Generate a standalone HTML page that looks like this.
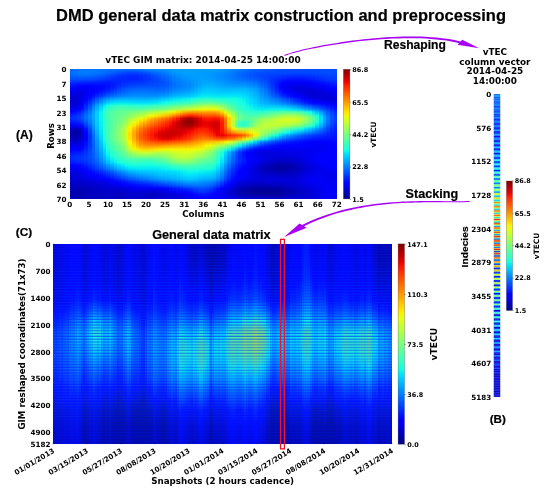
<!DOCTYPE html><html><head><meta charset="utf-8"><title>DMD general data matrix</title>
<style>html,body{margin:0;padding:0;background:#fff}svg{display:block}.d{font-family:"DejaVu Sans","Liberation Sans",sans-serif;font-weight:bold;fill:#000}.m{font-family:"Liberation Sans","DejaVu Sans",sans-serif;font-weight:bold;fill:#000;stroke:#000;stroke-width:.2px}</style></head><body>
<svg width="550" height="493" viewBox="0 0 550 493">
<rect width="550" height="493" fill="#fff"/>
<defs><linearGradient id="jet" x1="0" y1="0" x2="0" y2="1"><stop offset="0.000" stop-color="#800000"/><stop offset="0.031" stop-color="#a40000"/><stop offset="0.062" stop-color="#c80000"/><stop offset="0.094" stop-color="#ec0400"/><stop offset="0.125" stop-color="#ff2100"/><stop offset="0.156" stop-color="#ff3f00"/><stop offset="0.188" stop-color="#ff5c00"/><stop offset="0.219" stop-color="#ff7a00"/><stop offset="0.250" stop-color="#ff9700"/><stop offset="0.281" stop-color="#ffb500"/><stop offset="0.312" stop-color="#ffd200"/><stop offset="0.344" stop-color="#fcf000"/><stop offset="0.375" stop-color="#e2ff15"/><stop offset="0.406" stop-color="#c9ff2e"/><stop offset="0.438" stop-color="#afff48"/><stop offset="0.469" stop-color="#95ff62"/><stop offset="0.500" stop-color="#7bff7b"/><stop offset="0.531" stop-color="#62ff95"/><stop offset="0.562" stop-color="#48ffaf"/><stop offset="0.594" stop-color="#2effc9"/><stop offset="0.625" stop-color="#15ffe2"/><stop offset="0.656" stop-color="#00dffc"/><stop offset="0.688" stop-color="#00bfff"/><stop offset="0.719" stop-color="#009fff"/><stop offset="0.750" stop-color="#0080ff"/><stop offset="0.781" stop-color="#0060ff"/><stop offset="0.812" stop-color="#0040ff"/><stop offset="0.844" stop-color="#0020ff"/><stop offset="0.875" stop-color="#0000ff"/><stop offset="0.906" stop-color="#0000ec"/><stop offset="0.938" stop-color="#0000c8"/><stop offset="0.969" stop-color="#0000a4"/><stop offset="1.000" stop-color="#000080"/></linearGradient></defs>
<text class="m" x="281" y="21.4" font-size="17.3" text-anchor="middle" textLength="450" lengthAdjust="spacingAndGlyphs">DMD general data matrix construction and preprocessing</text>
<defs><linearGradient id="a0" x2="0" y2="1"><stop offset=".00" stop-color="#0066ff"/><stop offset=".03" stop-color="#006eff"/><stop offset=".05" stop-color="#0063ff"/><stop offset=".08" stop-color="#004dff"/><stop offset=".10" stop-color="#002fff"/><stop offset=".13" stop-color="#0010ff"/><stop offset=".15" stop-color="#0000ff"/><stop offset=".18" stop-color="#0000ec"/><stop offset=".21" stop-color="#0000de"/><stop offset=".23" stop-color="#0000d5"/><stop offset=".26" stop-color="#0000d2"/><stop offset=".28" stop-color="#0000d9"/><stop offset=".31" stop-color="#0000ef"/><stop offset=".33" stop-color="#0004ff"/><stop offset=".36" stop-color="#0024ff"/><stop offset=".38" stop-color="#002eff"/><stop offset=".41" stop-color="#0014ff"/><stop offset=".44" stop-color="#0000f4"/><stop offset=".46" stop-color="#0000c6"/><stop offset=".49" stop-color="#0000b1"/><stop offset=".51" stop-color="#0000b3"/><stop offset=".54" stop-color="#0000c1"/><stop offset=".56" stop-color="#0000d5"/><stop offset=".59" stop-color="#0000ec"/><stop offset=".62" stop-color="#0000ff"/><stop offset=".64" stop-color="#0010ff"/><stop offset=".67" stop-color="#0024ff"/><stop offset=".69" stop-color="#0028ff"/><stop offset=".72" stop-color="#0019ff"/><stop offset=".74" stop-color="#0000ff"/><stop offset=".77" stop-color="#0000f2"/><stop offset=".79" stop-color="#0000e1"/><stop offset=".82" stop-color="#0000d7"/><stop offset=".85" stop-color="#0000d1"/><stop offset=".87" stop-color="#0000c9"/><stop offset=".90" stop-color="#0000c0"/><stop offset=".92" stop-color="#0000b8"/><stop offset=".95" stop-color="#0000b3"/><stop offset=".97" stop-color="#0000b2"/><stop offset="1.00" stop-color="#0000b8"/></linearGradient><linearGradient id="a1" x2="0" y2="1"><stop offset=".00" stop-color="#006dff"/><stop offset=".03" stop-color="#0075ff"/><stop offset=".05" stop-color="#0068ff"/><stop offset=".08" stop-color="#004dff"/><stop offset=".10" stop-color="#002bff"/><stop offset=".13" stop-color="#0008ff"/><stop offset=".15" stop-color="#0000f8"/><stop offset=".18" stop-color="#0000e3"/><stop offset=".21" stop-color="#0000d7"/><stop offset=".23" stop-color="#0000d2"/><stop offset=".26" stop-color="#0000d2"/><stop offset=".28" stop-color="#0000da"/><stop offset=".31" stop-color="#0000f3"/><stop offset=".33" stop-color="#000aff"/><stop offset=".36" stop-color="#002bff"/><stop offset=".38" stop-color="#0033ff"/><stop offset=".41" stop-color="#0013ff"/><stop offset=".44" stop-color="#0000eb"/><stop offset=".46" stop-color="#0000b6"/><stop offset=".49" stop-color="#00009f"/><stop offset=".51" stop-color="#0000a3"/><stop offset=".54" stop-color="#0000b6"/><stop offset=".56" stop-color="#0000cd"/><stop offset=".59" stop-color="#0000e8"/><stop offset=".62" stop-color="#0000ff"/><stop offset=".64" stop-color="#0013ff"/><stop offset=".67" stop-color="#0029ff"/><stop offset=".69" stop-color="#002eff"/><stop offset=".72" stop-color="#001fff"/><stop offset=".74" stop-color="#0002ff"/><stop offset=".77" stop-color="#0000f4"/><stop offset=".79" stop-color="#0000e2"/><stop offset=".82" stop-color="#0000da"/><stop offset=".85" stop-color="#0000d4"/><stop offset=".87" stop-color="#0000cb"/><stop offset=".90" stop-color="#0000c1"/><stop offset=".92" stop-color="#0000b7"/><stop offset=".95" stop-color="#0000b1"/><stop offset=".97" stop-color="#0000b0"/><stop offset="1.00" stop-color="#0000b6"/></linearGradient><linearGradient id="a2" x2="0" y2="1"><stop offset=".00" stop-color="#0072ff"/><stop offset=".03" stop-color="#007aff"/><stop offset=".05" stop-color="#006bff"/><stop offset=".08" stop-color="#004dff"/><stop offset=".10" stop-color="#0028ff"/><stop offset=".13" stop-color="#0003ff"/><stop offset=".15" stop-color="#0000f3"/><stop offset=".18" stop-color="#0000e1"/><stop offset=".21" stop-color="#0000db"/><stop offset=".23" stop-color="#0000dc"/><stop offset=".26" stop-color="#0000e1"/><stop offset=".28" stop-color="#0000ed"/><stop offset=".31" stop-color="#0000ff"/><stop offset=".33" stop-color="#001bff"/><stop offset=".36" stop-color="#003aff"/><stop offset=".38" stop-color="#0040ff"/><stop offset=".41" stop-color="#0020ff"/><stop offset=".44" stop-color="#0000f9"/><stop offset=".46" stop-color="#0000c5"/><stop offset=".49" stop-color="#0000ae"/><stop offset=".51" stop-color="#0000b1"/><stop offset=".54" stop-color="#0000c2"/><stop offset=".56" stop-color="#0000d8"/><stop offset=".59" stop-color="#0000f2"/><stop offset=".62" stop-color="#0000ff"/><stop offset=".64" stop-color="#0019ff"/><stop offset=".67" stop-color="#002dff"/><stop offset=".69" stop-color="#0033ff"/><stop offset=".72" stop-color="#0024ff"/><stop offset=".74" stop-color="#0009ff"/><stop offset=".77" stop-color="#0000fc"/><stop offset=".79" stop-color="#0000e9"/><stop offset=".82" stop-color="#0000df"/><stop offset=".85" stop-color="#0000d7"/><stop offset=".87" stop-color="#0000cd"/><stop offset=".90" stop-color="#0000c2"/><stop offset=".92" stop-color="#0000b8"/><stop offset=".95" stop-color="#0000b1"/><stop offset=".97" stop-color="#0000b0"/><stop offset="1.00" stop-color="#0000b7"/></linearGradient><linearGradient id="a3" x2="0" y2="1"><stop offset=".00" stop-color="#0075ff"/><stop offset=".03" stop-color="#007cff"/><stop offset=".05" stop-color="#006cff"/><stop offset=".08" stop-color="#004dff"/><stop offset=".10" stop-color="#0026ff"/><stop offset=".13" stop-color="#0001ff"/><stop offset=".15" stop-color="#0000f3"/><stop offset=".18" stop-color="#0000e6"/><stop offset=".21" stop-color="#0000e7"/><stop offset=".23" stop-color="#0000f0"/><stop offset=".26" stop-color="#0000fc"/><stop offset=".28" stop-color="#0000ff"/><stop offset=".31" stop-color="#0014ff"/><stop offset=".33" stop-color="#0034ff"/><stop offset=".36" stop-color="#004fff"/><stop offset=".38" stop-color="#0053ff"/><stop offset=".41" stop-color="#0037ff"/><stop offset=".44" stop-color="#0009ff"/><stop offset=".46" stop-color="#0000ec"/><stop offset=".49" stop-color="#0000d6"/><stop offset=".51" stop-color="#0000d6"/><stop offset=".54" stop-color="#0000e2"/><stop offset=".56" stop-color="#0000f3"/><stop offset=".59" stop-color="#0000ff"/><stop offset=".62" stop-color="#000dff"/><stop offset=".64" stop-color="#0022ff"/><stop offset=".67" stop-color="#0033ff"/><stop offset=".69" stop-color="#0037ff"/><stop offset=".72" stop-color="#002aff"/><stop offset=".74" stop-color="#0012ff"/><stop offset=".77" stop-color="#0000ff"/><stop offset=".79" stop-color="#0000f4"/><stop offset=".82" stop-color="#0000e7"/><stop offset=".85" stop-color="#0000db"/><stop offset=".87" stop-color="#0000cf"/><stop offset=".90" stop-color="#0000c3"/><stop offset=".92" stop-color="#0000b9"/><stop offset=".95" stop-color="#0000b3"/><stop offset=".97" stop-color="#0000b2"/><stop offset="1.00" stop-color="#0000b9"/></linearGradient><linearGradient id="a4" x2="0" y2="1"><stop offset=".00" stop-color="#0076ff"/><stop offset=".03" stop-color="#007dff"/><stop offset=".05" stop-color="#006cff"/><stop offset=".08" stop-color="#004bff"/><stop offset=".10" stop-color="#0025ff"/><stop offset=".13" stop-color="#0001ff"/><stop offset=".15" stop-color="#0000f7"/><stop offset=".18" stop-color="#0000f0"/><stop offset=".21" stop-color="#0000f9"/><stop offset=".23" stop-color="#0000ff"/><stop offset=".26" stop-color="#000dff"/><stop offset=".28" stop-color="#0021ff"/><stop offset=".31" stop-color="#0039ff"/><stop offset=".33" stop-color="#0054ff"/><stop offset=".36" stop-color="#0069ff"/><stop offset=".38" stop-color="#006cff"/><stop offset=".41" stop-color="#0056ff"/><stop offset=".44" stop-color="#0032ff"/><stop offset=".46" stop-color="#0011ff"/><stop offset=".49" stop-color="#0000ff"/><stop offset=".51" stop-color="#0000ff"/><stop offset=".54" stop-color="#0000ff"/><stop offset=".56" stop-color="#0008ff"/><stop offset=".59" stop-color="#0014ff"/><stop offset=".62" stop-color="#0022ff"/><stop offset=".64" stop-color="#0031ff"/><stop offset=".67" stop-color="#003cff"/><stop offset=".69" stop-color="#003eff"/><stop offset=".72" stop-color="#0032ff"/><stop offset=".74" stop-color="#001dff"/><stop offset=".77" stop-color="#0007ff"/><stop offset=".79" stop-color="#0000ff"/><stop offset=".82" stop-color="#0000f1"/><stop offset=".85" stop-color="#0000e1"/><stop offset=".87" stop-color="#0000d2"/><stop offset=".90" stop-color="#0000c5"/><stop offset=".92" stop-color="#0000bc"/><stop offset=".95" stop-color="#0000b6"/><stop offset=".97" stop-color="#0000b6"/><stop offset="1.00" stop-color="#0000bc"/></linearGradient><linearGradient id="a5" x2="0" y2="1"><stop offset=".00" stop-color="#0076ff"/><stop offset=".03" stop-color="#007cff"/><stop offset=".05" stop-color="#006aff"/><stop offset=".08" stop-color="#0049ff"/><stop offset=".10" stop-color="#0024ff"/><stop offset=".13" stop-color="#0002ff"/><stop offset=".15" stop-color="#0000fd"/><stop offset=".18" stop-color="#0000fd"/><stop offset=".21" stop-color="#0000ff"/><stop offset=".23" stop-color="#0017ff"/><stop offset=".26" stop-color="#0031ff"/><stop offset=".28" stop-color="#004bff"/><stop offset=".31" stop-color="#0063ff"/><stop offset=".33" stop-color="#0079ff"/><stop offset=".36" stop-color="#0088ff"/><stop offset=".38" stop-color="#0089ff"/><stop offset=".41" stop-color="#007aff"/><stop offset=".44" stop-color="#0062ff"/><stop offset=".46" stop-color="#004bff"/><stop offset=".49" stop-color="#003bff"/><stop offset=".51" stop-color="#0033ff"/><stop offset=".54" stop-color="#0031ff"/><stop offset=".56" stop-color="#0033ff"/><stop offset=".59" stop-color="#0037ff"/><stop offset=".62" stop-color="#003eff"/><stop offset=".64" stop-color="#0045ff"/><stop offset=".67" stop-color="#004aff"/><stop offset=".69" stop-color="#0048ff"/><stop offset=".72" stop-color="#003eff"/><stop offset=".74" stop-color="#002cff"/><stop offset=".77" stop-color="#0017ff"/><stop offset=".79" stop-color="#0002ff"/><stop offset=".82" stop-color="#0000fc"/><stop offset=".85" stop-color="#0000e7"/><stop offset=".87" stop-color="#0000d6"/><stop offset=".90" stop-color="#0000c8"/><stop offset=".92" stop-color="#0000bf"/><stop offset=".95" stop-color="#0000ba"/><stop offset=".97" stop-color="#0000ba"/><stop offset="1.00" stop-color="#0000c0"/></linearGradient><linearGradient id="a6" x2="0" y2="1"><stop offset=".00" stop-color="#0076ff"/><stop offset=".03" stop-color="#0079ff"/><stop offset=".05" stop-color="#0066ff"/><stop offset=".08" stop-color="#0046ff"/><stop offset=".10" stop-color="#0022ff"/><stop offset=".13" stop-color="#0004ff"/><stop offset=".15" stop-color="#0000ff"/><stop offset=".18" stop-color="#0000ff"/><stop offset=".21" stop-color="#0014ff"/><stop offset=".23" stop-color="#0035ff"/><stop offset=".26" stop-color="#0057ff"/><stop offset=".28" stop-color="#0076ff"/><stop offset=".31" stop-color="#0090ff"/><stop offset=".33" stop-color="#00a1ff"/><stop offset=".36" stop-color="#00aaff"/><stop offset=".38" stop-color="#00aaff"/><stop offset=".41" stop-color="#00a2ff"/><stop offset=".44" stop-color="#0095ff"/><stop offset=".46" stop-color="#0086ff"/><stop offset=".49" stop-color="#0079ff"/><stop offset=".51" stop-color="#006fff"/><stop offset=".54" stop-color="#0067ff"/><stop offset=".56" stop-color="#0063ff"/><stop offset=".59" stop-color="#0061ff"/><stop offset=".62" stop-color="#0060ff"/><stop offset=".64" stop-color="#0060ff"/><stop offset=".67" stop-color="#005eff"/><stop offset=".69" stop-color="#0059ff"/><stop offset=".72" stop-color="#004eff"/><stop offset=".74" stop-color="#003eff"/><stop offset=".77" stop-color="#0029ff"/><stop offset=".79" stop-color="#0011ff"/><stop offset=".82" stop-color="#0000ff"/><stop offset=".85" stop-color="#0000ee"/><stop offset=".87" stop-color="#0000da"/><stop offset=".90" stop-color="#0000cb"/><stop offset=".92" stop-color="#0000c2"/><stop offset=".95" stop-color="#0000be"/><stop offset=".97" stop-color="#0000bf"/><stop offset="1.00" stop-color="#0000c3"/></linearGradient><linearGradient id="a7" x2="0" y2="1"><stop offset=".00" stop-color="#0075ff"/><stop offset=".03" stop-color="#0075ff"/><stop offset=".05" stop-color="#0061ff"/><stop offset=".08" stop-color="#0041ff"/><stop offset=".10" stop-color="#0020ff"/><stop offset=".13" stop-color="#0006ff"/><stop offset=".15" stop-color="#0000ff"/><stop offset=".18" stop-color="#000aff"/><stop offset=".21" stop-color="#002aff"/><stop offset=".23" stop-color="#0052ff"/><stop offset=".26" stop-color="#007bff"/><stop offset=".28" stop-color="#00a0ff"/><stop offset=".31" stop-color="#00bbff"/><stop offset=".33" stop-color="#00caff"/><stop offset=".36" stop-color="#00cfff"/><stop offset=".38" stop-color="#00ceff"/><stop offset=".41" stop-color="#00cbff"/><stop offset=".44" stop-color="#00c5ff"/><stop offset=".46" stop-color="#00bdff"/><stop offset=".49" stop-color="#00b3ff"/><stop offset=".51" stop-color="#00a9ff"/><stop offset=".54" stop-color="#009fff"/><stop offset=".56" stop-color="#0096ff"/><stop offset=".59" stop-color="#008fff"/><stop offset=".62" stop-color="#0088ff"/><stop offset=".64" stop-color="#0081ff"/><stop offset=".67" stop-color="#007aff"/><stop offset=".69" stop-color="#0071ff"/><stop offset=".72" stop-color="#0064ff"/><stop offset=".74" stop-color="#0052ff"/><stop offset=".77" stop-color="#003cff"/><stop offset=".79" stop-color="#0020ff"/><stop offset=".82" stop-color="#0002ff"/><stop offset=".85" stop-color="#0000f5"/><stop offset=".87" stop-color="#0000de"/><stop offset=".90" stop-color="#0000cf"/><stop offset=".92" stop-color="#0000c6"/><stop offset=".95" stop-color="#0000c2"/><stop offset=".97" stop-color="#0000c2"/><stop offset="1.00" stop-color="#0000c5"/></linearGradient><linearGradient id="a8" x2="0" y2="1"><stop offset=".00" stop-color="#0075ff"/><stop offset=".03" stop-color="#0071ff"/><stop offset=".05" stop-color="#005bff"/><stop offset=".08" stop-color="#003cff"/><stop offset=".10" stop-color="#001dff"/><stop offset=".13" stop-color="#0007ff"/><stop offset=".15" stop-color="#0003ff"/><stop offset=".18" stop-color="#0018ff"/><stop offset=".21" stop-color="#003eff"/><stop offset=".23" stop-color="#006dff"/><stop offset=".26" stop-color="#009cff"/><stop offset=".28" stop-color="#00c6ff"/><stop offset=".31" stop-color="#00e3f9"/><stop offset=".33" stop-color="#0af2ed"/><stop offset=".36" stop-color="#0df5ea"/><stop offset=".38" stop-color="#0bf3ec"/><stop offset=".41" stop-color="#09f1ed"/><stop offset=".44" stop-color="#07efef"/><stop offset=".46" stop-color="#04ebf2"/><stop offset=".49" stop-color="#00e5f7"/><stop offset=".51" stop-color="#00defd"/><stop offset=".54" stop-color="#00d4ff"/><stop offset=".56" stop-color="#00caff"/><stop offset=".59" stop-color="#00bfff"/><stop offset=".62" stop-color="#00b4ff"/><stop offset=".64" stop-color="#00a9ff"/><stop offset=".67" stop-color="#009eff"/><stop offset=".69" stop-color="#0091ff"/><stop offset=".72" stop-color="#0080ff"/><stop offset=".74" stop-color="#006aff"/><stop offset=".77" stop-color="#004fff"/><stop offset=".79" stop-color="#002eff"/><stop offset=".82" stop-color="#000dff"/><stop offset=".85" stop-color="#0000fd"/><stop offset=".87" stop-color="#0000e3"/><stop offset=".90" stop-color="#0000d3"/><stop offset=".92" stop-color="#0000c9"/><stop offset=".95" stop-color="#0000c5"/><stop offset=".97" stop-color="#0000c5"/><stop offset="1.00" stop-color="#0000c6"/></linearGradient><linearGradient id="a9" x2="0" y2="1"><stop offset=".00" stop-color="#0075ff"/><stop offset=".03" stop-color="#006bff"/><stop offset=".05" stop-color="#0054ff"/><stop offset=".08" stop-color="#0036ff"/><stop offset=".10" stop-color="#001aff"/><stop offset=".13" stop-color="#0009ff"/><stop offset=".15" stop-color="#000bff"/><stop offset=".18" stop-color="#0025ff"/><stop offset=".21" stop-color="#0050ff"/><stop offset=".23" stop-color="#0085ff"/><stop offset=".26" stop-color="#00b9ff"/><stop offset=".28" stop-color="#00e6f6"/><stop offset=".31" stop-color="#1affdc"/><stop offset=".33" stop-color="#27ffd0"/><stop offset=".36" stop-color="#2affcd"/><stop offset=".38" stop-color="#28ffcf"/><stop offset=".41" stop-color="#26ffd1"/><stop offset=".44" stop-color="#25ffd2"/><stop offset=".46" stop-color="#24ffd3"/><stop offset=".49" stop-color="#22ffd5"/><stop offset=".51" stop-color="#1fffd7"/><stop offset=".54" stop-color="#1affdd"/><stop offset=".56" stop-color="#11fbe5"/><stop offset=".59" stop-color="#07eef0"/><stop offset=".62" stop-color="#00e0fb"/><stop offset=".64" stop-color="#00d3ff"/><stop offset=".67" stop-color="#00c5ff"/><stop offset=".69" stop-color="#00b4ff"/><stop offset=".72" stop-color="#009eff"/><stop offset=".74" stop-color="#0083ff"/><stop offset=".77" stop-color="#0062ff"/><stop offset=".79" stop-color="#003dff"/><stop offset=".82" stop-color="#0017ff"/><stop offset=".85" stop-color="#0000ff"/><stop offset=".87" stop-color="#0000ea"/><stop offset=".90" stop-color="#0000d8"/><stop offset=".92" stop-color="#0000cd"/><stop offset=".95" stop-color="#0000c7"/><stop offset=".97" stop-color="#0000c6"/><stop offset="1.00" stop-color="#0000c6"/></linearGradient><linearGradient id="a10" x2="0" y2="1"><stop offset=".00" stop-color="#0075ff"/><stop offset=".03" stop-color="#0065ff"/><stop offset=".05" stop-color="#004cff"/><stop offset=".08" stop-color="#0030ff"/><stop offset=".10" stop-color="#0019ff"/><stop offset=".13" stop-color="#000dff"/><stop offset=".15" stop-color="#0014ff"/><stop offset=".18" stop-color="#0032ff"/><stop offset=".21" stop-color="#0060ff"/><stop offset=".23" stop-color="#0097ff"/><stop offset=".26" stop-color="#00cfff"/><stop offset=".28" stop-color="#15ffe2"/><stop offset=".31" stop-color="#31ffc5"/><stop offset=".33" stop-color="#3fffb8"/><stop offset=".36" stop-color="#42ffb4"/><stop offset=".38" stop-color="#41ffb6"/><stop offset=".41" stop-color="#3fffb8"/><stop offset=".44" stop-color="#3effb8"/><stop offset=".46" stop-color="#3fffb8"/><stop offset=".49" stop-color="#40ffb7"/><stop offset=".51" stop-color="#40ffb7"/><stop offset=".54" stop-color="#3dffba"/><stop offset=".56" stop-color="#34ffc3"/><stop offset=".59" stop-color="#29ffce"/><stop offset=".62" stop-color="#1cffda"/><stop offset=".64" stop-color="#11fae6"/><stop offset=".67" stop-color="#04ebf2"/><stop offset=".69" stop-color="#00d7ff"/><stop offset=".72" stop-color="#00bdff"/><stop offset=".74" stop-color="#009cff"/><stop offset=".77" stop-color="#0076ff"/><stop offset=".79" stop-color="#004dff"/><stop offset=".82" stop-color="#0024ff"/><stop offset=".85" stop-color="#0000ff"/><stop offset=".87" stop-color="#0000f2"/><stop offset=".90" stop-color="#0000dd"/><stop offset=".92" stop-color="#0000cf"/><stop offset=".95" stop-color="#0000c8"/><stop offset=".97" stop-color="#0000c6"/><stop offset="1.00" stop-color="#0000c5"/></linearGradient><linearGradient id="a11" x2="0" y2="1"><stop offset=".00" stop-color="#0075ff"/><stop offset=".03" stop-color="#005eff"/><stop offset=".05" stop-color="#0044ff"/><stop offset=".08" stop-color="#002cff"/><stop offset=".10" stop-color="#001bff"/><stop offset=".13" stop-color="#0015ff"/><stop offset=".15" stop-color="#0021ff"/><stop offset=".18" stop-color="#0040ff"/><stop offset=".21" stop-color="#006eff"/><stop offset=".23" stop-color="#00a5ff"/><stop offset=".26" stop-color="#00defd"/><stop offset=".28" stop-color="#23ffd4"/><stop offset=".31" stop-color="#42ffb5"/><stop offset=".33" stop-color="#51ffa6"/><stop offset=".36" stop-color="#54ffa2"/><stop offset=".38" stop-color="#53ffa3"/><stop offset=".41" stop-color="#53ffa3"/><stop offset=".44" stop-color="#55ffa2"/><stop offset=".46" stop-color="#57ffa0"/><stop offset=".49" stop-color="#5aff9d"/><stop offset=".51" stop-color="#5cff9b"/><stop offset=".54" stop-color="#59ff9e"/><stop offset=".56" stop-color="#50ffa7"/><stop offset=".59" stop-color="#44ffb3"/><stop offset=".62" stop-color="#37ffc0"/><stop offset=".64" stop-color="#2affcc"/><stop offset=".67" stop-color="#1dffd9"/><stop offset=".69" stop-color="#0cf5ea"/><stop offset=".72" stop-color="#00d8ff"/><stop offset=".74" stop-color="#00b4ff"/><stop offset=".77" stop-color="#008bff"/><stop offset=".79" stop-color="#005fff"/><stop offset=".82" stop-color="#0033ff"/><stop offset=".85" stop-color="#000cff"/><stop offset=".87" stop-color="#0000fc"/><stop offset=".90" stop-color="#0000e3"/><stop offset=".92" stop-color="#0000d2"/><stop offset=".95" stop-color="#0000c8"/><stop offset=".97" stop-color="#0000c4"/><stop offset="1.00" stop-color="#0000c4"/></linearGradient><linearGradient id="a12" x2="0" y2="1"><stop offset=".00" stop-color="#0076ff"/><stop offset=".03" stop-color="#0056ff"/><stop offset=".05" stop-color="#003bff"/><stop offset=".08" stop-color="#0028ff"/><stop offset=".10" stop-color="#001eff"/><stop offset=".13" stop-color="#0020ff"/><stop offset=".15" stop-color="#002fff"/><stop offset=".18" stop-color="#004eff"/><stop offset=".21" stop-color="#0078ff"/><stop offset=".23" stop-color="#00adff"/><stop offset=".26" stop-color="#00e6f7"/><stop offset=".28" stop-color="#2bffcb"/><stop offset=".31" stop-color="#4bffab"/><stop offset=".33" stop-color="#5bff9b"/><stop offset=".36" stop-color="#60ff97"/><stop offset=".38" stop-color="#61ff96"/><stop offset=".41" stop-color="#64ff93"/><stop offset=".44" stop-color="#69ff8d"/><stop offset=".46" stop-color="#6fff88"/><stop offset=".49" stop-color="#73ff83"/><stop offset=".51" stop-color="#74ff82"/><stop offset=".54" stop-color="#71ff86"/><stop offset=".56" stop-color="#67ff90"/><stop offset=".59" stop-color="#5aff9d"/><stop offset=".62" stop-color="#4bffab"/><stop offset=".64" stop-color="#3effb8"/><stop offset=".67" stop-color="#30ffc6"/><stop offset=".69" stop-color="#1fffd8"/><stop offset=".72" stop-color="#07eef0"/><stop offset=".74" stop-color="#00caff"/><stop offset=".77" stop-color="#00a0ff"/><stop offset=".79" stop-color="#0072ff"/><stop offset=".82" stop-color="#0044ff"/><stop offset=".85" stop-color="#001aff"/><stop offset=".87" stop-color="#0000ff"/><stop offset=".90" stop-color="#0000e9"/><stop offset=".92" stop-color="#0000d4"/><stop offset=".95" stop-color="#0000c7"/><stop offset=".97" stop-color="#0000c2"/><stop offset="1.00" stop-color="#0000c4"/></linearGradient><linearGradient id="a13" x2="0" y2="1"><stop offset=".00" stop-color="#0076ff"/><stop offset=".03" stop-color="#004eff"/><stop offset=".05" stop-color="#0034ff"/><stop offset=".08" stop-color="#0026ff"/><stop offset=".10" stop-color="#0023ff"/><stop offset=".13" stop-color="#002cff"/><stop offset=".15" stop-color="#003eff"/><stop offset=".18" stop-color="#005bff"/><stop offset=".21" stop-color="#0081ff"/><stop offset=".23" stop-color="#00b1ff"/><stop offset=".26" stop-color="#03e9f4"/><stop offset=".28" stop-color="#2fffc8"/><stop offset=".31" stop-color="#50ffa6"/><stop offset=".33" stop-color="#62ff95"/><stop offset=".36" stop-color="#68ff8f"/><stop offset=".38" stop-color="#6cff8a"/><stop offset=".41" stop-color="#75ff82"/><stop offset=".44" stop-color="#80ff77"/><stop offset=".46" stop-color="#8aff6d"/><stop offset=".49" stop-color="#8fff68"/><stop offset=".51" stop-color="#8fff68"/><stop offset=".54" stop-color="#8aff6d"/><stop offset=".56" stop-color="#7fff78"/><stop offset=".59" stop-color="#70ff87"/><stop offset=".62" stop-color="#60ff97"/><stop offset=".64" stop-color="#50ffa6"/><stop offset=".67" stop-color="#40ffb7"/><stop offset=".69" stop-color="#2dffca"/><stop offset=".72" stop-color="#16ffe1"/><stop offset=".74" stop-color="#00ddfd"/><stop offset=".77" stop-color="#00b4ff"/><stop offset=".79" stop-color="#0086ff"/><stop offset=".82" stop-color="#0055ff"/><stop offset=".85" stop-color="#0028ff"/><stop offset=".87" stop-color="#0002ff"/><stop offset=".90" stop-color="#0000f0"/><stop offset=".92" stop-color="#0000d7"/><stop offset=".95" stop-color="#0000c7"/><stop offset=".97" stop-color="#0000c0"/><stop offset="1.00" stop-color="#0000c4"/></linearGradient><linearGradient id="a14" x2="0" y2="1"><stop offset=".00" stop-color="#0075ff"/><stop offset=".03" stop-color="#0047ff"/><stop offset=".05" stop-color="#002dff"/><stop offset=".08" stop-color="#0024ff"/><stop offset=".10" stop-color="#0028ff"/><stop offset=".13" stop-color="#0036ff"/><stop offset=".15" stop-color="#004bff"/><stop offset=".18" stop-color="#0066ff"/><stop offset=".21" stop-color="#0087ff"/><stop offset=".23" stop-color="#00b2ff"/><stop offset=".26" stop-color="#02e8f4"/><stop offset=".28" stop-color="#2fffc8"/><stop offset=".31" stop-color="#52ffa5"/><stop offset=".33" stop-color="#66ff91"/><stop offset=".36" stop-color="#70ff86"/><stop offset=".38" stop-color="#7aff7d"/><stop offset=".41" stop-color="#89ff6e"/><stop offset=".44" stop-color="#9bff5c"/><stop offset=".46" stop-color="#a9ff4e"/><stop offset=".49" stop-color="#b0ff46"/><stop offset=".51" stop-color="#b0ff47"/><stop offset=".54" stop-color="#a9ff4e"/><stop offset=".56" stop-color="#9cff5a"/><stop offset=".59" stop-color="#8cff6b"/><stop offset=".62" stop-color="#78ff7e"/><stop offset=".64" stop-color="#64ff93"/><stop offset=".67" stop-color="#4fffa8"/><stop offset=".69" stop-color="#39ffbe"/><stop offset=".72" stop-color="#21ffd6"/><stop offset=".74" stop-color="#06edf1"/><stop offset=".77" stop-color="#00c5ff"/><stop offset=".79" stop-color="#0097ff"/><stop offset=".82" stop-color="#0066ff"/><stop offset=".85" stop-color="#0037ff"/><stop offset=".87" stop-color="#000dff"/><stop offset=".90" stop-color="#0000f9"/><stop offset=".92" stop-color="#0000dc"/><stop offset=".95" stop-color="#0000c9"/><stop offset=".97" stop-color="#0000c1"/><stop offset="1.00" stop-color="#0000c5"/></linearGradient><linearGradient id="a15" x2="0" y2="1"><stop offset=".00" stop-color="#0074ff"/><stop offset=".03" stop-color="#0042ff"/><stop offset=".05" stop-color="#0028ff"/><stop offset=".08" stop-color="#0022ff"/><stop offset=".10" stop-color="#002bff"/><stop offset=".13" stop-color="#003eff"/><stop offset=".15" stop-color="#0055ff"/><stop offset=".18" stop-color="#006eff"/><stop offset=".21" stop-color="#008cff"/><stop offset=".23" stop-color="#00b3ff"/><stop offset=".26" stop-color="#01e7f6"/><stop offset=".28" stop-color="#2dffca"/><stop offset=".31" stop-color="#52ffa5"/><stop offset=".33" stop-color="#6aff8c"/><stop offset=".36" stop-color="#7bff7c"/><stop offset=".38" stop-color="#8cff6b"/><stop offset=".41" stop-color="#a3ff54"/><stop offset=".44" stop-color="#bcff3b"/><stop offset=".46" stop-color="#d0ff27"/><stop offset=".49" stop-color="#daff1d"/><stop offset=".51" stop-color="#daff1c"/><stop offset=".54" stop-color="#d3ff24"/><stop offset=".56" stop-color="#c5ff32"/><stop offset=".59" stop-color="#b2ff45"/><stop offset=".62" stop-color="#99ff5e"/><stop offset=".64" stop-color="#7dff7a"/><stop offset=".67" stop-color="#5fff98"/><stop offset=".69" stop-color="#42ffb5"/><stop offset=".72" stop-color="#28ffce"/><stop offset=".74" stop-color="#0ff8e8"/><stop offset=".77" stop-color="#00d3ff"/><stop offset=".79" stop-color="#00a6ff"/><stop offset=".82" stop-color="#0075ff"/><stop offset=".85" stop-color="#0044ff"/><stop offset=".87" stop-color="#0018ff"/><stop offset=".90" stop-color="#0000ff"/><stop offset=".92" stop-color="#0000e2"/><stop offset=".95" stop-color="#0000cd"/><stop offset=".97" stop-color="#0000c4"/><stop offset="1.00" stop-color="#0000c8"/></linearGradient><linearGradient id="a16" x2="0" y2="1"><stop offset=".00" stop-color="#0073ff"/><stop offset=".03" stop-color="#003fff"/><stop offset=".05" stop-color="#0025ff"/><stop offset=".08" stop-color="#0022ff"/><stop offset=".10" stop-color="#002dff"/><stop offset=".13" stop-color="#0043ff"/><stop offset=".15" stop-color="#005bff"/><stop offset=".18" stop-color="#0073ff"/><stop offset=".21" stop-color="#008fff"/><stop offset=".23" stop-color="#00b3ff"/><stop offset=".26" stop-color="#00e4f8"/><stop offset=".28" stop-color="#2affcd"/><stop offset=".31" stop-color="#52ffa5"/><stop offset=".33" stop-color="#70ff87"/><stop offset=".36" stop-color="#88ff6e"/><stop offset=".38" stop-color="#a2ff55"/><stop offset=".41" stop-color="#c2ff35"/><stop offset=".44" stop-color="#e1ff15"/><stop offset=".46" stop-color="#fbf100"/><stop offset=".49" stop-color="#ffe200"/><stop offset=".51" stop-color="#ffdf00"/><stop offset=".54" stop-color="#ffe800"/><stop offset=".56" stop-color="#f4f903"/><stop offset=".59" stop-color="#ddff1a"/><stop offset=".62" stop-color="#beff39"/><stop offset=".64" stop-color="#98ff5f"/><stop offset=".67" stop-color="#6fff88"/><stop offset=".69" stop-color="#4affad"/><stop offset=".72" stop-color="#2dffc9"/><stop offset=".74" stop-color="#14ffe2"/><stop offset=".77" stop-color="#00ddfe"/><stop offset=".79" stop-color="#00b2ff"/><stop offset=".82" stop-color="#0081ff"/><stop offset=".85" stop-color="#004fff"/><stop offset=".87" stop-color="#0023ff"/><stop offset=".90" stop-color="#0000ff"/><stop offset=".92" stop-color="#0000ea"/><stop offset=".95" stop-color="#0000d2"/><stop offset=".97" stop-color="#0000c8"/><stop offset="1.00" stop-color="#0000cc"/></linearGradient><linearGradient id="a17" x2="0" y2="1"><stop offset=".00" stop-color="#0074ff"/><stop offset=".03" stop-color="#003eff"/><stop offset=".05" stop-color="#0025ff"/><stop offset=".08" stop-color="#0022ff"/><stop offset=".10" stop-color="#002fff"/><stop offset=".13" stop-color="#0046ff"/><stop offset=".15" stop-color="#005fff"/><stop offset=".18" stop-color="#0077ff"/><stop offset=".21" stop-color="#0091ff"/><stop offset=".23" stop-color="#00b3ff"/><stop offset=".26" stop-color="#00e1fa"/><stop offset=".28" stop-color="#27ffcf"/><stop offset=".31" stop-color="#51ffa5"/><stop offset=".33" stop-color="#76ff81"/><stop offset=".36" stop-color="#98ff5f"/><stop offset=".38" stop-color="#bbff3c"/><stop offset=".41" stop-color="#e2ff15"/><stop offset=".44" stop-color="#ffe300"/><stop offset=".46" stop-color="#ffc100"/><stop offset=".49" stop-color="#ffae00"/><stop offset=".51" stop-color="#ffa900"/><stop offset=".54" stop-color="#ffb100"/><stop offset=".56" stop-color="#ffc400"/><stop offset=".59" stop-color="#ffe300"/><stop offset=".62" stop-color="#e1ff15"/><stop offset=".64" stop-color="#b1ff46"/><stop offset=".67" stop-color="#7dff7a"/><stop offset=".69" stop-color="#50ffa7"/><stop offset=".72" stop-color="#30ffc7"/><stop offset=".74" stop-color="#17ffdf"/><stop offset=".77" stop-color="#00e3f9"/><stop offset=".79" stop-color="#00baff"/><stop offset=".82" stop-color="#008bff"/><stop offset=".85" stop-color="#005aff"/><stop offset=".87" stop-color="#002cff"/><stop offset=".90" stop-color="#0004ff"/><stop offset=".92" stop-color="#0000f0"/><stop offset=".95" stop-color="#0000d7"/><stop offset=".97" stop-color="#0000cb"/><stop offset="1.00" stop-color="#0000cf"/></linearGradient><linearGradient id="a18" x2="0" y2="1"><stop offset=".00" stop-color="#0076ff"/><stop offset=".03" stop-color="#0040ff"/><stop offset=".05" stop-color="#0027ff"/><stop offset=".08" stop-color="#0024ff"/><stop offset=".10" stop-color="#0032ff"/><stop offset=".13" stop-color="#0048ff"/><stop offset=".15" stop-color="#0061ff"/><stop offset=".18" stop-color="#0078ff"/><stop offset=".21" stop-color="#0091ff"/><stop offset=".23" stop-color="#00b2ff"/><stop offset=".26" stop-color="#00dffc"/><stop offset=".28" stop-color="#26ffd1"/><stop offset=".31" stop-color="#53ffa4"/><stop offset=".33" stop-color="#7eff79"/><stop offset=".36" stop-color="#a9ff4e"/><stop offset=".38" stop-color="#d4ff23"/><stop offset=".41" stop-color="#ffeb00"/><stop offset=".44" stop-color="#ffbc00"/><stop offset=".46" stop-color="#ff9700"/><stop offset=".49" stop-color="#ff8200"/><stop offset=".51" stop-color="#ff7b00"/><stop offset=".54" stop-color="#ff8300"/><stop offset=".56" stop-color="#ff9800"/><stop offset=".59" stop-color="#ffbc00"/><stop offset=".62" stop-color="#fcef00"/><stop offset=".64" stop-color="#c3ff34"/><stop offset=".67" stop-color="#87ff70"/><stop offset=".69" stop-color="#53ffa4"/><stop offset=".72" stop-color="#30ffc7"/><stop offset=".74" stop-color="#18ffdf"/><stop offset=".77" stop-color="#00e6f6"/><stop offset=".79" stop-color="#00c0ff"/><stop offset=".82" stop-color="#0093ff"/><stop offset=".85" stop-color="#0063ff"/><stop offset=".87" stop-color="#0034ff"/><stop offset=".90" stop-color="#000aff"/><stop offset=".92" stop-color="#0000f4"/><stop offset=".95" stop-color="#0000d8"/><stop offset=".97" stop-color="#0000cb"/><stop offset="1.00" stop-color="#0000d1"/></linearGradient><linearGradient id="a19" x2="0" y2="1"><stop offset=".00" stop-color="#007bff"/><stop offset=".03" stop-color="#0045ff"/><stop offset=".05" stop-color="#002cff"/><stop offset=".08" stop-color="#0029ff"/><stop offset=".10" stop-color="#0035ff"/><stop offset=".13" stop-color="#004aff"/><stop offset=".15" stop-color="#0062ff"/><stop offset=".18" stop-color="#0079ff"/><stop offset=".21" stop-color="#0091ff"/><stop offset=".23" stop-color="#00b1ff"/><stop offset=".26" stop-color="#00defd"/><stop offset=".28" stop-color="#26ffd1"/><stop offset=".31" stop-color="#56ffa1"/><stop offset=".33" stop-color="#88ff6f"/><stop offset=".36" stop-color="#baff3c"/><stop offset=".38" stop-color="#ecff0b"/><stop offset=".41" stop-color="#ffcc00"/><stop offset=".44" stop-color="#ff9c00"/><stop offset=".46" stop-color="#ff7700"/><stop offset=".49" stop-color="#ff6000"/><stop offset=".51" stop-color="#ff5900"/><stop offset=".54" stop-color="#ff6200"/><stop offset=".56" stop-color="#ff7a00"/><stop offset=".59" stop-color="#ffa300"/><stop offset=".62" stop-color="#ffdd00"/><stop offset=".64" stop-color="#cdff2a"/><stop offset=".67" stop-color="#8bff6c"/><stop offset=".69" stop-color="#53ffa4"/><stop offset=".72" stop-color="#2fffc8"/><stop offset=".74" stop-color="#17ffe0"/><stop offset=".77" stop-color="#01e7f6"/><stop offset=".79" stop-color="#00c4ff"/><stop offset=".82" stop-color="#009aff"/><stop offset=".85" stop-color="#006cff"/><stop offset=".87" stop-color="#003cff"/><stop offset=".90" stop-color="#000eff"/><stop offset=".92" stop-color="#0000f4"/><stop offset=".95" stop-color="#0000d5"/><stop offset=".97" stop-color="#0000c8"/><stop offset="1.00" stop-color="#0000d1"/></linearGradient><linearGradient id="a20" x2="0" y2="1"><stop offset=".00" stop-color="#0081ff"/><stop offset=".03" stop-color="#004dff"/><stop offset=".05" stop-color="#0033ff"/><stop offset=".08" stop-color="#002fff"/><stop offset=".10" stop-color="#0039ff"/><stop offset=".13" stop-color="#004cff"/><stop offset=".15" stop-color="#0062ff"/><stop offset=".18" stop-color="#0078ff"/><stop offset=".21" stop-color="#0090ff"/><stop offset=".23" stop-color="#00b1ff"/><stop offset=".26" stop-color="#00defd"/><stop offset=".28" stop-color="#27ffd0"/><stop offset=".31" stop-color="#5bff9c"/><stop offset=".33" stop-color="#93ff64"/><stop offset=".36" stop-color="#ccff2b"/><stop offset=".38" stop-color="#ffe800"/><stop offset=".41" stop-color="#ffb000"/><stop offset=".44" stop-color="#ff8100"/><stop offset=".46" stop-color="#ff5e00"/><stop offset=".49" stop-color="#ff4700"/><stop offset=".51" stop-color="#ff3f00"/><stop offset=".54" stop-color="#ff4900"/><stop offset=".56" stop-color="#ff6700"/><stop offset=".59" stop-color="#ff9600"/><stop offset=".62" stop-color="#ffd600"/><stop offset=".64" stop-color="#cfff28"/><stop offset=".67" stop-color="#8bff6c"/><stop offset=".69" stop-color="#52ffa4"/><stop offset=".72" stop-color="#2dffca"/><stop offset=".74" stop-color="#15ffe2"/><stop offset=".77" stop-color="#00e6f6"/><stop offset=".79" stop-color="#00c7ff"/><stop offset=".82" stop-color="#00a1ff"/><stop offset=".85" stop-color="#0074ff"/><stop offset=".87" stop-color="#0042ff"/><stop offset=".90" stop-color="#0011ff"/><stop offset=".92" stop-color="#0000f3"/><stop offset=".95" stop-color="#0000d1"/><stop offset=".97" stop-color="#0000c3"/><stop offset="1.00" stop-color="#0000d0"/></linearGradient><linearGradient id="a21" x2="0" y2="1"><stop offset=".00" stop-color="#0088ff"/><stop offset=".03" stop-color="#0056ff"/><stop offset=".05" stop-color="#003cff"/><stop offset=".08" stop-color="#0035ff"/><stop offset=".10" stop-color="#003dff"/><stop offset=".13" stop-color="#004dff"/><stop offset=".15" stop-color="#0062ff"/><stop offset=".18" stop-color="#0077ff"/><stop offset=".21" stop-color="#0090ff"/><stop offset=".23" stop-color="#00b2ff"/><stop offset=".26" stop-color="#00dffc"/><stop offset=".28" stop-color="#29ffcd"/><stop offset=".31" stop-color="#60ff96"/><stop offset=".33" stop-color="#9eff59"/><stop offset=".36" stop-color="#ddff19"/><stop offset=".38" stop-color="#ffcf00"/><stop offset=".41" stop-color="#ff9800"/><stop offset=".44" stop-color="#ff6b00"/><stop offset=".46" stop-color="#ff4900"/><stop offset=".49" stop-color="#ff3200"/><stop offset=".51" stop-color="#ff2a00"/><stop offset=".54" stop-color="#ff3600"/><stop offset=".56" stop-color="#ff5a00"/><stop offset=".59" stop-color="#ff9100"/><stop offset=".62" stop-color="#ffd700"/><stop offset=".64" stop-color="#cdff2a"/><stop offset=".67" stop-color="#8aff6d"/><stop offset=".69" stop-color="#52ffa5"/><stop offset=".72" stop-color="#2dffca"/><stop offset=".74" stop-color="#14fee3"/><stop offset=".77" stop-color="#00e5f7"/><stop offset=".79" stop-color="#00c9ff"/><stop offset=".82" stop-color="#00a7ff"/><stop offset=".85" stop-color="#007cff"/><stop offset=".87" stop-color="#004aff"/><stop offset=".90" stop-color="#0015ff"/><stop offset=".92" stop-color="#0000f3"/><stop offset=".95" stop-color="#0000cd"/><stop offset=".97" stop-color="#0000be"/><stop offset="1.00" stop-color="#0000d0"/></linearGradient><linearGradient id="a22" x2="0" y2="1"><stop offset=".00" stop-color="#008cff"/><stop offset=".03" stop-color="#005fff"/><stop offset=".05" stop-color="#0045ff"/><stop offset=".08" stop-color="#003cff"/><stop offset=".10" stop-color="#0040ff"/><stop offset=".13" stop-color="#004dff"/><stop offset=".15" stop-color="#0060ff"/><stop offset=".18" stop-color="#0076ff"/><stop offset=".21" stop-color="#0091ff"/><stop offset=".23" stop-color="#00b4ff"/><stop offset=".26" stop-color="#00e3f9"/><stop offset=".28" stop-color="#2dffca"/><stop offset=".31" stop-color="#66ff91"/><stop offset=".33" stop-color="#a9ff4e"/><stop offset=".36" stop-color="#edff09"/><stop offset=".38" stop-color="#ffb900"/><stop offset=".41" stop-color="#ff8100"/><stop offset=".44" stop-color="#ff5700"/><stop offset=".46" stop-color="#ff3700"/><stop offset=".49" stop-color="#ff2000"/><stop offset=".51" stop-color="#ff1700"/><stop offset=".54" stop-color="#ff2500"/><stop offset=".56" stop-color="#ff5000"/><stop offset=".59" stop-color="#ff9100"/><stop offset=".62" stop-color="#ffdd00"/><stop offset=".64" stop-color="#c7ff2f"/><stop offset=".67" stop-color="#88ff6f"/><stop offset=".69" stop-color="#53ffa3"/><stop offset=".72" stop-color="#2effc8"/><stop offset=".74" stop-color="#15ffe2"/><stop offset=".77" stop-color="#00e6f6"/><stop offset=".79" stop-color="#00ccff"/><stop offset=".82" stop-color="#00adff"/><stop offset=".85" stop-color="#0085ff"/><stop offset=".87" stop-color="#0052ff"/><stop offset=".90" stop-color="#001aff"/><stop offset=".92" stop-color="#0000f5"/><stop offset=".95" stop-color="#0000cc"/><stop offset=".97" stop-color="#0000bd"/><stop offset="1.00" stop-color="#0000d2"/></linearGradient><linearGradient id="a23" x2="0" y2="1"><stop offset=".00" stop-color="#008fff"/><stop offset=".03" stop-color="#0068ff"/><stop offset=".05" stop-color="#004fff"/><stop offset=".08" stop-color="#0044ff"/><stop offset=".10" stop-color="#0044ff"/><stop offset=".13" stop-color="#004dff"/><stop offset=".15" stop-color="#005eff"/><stop offset=".18" stop-color="#0075ff"/><stop offset=".21" stop-color="#0093ff"/><stop offset=".23" stop-color="#00b9ff"/><stop offset=".26" stop-color="#02e8f5"/><stop offset=".28" stop-color="#31ffc6"/><stop offset=".31" stop-color="#6cff8b"/><stop offset=".33" stop-color="#b3ff44"/><stop offset=".36" stop-color="#fcef00"/><stop offset=".38" stop-color="#ffa500"/><stop offset=".41" stop-color="#ff6d00"/><stop offset=".44" stop-color="#ff4500"/><stop offset=".46" stop-color="#ff2700"/><stop offset=".49" stop-color="#f90e00"/><stop offset=".51" stop-color="#ec0400"/><stop offset=".54" stop-color="#ff1500"/><stop offset=".56" stop-color="#ff4800"/><stop offset=".59" stop-color="#ff9300"/><stop offset=".62" stop-color="#ffe600"/><stop offset=".64" stop-color="#c1ff35"/><stop offset=".67" stop-color="#87ff70"/><stop offset=".69" stop-color="#57ff9f"/><stop offset=".72" stop-color="#33ffc4"/><stop offset=".74" stop-color="#18ffdf"/><stop offset=".77" stop-color="#02e8f5"/><stop offset=".79" stop-color="#00d0ff"/><stop offset=".82" stop-color="#00b4ff"/><stop offset=".85" stop-color="#008eff"/><stop offset=".87" stop-color="#005bff"/><stop offset=".90" stop-color="#0021ff"/><stop offset=".92" stop-color="#0000fa"/><stop offset=".95" stop-color="#0000ce"/><stop offset=".97" stop-color="#0000be"/><stop offset="1.00" stop-color="#0000d6"/></linearGradient><linearGradient id="a24" x2="0" y2="1"><stop offset=".00" stop-color="#0092ff"/><stop offset=".03" stop-color="#0071ff"/><stop offset=".05" stop-color="#005aff"/><stop offset=".08" stop-color="#004cff"/><stop offset=".10" stop-color="#0049ff"/><stop offset=".13" stop-color="#004fff"/><stop offset=".15" stop-color="#005eff"/><stop offset=".18" stop-color="#0076ff"/><stop offset=".21" stop-color="#0097ff"/><stop offset=".23" stop-color="#00bfff"/><stop offset=".26" stop-color="#07eef0"/><stop offset=".28" stop-color="#36ffc0"/><stop offset=".31" stop-color="#73ff84"/><stop offset=".33" stop-color="#bdff3a"/><stop offset=".36" stop-color="#ffde00"/><stop offset=".38" stop-color="#ff9000"/><stop offset=".41" stop-color="#ff5900"/><stop offset=".44" stop-color="#ff3400"/><stop offset=".46" stop-color="#ff1700"/><stop offset=".49" stop-color="#e60000"/><stop offset=".51" stop-color="#d90000"/><stop offset=".54" stop-color="#f10800"/><stop offset=".56" stop-color="#ff4300"/><stop offset=".59" stop-color="#ff9700"/><stop offset=".62" stop-color="#fdef00"/><stop offset=".64" stop-color="#bdff3a"/><stop offset=".67" stop-color="#89ff6e"/><stop offset=".69" stop-color="#5fff98"/><stop offset=".72" stop-color="#3bffbc"/><stop offset=".74" stop-color="#1dffda"/><stop offset=".77" stop-color="#05ebf2"/><stop offset=".79" stop-color="#00d3ff"/><stop offset=".82" stop-color="#00baff"/><stop offset=".85" stop-color="#0096ff"/><stop offset=".87" stop-color="#0064ff"/><stop offset=".90" stop-color="#002aff"/><stop offset=".92" stop-color="#0000ff"/><stop offset=".95" stop-color="#0000d3"/><stop offset=".97" stop-color="#0000c2"/><stop offset="1.00" stop-color="#0000da"/></linearGradient><linearGradient id="a25" x2="0" y2="1"><stop offset=".00" stop-color="#0094ff"/><stop offset=".03" stop-color="#0079ff"/><stop offset=".05" stop-color="#0065ff"/><stop offset=".08" stop-color="#0056ff"/><stop offset=".10" stop-color="#0050ff"/><stop offset=".13" stop-color="#0053ff"/><stop offset=".15" stop-color="#0061ff"/><stop offset=".18" stop-color="#007aff"/><stop offset=".21" stop-color="#009dff"/><stop offset=".23" stop-color="#00c6ff"/><stop offset=".26" stop-color="#0ef6e9"/><stop offset=".28" stop-color="#3dffba"/><stop offset=".31" stop-color="#7bff7c"/><stop offset=".33" stop-color="#c9ff2e"/><stop offset=".36" stop-color="#ffcc00"/><stop offset=".38" stop-color="#ff7c00"/><stop offset=".41" stop-color="#ff4600"/><stop offset=".44" stop-color="#ff2400"/><stop offset=".46" stop-color="#f40a00"/><stop offset=".49" stop-color="#d70000"/><stop offset=".51" stop-color="#cc0000"/><stop offset=".54" stop-color="#e80000"/><stop offset=".56" stop-color="#ff4200"/><stop offset=".59" stop-color="#ff9c00"/><stop offset=".62" stop-color="#f7f500"/><stop offset=".64" stop-color="#bcff3b"/><stop offset=".67" stop-color="#8fff67"/><stop offset=".69" stop-color="#6aff8d"/><stop offset=".72" stop-color="#46ffb1"/><stop offset=".74" stop-color="#24ffd3"/><stop offset=".77" stop-color="#08efef"/><stop offset=".79" stop-color="#00d6ff"/><stop offset=".82" stop-color="#00bfff"/><stop offset=".85" stop-color="#009eff"/><stop offset=".87" stop-color="#006cff"/><stop offset=".90" stop-color="#0032ff"/><stop offset=".92" stop-color="#0000ff"/><stop offset=".95" stop-color="#0000da"/><stop offset=".97" stop-color="#0000c7"/><stop offset="1.00" stop-color="#0000dc"/></linearGradient><linearGradient id="a26" x2="0" y2="1"><stop offset=".00" stop-color="#0097ff"/><stop offset=".03" stop-color="#0082ff"/><stop offset=".05" stop-color="#0070ff"/><stop offset=".08" stop-color="#0061ff"/><stop offset=".10" stop-color="#005aff"/><stop offset=".13" stop-color="#005bff"/><stop offset=".15" stop-color="#0067ff"/><stop offset=".18" stop-color="#0081ff"/><stop offset=".21" stop-color="#00a4ff"/><stop offset=".23" stop-color="#00cfff"/><stop offset=".26" stop-color="#15ffe2"/><stop offset=".28" stop-color="#45ffb2"/><stop offset=".31" stop-color="#85ff72"/><stop offset=".33" stop-color="#d6ff20"/><stop offset=".36" stop-color="#ffb800"/><stop offset=".38" stop-color="#ff6600"/><stop offset=".41" stop-color="#ff3100"/><stop offset=".44" stop-color="#ff1400"/><stop offset=".46" stop-color="#e70000"/><stop offset=".49" stop-color="#ce0000"/><stop offset=".51" stop-color="#c70000"/><stop offset=".54" stop-color="#e70000"/><stop offset=".56" stop-color="#ff4500"/><stop offset=".59" stop-color="#ffa100"/><stop offset=".62" stop-color="#f4f802"/><stop offset=".64" stop-color="#bfff38"/><stop offset=".67" stop-color="#9bff5c"/><stop offset=".69" stop-color="#7aff7d"/><stop offset=".72" stop-color="#54ffa3"/><stop offset=".74" stop-color="#2dffca"/><stop offset=".77" stop-color="#0cf4eb"/><stop offset=".79" stop-color="#00d9ff"/><stop offset=".82" stop-color="#00c2ff"/><stop offset=".85" stop-color="#00a4ff"/><stop offset=".87" stop-color="#0074ff"/><stop offset=".90" stop-color="#003bff"/><stop offset=".92" stop-color="#0003ff"/><stop offset=".95" stop-color="#0000e2"/><stop offset=".97" stop-color="#0000cc"/><stop offset="1.00" stop-color="#0000dc"/></linearGradient><linearGradient id="a27" x2="0" y2="1"><stop offset=".00" stop-color="#009aff"/><stop offset=".03" stop-color="#008bff"/><stop offset=".05" stop-color="#007bff"/><stop offset=".08" stop-color="#006dff"/><stop offset=".10" stop-color="#0065ff"/><stop offset=".13" stop-color="#0065ff"/><stop offset=".15" stop-color="#0070ff"/><stop offset=".18" stop-color="#0089ff"/><stop offset=".21" stop-color="#00adff"/><stop offset=".23" stop-color="#00d8ff"/><stop offset=".26" stop-color="#1dffda"/><stop offset=".28" stop-color="#4effa9"/><stop offset=".31" stop-color="#90ff67"/><stop offset=".33" stop-color="#e6ff11"/><stop offset=".36" stop-color="#ffa200"/><stop offset=".38" stop-color="#ff4d00"/><stop offset=".41" stop-color="#ff1c00"/><stop offset=".44" stop-color="#ed0400"/><stop offset=".46" stop-color="#dc0000"/><stop offset=".49" stop-color="#cb0000"/><stop offset=".51" stop-color="#c90000"/><stop offset=".54" stop-color="#ed0400"/><stop offset=".56" stop-color="#ff4b00"/><stop offset=".59" stop-color="#ffa600"/><stop offset=".62" stop-color="#f4f803"/><stop offset=".64" stop-color="#c6ff31"/><stop offset=".67" stop-color="#a8ff4e"/><stop offset=".69" stop-color="#8bff6b"/><stop offset=".72" stop-color="#63ff94"/><stop offset=".74" stop-color="#36ffc1"/><stop offset=".77" stop-color="#10f9e7"/><stop offset=".79" stop-color="#00dcff"/><stop offset=".82" stop-color="#00c6ff"/><stop offset=".85" stop-color="#00a9ff"/><stop offset=".87" stop-color="#007bff"/><stop offset=".90" stop-color="#0043ff"/><stop offset=".92" stop-color="#000bff"/><stop offset=".95" stop-color="#0000ea"/><stop offset=".97" stop-color="#0000d0"/><stop offset="1.00" stop-color="#0000dc"/></linearGradient><linearGradient id="a28" x2="0" y2="1"><stop offset=".00" stop-color="#009dff"/><stop offset=".03" stop-color="#0092ff"/><stop offset=".05" stop-color="#0085ff"/><stop offset=".08" stop-color="#0079ff"/><stop offset=".10" stop-color="#0070ff"/><stop offset=".13" stop-color="#006fff"/><stop offset=".15" stop-color="#007aff"/><stop offset=".18" stop-color="#0092ff"/><stop offset=".21" stop-color="#00b6ff"/><stop offset=".23" stop-color="#00e1fb"/><stop offset=".26" stop-color="#24ffd3"/><stop offset=".28" stop-color="#56ffa0"/><stop offset=".31" stop-color="#9cff5b"/><stop offset=".33" stop-color="#f7f500"/><stop offset=".36" stop-color="#ff8800"/><stop offset=".38" stop-color="#ff3200"/><stop offset=".41" stop-color="#ed0400"/><stop offset=".44" stop-color="#da0000"/><stop offset=".46" stop-color="#d40000"/><stop offset=".49" stop-color="#cc0000"/><stop offset=".51" stop-color="#d00000"/><stop offset=".54" stop-color="#f70c00"/><stop offset=".56" stop-color="#ff5200"/><stop offset=".59" stop-color="#ffaa00"/><stop offset=".62" stop-color="#f6f701"/><stop offset=".64" stop-color="#ceff29"/><stop offset=".67" stop-color="#b6ff41"/><stop offset=".69" stop-color="#9cff5b"/><stop offset=".72" stop-color="#71ff86"/><stop offset=".74" stop-color="#40ffb7"/><stop offset=".77" stop-color="#15ffe2"/><stop offset=".79" stop-color="#00dffc"/><stop offset=".82" stop-color="#00c9ff"/><stop offset=".85" stop-color="#00aeff"/><stop offset=".87" stop-color="#0082ff"/><stop offset=".90" stop-color="#004bff"/><stop offset=".92" stop-color="#0014ff"/><stop offset=".95" stop-color="#0000f3"/><stop offset=".97" stop-color="#0000d6"/><stop offset="1.00" stop-color="#0000db"/></linearGradient><linearGradient id="a29" x2="0" y2="1"><stop offset=".00" stop-color="#009fff"/><stop offset=".03" stop-color="#0099ff"/><stop offset=".05" stop-color="#008eff"/><stop offset=".08" stop-color="#0082ff"/><stop offset=".10" stop-color="#0079ff"/><stop offset=".13" stop-color="#0078ff"/><stop offset=".15" stop-color="#0081ff"/><stop offset=".18" stop-color="#0099ff"/><stop offset=".21" stop-color="#00bcff"/><stop offset=".23" stop-color="#01e7f5"/><stop offset=".26" stop-color="#2affcd"/><stop offset=".28" stop-color="#5eff98"/><stop offset=".31" stop-color="#a8ff4f"/><stop offset=".33" stop-color="#ffdf00"/><stop offset=".36" stop-color="#ff6b00"/><stop offset=".38" stop-color="#ff1300"/><stop offset=".41" stop-color="#ce0000"/><stop offset=".44" stop-color="#c80000"/><stop offset=".46" stop-color="#cf0000"/><stop offset=".49" stop-color="#d10000"/><stop offset=".51" stop-color="#db0000"/><stop offset=".54" stop-color="#ff1600"/><stop offset=".56" stop-color="#ff5a00"/><stop offset=".59" stop-color="#ffae00"/><stop offset=".62" stop-color="#f7f500"/><stop offset=".64" stop-color="#d4ff22"/><stop offset=".67" stop-color="#c0ff36"/><stop offset=".69" stop-color="#a7ff4f"/><stop offset=".72" stop-color="#7cff7b"/><stop offset=".74" stop-color="#48ffaf"/><stop offset=".77" stop-color="#1affdc"/><stop offset=".79" stop-color="#00e5f7"/><stop offset=".82" stop-color="#00cfff"/><stop offset=".85" stop-color="#00b5ff"/><stop offset=".87" stop-color="#008aff"/><stop offset=".90" stop-color="#0053ff"/><stop offset=".92" stop-color="#001cff"/><stop offset=".95" stop-color="#0000fb"/><stop offset=".97" stop-color="#0000dc"/><stop offset="1.00" stop-color="#0000dd"/></linearGradient><linearGradient id="a30" x2="0" y2="1"><stop offset=".00" stop-color="#009fff"/><stop offset=".03" stop-color="#009dff"/><stop offset=".05" stop-color="#0094ff"/><stop offset=".08" stop-color="#0089ff"/><stop offset=".10" stop-color="#0080ff"/><stop offset=".13" stop-color="#007eff"/><stop offset=".15" stop-color="#0086ff"/><stop offset=".18" stop-color="#009eff"/><stop offset=".21" stop-color="#00c1ff"/><stop offset=".23" stop-color="#06ecf1"/><stop offset=".26" stop-color="#2fffc8"/><stop offset=".28" stop-color="#65ff91"/><stop offset=".31" stop-color="#b4ff43"/><stop offset=".33" stop-color="#ffc900"/><stop offset=".36" stop-color="#ff4d00"/><stop offset=".38" stop-color="#d60000"/><stop offset=".41" stop-color="#ae0000"/><stop offset=".44" stop-color="#b70000"/><stop offset=".46" stop-color="#ce0000"/><stop offset=".49" stop-color="#d90000"/><stop offset=".51" stop-color="#e80000"/><stop offset=".54" stop-color="#ff2000"/><stop offset=".56" stop-color="#ff6200"/><stop offset=".59" stop-color="#ffb100"/><stop offset=".62" stop-color="#f8f400"/><stop offset=".64" stop-color="#d8ff1f"/><stop offset=".67" stop-color="#c5ff31"/><stop offset=".69" stop-color="#adff4a"/><stop offset=".72" stop-color="#82ff75"/><stop offset=".74" stop-color="#4effa9"/><stop offset=".77" stop-color="#20ffd7"/><stop offset=".79" stop-color="#05ecf2"/><stop offset=".82" stop-color="#00d6ff"/><stop offset=".85" stop-color="#00bcff"/><stop offset=".87" stop-color="#0092ff"/><stop offset=".90" stop-color="#005cff"/><stop offset=".92" stop-color="#0024ff"/><stop offset=".95" stop-color="#0000ff"/><stop offset=".97" stop-color="#0000e3"/><stop offset="1.00" stop-color="#0000e2"/></linearGradient><linearGradient id="a31" x2="0" y2="1"><stop offset=".00" stop-color="#009fff"/><stop offset=".03" stop-color="#00a0ff"/><stop offset=".05" stop-color="#0099ff"/><stop offset=".08" stop-color="#008eff"/><stop offset=".10" stop-color="#0085ff"/><stop offset=".13" stop-color="#0083ff"/><stop offset=".15" stop-color="#008bff"/><stop offset=".18" stop-color="#00a2ff"/><stop offset=".21" stop-color="#00c5ff"/><stop offset=".23" stop-color="#09f1ed"/><stop offset=".26" stop-color="#34ffc3"/><stop offset=".28" stop-color="#6dff8a"/><stop offset=".31" stop-color="#c0ff37"/><stop offset=".33" stop-color="#ffb500"/><stop offset=".36" stop-color="#ff3200"/><stop offset=".38" stop-color="#b50000"/><stop offset=".41" stop-color="#940000"/><stop offset=".44" stop-color="#ab0000"/><stop offset=".46" stop-color="#d00000"/><stop offset=".49" stop-color="#e50000"/><stop offset=".51" stop-color="#f70d00"/><stop offset=".54" stop-color="#ff2d00"/><stop offset=".56" stop-color="#ff6a00"/><stop offset=".59" stop-color="#ffb400"/><stop offset=".62" stop-color="#f8f400"/><stop offset=".64" stop-color="#d9ff1e"/><stop offset=".67" stop-color="#c6ff31"/><stop offset=".69" stop-color="#adff4a"/><stop offset=".72" stop-color="#83ff74"/><stop offset=".74" stop-color="#51ffa6"/><stop offset=".77" stop-color="#25ffd1"/><stop offset=".79" stop-color="#0bf3ec"/><stop offset=".82" stop-color="#00ddfd"/><stop offset=".85" stop-color="#00c3ff"/><stop offset=".87" stop-color="#0099ff"/><stop offset=".90" stop-color="#0063ff"/><stop offset=".92" stop-color="#002cff"/><stop offset=".95" stop-color="#0000ff"/><stop offset=".97" stop-color="#0000ec"/><stop offset="1.00" stop-color="#0000e9"/></linearGradient><linearGradient id="a32" x2="0" y2="1"><stop offset=".00" stop-color="#009eff"/><stop offset=".03" stop-color="#00a1ff"/><stop offset=".05" stop-color="#009cff"/><stop offset=".08" stop-color="#0092ff"/><stop offset=".10" stop-color="#008bff"/><stop offset=".13" stop-color="#0088ff"/><stop offset=".15" stop-color="#0091ff"/><stop offset=".18" stop-color="#00a8ff"/><stop offset=".21" stop-color="#00cbff"/><stop offset=".23" stop-color="#0ef7e8"/><stop offset=".26" stop-color="#3affbd"/><stop offset=".28" stop-color="#75ff82"/><stop offset=".31" stop-color="#caff2d"/><stop offset=".33" stop-color="#ffa600"/><stop offset=".36" stop-color="#ff2200"/><stop offset=".38" stop-color="#a30000"/><stop offset=".41" stop-color="#890000"/><stop offset=".44" stop-color="#aa0000"/><stop offset=".46" stop-color="#d80000"/><stop offset=".49" stop-color="#f40a00"/><stop offset=".51" stop-color="#ff1c00"/><stop offset=".54" stop-color="#ff3c00"/><stop offset=".56" stop-color="#ff7500"/><stop offset=".59" stop-color="#ffb900"/><stop offset=".62" stop-color="#f7f500"/><stop offset=".64" stop-color="#d7ff20"/><stop offset=".67" stop-color="#c2ff35"/><stop offset=".69" stop-color="#a8ff4f"/><stop offset=".72" stop-color="#7fff77"/><stop offset=".74" stop-color="#51ffa6"/><stop offset=".77" stop-color="#29ffce"/><stop offset=".79" stop-color="#0ff8e8"/><stop offset=".82" stop-color="#00e2fa"/><stop offset=".85" stop-color="#00c7ff"/><stop offset=".87" stop-color="#009dff"/><stop offset=".90" stop-color="#006aff"/><stop offset=".92" stop-color="#0035ff"/><stop offset=".95" stop-color="#0007ff"/><stop offset=".97" stop-color="#0000f7"/><stop offset="1.00" stop-color="#0000f1"/></linearGradient><linearGradient id="a33" x2="0" y2="1"><stop offset=".00" stop-color="#009eff"/><stop offset=".03" stop-color="#00a1ff"/><stop offset=".05" stop-color="#009dff"/><stop offset=".08" stop-color="#0096ff"/><stop offset=".10" stop-color="#0091ff"/><stop offset=".13" stop-color="#0091ff"/><stop offset=".15" stop-color="#009bff"/><stop offset=".18" stop-color="#00b1ff"/><stop offset=".21" stop-color="#00d3ff"/><stop offset=".23" stop-color="#15ffe2"/><stop offset=".26" stop-color="#42ffb5"/><stop offset=".28" stop-color="#7fff78"/><stop offset=".31" stop-color="#d4ff23"/><stop offset=".33" stop-color="#ff9f00"/><stop offset=".36" stop-color="#ff2200"/><stop offset=".38" stop-color="#a90000"/><stop offset=".41" stop-color="#930000"/><stop offset=".44" stop-color="#b50000"/><stop offset=".46" stop-color="#e60000"/><stop offset=".49" stop-color="#ff1900"/><stop offset=".51" stop-color="#ff2e00"/><stop offset=".54" stop-color="#ff4e00"/><stop offset=".56" stop-color="#ff8200"/><stop offset=".59" stop-color="#ffc000"/><stop offset=".62" stop-color="#f5f802"/><stop offset=".64" stop-color="#d3ff24"/><stop offset=".67" stop-color="#b9ff3d"/><stop offset=".69" stop-color="#9dff5a"/><stop offset=".72" stop-color="#77ff7f"/><stop offset=".74" stop-color="#4effa9"/><stop offset=".77" stop-color="#29ffce"/><stop offset=".79" stop-color="#10f9e7"/><stop offset=".82" stop-color="#00e1fa"/><stop offset=".85" stop-color="#00c5ff"/><stop offset=".87" stop-color="#009eff"/><stop offset=".90" stop-color="#006fff"/><stop offset=".92" stop-color="#003eff"/><stop offset=".95" stop-color="#0014ff"/><stop offset=".97" stop-color="#0000ff"/><stop offset="1.00" stop-color="#0000f9"/></linearGradient><linearGradient id="a34" x2="0" y2="1"><stop offset=".00" stop-color="#009dff"/><stop offset=".03" stop-color="#00a0ff"/><stop offset=".05" stop-color="#009dff"/><stop offset=".08" stop-color="#009aff"/><stop offset=".10" stop-color="#0099ff"/><stop offset=".13" stop-color="#009cff"/><stop offset=".15" stop-color="#00a7ff"/><stop offset=".18" stop-color="#00bcff"/><stop offset=".21" stop-color="#00ddfe"/><stop offset=".23" stop-color="#1dffda"/><stop offset=".26" stop-color="#4cffab"/><stop offset=".28" stop-color="#8aff6c"/><stop offset=".31" stop-color="#dcff1a"/><stop offset=".33" stop-color="#ff9f00"/><stop offset=".36" stop-color="#ff2f00"/><stop offset=".38" stop-color="#c30000"/><stop offset=".41" stop-color="#ae0000"/><stop offset=".44" stop-color="#ca0000"/><stop offset=".46" stop-color="#f70c00"/><stop offset=".49" stop-color="#ff2800"/><stop offset=".51" stop-color="#ff4000"/><stop offset=".54" stop-color="#ff6100"/><stop offset=".56" stop-color="#ff9200"/><stop offset=".59" stop-color="#ffc900"/><stop offset=".62" stop-color="#f0fd06"/><stop offset=".64" stop-color="#ccff2a"/><stop offset=".67" stop-color="#aeff49"/><stop offset=".69" stop-color="#90ff67"/><stop offset=".72" stop-color="#6cff8a"/><stop offset=".74" stop-color="#48ffaf"/><stop offset=".77" stop-color="#27ffd0"/><stop offset=".79" stop-color="#0ef7e9"/><stop offset=".82" stop-color="#00ddfe"/><stop offset=".85" stop-color="#00c0ff"/><stop offset=".87" stop-color="#009bff"/><stop offset=".90" stop-color="#0071ff"/><stop offset=".92" stop-color="#0047ff"/><stop offset=".95" stop-color="#0020ff"/><stop offset=".97" stop-color="#0002ff"/><stop offset="1.00" stop-color="#0000ff"/></linearGradient><linearGradient id="a35" x2="0" y2="1"><stop offset=".00" stop-color="#009eff"/><stop offset=".03" stop-color="#009dff"/><stop offset=".05" stop-color="#009dff"/><stop offset=".08" stop-color="#009dff"/><stop offset=".10" stop-color="#00a0ff"/><stop offset=".13" stop-color="#00a7ff"/><stop offset=".15" stop-color="#00b3ff"/><stop offset=".18" stop-color="#00c8ff"/><stop offset=".21" stop-color="#01e6f6"/><stop offset=".23" stop-color="#24ffd2"/><stop offset=".26" stop-color="#56ffa1"/><stop offset=".28" stop-color="#95ff62"/><stop offset=".31" stop-color="#e4ff13"/><stop offset=".33" stop-color="#ffa300"/><stop offset=".36" stop-color="#ff4000"/><stop offset=".38" stop-color="#e40000"/><stop offset=".41" stop-color="#cd0000"/><stop offset=".44" stop-color="#e00000"/><stop offset=".46" stop-color="#ff1800"/><stop offset=".49" stop-color="#ff3300"/><stop offset=".51" stop-color="#ff4d00"/><stop offset=".54" stop-color="#ff7200"/><stop offset=".56" stop-color="#ffa200"/><stop offset=".59" stop-color="#ffd500"/><stop offset=".62" stop-color="#e8ff0f"/><stop offset=".64" stop-color="#c2ff35"/><stop offset=".67" stop-color="#a1ff56"/><stop offset=".69" stop-color="#81ff76"/><stop offset=".72" stop-color="#60ff96"/><stop offset=".74" stop-color="#41ffb6"/><stop offset=".77" stop-color="#24ffd3"/><stop offset=".79" stop-color="#0bf3ec"/><stop offset=".82" stop-color="#00d7ff"/><stop offset=".85" stop-color="#00b9ff"/><stop offset=".87" stop-color="#0096ff"/><stop offset=".90" stop-color="#0071ff"/><stop offset=".92" stop-color="#004cff"/><stop offset=".95" stop-color="#002aff"/><stop offset=".97" stop-color="#000dff"/><stop offset="1.00" stop-color="#0000ff"/></linearGradient><linearGradient id="a36" x2="0" y2="1"><stop offset=".00" stop-color="#009eff"/><stop offset=".03" stop-color="#009bff"/><stop offset=".05" stop-color="#009bff"/><stop offset=".08" stop-color="#009eff"/><stop offset=".10" stop-color="#00a5ff"/><stop offset=".13" stop-color="#00afff"/><stop offset=".15" stop-color="#00bdff"/><stop offset=".18" stop-color="#00d0ff"/><stop offset=".21" stop-color="#06ecf1"/><stop offset=".23" stop-color="#29ffce"/><stop offset=".26" stop-color="#5dff9a"/><stop offset=".28" stop-color="#9eff59"/><stop offset=".31" stop-color="#ebff0c"/><stop offset=".33" stop-color="#ffa500"/><stop offset=".36" stop-color="#ff4f00"/><stop offset=".38" stop-color="#fe1200"/><stop offset=".41" stop-color="#e40000"/><stop offset=".44" stop-color="#ed0400"/><stop offset=".46" stop-color="#ff1c00"/><stop offset=".49" stop-color="#ff3600"/><stop offset=".51" stop-color="#ff5000"/><stop offset=".54" stop-color="#ff7b00"/><stop offset=".56" stop-color="#ffaf00"/><stop offset=".59" stop-color="#ffe400"/><stop offset=".62" stop-color="#daff1d"/><stop offset=".64" stop-color="#b3ff43"/><stop offset=".67" stop-color="#92ff65"/><stop offset=".69" stop-color="#73ff84"/><stop offset=".72" stop-color="#56ffa0"/><stop offset=".74" stop-color="#3bffbc"/><stop offset=".77" stop-color="#21ffd6"/><stop offset=".79" stop-color="#08f0ee"/><stop offset=".82" stop-color="#00d2ff"/><stop offset=".85" stop-color="#00b3ff"/><stop offset=".87" stop-color="#0091ff"/><stop offset=".90" stop-color="#006eff"/><stop offset=".92" stop-color="#004dff"/><stop offset=".95" stop-color="#002dff"/><stop offset=".97" stop-color="#0011ff"/><stop offset="1.00" stop-color="#0000ff"/></linearGradient><linearGradient id="a37" x2="0" y2="1"><stop offset=".00" stop-color="#009fff"/><stop offset=".03" stop-color="#0099ff"/><stop offset=".05" stop-color="#0098ff"/><stop offset=".08" stop-color="#009dff"/><stop offset=".10" stop-color="#00a6ff"/><stop offset=".13" stop-color="#00b3ff"/><stop offset=".15" stop-color="#00c1ff"/><stop offset=".18" stop-color="#00d3ff"/><stop offset=".21" stop-color="#06edf0"/><stop offset=".23" stop-color="#2affcd"/><stop offset=".26" stop-color="#5fff97"/><stop offset=".28" stop-color="#a3ff53"/><stop offset=".31" stop-color="#f0fd07"/><stop offset=".33" stop-color="#ffa300"/><stop offset=".36" stop-color="#ff5300"/><stop offset=".38" stop-color="#ff1a00"/><stop offset=".41" stop-color="#e90100"/><stop offset=".44" stop-color="#eb0300"/><stop offset=".46" stop-color="#ff1500"/><stop offset=".49" stop-color="#ff2c00"/><stop offset=".51" stop-color="#ff4600"/><stop offset=".54" stop-color="#ff7900"/><stop offset=".56" stop-color="#ffb900"/><stop offset=".59" stop-color="#f6f600"/><stop offset=".62" stop-color="#c6ff31"/><stop offset=".64" stop-color="#a0ff57"/><stop offset=".67" stop-color="#82ff75"/><stop offset=".69" stop-color="#68ff8f"/><stop offset=".72" stop-color="#4fffa8"/><stop offset=".74" stop-color="#36ffc0"/><stop offset=".77" stop-color="#1effd9"/><stop offset=".79" stop-color="#06edf0"/><stop offset=".82" stop-color="#00cfff"/><stop offset=".85" stop-color="#00afff"/><stop offset=".87" stop-color="#008cff"/><stop offset=".90" stop-color="#0068ff"/><stop offset=".92" stop-color="#0045ff"/><stop offset=".95" stop-color="#0026ff"/><stop offset=".97" stop-color="#000dff"/><stop offset="1.00" stop-color="#0000ff"/></linearGradient><linearGradient id="a38" x2="0" y2="1"><stop offset=".00" stop-color="#00a0ff"/><stop offset=".03" stop-color="#0096ff"/><stop offset=".05" stop-color="#0095ff"/><stop offset=".08" stop-color="#009bff"/><stop offset=".10" stop-color="#00a5ff"/><stop offset=".13" stop-color="#00b3ff"/><stop offset=".15" stop-color="#00c1ff"/><stop offset=".18" stop-color="#00d2ff"/><stop offset=".21" stop-color="#04ebf2"/><stop offset=".23" stop-color="#27ffcf"/><stop offset=".26" stop-color="#5eff98"/><stop offset=".28" stop-color="#a5ff52"/><stop offset=".31" stop-color="#f3fa04"/><stop offset=".33" stop-color="#ffa000"/><stop offset=".36" stop-color="#ff5100"/><stop offset=".38" stop-color="#ff1700"/><stop offset=".41" stop-color="#e10000"/><stop offset=".44" stop-color="#de0000"/><stop offset=".46" stop-color="#f00700"/><stop offset=".49" stop-color="#ff1b00"/><stop offset=".51" stop-color="#ff3100"/><stop offset=".54" stop-color="#ff6f00"/><stop offset=".56" stop-color="#ffbf00"/><stop offset=".59" stop-color="#e5ff12"/><stop offset=".62" stop-color="#adff4a"/><stop offset=".64" stop-color="#87ff70"/><stop offset=".67" stop-color="#6fff88"/><stop offset=".69" stop-color="#5bff9b"/><stop offset=".72" stop-color="#47ffb0"/><stop offset=".74" stop-color="#30ffc7"/><stop offset=".77" stop-color="#19ffde"/><stop offset=".79" stop-color="#02e8f4"/><stop offset=".82" stop-color="#00cbff"/><stop offset=".85" stop-color="#00abff"/><stop offset=".87" stop-color="#0085ff"/><stop offset=".90" stop-color="#005dff"/><stop offset=".92" stop-color="#0038ff"/><stop offset=".95" stop-color="#0019ff"/><stop offset=".97" stop-color="#0004ff"/><stop offset="1.00" stop-color="#0000ff"/></linearGradient><linearGradient id="a39" x2="0" y2="1"><stop offset=".00" stop-color="#009fff"/><stop offset=".03" stop-color="#0094ff"/><stop offset=".05" stop-color="#0091ff"/><stop offset=".08" stop-color="#0097ff"/><stop offset=".10" stop-color="#00a2ff"/><stop offset=".13" stop-color="#00b0ff"/><stop offset=".15" stop-color="#00bfff"/><stop offset=".18" stop-color="#00cfff"/><stop offset=".21" stop-color="#02e8f5"/><stop offset=".23" stop-color="#24ffd3"/><stop offset=".26" stop-color="#5aff9c"/><stop offset=".28" stop-color="#a0ff56"/><stop offset=".31" stop-color="#effe07"/><stop offset=".33" stop-color="#ffa200"/><stop offset=".36" stop-color="#ff4e00"/><stop offset=".38" stop-color="#fc1000"/><stop offset=".41" stop-color="#d50000"/><stop offset=".44" stop-color="#cf0000"/><stop offset=".46" stop-color="#de0000"/><stop offset=".49" stop-color="#f20800"/><stop offset=".51" stop-color="#ff1800"/><stop offset=".54" stop-color="#ff6200"/><stop offset=".56" stop-color="#ffc500"/><stop offset=".59" stop-color="#d1ff25"/><stop offset=".62" stop-color="#90ff67"/><stop offset=".64" stop-color="#6aff8d"/><stop offset=".67" stop-color="#57ffa0"/><stop offset=".69" stop-color="#4affad"/><stop offset=".72" stop-color="#39ffbe"/><stop offset=".74" stop-color="#23ffd4"/><stop offset=".77" stop-color="#0df6ea"/><stop offset=".79" stop-color="#00dcff"/><stop offset=".82" stop-color="#00c1ff"/><stop offset=".85" stop-color="#00a0ff"/><stop offset=".87" stop-color="#0079ff"/><stop offset=".90" stop-color="#004eff"/><stop offset=".92" stop-color="#0026ff"/><stop offset=".95" stop-color="#0007ff"/><stop offset=".97" stop-color="#0000ff"/><stop offset="1.00" stop-color="#0000ff"/></linearGradient><linearGradient id="a40" x2="0" y2="1"><stop offset=".00" stop-color="#009dff"/><stop offset=".03" stop-color="#0090ff"/><stop offset=".05" stop-color="#008dff"/><stop offset=".08" stop-color="#0092ff"/><stop offset=".10" stop-color="#009dff"/><stop offset=".13" stop-color="#00abff"/><stop offset=".15" stop-color="#00bbff"/><stop offset=".18" stop-color="#00cdff"/><stop offset=".21" stop-color="#00e5f7"/><stop offset=".23" stop-color="#21ffd6"/><stop offset=".26" stop-color="#53ffa3"/><stop offset=".28" stop-color="#95ff61"/><stop offset=".31" stop-color="#e2ff15"/><stop offset=".33" stop-color="#ffb000"/><stop offset=".36" stop-color="#ff5800"/><stop offset=".38" stop-color="#ff1600"/><stop offset=".41" stop-color="#da0000"/><stop offset=".44" stop-color="#d20000"/><stop offset=".46" stop-color="#de0000"/><stop offset=".49" stop-color="#e80000"/><stop offset=".51" stop-color="#ed0500"/><stop offset=".54" stop-color="#ff5700"/><stop offset=".56" stop-color="#ffcc00"/><stop offset=".59" stop-color="#bdff3a"/><stop offset=".62" stop-color="#71ff86"/><stop offset=".64" stop-color="#48ffae"/><stop offset=".67" stop-color="#38ffbf"/><stop offset=".69" stop-color="#2fffc8"/><stop offset=".72" stop-color="#20ffd7"/><stop offset=".74" stop-color="#0cf4eb"/><stop offset=".77" stop-color="#00daff"/><stop offset=".79" stop-color="#00c2ff"/><stop offset=".82" stop-color="#00a9ff"/><stop offset=".85" stop-color="#008bff"/><stop offset=".87" stop-color="#0064ff"/><stop offset=".90" stop-color="#0039ff"/><stop offset=".92" stop-color="#0012ff"/><stop offset=".95" stop-color="#0000ff"/><stop offset=".97" stop-color="#0000f9"/><stop offset="1.00" stop-color="#0000ff"/></linearGradient><linearGradient id="a41" x2="0" y2="1"><stop offset=".00" stop-color="#0098ff"/><stop offset=".03" stop-color="#008cff"/><stop offset=".05" stop-color="#0088ff"/><stop offset=".08" stop-color="#008dff"/><stop offset=".10" stop-color="#0097ff"/><stop offset=".13" stop-color="#00a6ff"/><stop offset=".15" stop-color="#00b8ff"/><stop offset=".18" stop-color="#00ccff"/><stop offset=".21" stop-color="#00e6f7"/><stop offset=".23" stop-color="#1effd8"/><stop offset=".26" stop-color="#4affad"/><stop offset=".28" stop-color="#82ff74"/><stop offset=".31" stop-color="#c7ff30"/><stop offset=".33" stop-color="#ffd300"/><stop offset=".36" stop-color="#ff7c00"/><stop offset=".38" stop-color="#ff3900"/><stop offset=".41" stop-color="#ff1b00"/><stop offset=".44" stop-color="#ff1500"/><stop offset=".46" stop-color="#ff1700"/><stop offset=".49" stop-color="#fc1000"/><stop offset=".51" stop-color="#e80000"/><stop offset=".54" stop-color="#ff5600"/><stop offset=".56" stop-color="#ffd900"/><stop offset=".59" stop-color="#a6ff50"/><stop offset=".62" stop-color="#51ffa6"/><stop offset=".64" stop-color="#23ffd4"/><stop offset=".67" stop-color="#12fbe5"/><stop offset=".69" stop-color="#0af2ed"/><stop offset=".72" stop-color="#00e1fa"/><stop offset=".74" stop-color="#00caff"/><stop offset=".77" stop-color="#00b2ff"/><stop offset=".79" stop-color="#009cff"/><stop offset=".82" stop-color="#0086ff"/><stop offset=".85" stop-color="#006aff"/><stop offset=".87" stop-color="#0047ff"/><stop offset=".90" stop-color="#0020ff"/><stop offset=".92" stop-color="#0000ff"/><stop offset=".95" stop-color="#0000f3"/><stop offset=".97" stop-color="#0000ed"/><stop offset="1.00" stop-color="#0000ff"/></linearGradient><linearGradient id="a42" x2="0" y2="1"><stop offset=".00" stop-color="#0092ff"/><stop offset=".03" stop-color="#0086ff"/><stop offset=".05" stop-color="#0083ff"/><stop offset=".08" stop-color="#0087ff"/><stop offset=".10" stop-color="#0092ff"/><stop offset=".13" stop-color="#00a1ff"/><stop offset=".15" stop-color="#00b5ff"/><stop offset=".18" stop-color="#00ccff"/><stop offset=".21" stop-color="#01e7f6"/><stop offset=".23" stop-color="#1cffdb"/><stop offset=".26" stop-color="#3effb8"/><stop offset=".28" stop-color="#6aff8d"/><stop offset=".31" stop-color="#a2ff55"/><stop offset=".33" stop-color="#e7ff10"/><stop offset=".36" stop-color="#ffb900"/><stop offset=".38" stop-color="#ff7e00"/><stop offset=".41" stop-color="#ff6a00"/><stop offset=".44" stop-color="#ff6600"/><stop offset=".46" stop-color="#ff5700"/><stop offset=".49" stop-color="#ff3700"/><stop offset=".51" stop-color="#f50a00"/><stop offset=".54" stop-color="#ff5f00"/><stop offset=".56" stop-color="#feee00"/><stop offset=".59" stop-color="#8dff6a"/><stop offset=".62" stop-color="#2fffc8"/><stop offset=".64" stop-color="#00e0fb"/><stop offset=".67" stop-color="#00c8ff"/><stop offset=".69" stop-color="#00beff"/><stop offset=".72" stop-color="#00afff"/><stop offset=".74" stop-color="#009aff"/><stop offset=".77" stop-color="#0084ff"/><stop offset=".79" stop-color="#0071ff"/><stop offset=".82" stop-color="#005dff"/><stop offset=".85" stop-color="#0045ff"/><stop offset=".87" stop-color="#0027ff"/><stop offset=".90" stop-color="#0006ff"/><stop offset=".92" stop-color="#0000f7"/><stop offset=".95" stop-color="#0000e3"/><stop offset=".97" stop-color="#0000e3"/><stop offset="1.00" stop-color="#0000fd"/></linearGradient><linearGradient id="a43" x2="0" y2="1"><stop offset=".00" stop-color="#008cff"/><stop offset=".03" stop-color="#0080ff"/><stop offset=".05" stop-color="#007dff"/><stop offset=".08" stop-color="#0081ff"/><stop offset=".10" stop-color="#008cff"/><stop offset=".13" stop-color="#009dff"/><stop offset=".15" stop-color="#00b3ff"/><stop offset=".18" stop-color="#00ccff"/><stop offset=".21" stop-color="#02e8f5"/><stop offset=".23" stop-color="#1affdd"/><stop offset=".26" stop-color="#33ffc4"/><stop offset=".28" stop-color="#51ffa5"/><stop offset=".31" stop-color="#7bff7c"/><stop offset=".33" stop-color="#b3ff44"/><stop offset=".36" stop-color="#edff0a"/><stop offset=".38" stop-color="#ffd300"/><stop offset=".41" stop-color="#ffd200"/><stop offset=".44" stop-color="#ffd200"/><stop offset=".46" stop-color="#ffa600"/><stop offset=".49" stop-color="#ff6700"/><stop offset=".51" stop-color="#ff1c00"/><stop offset=".54" stop-color="#ff7100"/><stop offset=".56" stop-color="#e6ff11"/><stop offset=".59" stop-color="#6fff88"/><stop offset=".62" stop-color="#0bf4eb"/><stop offset=".64" stop-color="#00b0ff"/><stop offset=".67" stop-color="#0096ff"/><stop offset=".69" stop-color="#008dff"/><stop offset=".72" stop-color="#007fff"/><stop offset=".74" stop-color="#006cff"/><stop offset=".77" stop-color="#0058ff"/><stop offset=".79" stop-color="#0047ff"/><stop offset=".82" stop-color="#0036ff"/><stop offset=".85" stop-color="#0022ff"/><stop offset=".87" stop-color="#0009ff"/><stop offset=".90" stop-color="#0000fc"/><stop offset=".92" stop-color="#0000e2"/><stop offset=".95" stop-color="#0000d4"/><stop offset=".97" stop-color="#0000d8"/><stop offset="1.00" stop-color="#0000f6"/></linearGradient><linearGradient id="a44" x2="0" y2="1"><stop offset=".00" stop-color="#0086ff"/><stop offset=".03" stop-color="#0079ff"/><stop offset=".05" stop-color="#0076ff"/><stop offset=".08" stop-color="#007bff"/><stop offset=".10" stop-color="#0088ff"/><stop offset=".13" stop-color="#009bff"/><stop offset=".15" stop-color="#00b3ff"/><stop offset=".18" stop-color="#00cdff"/><stop offset=".21" stop-color="#03e9f4"/><stop offset=".23" stop-color="#17ffe0"/><stop offset=".26" stop-color="#29ffce"/><stop offset=".28" stop-color="#3effb9"/><stop offset=".31" stop-color="#5bff9b"/><stop offset=".33" stop-color="#86ff71"/><stop offset=".36" stop-color="#b4ff43"/><stop offset=".38" stop-color="#cfff28"/><stop offset=".41" stop-color="#baff3d"/><stop offset=".44" stop-color="#b7ff40"/><stop offset=".46" stop-color="#ffed00"/><stop offset=".49" stop-color="#ff8b00"/><stop offset=".51" stop-color="#ff2a00"/><stop offset=".54" stop-color="#ff8400"/><stop offset=".56" stop-color="#cbff2c"/><stop offset=".59" stop-color="#4fffa8"/><stop offset=".62" stop-color="#00c6ff"/><stop offset=".64" stop-color="#0082ff"/><stop offset=".67" stop-color="#006aff"/><stop offset=".69" stop-color="#0064ff"/><stop offset=".72" stop-color="#0058ff"/><stop offset=".74" stop-color="#0047ff"/><stop offset=".77" stop-color="#0035ff"/><stop offset=".79" stop-color="#0027ff"/><stop offset=".82" stop-color="#0019ff"/><stop offset=".85" stop-color="#0009ff"/><stop offset=".87" stop-color="#0000ff"/><stop offset=".90" stop-color="#0000e6"/><stop offset=".92" stop-color="#0000d0"/><stop offset=".95" stop-color="#0000c6"/><stop offset=".97" stop-color="#0000ce"/><stop offset="1.00" stop-color="#0000ee"/></linearGradient><linearGradient id="a45" x2="0" y2="1"><stop offset=".00" stop-color="#0080ff"/><stop offset=".03" stop-color="#0071ff"/><stop offset=".05" stop-color="#006eff"/><stop offset=".08" stop-color="#0076ff"/><stop offset=".10" stop-color="#0085ff"/><stop offset=".13" stop-color="#009aff"/><stop offset=".15" stop-color="#00b3ff"/><stop offset=".18" stop-color="#00ceff"/><stop offset=".21" stop-color="#02e8f5"/><stop offset=".23" stop-color="#14fee3"/><stop offset=".26" stop-color="#22ffd5"/><stop offset=".28" stop-color="#30ffc7"/><stop offset=".31" stop-color="#45ffb2"/><stop offset=".33" stop-color="#64ff93"/><stop offset=".36" stop-color="#88ff6f"/><stop offset=".38" stop-color="#97ff5f"/><stop offset=".41" stop-color="#6eff89"/><stop offset=".44" stop-color="#68ff8f"/><stop offset=".46" stop-color="#d2ff24"/><stop offset=".49" stop-color="#ffa100"/><stop offset=".51" stop-color="#ff3500"/><stop offset=".54" stop-color="#ff9a00"/><stop offset=".56" stop-color="#acff4a"/><stop offset=".59" stop-color="#2cffcb"/><stop offset=".62" stop-color="#009aff"/><stop offset=".64" stop-color="#0058ff"/><stop offset=".67" stop-color="#0046ff"/><stop offset=".69" stop-color="#0045ff"/><stop offset=".72" stop-color="#003cff"/><stop offset=".74" stop-color="#002cff"/><stop offset=".77" stop-color="#001cff"/><stop offset=".79" stop-color="#0011ff"/><stop offset=".82" stop-color="#0006ff"/><stop offset=".85" stop-color="#0000ff"/><stop offset=".87" stop-color="#0000f0"/><stop offset=".90" stop-color="#0000d6"/><stop offset=".92" stop-color="#0000c1"/><stop offset=".95" stop-color="#0000b8"/><stop offset=".97" stop-color="#0000c3"/><stop offset="1.00" stop-color="#0000e8"/></linearGradient><linearGradient id="a46" x2="0" y2="1"><stop offset=".00" stop-color="#007bff"/><stop offset=".03" stop-color="#0069ff"/><stop offset=".05" stop-color="#0067ff"/><stop offset=".08" stop-color="#0070ff"/><stop offset=".10" stop-color="#0082ff"/><stop offset=".13" stop-color="#009aff"/><stop offset=".15" stop-color="#00b4ff"/><stop offset=".18" stop-color="#00ceff"/><stop offset=".21" stop-color="#00e5f7"/><stop offset=".23" stop-color="#0ff8e8"/><stop offset=".26" stop-color="#1bffdc"/><stop offset=".28" stop-color="#26ffd1"/><stop offset=".31" stop-color="#35ffc2"/><stop offset=".33" stop-color="#4cffab"/><stop offset=".36" stop-color="#68ff8f"/><stop offset=".38" stop-color="#70ff86"/><stop offset=".41" stop-color="#3bffbc"/><stop offset=".44" stop-color="#36ffc1"/><stop offset=".46" stop-color="#b8ff3f"/><stop offset=".49" stop-color="#ffb000"/><stop offset=".51" stop-color="#ff4300"/><stop offset=".54" stop-color="#ffb600"/><stop offset=".56" stop-color="#8bff6c"/><stop offset=".59" stop-color="#08f0ef"/><stop offset=".62" stop-color="#0070ff"/><stop offset=".64" stop-color="#0033ff"/><stop offset=".67" stop-color="#0028ff"/><stop offset=".69" stop-color="#002cff"/><stop offset=".72" stop-color="#0027ff"/><stop offset=".74" stop-color="#0018ff"/><stop offset=".77" stop-color="#000aff"/><stop offset=".79" stop-color="#0000ff"/><stop offset=".82" stop-color="#0000ff"/><stop offset=".85" stop-color="#0000fb"/><stop offset=".87" stop-color="#0000e5"/><stop offset=".90" stop-color="#0000cb"/><stop offset=".92" stop-color="#0000b6"/><stop offset=".95" stop-color="#0000ad"/><stop offset=".97" stop-color="#0000b9"/><stop offset="1.00" stop-color="#0000e1"/></linearGradient><linearGradient id="a47" x2="0" y2="1"><stop offset=".00" stop-color="#0075ff"/><stop offset=".03" stop-color="#0062ff"/><stop offset=".05" stop-color="#0060ff"/><stop offset=".08" stop-color="#006bff"/><stop offset=".10" stop-color="#007fff"/><stop offset=".13" stop-color="#0098ff"/><stop offset=".15" stop-color="#00b2ff"/><stop offset=".18" stop-color="#00caff"/><stop offset=".21" stop-color="#00dffc"/><stop offset=".23" stop-color="#08efef"/><stop offset=".26" stop-color="#12fce5"/><stop offset=".28" stop-color="#1cffdb"/><stop offset=".31" stop-color="#29ffce"/><stop offset=".33" stop-color="#3bffbb"/><stop offset=".36" stop-color="#54ffa3"/><stop offset=".38" stop-color="#5bff9b"/><stop offset=".41" stop-color="#2bffcc"/><stop offset=".44" stop-color="#2cffcb"/><stop offset=".46" stop-color="#b0ff47"/><stop offset=".49" stop-color="#ffc100"/><stop offset=".51" stop-color="#ff5d00"/><stop offset=".54" stop-color="#ffdb00"/><stop offset=".56" stop-color="#66ff90"/><stop offset=".59" stop-color="#00c5ff"/><stop offset=".62" stop-color="#004bff"/><stop offset=".64" stop-color="#0015ff"/><stop offset=".67" stop-color="#0010ff"/><stop offset=".69" stop-color="#0019ff"/><stop offset=".72" stop-color="#0015ff"/><stop offset=".74" stop-color="#0008ff"/><stop offset=".77" stop-color="#0000ff"/><stop offset=".79" stop-color="#0000ff"/><stop offset=".82" stop-color="#0000fd"/><stop offset=".85" stop-color="#0000f3"/><stop offset=".87" stop-color="#0000de"/><stop offset=".90" stop-color="#0000c4"/><stop offset=".92" stop-color="#0000ae"/><stop offset=".95" stop-color="#0000a4"/><stop offset=".97" stop-color="#0000b1"/><stop offset="1.00" stop-color="#0000dc"/></linearGradient><linearGradient id="a48" x2="0" y2="1"><stop offset=".00" stop-color="#006fff"/><stop offset=".03" stop-color="#005bff"/><stop offset=".05" stop-color="#005aff"/><stop offset=".08" stop-color="#0066ff"/><stop offset=".10" stop-color="#007bff"/><stop offset=".13" stop-color="#0094ff"/><stop offset=".15" stop-color="#00aeff"/><stop offset=".18" stop-color="#00c4ff"/><stop offset=".21" stop-color="#00d5ff"/><stop offset=".23" stop-color="#00e3f9"/><stop offset=".26" stop-color="#07eef0"/><stop offset=".28" stop-color="#10fae6"/><stop offset=".31" stop-color="#1dffda"/><stop offset=".33" stop-color="#30ffc7"/><stop offset=".36" stop-color="#49ffad"/><stop offset=".38" stop-color="#58ff9f"/><stop offset=".41" stop-color="#3bffbc"/><stop offset=".44" stop-color="#45ffb2"/><stop offset=".46" stop-color="#b3ff44"/><stop offset=".49" stop-color="#ffd700"/><stop offset=".51" stop-color="#ff8500"/><stop offset=".54" stop-color="#e5ff12"/><stop offset=".56" stop-color="#40ffb7"/><stop offset=".59" stop-color="#009dff"/><stop offset=".62" stop-color="#002dff"/><stop offset=".64" stop-color="#0000ff"/><stop offset=".67" stop-color="#0000ff"/><stop offset=".69" stop-color="#0007ff"/><stop offset=".72" stop-color="#0005ff"/><stop offset=".74" stop-color="#0000ff"/><stop offset=".77" stop-color="#0000f9"/><stop offset=".79" stop-color="#0000f4"/><stop offset=".82" stop-color="#0000f2"/><stop offset=".85" stop-color="#0000eb"/><stop offset=".87" stop-color="#0000d8"/><stop offset=".90" stop-color="#0000be"/><stop offset=".92" stop-color="#0000a8"/><stop offset=".95" stop-color="#00009f"/><stop offset=".97" stop-color="#0000ab"/><stop offset="1.00" stop-color="#0000d7"/></linearGradient><linearGradient id="a49" x2="0" y2="1"><stop offset=".00" stop-color="#0069ff"/><stop offset=".03" stop-color="#0056ff"/><stop offset=".05" stop-color="#0054ff"/><stop offset=".08" stop-color="#0060ff"/><stop offset=".10" stop-color="#0075ff"/><stop offset=".13" stop-color="#008eff"/><stop offset=".15" stop-color="#00a6ff"/><stop offset=".18" stop-color="#00baff"/><stop offset=".21" stop-color="#00c9ff"/><stop offset=".23" stop-color="#00d5ff"/><stop offset=".26" stop-color="#00dffc"/><stop offset=".28" stop-color="#04ebf2"/><stop offset=".31" stop-color="#13fde4"/><stop offset=".33" stop-color="#2affcd"/><stop offset=".36" stop-color="#47ffaf"/><stop offset=".38" stop-color="#60ff97"/><stop offset=".41" stop-color="#5dff9a"/><stop offset=".44" stop-color="#6fff88"/><stop offset=".46" stop-color="#bbff3c"/><stop offset=".49" stop-color="#f9f400"/><stop offset=".51" stop-color="#ffb800"/><stop offset=".54" stop-color="#b6ff41"/><stop offset=".56" stop-color="#19ffde"/><stop offset=".59" stop-color="#007aff"/><stop offset=".62" stop-color="#0015ff"/><stop offset=".64" stop-color="#0000fb"/><stop offset=".67" stop-color="#0000fc"/><stop offset=".69" stop-color="#0000ff"/><stop offset=".72" stop-color="#0000ff"/><stop offset=".74" stop-color="#0000f5"/><stop offset=".77" stop-color="#0000e8"/><stop offset=".79" stop-color="#0000e6"/><stop offset=".82" stop-color="#0000e8"/><stop offset=".85" stop-color="#0000e4"/><stop offset=".87" stop-color="#0000d3"/><stop offset=".90" stop-color="#0000ba"/><stop offset=".92" stop-color="#0000a5"/><stop offset=".95" stop-color="#00009b"/><stop offset=".97" stop-color="#0000a8"/><stop offset="1.00" stop-color="#0000d4"/></linearGradient><linearGradient id="a50" x2="0" y2="1"><stop offset=".00" stop-color="#0064ff"/><stop offset=".03" stop-color="#0051ff"/><stop offset=".05" stop-color="#004fff"/><stop offset=".08" stop-color="#005bff"/><stop offset=".10" stop-color="#006eff"/><stop offset=".13" stop-color="#0085ff"/><stop offset=".15" stop-color="#009cff"/><stop offset=".18" stop-color="#00adff"/><stop offset=".21" stop-color="#00bbff"/><stop offset=".23" stop-color="#00c6ff"/><stop offset=".26" stop-color="#00d0ff"/><stop offset=".28" stop-color="#00ddfd"/><stop offset=".31" stop-color="#0bf4eb"/><stop offset=".33" stop-color="#27ffcf"/><stop offset=".36" stop-color="#4bffac"/><stop offset=".38" stop-color="#6dff89"/><stop offset=".41" stop-color="#7fff78"/><stop offset=".44" stop-color="#96ff61"/><stop offset=".46" stop-color="#c0ff37"/><stop offset=".49" stop-color="#ddff19"/><stop offset=".51" stop-color="#fbf100"/><stop offset=".54" stop-color="#86ff71"/><stop offset=".56" stop-color="#00d8ff"/><stop offset=".59" stop-color="#005bff"/><stop offset=".62" stop-color="#0003ff"/><stop offset=".64" stop-color="#0000ed"/><stop offset=".67" stop-color="#0000f0"/><stop offset=".69" stop-color="#0000fa"/><stop offset=".72" stop-color="#0000f5"/><stop offset=".74" stop-color="#0000e5"/><stop offset=".77" stop-color="#0000d9"/><stop offset=".79" stop-color="#0000d9"/><stop offset=".82" stop-color="#0000df"/><stop offset=".85" stop-color="#0000df"/><stop offset=".87" stop-color="#0000cf"/><stop offset=".90" stop-color="#0000b8"/><stop offset=".92" stop-color="#0000a3"/><stop offset=".95" stop-color="#000099"/><stop offset=".97" stop-color="#0000a6"/><stop offset="1.00" stop-color="#0000d1"/></linearGradient><linearGradient id="a51" x2="0" y2="1"><stop offset=".00" stop-color="#005fff"/><stop offset=".03" stop-color="#004dff"/><stop offset=".05" stop-color="#004aff"/><stop offset=".08" stop-color="#0054ff"/><stop offset=".10" stop-color="#0065ff"/><stop offset=".13" stop-color="#007aff"/><stop offset=".15" stop-color="#008eff"/><stop offset=".18" stop-color="#009fff"/><stop offset=".21" stop-color="#00acff"/><stop offset=".23" stop-color="#00b7ff"/><stop offset=".26" stop-color="#00c2ff"/><stop offset=".28" stop-color="#00d3ff"/><stop offset=".31" stop-color="#07eef0"/><stop offset=".33" stop-color="#29ffce"/><stop offset=".36" stop-color="#52ffa4"/><stop offset=".38" stop-color="#7bff7b"/><stop offset=".41" stop-color="#99ff5e"/><stop offset=".44" stop-color="#afff48"/><stop offset=".46" stop-color="#c0ff37"/><stop offset=".49" stop-color="#c3ff34"/><stop offset=".51" stop-color="#caff2c"/><stop offset=".54" stop-color="#59ff9d"/><stop offset=".56" stop-color="#00b1ff"/><stop offset=".59" stop-color="#0042ff"/><stop offset=".62" stop-color="#0000ff"/><stop offset=".64" stop-color="#0000e5"/><stop offset=".67" stop-color="#0000e8"/><stop offset=".69" stop-color="#0000f0"/><stop offset=".72" stop-color="#0000e8"/><stop offset=".74" stop-color="#0000d7"/><stop offset=".77" stop-color="#0000cc"/><stop offset=".79" stop-color="#0000cf"/><stop offset=".82" stop-color="#0000d8"/><stop offset=".85" stop-color="#0000db"/><stop offset=".87" stop-color="#0000ce"/><stop offset=".90" stop-color="#0000b7"/><stop offset=".92" stop-color="#0000a2"/><stop offset=".95" stop-color="#000098"/><stop offset=".97" stop-color="#0000a4"/><stop offset="1.00" stop-color="#0000d0"/></linearGradient><linearGradient id="a52" x2="0" y2="1"><stop offset=".00" stop-color="#005cff"/><stop offset=".03" stop-color="#004aff"/><stop offset=".05" stop-color="#0046ff"/><stop offset=".08" stop-color="#004cff"/><stop offset=".10" stop-color="#005aff"/><stop offset=".13" stop-color="#006bff"/><stop offset=".15" stop-color="#007dff"/><stop offset=".18" stop-color="#008dff"/><stop offset=".21" stop-color="#009bff"/><stop offset=".23" stop-color="#00a8ff"/><stop offset=".26" stop-color="#00b7ff"/><stop offset=".28" stop-color="#00cbff"/><stop offset=".31" stop-color="#05ecf1"/><stop offset=".33" stop-color="#2dffca"/><stop offset=".36" stop-color="#5cff9b"/><stop offset=".38" stop-color="#88ff6f"/><stop offset=".41" stop-color="#a9ff4d"/><stop offset=".44" stop-color="#bbff3b"/><stop offset=".46" stop-color="#bbff3c"/><stop offset=".49" stop-color="#aaff4d"/><stop offset=".51" stop-color="#9eff59"/><stop offset=".54" stop-color="#32ffc5"/><stop offset=".56" stop-color="#0091ff"/><stop offset=".59" stop-color="#002fff"/><stop offset=".62" stop-color="#0000fc"/><stop offset=".64" stop-color="#0000e1"/><stop offset=".67" stop-color="#0000e3"/><stop offset=".69" stop-color="#0000e8"/><stop offset=".72" stop-color="#0000dd"/><stop offset=".74" stop-color="#0000cb"/><stop offset=".77" stop-color="#0000c0"/><stop offset=".79" stop-color="#0000c7"/><stop offset=".82" stop-color="#0000d4"/><stop offset=".85" stop-color="#0000da"/><stop offset=".87" stop-color="#0000ce"/><stop offset=".90" stop-color="#0000b8"/><stop offset=".92" stop-color="#0000a1"/><stop offset=".95" stop-color="#000096"/><stop offset=".97" stop-color="#0000a2"/><stop offset="1.00" stop-color="#0000d0"/></linearGradient><linearGradient id="a53" x2="0" y2="1"><stop offset=".00" stop-color="#005aff"/><stop offset=".03" stop-color="#0048ff"/><stop offset=".05" stop-color="#0041ff"/><stop offset=".08" stop-color="#0044ff"/><stop offset=".10" stop-color="#004dff"/><stop offset=".13" stop-color="#005aff"/><stop offset=".15" stop-color="#006aff"/><stop offset=".18" stop-color="#007aff"/><stop offset=".21" stop-color="#008aff"/><stop offset=".23" stop-color="#009aff"/><stop offset=".26" stop-color="#00adff"/><stop offset=".28" stop-color="#00c6ff"/><stop offset=".31" stop-color="#06edf1"/><stop offset=".33" stop-color="#33ffc4"/><stop offset=".36" stop-color="#66ff91"/><stop offset=".38" stop-color="#95ff62"/><stop offset=".41" stop-color="#b4ff42"/><stop offset=".44" stop-color="#c0ff37"/><stop offset=".46" stop-color="#b2ff44"/><stop offset=".49" stop-color="#93ff64"/><stop offset=".51" stop-color="#76ff81"/><stop offset=".54" stop-color="#10f9e7"/><stop offset=".56" stop-color="#0077ff"/><stop offset=".59" stop-color="#0021ff"/><stop offset=".62" stop-color="#0000f7"/><stop offset=".64" stop-color="#0000df"/><stop offset=".67" stop-color="#0000e0"/><stop offset=".69" stop-color="#0000e2"/><stop offset=".72" stop-color="#0000d5"/><stop offset=".74" stop-color="#0000c1"/><stop offset=".77" stop-color="#0000b7"/><stop offset=".79" stop-color="#0000c0"/><stop offset=".82" stop-color="#0000d2"/><stop offset=".85" stop-color="#0000db"/><stop offset=".87" stop-color="#0000d0"/><stop offset=".90" stop-color="#0000b9"/><stop offset=".92" stop-color="#0000a1"/><stop offset=".95" stop-color="#000095"/><stop offset=".97" stop-color="#0000a1"/><stop offset="1.00" stop-color="#0000d0"/></linearGradient><linearGradient id="a54" x2="0" y2="1"><stop offset=".00" stop-color="#0057ff"/><stop offset=".03" stop-color="#0047ff"/><stop offset=".05" stop-color="#003dff"/><stop offset=".08" stop-color="#003aff"/><stop offset=".10" stop-color="#003dff"/><stop offset=".13" stop-color="#0046ff"/><stop offset=".15" stop-color="#0053ff"/><stop offset=".18" stop-color="#0064ff"/><stop offset=".21" stop-color="#0078ff"/><stop offset=".23" stop-color="#008dff"/><stop offset=".26" stop-color="#00a4ff"/><stop offset=".28" stop-color="#00c2ff"/><stop offset=".31" stop-color="#08efef"/><stop offset=".33" stop-color="#3bffbc"/><stop offset=".36" stop-color="#72ff85"/><stop offset=".38" stop-color="#a1ff56"/><stop offset=".41" stop-color="#bdff3a"/><stop offset=".44" stop-color="#c0ff37"/><stop offset=".46" stop-color="#a8ff4f"/><stop offset=".49" stop-color="#7cff7a"/><stop offset=".51" stop-color="#51ffa6"/><stop offset=".54" stop-color="#00d4ff"/><stop offset=".56" stop-color="#0062ff"/><stop offset=".59" stop-color="#0016ff"/><stop offset=".62" stop-color="#0000f4"/><stop offset=".64" stop-color="#0000e0"/><stop offset=".67" stop-color="#0000df"/><stop offset=".69" stop-color="#0000dd"/><stop offset=".72" stop-color="#0000cd"/><stop offset=".74" stop-color="#0000b9"/><stop offset=".77" stop-color="#0000b0"/><stop offset=".79" stop-color="#0000bb"/><stop offset=".82" stop-color="#0000d0"/><stop offset=".85" stop-color="#0000dc"/><stop offset=".87" stop-color="#0000d2"/><stop offset=".90" stop-color="#0000bb"/><stop offset=".92" stop-color="#0000a2"/><stop offset=".95" stop-color="#000095"/><stop offset=".97" stop-color="#0000a0"/><stop offset="1.00" stop-color="#0000d1"/></linearGradient><linearGradient id="a55" x2="0" y2="1"><stop offset=".00" stop-color="#0054ff"/><stop offset=".03" stop-color="#0047ff"/><stop offset=".05" stop-color="#003aff"/><stop offset=".08" stop-color="#0031ff"/><stop offset=".10" stop-color="#002dff"/><stop offset=".13" stop-color="#002fff"/><stop offset=".15" stop-color="#0039ff"/><stop offset=".18" stop-color="#004cff"/><stop offset=".21" stop-color="#0065ff"/><stop offset=".23" stop-color="#0080ff"/><stop offset=".26" stop-color="#009cff"/><stop offset=".28" stop-color="#00beff"/><stop offset=".31" stop-color="#09f1ed"/><stop offset=".33" stop-color="#42ffb5"/><stop offset=".36" stop-color="#7eff78"/><stop offset=".38" stop-color="#aeff49"/><stop offset=".41" stop-color="#c4ff33"/><stop offset=".44" stop-color="#bdff3a"/><stop offset=".46" stop-color="#9bff5c"/><stop offset=".49" stop-color="#65ff91"/><stop offset=".51" stop-color="#2fffc8"/><stop offset=".54" stop-color="#00b2ff"/><stop offset=".56" stop-color="#004eff"/><stop offset=".59" stop-color="#000eff"/><stop offset=".62" stop-color="#0000f3"/><stop offset=".64" stop-color="#0000e1"/><stop offset=".67" stop-color="#0000de"/><stop offset=".69" stop-color="#0000d9"/><stop offset=".72" stop-color="#0000c7"/><stop offset=".74" stop-color="#0000b2"/><stop offset=".77" stop-color="#0000a9"/><stop offset=".79" stop-color="#0000b7"/><stop offset=".82" stop-color="#0000cf"/><stop offset=".85" stop-color="#0000dd"/><stop offset=".87" stop-color="#0000d4"/><stop offset=".90" stop-color="#0000bd"/><stop offset=".92" stop-color="#0000a4"/><stop offset=".95" stop-color="#000096"/><stop offset=".97" stop-color="#0000a0"/><stop offset="1.00" stop-color="#0000d0"/></linearGradient><linearGradient id="a56" x2="0" y2="1"><stop offset=".00" stop-color="#0051ff"/><stop offset=".03" stop-color="#0047ff"/><stop offset=".05" stop-color="#0038ff"/><stop offset=".08" stop-color="#0028ff"/><stop offset=".10" stop-color="#001bff"/><stop offset=".13" stop-color="#0016ff"/><stop offset=".15" stop-color="#001dff"/><stop offset=".18" stop-color="#0032ff"/><stop offset=".21" stop-color="#0051ff"/><stop offset=".23" stop-color="#0072ff"/><stop offset=".26" stop-color="#0093ff"/><stop offset=".28" stop-color="#00baff"/><stop offset=".31" stop-color="#0af2ec"/><stop offset=".33" stop-color="#49ffae"/><stop offset=".36" stop-color="#8bff6c"/><stop offset=".38" stop-color="#baff3c"/><stop offset=".41" stop-color="#c9ff2d"/><stop offset=".44" stop-color="#b8ff3f"/><stop offset=".46" stop-color="#8cff6b"/><stop offset=".49" stop-color="#4effa9"/><stop offset=".51" stop-color="#0ff8e8"/><stop offset=".54" stop-color="#0093ff"/><stop offset=".56" stop-color="#003eff"/><stop offset=".59" stop-color="#0007ff"/><stop offset=".62" stop-color="#0000f3"/><stop offset=".64" stop-color="#0000e3"/><stop offset=".67" stop-color="#0000dd"/><stop offset=".69" stop-color="#0000d5"/><stop offset=".72" stop-color="#0000c1"/><stop offset=".74" stop-color="#0000ac"/><stop offset=".77" stop-color="#0000a5"/><stop offset=".79" stop-color="#0000b4"/><stop offset=".82" stop-color="#0000cd"/><stop offset=".85" stop-color="#0000dd"/><stop offset=".87" stop-color="#0000d6"/><stop offset=".90" stop-color="#0000bf"/><stop offset=".92" stop-color="#0000a6"/><stop offset=".95" stop-color="#000098"/><stop offset=".97" stop-color="#0000a1"/><stop offset="1.00" stop-color="#0000d0"/></linearGradient><linearGradient id="a57" x2="0" y2="1"><stop offset=".00" stop-color="#004eff"/><stop offset=".03" stop-color="#0048ff"/><stop offset=".05" stop-color="#0036ff"/><stop offset=".08" stop-color="#0020ff"/><stop offset=".10" stop-color="#000cff"/><stop offset=".13" stop-color="#0000ff"/><stop offset=".15" stop-color="#0004ff"/><stop offset=".18" stop-color="#001aff"/><stop offset=".21" stop-color="#003eff"/><stop offset=".23" stop-color="#0064ff"/><stop offset=".26" stop-color="#0089ff"/><stop offset=".28" stop-color="#00b4ff"/><stop offset=".31" stop-color="#0af2ed"/><stop offset=".33" stop-color="#4fffa8"/><stop offset=".36" stop-color="#95ff61"/><stop offset=".38" stop-color="#c6ff31"/><stop offset=".41" stop-color="#ceff29"/><stop offset=".44" stop-color="#b1ff45"/><stop offset=".46" stop-color="#7bff7c"/><stop offset=".49" stop-color="#37ffc0"/><stop offset=".51" stop-color="#00d6ff"/><stop offset=".54" stop-color="#0079ff"/><stop offset=".56" stop-color="#0030ff"/><stop offset=".59" stop-color="#0002ff"/><stop offset=".62" stop-color="#0000f3"/><stop offset=".64" stop-color="#0000e4"/><stop offset=".67" stop-color="#0000dd"/><stop offset=".69" stop-color="#0000d2"/><stop offset=".72" stop-color="#0000bd"/><stop offset=".74" stop-color="#0000a8"/><stop offset=".77" stop-color="#0000a2"/><stop offset=".79" stop-color="#0000b2"/><stop offset=".82" stop-color="#0000cc"/><stop offset=".85" stop-color="#0000dd"/><stop offset=".87" stop-color="#0000d7"/><stop offset=".90" stop-color="#0000c2"/><stop offset=".92" stop-color="#0000aa"/><stop offset=".95" stop-color="#00009c"/><stop offset=".97" stop-color="#0000a4"/><stop offset="1.00" stop-color="#0000cf"/></linearGradient><linearGradient id="a58" x2="0" y2="1"><stop offset=".00" stop-color="#004cff"/><stop offset=".03" stop-color="#0048ff"/><stop offset=".05" stop-color="#0034ff"/><stop offset=".08" stop-color="#0019ff"/><stop offset=".10" stop-color="#0000ff"/><stop offset=".13" stop-color="#0000fc"/><stop offset=".15" stop-color="#0000fd"/><stop offset=".18" stop-color="#0006ff"/><stop offset=".21" stop-color="#002bff"/><stop offset=".23" stop-color="#0055ff"/><stop offset=".26" stop-color="#007dff"/><stop offset=".28" stop-color="#00acff"/><stop offset=".31" stop-color="#08efef"/><stop offset=".33" stop-color="#53ffa4"/><stop offset=".36" stop-color="#9eff58"/><stop offset=".38" stop-color="#ceff28"/><stop offset=".41" stop-color="#cfff28"/><stop offset=".44" stop-color="#a9ff4e"/><stop offset=".46" stop-color="#69ff8e"/><stop offset=".49" stop-color="#21ffd6"/><stop offset=".51" stop-color="#00b9ff"/><stop offset=".54" stop-color="#0064ff"/><stop offset=".56" stop-color="#0025ff"/><stop offset=".59" stop-color="#0000ff"/><stop offset=".62" stop-color="#0000f3"/><stop offset=".64" stop-color="#0000e6"/><stop offset=".67" stop-color="#0000dd"/><stop offset=".69" stop-color="#0000d1"/><stop offset=".72" stop-color="#0000bc"/><stop offset=".74" stop-color="#0000a8"/><stop offset=".77" stop-color="#0000a2"/><stop offset=".79" stop-color="#0000b2"/><stop offset=".82" stop-color="#0000cb"/><stop offset=".85" stop-color="#0000dc"/><stop offset=".87" stop-color="#0000d7"/><stop offset=".90" stop-color="#0000c4"/><stop offset=".92" stop-color="#0000ae"/><stop offset=".95" stop-color="#0000a1"/><stop offset=".97" stop-color="#0000a9"/><stop offset="1.00" stop-color="#0000d1"/></linearGradient><linearGradient id="a59" x2="0" y2="1"><stop offset=".00" stop-color="#004cff"/><stop offset=".03" stop-color="#0047ff"/><stop offset=".05" stop-color="#0031ff"/><stop offset=".08" stop-color="#0014ff"/><stop offset=".10" stop-color="#0000ff"/><stop offset=".13" stop-color="#0000f0"/><stop offset=".15" stop-color="#0000ed"/><stop offset=".18" stop-color="#0000ff"/><stop offset=".21" stop-color="#001aff"/><stop offset=".23" stop-color="#0045ff"/><stop offset=".26" stop-color="#006fff"/><stop offset=".28" stop-color="#00a1ff"/><stop offset=".31" stop-color="#04eaf3"/><stop offset=".33" stop-color="#55ffa2"/><stop offset=".36" stop-color="#a4ff53"/><stop offset=".38" stop-color="#d4ff23"/><stop offset=".41" stop-color="#ceff29"/><stop offset=".44" stop-color="#9eff59"/><stop offset=".46" stop-color="#57ffa0"/><stop offset=".49" stop-color="#0df5ea"/><stop offset=".51" stop-color="#00a1ff"/><stop offset=".54" stop-color="#0054ff"/><stop offset=".56" stop-color="#001dff"/><stop offset=".59" stop-color="#0000ff"/><stop offset=".62" stop-color="#0000f4"/><stop offset=".64" stop-color="#0000e7"/><stop offset=".67" stop-color="#0000de"/><stop offset=".69" stop-color="#0000d2"/><stop offset=".72" stop-color="#0000be"/><stop offset=".74" stop-color="#0000ac"/><stop offset=".77" stop-color="#0000a6"/><stop offset=".79" stop-color="#0000b4"/><stop offset=".82" stop-color="#0000cb"/><stop offset=".85" stop-color="#0000db"/><stop offset=".87" stop-color="#0000d7"/><stop offset=".90" stop-color="#0000c7"/><stop offset=".92" stop-color="#0000b4"/><stop offset=".95" stop-color="#0000a9"/><stop offset=".97" stop-color="#0000b0"/><stop offset="1.00" stop-color="#0000d4"/></linearGradient><linearGradient id="a60" x2="0" y2="1"><stop offset=".00" stop-color="#004cff"/><stop offset=".03" stop-color="#0046ff"/><stop offset=".05" stop-color="#002fff"/><stop offset=".08" stop-color="#0011ff"/><stop offset=".10" stop-color="#0000ff"/><stop offset=".13" stop-color="#0000e9"/><stop offset=".15" stop-color="#0000e3"/><stop offset=".18" stop-color="#0000f7"/><stop offset=".21" stop-color="#000bff"/><stop offset=".23" stop-color="#0034ff"/><stop offset=".26" stop-color="#005eff"/><stop offset=".28" stop-color="#0094ff"/><stop offset=".31" stop-color="#00e2f9"/><stop offset=".33" stop-color="#53ffa3"/><stop offset=".36" stop-color="#a6ff51"/><stop offset=".38" stop-color="#d5ff21"/><stop offset=".41" stop-color="#caff2d"/><stop offset=".44" stop-color="#91ff66"/><stop offset=".46" stop-color="#45ffb2"/><stop offset=".49" stop-color="#00defd"/><stop offset=".51" stop-color="#008dff"/><stop offset=".54" stop-color="#0048ff"/><stop offset=".56" stop-color="#0017ff"/><stop offset=".59" stop-color="#0000ff"/><stop offset=".62" stop-color="#0000f4"/><stop offset=".64" stop-color="#0000e8"/><stop offset=".67" stop-color="#0000e0"/><stop offset=".69" stop-color="#0000d5"/><stop offset=".72" stop-color="#0000c3"/><stop offset=".74" stop-color="#0000b2"/><stop offset=".77" stop-color="#0000ac"/><stop offset=".79" stop-color="#0000b8"/><stop offset=".82" stop-color="#0000cc"/><stop offset=".85" stop-color="#0000da"/><stop offset=".87" stop-color="#0000d7"/><stop offset=".90" stop-color="#0000ca"/><stop offset=".92" stop-color="#0000bb"/><stop offset=".95" stop-color="#0000b2"/><stop offset=".97" stop-color="#0000b9"/><stop offset="1.00" stop-color="#0000d8"/></linearGradient><linearGradient id="a61" x2="0" y2="1"><stop offset=".00" stop-color="#004cff"/><stop offset=".03" stop-color="#0044ff"/><stop offset=".05" stop-color="#002eff"/><stop offset=".08" stop-color="#000fff"/><stop offset=".10" stop-color="#0000ff"/><stop offset=".13" stop-color="#0000e6"/><stop offset=".15" stop-color="#0000de"/><stop offset=".18" stop-color="#0000ed"/><stop offset=".21" stop-color="#0000ff"/><stop offset=".23" stop-color="#0023ff"/><stop offset=".26" stop-color="#004dff"/><stop offset=".28" stop-color="#0086ff"/><stop offset=".31" stop-color="#00d8ff"/><stop offset=".33" stop-color="#4effa8"/><stop offset=".36" stop-color="#a4ff53"/><stop offset=".38" stop-color="#d2ff25"/><stop offset=".41" stop-color="#c1ff35"/><stop offset=".44" stop-color="#83ff74"/><stop offset=".46" stop-color="#33ffc4"/><stop offset=".49" stop-color="#00c8ff"/><stop offset=".51" stop-color="#007cff"/><stop offset=".54" stop-color="#003eff"/><stop offset=".56" stop-color="#0012ff"/><stop offset=".59" stop-color="#0000ff"/><stop offset=".62" stop-color="#0000f3"/><stop offset=".64" stop-color="#0000ea"/><stop offset=".67" stop-color="#0000e3"/><stop offset=".69" stop-color="#0000d9"/><stop offset=".72" stop-color="#0000ca"/><stop offset=".74" stop-color="#0000ba"/><stop offset=".77" stop-color="#0000b4"/><stop offset=".79" stop-color="#0000be"/><stop offset=".82" stop-color="#0000cf"/><stop offset=".85" stop-color="#0000db"/><stop offset=".87" stop-color="#0000d9"/><stop offset=".90" stop-color="#0000ce"/><stop offset=".92" stop-color="#0000c1"/><stop offset=".95" stop-color="#0000ba"/><stop offset=".97" stop-color="#0000c1"/><stop offset="1.00" stop-color="#0000db"/></linearGradient><linearGradient id="a62" x2="0" y2="1"><stop offset=".00" stop-color="#004dff"/><stop offset=".03" stop-color="#0044ff"/><stop offset=".05" stop-color="#002dff"/><stop offset=".08" stop-color="#0010ff"/><stop offset=".10" stop-color="#0000ff"/><stop offset=".13" stop-color="#0000e6"/><stop offset=".15" stop-color="#0000db"/><stop offset=".18" stop-color="#0000e4"/><stop offset=".21" stop-color="#0000ff"/><stop offset=".23" stop-color="#0012ff"/><stop offset=".26" stop-color="#003cff"/><stop offset=".28" stop-color="#0076ff"/><stop offset=".31" stop-color="#00cbff"/><stop offset=".33" stop-color="#46ffb1"/><stop offset=".36" stop-color="#9bff5b"/><stop offset=".38" stop-color="#c9ff2e"/><stop offset=".41" stop-color="#b5ff42"/><stop offset=".44" stop-color="#73ff84"/><stop offset=".46" stop-color="#21ffd5"/><stop offset=".49" stop-color="#00b5ff"/><stop offset=".51" stop-color="#006cff"/><stop offset=".54" stop-color="#0034ff"/><stop offset=".56" stop-color="#000dff"/><stop offset=".59" stop-color="#0000ff"/><stop offset=".62" stop-color="#0000f3"/><stop offset=".64" stop-color="#0000ec"/><stop offset=".67" stop-color="#0000e7"/><stop offset=".69" stop-color="#0000df"/><stop offset=".72" stop-color="#0000d1"/><stop offset=".74" stop-color="#0000c3"/><stop offset=".77" stop-color="#0000be"/><stop offset=".79" stop-color="#0000c6"/><stop offset=".82" stop-color="#0000d4"/><stop offset=".85" stop-color="#0000de"/><stop offset=".87" stop-color="#0000dd"/><stop offset=".90" stop-color="#0000d3"/><stop offset=".92" stop-color="#0000c8"/><stop offset=".95" stop-color="#0000c1"/><stop offset=".97" stop-color="#0000c6"/><stop offset="1.00" stop-color="#0000dc"/></linearGradient><linearGradient id="a63" x2="0" y2="1"><stop offset=".00" stop-color="#004dff"/><stop offset=".03" stop-color="#0044ff"/><stop offset=".05" stop-color="#002eff"/><stop offset=".08" stop-color="#0011ff"/><stop offset=".10" stop-color="#0000ff"/><stop offset=".13" stop-color="#0000e8"/><stop offset=".15" stop-color="#0000d9"/><stop offset=".18" stop-color="#0000dd"/><stop offset=".21" stop-color="#0000f1"/><stop offset=".23" stop-color="#0002ff"/><stop offset=".26" stop-color="#002bff"/><stop offset=".28" stop-color="#0066ff"/><stop offset=".31" stop-color="#00bcff"/><stop offset=".33" stop-color="#39ffbe"/><stop offset=".36" stop-color="#8dff69"/><stop offset=".38" stop-color="#b9ff3e"/><stop offset=".41" stop-color="#a4ff53"/><stop offset=".44" stop-color="#61ff96"/><stop offset=".46" stop-color="#10fae7"/><stop offset=".49" stop-color="#00a2ff"/><stop offset=".51" stop-color="#005eff"/><stop offset=".54" stop-color="#002bff"/><stop offset=".56" stop-color="#0008ff"/><stop offset=".59" stop-color="#0000ff"/><stop offset=".62" stop-color="#0000f4"/><stop offset=".64" stop-color="#0000ee"/><stop offset=".67" stop-color="#0000eb"/><stop offset=".69" stop-color="#0000e5"/><stop offset=".72" stop-color="#0000d9"/><stop offset=".74" stop-color="#0000cc"/><stop offset=".77" stop-color="#0000c7"/><stop offset=".79" stop-color="#0000cf"/><stop offset=".82" stop-color="#0000dc"/><stop offset=".85" stop-color="#0000e5"/><stop offset=".87" stop-color="#0000e3"/><stop offset=".90" stop-color="#0000da"/><stop offset=".92" stop-color="#0000ce"/><stop offset=".95" stop-color="#0000c7"/><stop offset=".97" stop-color="#0000ca"/><stop offset="1.00" stop-color="#0000dc"/></linearGradient><linearGradient id="a64" x2="0" y2="1"><stop offset=".00" stop-color="#004dff"/><stop offset=".03" stop-color="#0044ff"/><stop offset=".05" stop-color="#0030ff"/><stop offset=".08" stop-color="#0014ff"/><stop offset=".10" stop-color="#0000ff"/><stop offset=".13" stop-color="#0000eb"/><stop offset=".15" stop-color="#0000da"/><stop offset=".18" stop-color="#0000d8"/><stop offset=".21" stop-color="#0000e6"/><stop offset=".23" stop-color="#0000ff"/><stop offset=".26" stop-color="#001cff"/><stop offset=".28" stop-color="#0056ff"/><stop offset=".31" stop-color="#00aaff"/><stop offset=".33" stop-color="#28ffcf"/><stop offset=".36" stop-color="#79ff7e"/><stop offset=".38" stop-color="#a2ff55"/><stop offset=".41" stop-color="#8dff6a"/><stop offset=".44" stop-color="#4cffab"/><stop offset=".46" stop-color="#00e4f8"/><stop offset=".49" stop-color="#0091ff"/><stop offset=".51" stop-color="#0051ff"/><stop offset=".54" stop-color="#0022ff"/><stop offset=".56" stop-color="#0003ff"/><stop offset=".59" stop-color="#0000fe"/><stop offset=".62" stop-color="#0000f4"/><stop offset=".64" stop-color="#0000f0"/><stop offset=".67" stop-color="#0000ef"/><stop offset=".69" stop-color="#0000eb"/><stop offset=".72" stop-color="#0000e1"/><stop offset=".74" stop-color="#0000d6"/><stop offset=".77" stop-color="#0000d1"/><stop offset=".79" stop-color="#0000d8"/><stop offset=".82" stop-color="#0000e4"/><stop offset=".85" stop-color="#0000ec"/><stop offset=".87" stop-color="#0000ea"/><stop offset=".90" stop-color="#0000e0"/><stop offset=".92" stop-color="#0000d4"/><stop offset=".95" stop-color="#0000cc"/><stop offset=".97" stop-color="#0000cc"/><stop offset="1.00" stop-color="#0000db"/></linearGradient><linearGradient id="a65" x2="0" y2="1"><stop offset=".00" stop-color="#004dff"/><stop offset=".03" stop-color="#0045ff"/><stop offset=".05" stop-color="#0032ff"/><stop offset=".08" stop-color="#0019ff"/><stop offset=".10" stop-color="#0000ff"/><stop offset=".13" stop-color="#0000f0"/><stop offset=".15" stop-color="#0000dc"/><stop offset=".18" stop-color="#0000d5"/><stop offset=".21" stop-color="#0000dd"/><stop offset=".23" stop-color="#0000f6"/><stop offset=".26" stop-color="#000eff"/><stop offset=".28" stop-color="#0047ff"/><stop offset=".31" stop-color="#0098ff"/><stop offset=".33" stop-color="#13fde4"/><stop offset=".36" stop-color="#5dff99"/><stop offset=".38" stop-color="#83ff74"/><stop offset=".41" stop-color="#6fff88"/><stop offset=".44" stop-color="#33ffc4"/><stop offset=".46" stop-color="#00ccff"/><stop offset=".49" stop-color="#0080ff"/><stop offset=".51" stop-color="#0046ff"/><stop offset=".54" stop-color="#001bff"/><stop offset=".56" stop-color="#0000ff"/><stop offset=".59" stop-color="#0000fc"/><stop offset=".62" stop-color="#0000f3"/><stop offset=".64" stop-color="#0000f3"/><stop offset=".67" stop-color="#0000f4"/><stop offset=".69" stop-color="#0000f2"/><stop offset=".72" stop-color="#0000e9"/><stop offset=".74" stop-color="#0000df"/><stop offset=".77" stop-color="#0000da"/><stop offset=".79" stop-color="#0000e0"/><stop offset=".82" stop-color="#0000eb"/><stop offset=".85" stop-color="#0000f2"/><stop offset=".87" stop-color="#0000f0"/><stop offset=".90" stop-color="#0000e7"/><stop offset=".92" stop-color="#0000db"/><stop offset=".95" stop-color="#0000d2"/><stop offset=".97" stop-color="#0000d1"/><stop offset="1.00" stop-color="#0000dc"/></linearGradient><linearGradient id="a66" x2="0" y2="1"><stop offset=".00" stop-color="#004cff"/><stop offset=".03" stop-color="#0047ff"/><stop offset=".05" stop-color="#0036ff"/><stop offset=".08" stop-color="#001eff"/><stop offset=".10" stop-color="#0003ff"/><stop offset=".13" stop-color="#0000f6"/><stop offset=".15" stop-color="#0000e0"/><stop offset=".18" stop-color="#0000d4"/><stop offset=".21" stop-color="#0000d7"/><stop offset=".23" stop-color="#0000eb"/><stop offset=".26" stop-color="#0003ff"/><stop offset=".28" stop-color="#003aff"/><stop offset=".31" stop-color="#0084ff"/><stop offset=".33" stop-color="#00dffc"/><stop offset=".36" stop-color="#3bffbb"/><stop offset=".38" stop-color="#5bff9c"/><stop offset=".41" stop-color="#49ffae"/><stop offset=".44" stop-color="#15ffe2"/><stop offset=".46" stop-color="#00b2ff"/><stop offset=".49" stop-color="#006fff"/><stop offset=".51" stop-color="#003cff"/><stop offset=".54" stop-color="#0015ff"/><stop offset=".56" stop-color="#0000ff"/><stop offset=".59" stop-color="#0000fa"/><stop offset=".62" stop-color="#0000f3"/><stop offset=".64" stop-color="#0000f4"/><stop offset=".67" stop-color="#0000f9"/><stop offset=".69" stop-color="#0000f9"/><stop offset=".72" stop-color="#0000f2"/><stop offset=".74" stop-color="#0000e8"/><stop offset=".77" stop-color="#0000e3"/><stop offset=".79" stop-color="#0000e7"/><stop offset=".82" stop-color="#0000f0"/><stop offset=".85" stop-color="#0000f6"/><stop offset=".87" stop-color="#0000f4"/><stop offset=".90" stop-color="#0000ec"/><stop offset=".92" stop-color="#0000e2"/><stop offset=".95" stop-color="#0000da"/><stop offset=".97" stop-color="#0000d8"/><stop offset="1.00" stop-color="#0000e0"/></linearGradient><linearGradient id="a67" x2="0" y2="1"><stop offset=".00" stop-color="#004cff"/><stop offset=".03" stop-color="#0049ff"/><stop offset=".05" stop-color="#003aff"/><stop offset=".08" stop-color="#0023ff"/><stop offset=".10" stop-color="#000aff"/><stop offset=".13" stop-color="#0000fe"/><stop offset=".15" stop-color="#0000e6"/><stop offset=".18" stop-color="#0000d6"/><stop offset=".21" stop-color="#0000d4"/><stop offset=".23" stop-color="#0000e4"/><stop offset=".26" stop-color="#0000ff"/><stop offset=".28" stop-color="#002eff"/><stop offset=".31" stop-color="#0071ff"/><stop offset=".33" stop-color="#00bdff"/><stop offset=".36" stop-color="#14ffe2"/><stop offset=".38" stop-color="#2effc9"/><stop offset=".41" stop-color="#1effd9"/><stop offset=".44" stop-color="#00d5ff"/><stop offset=".46" stop-color="#0095ff"/><stop offset=".49" stop-color="#005eff"/><stop offset=".51" stop-color="#0033ff"/><stop offset=".54" stop-color="#0012ff"/><stop offset=".56" stop-color="#0000ff"/><stop offset=".59" stop-color="#0000f9"/><stop offset=".62" stop-color="#0000f2"/><stop offset=".64" stop-color="#0000f6"/><stop offset=".67" stop-color="#0000fd"/><stop offset=".69" stop-color="#0000ff"/><stop offset=".72" stop-color="#0000fa"/><stop offset=".74" stop-color="#0000f1"/><stop offset=".77" stop-color="#0000ea"/><stop offset=".79" stop-color="#0000ec"/><stop offset=".82" stop-color="#0000f2"/><stop offset=".85" stop-color="#0000f6"/><stop offset=".87" stop-color="#0000f5"/><stop offset=".90" stop-color="#0000f0"/><stop offset=".92" stop-color="#0000e9"/><stop offset=".95" stop-color="#0000e3"/><stop offset=".97" stop-color="#0000e1"/><stop offset="1.00" stop-color="#0000e6"/></linearGradient><linearGradient id="a68" x2="0" y2="1"><stop offset=".00" stop-color="#004cff"/><stop offset=".03" stop-color="#004aff"/><stop offset=".05" stop-color="#003dff"/><stop offset=".08" stop-color="#0029ff"/><stop offset=".10" stop-color="#0011ff"/><stop offset=".13" stop-color="#0000ff"/><stop offset=".15" stop-color="#0000ed"/><stop offset=".18" stop-color="#0000da"/><stop offset=".21" stop-color="#0000d3"/><stop offset=".23" stop-color="#0000df"/><stop offset=".26" stop-color="#0000ff"/><stop offset=".28" stop-color="#0023ff"/><stop offset=".31" stop-color="#005dff"/><stop offset=".33" stop-color="#009aff"/><stop offset=".36" stop-color="#00cdff"/><stop offset=".38" stop-color="#00e3f9"/><stop offset=".41" stop-color="#00d4ff"/><stop offset=".44" stop-color="#00aaff"/><stop offset=".46" stop-color="#0079ff"/><stop offset=".49" stop-color="#004eff"/><stop offset=".51" stop-color="#002cff"/><stop offset=".54" stop-color="#0010ff"/><stop offset=".56" stop-color="#0000ff"/><stop offset=".59" stop-color="#0000f9"/><stop offset=".62" stop-color="#0000f2"/><stop offset=".64" stop-color="#0000f7"/><stop offset=".67" stop-color="#0000ff"/><stop offset=".69" stop-color="#0000ff"/><stop offset=".72" stop-color="#0000ff"/><stop offset=".74" stop-color="#0000f8"/><stop offset=".77" stop-color="#0000f0"/><stop offset=".79" stop-color="#0000ef"/><stop offset=".82" stop-color="#0000f2"/><stop offset=".85" stop-color="#0000f5"/><stop offset=".87" stop-color="#0000f5"/><stop offset=".90" stop-color="#0000f3"/><stop offset=".92" stop-color="#0000ef"/><stop offset=".95" stop-color="#0000ec"/><stop offset=".97" stop-color="#0000eb"/><stop offset="1.00" stop-color="#0000ed"/></linearGradient><linearGradient id="a69" x2="0" y2="1"><stop offset=".00" stop-color="#004dff"/><stop offset=".03" stop-color="#004cff"/><stop offset=".05" stop-color="#0041ff"/><stop offset=".08" stop-color="#002fff"/><stop offset=".10" stop-color="#0018ff"/><stop offset=".13" stop-color="#0000ff"/><stop offset=".15" stop-color="#0000f5"/><stop offset=".18" stop-color="#0000de"/><stop offset=".21" stop-color="#0000d4"/><stop offset=".23" stop-color="#0000dc"/><stop offset=".26" stop-color="#0000fc"/><stop offset=".28" stop-color="#0019ff"/><stop offset=".31" stop-color="#004aff"/><stop offset=".33" stop-color="#0078ff"/><stop offset=".36" stop-color="#009cff"/><stop offset=".38" stop-color="#00aaff"/><stop offset=".41" stop-color="#009eff"/><stop offset=".44" stop-color="#0080ff"/><stop offset=".46" stop-color="#005dff"/><stop offset=".49" stop-color="#003eff"/><stop offset=".51" stop-color="#0025ff"/><stop offset=".54" stop-color="#000fff"/><stop offset=".56" stop-color="#0000ff"/><stop offset=".59" stop-color="#0000fa"/><stop offset=".62" stop-color="#0000f4"/><stop offset=".64" stop-color="#0000f9"/><stop offset=".67" stop-color="#0000ff"/><stop offset=".69" stop-color="#0000ff"/><stop offset=".72" stop-color="#0000ff"/><stop offset=".74" stop-color="#0000fd"/><stop offset=".77" stop-color="#0000f4"/><stop offset=".79" stop-color="#0000f0"/><stop offset=".82" stop-color="#0000f1"/><stop offset=".85" stop-color="#0000f3"/><stop offset=".87" stop-color="#0000f4"/><stop offset=".90" stop-color="#0000f4"/><stop offset=".92" stop-color="#0000f4"/><stop offset=".95" stop-color="#0000f4"/><stop offset=".97" stop-color="#0000f4"/><stop offset="1.00" stop-color="#0000f4"/></linearGradient><linearGradient id="a70" x2="0" y2="1"><stop offset=".00" stop-color="#004dff"/><stop offset=".03" stop-color="#004dff"/><stop offset=".05" stop-color="#0044ff"/><stop offset=".08" stop-color="#0033ff"/><stop offset=".10" stop-color="#001eff"/><stop offset=".13" stop-color="#0006ff"/><stop offset=".15" stop-color="#0000fc"/><stop offset=".18" stop-color="#0000e4"/><stop offset=".21" stop-color="#0000d6"/><stop offset=".23" stop-color="#0000db"/><stop offset=".26" stop-color="#0000f6"/><stop offset=".28" stop-color="#000fff"/><stop offset=".31" stop-color="#0037ff"/><stop offset=".33" stop-color="#0059ff"/><stop offset=".36" stop-color="#0070ff"/><stop offset=".38" stop-color="#0078ff"/><stop offset=".41" stop-color="#006fff"/><stop offset=".44" stop-color="#005bff"/><stop offset=".46" stop-color="#0044ff"/><stop offset=".49" stop-color="#0030ff"/><stop offset=".51" stop-color="#001fff"/><stop offset=".54" stop-color="#000fff"/><stop offset=".56" stop-color="#0000ff"/><stop offset=".59" stop-color="#0000fe"/><stop offset=".62" stop-color="#0000f7"/><stop offset=".64" stop-color="#0000fc"/><stop offset=".67" stop-color="#0000ff"/><stop offset=".69" stop-color="#0000ff"/><stop offset=".72" stop-color="#0000ff"/><stop offset=".74" stop-color="#0000ff"/><stop offset=".77" stop-color="#0000f6"/><stop offset=".79" stop-color="#0000f1"/><stop offset=".82" stop-color="#0000f0"/><stop offset=".85" stop-color="#0000f1"/><stop offset=".87" stop-color="#0000f3"/><stop offset=".90" stop-color="#0000f5"/><stop offset=".92" stop-color="#0000f7"/><stop offset=".95" stop-color="#0000f9"/><stop offset=".97" stop-color="#0000fa"/><stop offset="1.00" stop-color="#0000f9"/></linearGradient><linearGradient id="a71" x2="0" y2="1"><stop offset=".00" stop-color="#004dff"/><stop offset=".03" stop-color="#004dff"/><stop offset=".05" stop-color="#0045ff"/><stop offset=".08" stop-color="#0037ff"/><stop offset=".10" stop-color="#0023ff"/><stop offset=".13" stop-color="#000cff"/><stop offset=".15" stop-color="#0000ff"/><stop offset=".18" stop-color="#0000ea"/><stop offset=".21" stop-color="#0000da"/><stop offset=".23" stop-color="#0000db"/><stop offset=".26" stop-color="#0000f2"/><stop offset=".28" stop-color="#0005ff"/><stop offset=".31" stop-color="#0026ff"/><stop offset=".33" stop-color="#003fff"/><stop offset=".36" stop-color="#004eff"/><stop offset=".38" stop-color="#0052ff"/><stop offset=".41" stop-color="#004bff"/><stop offset=".44" stop-color="#003dff"/><stop offset=".46" stop-color="#002fff"/><stop offset=".49" stop-color="#0023ff"/><stop offset=".51" stop-color="#001aff"/><stop offset=".54" stop-color="#000fff"/><stop offset=".56" stop-color="#0001ff"/><stop offset=".59" stop-color="#0000ff"/><stop offset=".62" stop-color="#0000fc"/><stop offset=".64" stop-color="#0000ff"/><stop offset=".67" stop-color="#0000ff"/><stop offset=".69" stop-color="#0000ff"/><stop offset=".72" stop-color="#0000ff"/><stop offset=".74" stop-color="#0000ff"/><stop offset=".77" stop-color="#0000f7"/><stop offset=".79" stop-color="#0000f1"/><stop offset=".82" stop-color="#0000ef"/><stop offset=".85" stop-color="#0000f0"/><stop offset=".87" stop-color="#0000f3"/><stop offset=".90" stop-color="#0000f5"/><stop offset=".92" stop-color="#0000f8"/><stop offset=".95" stop-color="#0000fa"/><stop offset=".97" stop-color="#0000fb"/><stop offset="1.00" stop-color="#0000fb"/></linearGradient><linearGradient id="a72" x2="0" y2="1"><stop offset=".00" stop-color="#004dff"/><stop offset=".03" stop-color="#004dff"/><stop offset=".05" stop-color="#0046ff"/><stop offset=".08" stop-color="#0038ff"/><stop offset=".10" stop-color="#0026ff"/><stop offset=".13" stop-color="#0010ff"/><stop offset=".15" stop-color="#0000ff"/><stop offset=".18" stop-color="#0000ef"/><stop offset=".21" stop-color="#0000de"/><stop offset=".23" stop-color="#0000dc"/><stop offset=".26" stop-color="#0000ed"/><stop offset=".28" stop-color="#0000ff"/><stop offset=".31" stop-color="#0016ff"/><stop offset=".33" stop-color="#002cff"/><stop offset=".36" stop-color="#0039ff"/><stop offset=".38" stop-color="#003cff"/><stop offset=".41" stop-color="#0035ff"/><stop offset=".44" stop-color="#002aff"/><stop offset=".46" stop-color="#001fff"/><stop offset=".49" stop-color="#0019ff"/><stop offset=".51" stop-color="#0015ff"/><stop offset=".54" stop-color="#000fff"/><stop offset=".56" stop-color="#0006ff"/><stop offset=".59" stop-color="#0000ff"/><stop offset=".62" stop-color="#0000ff"/><stop offset=".64" stop-color="#0000ff"/><stop offset=".67" stop-color="#0000ff"/><stop offset=".69" stop-color="#0000ff"/><stop offset=".72" stop-color="#0000ff"/><stop offset=".74" stop-color="#0000fe"/><stop offset=".77" stop-color="#0000f5"/><stop offset=".79" stop-color="#0000f1"/><stop offset=".82" stop-color="#0000f0"/><stop offset=".85" stop-color="#0000f2"/><stop offset=".87" stop-color="#0000f3"/><stop offset=".90" stop-color="#0000f5"/><stop offset=".92" stop-color="#0000f6"/><stop offset=".95" stop-color="#0000f7"/><stop offset=".97" stop-color="#0000f7"/><stop offset="1.00" stop-color="#0000f7"/></linearGradient></defs>
<g shape-rendering="crispEdges"><rect x="69.80" y="69.2" width="3.96" height="129.6" fill="url(#a0)"/><rect x="73.46" y="69.2" width="3.96" height="129.6" fill="url(#a1)"/><rect x="77.13" y="69.2" width="3.96" height="129.6" fill="url(#a2)"/><rect x="80.79" y="69.2" width="3.96" height="129.6" fill="url(#a3)"/><rect x="84.46" y="69.2" width="3.96" height="129.6" fill="url(#a4)"/><rect x="88.12" y="69.2" width="3.96" height="129.6" fill="url(#a5)"/><rect x="91.79" y="69.2" width="3.96" height="129.6" fill="url(#a6)"/><rect x="95.45" y="69.2" width="3.96" height="129.6" fill="url(#a7)"/><rect x="99.12" y="69.2" width="3.96" height="129.6" fill="url(#a8)"/><rect x="102.78" y="69.2" width="3.96" height="129.6" fill="url(#a9)"/><rect x="106.44" y="69.2" width="3.96" height="129.6" fill="url(#a10)"/><rect x="110.11" y="69.2" width="3.96" height="129.6" fill="url(#a11)"/><rect x="113.77" y="69.2" width="3.96" height="129.6" fill="url(#a12)"/><rect x="117.44" y="69.2" width="3.96" height="129.6" fill="url(#a13)"/><rect x="121.10" y="69.2" width="3.96" height="129.6" fill="url(#a14)"/><rect x="124.77" y="69.2" width="3.96" height="129.6" fill="url(#a15)"/><rect x="128.43" y="69.2" width="3.96" height="129.6" fill="url(#a16)"/><rect x="132.09" y="69.2" width="3.96" height="129.6" fill="url(#a17)"/><rect x="135.76" y="69.2" width="3.96" height="129.6" fill="url(#a18)"/><rect x="139.42" y="69.2" width="3.96" height="129.6" fill="url(#a19)"/><rect x="143.09" y="69.2" width="3.96" height="129.6" fill="url(#a20)"/><rect x="146.75" y="69.2" width="3.96" height="129.6" fill="url(#a21)"/><rect x="150.42" y="69.2" width="3.96" height="129.6" fill="url(#a22)"/><rect x="154.08" y="69.2" width="3.96" height="129.6" fill="url(#a23)"/><rect x="157.75" y="69.2" width="3.96" height="129.6" fill="url(#a24)"/><rect x="161.41" y="69.2" width="3.96" height="129.6" fill="url(#a25)"/><rect x="165.07" y="69.2" width="3.96" height="129.6" fill="url(#a26)"/><rect x="168.74" y="69.2" width="3.96" height="129.6" fill="url(#a27)"/><rect x="172.40" y="69.2" width="3.96" height="129.6" fill="url(#a28)"/><rect x="176.07" y="69.2" width="3.96" height="129.6" fill="url(#a29)"/><rect x="179.73" y="69.2" width="3.96" height="129.6" fill="url(#a30)"/><rect x="183.40" y="69.2" width="3.96" height="129.6" fill="url(#a31)"/><rect x="187.06" y="69.2" width="3.96" height="129.6" fill="url(#a32)"/><rect x="190.72" y="69.2" width="3.96" height="129.6" fill="url(#a33)"/><rect x="194.39" y="69.2" width="3.96" height="129.6" fill="url(#a34)"/><rect x="198.05" y="69.2" width="3.96" height="129.6" fill="url(#a35)"/><rect x="201.72" y="69.2" width="3.96" height="129.6" fill="url(#a36)"/><rect x="205.38" y="69.2" width="3.96" height="129.6" fill="url(#a37)"/><rect x="209.05" y="69.2" width="3.96" height="129.6" fill="url(#a38)"/><rect x="212.71" y="69.2" width="3.96" height="129.6" fill="url(#a39)"/><rect x="216.38" y="69.2" width="3.96" height="129.6" fill="url(#a40)"/><rect x="220.04" y="69.2" width="3.96" height="129.6" fill="url(#a41)"/><rect x="223.70" y="69.2" width="3.96" height="129.6" fill="url(#a42)"/><rect x="227.37" y="69.2" width="3.96" height="129.6" fill="url(#a43)"/><rect x="231.03" y="69.2" width="3.96" height="129.6" fill="url(#a44)"/><rect x="234.70" y="69.2" width="3.96" height="129.6" fill="url(#a45)"/><rect x="238.36" y="69.2" width="3.96" height="129.6" fill="url(#a46)"/><rect x="242.03" y="69.2" width="3.96" height="129.6" fill="url(#a47)"/><rect x="245.69" y="69.2" width="3.96" height="129.6" fill="url(#a48)"/><rect x="249.35" y="69.2" width="3.96" height="129.6" fill="url(#a49)"/><rect x="253.02" y="69.2" width="3.96" height="129.6" fill="url(#a50)"/><rect x="256.68" y="69.2" width="3.96" height="129.6" fill="url(#a51)"/><rect x="260.35" y="69.2" width="3.96" height="129.6" fill="url(#a52)"/><rect x="264.01" y="69.2" width="3.96" height="129.6" fill="url(#a53)"/><rect x="267.68" y="69.2" width="3.96" height="129.6" fill="url(#a54)"/><rect x="271.34" y="69.2" width="3.96" height="129.6" fill="url(#a55)"/><rect x="275.01" y="69.2" width="3.96" height="129.6" fill="url(#a56)"/><rect x="278.67" y="69.2" width="3.96" height="129.6" fill="url(#a57)"/><rect x="282.33" y="69.2" width="3.96" height="129.6" fill="url(#a58)"/><rect x="286.00" y="69.2" width="3.96" height="129.6" fill="url(#a59)"/><rect x="289.66" y="69.2" width="3.96" height="129.6" fill="url(#a60)"/><rect x="293.33" y="69.2" width="3.96" height="129.6" fill="url(#a61)"/><rect x="296.99" y="69.2" width="3.96" height="129.6" fill="url(#a62)"/><rect x="300.66" y="69.2" width="3.96" height="129.6" fill="url(#a63)"/><rect x="304.32" y="69.2" width="3.96" height="129.6" fill="url(#a64)"/><rect x="307.98" y="69.2" width="3.96" height="129.6" fill="url(#a65)"/><rect x="311.65" y="69.2" width="3.96" height="129.6" fill="url(#a66)"/><rect x="315.31" y="69.2" width="3.96" height="129.6" fill="url(#a67)"/><rect x="318.98" y="69.2" width="3.96" height="129.6" fill="url(#a68)"/><rect x="322.64" y="69.2" width="3.96" height="129.6" fill="url(#a69)"/><rect x="326.31" y="69.2" width="3.96" height="129.6" fill="url(#a70)"/><rect x="329.97" y="69.2" width="3.96" height="129.6" fill="url(#a71)"/><rect x="333.64" y="69.2" width="3.66" height="129.6" fill="url(#a72)"/></g>
<text class="d" x="203" y="63.3" font-size="8.97" text-anchor="middle">vTEC GIM matrix: 2014-04-25 14:00:00</text>
<text class="d" x="66.5" y="72.2" font-size="7.2" text-anchor="end">0</text>
<text class="d" x="66.5" y="86.6" font-size="7.2" text-anchor="end">7</text>
<text class="d" x="66.5" y="101.0" font-size="7.2" text-anchor="end">15</text>
<text class="d" x="66.5" y="115.5" font-size="7.2" text-anchor="end">23</text>
<text class="d" x="66.5" y="129.9" font-size="7.2" text-anchor="end">31</text>
<text class="d" x="66.5" y="144.3" font-size="7.2" text-anchor="end">38</text>
<text class="d" x="66.5" y="158.7" font-size="7.2" text-anchor="end">46</text>
<text class="d" x="66.5" y="173.1" font-size="7.2" text-anchor="end">54</text>
<text class="d" x="66.5" y="187.6" font-size="7.2" text-anchor="end">62</text>
<text class="d" x="66.5" y="202.0" font-size="7.2" text-anchor="end">70</text>
<text class="d" x="69.8" y="207.2" font-size="7.2" text-anchor="middle">0</text>
<text class="d" x="88.9" y="207.2" font-size="7.2" text-anchor="middle">5</text>
<text class="d" x="107.9" y="207.2" font-size="7.2" text-anchor="middle">10</text>
<text class="d" x="127.0" y="207.2" font-size="7.2" text-anchor="middle">15</text>
<text class="d" x="146.1" y="207.2" font-size="7.2" text-anchor="middle">20</text>
<text class="d" x="165.1" y="207.2" font-size="7.2" text-anchor="middle">25</text>
<text class="d" x="184.2" y="207.2" font-size="7.2" text-anchor="middle">31</text>
<text class="d" x="203.3" y="207.2" font-size="7.2" text-anchor="middle">36</text>
<text class="d" x="222.4" y="207.2" font-size="7.2" text-anchor="middle">41</text>
<text class="d" x="241.4" y="207.2" font-size="7.2" text-anchor="middle">46</text>
<text class="d" x="260.5" y="207.2" font-size="7.2" text-anchor="middle">51</text>
<text class="d" x="279.6" y="207.2" font-size="7.2" text-anchor="middle">56</text>
<text class="d" x="298.6" y="207.2" font-size="7.2" text-anchor="middle">61</text>
<text class="d" x="317.7" y="207.2" font-size="7.2" text-anchor="middle">66</text>
<text class="d" x="336.8" y="207.2" font-size="7.2" text-anchor="middle">72</text>
<text class="d" x="203.3" y="217.3" font-size="8.75" text-anchor="middle">Columns</text>
<text class="d" transform="translate(53.6,136) rotate(-90)" font-size="8.6" text-anchor="middle">Rows</text>
<text class="m" x="16" y="139.4" font-size="12">(A)</text>
<rect x="343.4" y="69.3" width="6.5" height="129.6" fill="url(#jet)" stroke="#333" stroke-opacity=".55" stroke-width="0.5"/>
<path d="M349.9,69.7 h1.3 M349.9,102.1 h1.3 M349.9,134.6 h1.3 M349.9,167.0 h1.3 M349.9,199.4 h1.3" stroke="#000" stroke-opacity=".6" stroke-width=".6"/>
<text class="d" x="352.3" y="72.1" font-size="6.5">86.8</text>
<text class="d" x="352.3" y="104.5" font-size="6.5">65.5</text>
<text class="d" x="352.3" y="137.0" font-size="6.5">44.2</text>
<text class="d" x="352.3" y="169.4" font-size="6.5">22.8</text>
<text class="d" x="352.3" y="201.8" font-size="6.5">1.5</text>
<text class="d" transform="translate(375.8,134.5) rotate(-90)" font-size="7.3" text-anchor="middle">vTECU</text>
<path d="M284.6,56.0 L285.8,55.5 L287.3,54.9 L289.1,54.3 L291.3,53.6 L293.7,52.9 L296.5,52.2 L299.6,51.4 L302.9,50.6 L306.5,49.8 L310.3,49.0 L314.3,48.2 L318.5,47.4 L323.0,46.5 L327.6,45.7 L332.4,44.9 L337.3,44.2 L342.4,43.4 L347.6,42.7 L352.9,42.0 L358.3,41.3 L363.8,40.7 L369.3,40.2 L375.0,39.7 L380.6,39.2 L386.3,38.9 L392.0,38.6 L397.7,38.4 L403.4,38.2 L409.0,38.2 L414.6,38.2 L420.2,38.3 L425.6,38.6 L431.0,38.9 L436.3,39.4 L441.5,39.9 L446.5,40.6 L451.4,41.5 L456.2,42.4 L460.8,43.5 L461.2,41.7 L456.6,40.6 L451.8,39.6 L446.8,38.8 L441.7,38.2 L436.5,37.6 L431.2,37.2 L425.7,36.8 L420.2,36.6 L414.6,36.5 L409.0,36.5 L403.3,36.6 L397.6,36.8 L391.9,37.0 L386.2,37.3 L380.5,37.7 L374.8,38.2 L369.2,38.7 L363.6,39.3 L358.1,39.9 L352.7,40.6 L347.4,41.3 L342.2,42.1 L337.1,42.9 L332.2,43.7 L327.4,44.5 L322.7,45.3 L318.3,46.2 L314.1,47.0 L310.0,47.9 L306.2,48.7 L302.6,49.6 L299.3,50.4 L296.2,51.2 L293.5,51.9 L291.0,52.7 L288.8,53.4 L286.9,54.0 L285.4,54.6 L284.2,55.2Z" fill="#a800f4"/>
<path d="M479.3,48.3 L457.5,44.8 L462.2,39.8 Z" fill="#a800f4"/>
<path d="M469.8,201.1 L467.0,201.1 L464.0,201.2 L460.9,201.2 L457.7,201.3 L454.4,201.2 L451.0,201.2 L447.4,201.2 L443.8,201.2 L440.0,201.1 L436.2,201.1 L432.2,201.1 L428.2,201.1 L424.1,201.1 L419.9,201.1 L415.6,201.2 L411.3,201.3 L406.9,201.4 L402.4,201.6 L397.9,201.9 L393.3,202.2 L388.7,202.5 L384.0,203.0 L379.3,203.5 L374.5,204.0 L369.8,204.7 L365.0,205.4 L360.1,206.2 L355.3,207.2 L350.4,208.2 L345.6,209.3 L340.7,210.5 L335.8,211.9 L330.9,213.4 L326.1,215.0 L321.2,216.7 L316.4,218.6 L311.6,220.6 L306.8,222.7 L302.0,225.0 L303.0,226.8 L307.6,224.5 L312.4,222.3 L317.1,220.3 L321.9,218.5 L326.7,216.7 L331.5,215.1 L336.3,213.6 L341.2,212.3 L346.0,211.0 L350.8,209.9 L355.6,208.8 L360.4,207.9 L365.2,207.0 L370.0,206.3 L374.7,205.6 L379.5,205.0 L384.2,204.5 L388.8,204.0 L393.4,203.6 L398.0,203.3 L402.5,203.0 L406.9,202.8 L411.3,202.7 L415.6,202.5 L419.9,202.4 L424.1,202.3 L428.2,202.3 L432.2,202.3 L436.1,202.3 L440.0,202.3 L443.7,202.3 L447.4,202.3 L451.0,202.3 L454.4,202.3 L457.7,202.3 L460.9,202.2 L464.0,202.2 L467.0,202.1 L469.8,201.9Z" fill="#a800f4"/>
<path d="M284.1,236.9 L299.6,223.4 L306.6,227.7 Z" fill="#a800f4"/>
<text class="m" x="384" y="49.2" font-size="12.1">Reshaping</text>
<text class="m" x="405.6" y="198" font-size="12.6">Stacking</text>
<text class="d" x="494.9" y="54.7" font-size="8.9" text-anchor="middle">vTEC</text>
<text class="d" x="494.9" y="64.6" font-size="8.9" text-anchor="middle">column vector</text>
<text class="d" x="494.9" y="74.4" font-size="8.9" text-anchor="middle">2014-04-25</text>
<text class="d" x="494.9" y="84.3" font-size="8.9" text-anchor="middle">14:00:00</text>
<g><rect x="493.8" y="94.10" width="6.4" height="0.91" fill="#0070ff"/>
<rect x="493.8" y="94.81" width="6.4" height="0.91" fill="#0070ff"/>
<rect x="493.8" y="95.52" width="6.4" height="0.91" fill="#009fff"/>
<rect x="493.8" y="96.23" width="6.4" height="0.91" fill="#008fff"/>
<rect x="493.8" y="96.94" width="6.4" height="0.91" fill="#0050ff"/>
<rect x="493.8" y="97.65" width="6.4" height="0.91" fill="#0050ff"/>
<rect x="493.8" y="98.36" width="6.4" height="0.91" fill="#0070ff"/>
<rect x="493.8" y="99.07" width="6.4" height="0.91" fill="#0050ff"/>
<rect x="493.8" y="99.78" width="6.4" height="0.91" fill="#008fff"/>
<rect x="493.8" y="100.49" width="6.4" height="0.91" fill="#0080ff"/>
<rect x="493.8" y="101.20" width="6.4" height="0.91" fill="#0050ff"/>
<rect x="493.8" y="101.91" width="6.4" height="0.91" fill="#0050ff"/>
<rect x="493.8" y="102.62" width="6.4" height="0.91" fill="#0070ff"/>
<rect x="493.8" y="103.33" width="6.4" height="0.91" fill="#0040ff"/>
<rect x="493.8" y="104.04" width="6.4" height="0.91" fill="#008fff"/>
<rect x="493.8" y="104.75" width="6.4" height="0.91" fill="#0080ff"/>
<rect x="493.8" y="105.47" width="6.4" height="0.91" fill="#0040ff"/>
<rect x="493.8" y="106.18" width="6.4" height="0.91" fill="#0040ff"/>
<rect x="493.8" y="106.89" width="6.4" height="0.91" fill="#0060ff"/>
<rect x="493.8" y="107.60" width="6.4" height="0.91" fill="#0030ff"/>
<rect x="493.8" y="108.31" width="6.4" height="0.91" fill="#008fff"/>
<rect x="493.8" y="109.02" width="6.4" height="0.91" fill="#0080ff"/>
<rect x="493.8" y="109.73" width="6.4" height="0.91" fill="#0040ff"/>
<rect x="493.8" y="110.44" width="6.4" height="0.91" fill="#0040ff"/>
<rect x="493.8" y="111.15" width="6.4" height="0.91" fill="#0050ff"/>
<rect x="493.8" y="111.86" width="6.4" height="0.91" fill="#0030ff"/>
<rect x="493.8" y="112.57" width="6.4" height="0.91" fill="#0080ff"/>
<rect x="493.8" y="113.28" width="6.4" height="0.91" fill="#0080ff"/>
<rect x="493.8" y="113.99" width="6.4" height="0.91" fill="#0040ff"/>
<rect x="493.8" y="114.70" width="6.4" height="0.91" fill="#0030ff"/>
<rect x="493.8" y="115.41" width="6.4" height="0.91" fill="#0040ff"/>
<rect x="493.8" y="116.12" width="6.4" height="0.91" fill="#0030ff"/>
<rect x="493.8" y="116.83" width="6.4" height="0.91" fill="#0080ff"/>
<rect x="493.8" y="117.54" width="6.4" height="0.91" fill="#008fff"/>
<rect x="493.8" y="118.25" width="6.4" height="0.91" fill="#0040ff"/>
<rect x="493.8" y="118.96" width="6.4" height="0.91" fill="#0020ff"/>
<rect x="493.8" y="119.67" width="6.4" height="0.91" fill="#0030ff"/>
<rect x="493.8" y="120.38" width="6.4" height="0.91" fill="#0030ff"/>
<rect x="493.8" y="121.09" width="6.4" height="0.91" fill="#0080ff"/>
<rect x="493.8" y="121.80" width="6.4" height="0.91" fill="#008fff"/>
<rect x="493.8" y="122.51" width="6.4" height="0.91" fill="#0040ff"/>
<rect x="493.8" y="123.22" width="6.4" height="0.91" fill="#0010ff"/>
<rect x="493.8" y="123.93" width="6.4" height="0.91" fill="#0020ff"/>
<rect x="493.8" y="124.64" width="6.4" height="0.91" fill="#0030ff"/>
<rect x="493.8" y="125.35" width="6.4" height="0.91" fill="#0070ff"/>
<rect x="493.8" y="126.06" width="6.4" height="0.91" fill="#008fff"/>
<rect x="493.8" y="126.78" width="6.4" height="0.91" fill="#0040ff"/>
<rect x="493.8" y="127.49" width="6.4" height="0.91" fill="#0000ff"/>
<rect x="493.8" y="128.20" width="6.4" height="0.91" fill="#0010ff"/>
<rect x="493.8" y="128.91" width="6.4" height="0.91" fill="#0040ff"/>
<rect x="493.8" y="129.62" width="6.4" height="0.91" fill="#0070ff"/>
<rect x="493.8" y="130.33" width="6.4" height="0.91" fill="#009fff"/>
<rect x="493.8" y="131.04" width="6.4" height="0.91" fill="#0040ff"/>
<rect x="493.8" y="131.75" width="6.4" height="0.91" fill="#0000fe"/>
<rect x="493.8" y="132.46" width="6.4" height="0.91" fill="#0000ff"/>
<rect x="493.8" y="133.17" width="6.4" height="0.91" fill="#0040ff"/>
<rect x="493.8" y="133.88" width="6.4" height="0.91" fill="#0080ff"/>
<rect x="493.8" y="134.59" width="6.4" height="0.91" fill="#00afff"/>
<rect x="493.8" y="135.30" width="6.4" height="0.91" fill="#0050ff"/>
<rect x="493.8" y="136.01" width="6.4" height="0.91" fill="#0000fe"/>
<rect x="493.8" y="136.72" width="6.4" height="0.91" fill="#0000ff"/>
<rect x="493.8" y="137.43" width="6.4" height="0.91" fill="#0050ff"/>
<rect x="493.8" y="138.14" width="6.4" height="0.91" fill="#0080ff"/>
<rect x="493.8" y="138.85" width="6.4" height="0.91" fill="#00afff"/>
<rect x="493.8" y="139.56" width="6.4" height="0.91" fill="#0050ff"/>
<rect x="493.8" y="140.27" width="6.4" height="0.91" fill="#0000ec"/>
<rect x="493.8" y="140.98" width="6.4" height="0.91" fill="#0000ff"/>
<rect x="493.8" y="141.69" width="6.4" height="0.91" fill="#0060ff"/>
<rect x="493.8" y="142.40" width="6.4" height="0.91" fill="#008fff"/>
<rect x="493.8" y="143.11" width="6.4" height="0.91" fill="#00bfff"/>
<rect x="493.8" y="143.82" width="6.4" height="0.91" fill="#0060ff"/>
<rect x="493.8" y="144.53" width="6.4" height="0.91" fill="#0000ec"/>
<rect x="493.8" y="145.24" width="6.4" height="0.91" fill="#0000ff"/>
<rect x="493.8" y="145.95" width="6.4" height="0.91" fill="#0070ff"/>
<rect x="493.8" y="146.66" width="6.4" height="0.91" fill="#008fff"/>
<rect x="493.8" y="147.37" width="6.4" height="0.91" fill="#00cfff"/>
<rect x="493.8" y="148.08" width="6.4" height="0.91" fill="#0060ff"/>
<rect x="493.8" y="148.80" width="6.4" height="0.91" fill="#0000da"/>
<rect x="493.8" y="149.51" width="6.4" height="0.91" fill="#0000ff"/>
<rect x="493.8" y="150.22" width="6.4" height="0.91" fill="#0080ff"/>
<rect x="493.8" y="150.93" width="6.4" height="0.91" fill="#00afff"/>
<rect x="493.8" y="151.64" width="6.4" height="0.91" fill="#00dffc"/>
<rect x="493.8" y="152.35" width="6.4" height="0.91" fill="#0070ff"/>
<rect x="493.8" y="153.06" width="6.4" height="0.91" fill="#0000da"/>
<rect x="493.8" y="153.77" width="6.4" height="0.91" fill="#0010ff"/>
<rect x="493.8" y="154.48" width="6.4" height="0.91" fill="#008fff"/>
<rect x="493.8" y="155.19" width="6.4" height="0.91" fill="#00bfff"/>
<rect x="493.8" y="155.90" width="6.4" height="0.91" fill="#00dffc"/>
<rect x="493.8" y="156.61" width="6.4" height="0.91" fill="#0080ff"/>
<rect x="493.8" y="157.32" width="6.4" height="0.91" fill="#0000ec"/>
<rect x="493.8" y="158.03" width="6.4" height="0.91" fill="#0020ff"/>
<rect x="493.8" y="158.74" width="6.4" height="0.91" fill="#009fff"/>
<rect x="493.8" y="159.45" width="6.4" height="0.91" fill="#00cfff"/>
<rect x="493.8" y="160.16" width="6.4" height="0.91" fill="#15ffe2"/>
<rect x="493.8" y="160.87" width="6.4" height="0.91" fill="#008fff"/>
<rect x="493.8" y="161.58" width="6.4" height="0.91" fill="#0000ec"/>
<rect x="493.8" y="162.29" width="6.4" height="0.91" fill="#0030ff"/>
<rect x="493.8" y="163.00" width="6.4" height="0.91" fill="#00afff"/>
<rect x="493.8" y="163.71" width="6.4" height="0.91" fill="#08efef"/>
<rect x="493.8" y="164.42" width="6.4" height="0.91" fill="#21ffd5"/>
<rect x="493.8" y="165.13" width="6.4" height="0.91" fill="#008fff"/>
<rect x="493.8" y="165.84" width="6.4" height="0.91" fill="#0000fe"/>
<rect x="493.8" y="166.55" width="6.4" height="0.91" fill="#0040ff"/>
<rect x="493.8" y="167.26" width="6.4" height="0.91" fill="#00cfff"/>
<rect x="493.8" y="167.97" width="6.4" height="0.91" fill="#15ffe2"/>
<rect x="493.8" y="168.68" width="6.4" height="0.91" fill="#2effc9"/>
<rect x="493.8" y="169.39" width="6.4" height="0.91" fill="#009fff"/>
<rect x="493.8" y="170.11" width="6.4" height="0.91" fill="#0000ff"/>
<rect x="493.8" y="170.82" width="6.4" height="0.91" fill="#0050ff"/>
<rect x="493.8" y="171.53" width="6.4" height="0.91" fill="#08efef"/>
<rect x="493.8" y="172.24" width="6.4" height="0.91" fill="#2effc9"/>
<rect x="493.8" y="172.95" width="6.4" height="0.91" fill="#48ffaf"/>
<rect x="493.8" y="173.66" width="6.4" height="0.91" fill="#00afff"/>
<rect x="493.8" y="174.37" width="6.4" height="0.91" fill="#0010ff"/>
<rect x="493.8" y="175.08" width="6.4" height="0.91" fill="#0060ff"/>
<rect x="493.8" y="175.79" width="6.4" height="0.91" fill="#21ffd5"/>
<rect x="493.8" y="176.50" width="6.4" height="0.91" fill="#55ffa2"/>
<rect x="493.8" y="177.21" width="6.4" height="0.91" fill="#62ff95"/>
<rect x="493.8" y="177.92" width="6.4" height="0.91" fill="#00bfff"/>
<rect x="493.8" y="178.63" width="6.4" height="0.91" fill="#0030ff"/>
<rect x="493.8" y="179.34" width="6.4" height="0.91" fill="#0070ff"/>
<rect x="493.8" y="180.05" width="6.4" height="0.91" fill="#3bffbc"/>
<rect x="493.8" y="180.76" width="6.4" height="0.91" fill="#6fff88"/>
<rect x="493.8" y="181.47" width="6.4" height="0.91" fill="#7bff7b"/>
<rect x="493.8" y="182.18" width="6.4" height="0.91" fill="#00cfff"/>
<rect x="493.8" y="182.89" width="6.4" height="0.91" fill="#0050ff"/>
<rect x="493.8" y="183.60" width="6.4" height="0.91" fill="#0080ff"/>
<rect x="493.8" y="184.31" width="6.4" height="0.91" fill="#55ffa2"/>
<rect x="493.8" y="185.02" width="6.4" height="0.91" fill="#a2ff55"/>
<rect x="493.8" y="185.73" width="6.4" height="0.91" fill="#95ff62"/>
<rect x="493.8" y="186.44" width="6.4" height="0.91" fill="#08efef"/>
<rect x="493.8" y="187.15" width="6.4" height="0.91" fill="#0070ff"/>
<rect x="493.8" y="187.86" width="6.4" height="0.91" fill="#008fff"/>
<rect x="493.8" y="188.57" width="6.4" height="0.91" fill="#62ff95"/>
<rect x="493.8" y="189.28" width="6.4" height="0.91" fill="#c9ff2e"/>
<rect x="493.8" y="189.99" width="6.4" height="0.91" fill="#afff48"/>
<rect x="493.8" y="190.70" width="6.4" height="0.91" fill="#15ffe2"/>
<rect x="493.8" y="191.42" width="6.4" height="0.91" fill="#009fff"/>
<rect x="493.8" y="192.13" width="6.4" height="0.91" fill="#008fff"/>
<rect x="493.8" y="192.84" width="6.4" height="0.91" fill="#7bff7b"/>
<rect x="493.8" y="193.55" width="6.4" height="0.91" fill="#ffe100"/>
<rect x="493.8" y="194.26" width="6.4" height="0.91" fill="#d5ff21"/>
<rect x="493.8" y="194.97" width="6.4" height="0.91" fill="#3bffbc"/>
<rect x="493.8" y="195.68" width="6.4" height="0.91" fill="#00cfff"/>
<rect x="493.8" y="196.39" width="6.4" height="0.91" fill="#009fff"/>
<rect x="493.8" y="197.10" width="6.4" height="0.91" fill="#95ff62"/>
<rect x="493.8" y="197.81" width="6.4" height="0.91" fill="#ffa600"/>
<rect x="493.8" y="198.52" width="6.4" height="0.91" fill="#fcf000"/>
<rect x="493.8" y="199.23" width="6.4" height="0.91" fill="#55ffa2"/>
<rect x="493.8" y="199.94" width="6.4" height="0.91" fill="#08efef"/>
<rect x="493.8" y="200.65" width="6.4" height="0.91" fill="#009fff"/>
<rect x="493.8" y="201.36" width="6.4" height="0.91" fill="#a2ff55"/>
<rect x="493.8" y="202.07" width="6.4" height="0.91" fill="#ff6b00"/>
<rect x="493.8" y="202.78" width="6.4" height="0.91" fill="#ffd200"/>
<rect x="493.8" y="203.49" width="6.4" height="0.91" fill="#6fff88"/>
<rect x="493.8" y="204.20" width="6.4" height="0.91" fill="#21ffd5"/>
<rect x="493.8" y="204.91" width="6.4" height="0.91" fill="#00afff"/>
<rect x="493.8" y="205.62" width="6.4" height="0.91" fill="#bcff3b"/>
<rect x="493.8" y="206.33" width="6.4" height="0.91" fill="#ff3f00"/>
<rect x="493.8" y="207.04" width="6.4" height="0.91" fill="#ffb500"/>
<rect x="493.8" y="207.75" width="6.4" height="0.91" fill="#88ff6f"/>
<rect x="493.8" y="208.46" width="6.4" height="0.91" fill="#3bffbc"/>
<rect x="493.8" y="209.17" width="6.4" height="0.91" fill="#00afff"/>
<rect x="493.8" y="209.88" width="6.4" height="0.91" fill="#c9ff2e"/>
<rect x="493.8" y="210.59" width="6.4" height="0.91" fill="#fe1200"/>
<rect x="493.8" y="211.30" width="6.4" height="0.91" fill="#ffa600"/>
<rect x="493.8" y="212.01" width="6.4" height="0.91" fill="#a2ff55"/>
<rect x="493.8" y="212.72" width="6.4" height="0.91" fill="#3bffbc"/>
<rect x="493.8" y="213.44" width="6.4" height="0.91" fill="#009fff"/>
<rect x="493.8" y="214.15" width="6.4" height="0.91" fill="#e2ff15"/>
<rect x="493.8" y="214.86" width="6.4" height="0.91" fill="#ec0400"/>
<rect x="493.8" y="215.57" width="6.4" height="0.91" fill="#ffa600"/>
<rect x="493.8" y="216.28" width="6.4" height="0.91" fill="#a2ff55"/>
<rect x="493.8" y="216.99" width="6.4" height="0.91" fill="#3bffbc"/>
<rect x="493.8" y="217.70" width="6.4" height="0.91" fill="#008fff"/>
<rect x="493.8" y="218.41" width="6.4" height="0.91" fill="#effe08"/>
<rect x="493.8" y="219.12" width="6.4" height="0.91" fill="#da0000"/>
<rect x="493.8" y="219.83" width="6.4" height="0.91" fill="#ffa600"/>
<rect x="493.8" y="220.54" width="6.4" height="0.91" fill="#a2ff55"/>
<rect x="493.8" y="221.25" width="6.4" height="0.91" fill="#2effc9"/>
<rect x="493.8" y="221.96" width="6.4" height="0.91" fill="#008fff"/>
<rect x="493.8" y="222.67" width="6.4" height="0.91" fill="#ffe100"/>
<rect x="493.8" y="223.38" width="6.4" height="0.91" fill="#da0000"/>
<rect x="493.8" y="224.09" width="6.4" height="0.91" fill="#ffa600"/>
<rect x="493.8" y="224.80" width="6.4" height="0.91" fill="#a2ff55"/>
<rect x="493.8" y="225.51" width="6.4" height="0.91" fill="#15ffe2"/>
<rect x="493.8" y="226.22" width="6.4" height="0.91" fill="#0080ff"/>
<rect x="493.8" y="226.93" width="6.4" height="0.91" fill="#ffd200"/>
<rect x="493.8" y="227.64" width="6.4" height="0.91" fill="#da0000"/>
<rect x="493.8" y="228.35" width="6.4" height="0.91" fill="#ff9700"/>
<rect x="493.8" y="229.06" width="6.4" height="0.91" fill="#a2ff55"/>
<rect x="493.8" y="229.77" width="6.4" height="0.91" fill="#00dffc"/>
<rect x="493.8" y="230.48" width="6.4" height="0.91" fill="#0070ff"/>
<rect x="493.8" y="231.19" width="6.4" height="0.91" fill="#ffc300"/>
<rect x="493.8" y="231.90" width="6.4" height="0.91" fill="#ec0400"/>
<rect x="493.8" y="232.61" width="6.4" height="0.91" fill="#ff8800"/>
<rect x="493.8" y="233.32" width="6.4" height="0.91" fill="#a2ff55"/>
<rect x="493.8" y="234.03" width="6.4" height="0.91" fill="#00afff"/>
<rect x="493.8" y="234.75" width="6.4" height="0.91" fill="#0070ff"/>
<rect x="493.8" y="235.46" width="6.4" height="0.91" fill="#ffc300"/>
<rect x="493.8" y="236.17" width="6.4" height="0.91" fill="#ec0400"/>
<rect x="493.8" y="236.88" width="6.4" height="0.91" fill="#ff6b00"/>
<rect x="493.8" y="237.59" width="6.4" height="0.91" fill="#95ff62"/>
<rect x="493.8" y="238.30" width="6.4" height="0.91" fill="#008fff"/>
<rect x="493.8" y="239.01" width="6.4" height="0.91" fill="#0060ff"/>
<rect x="493.8" y="239.72" width="6.4" height="0.91" fill="#ffb500"/>
<rect x="493.8" y="240.43" width="6.4" height="0.91" fill="#ec0400"/>
<rect x="493.8" y="241.14" width="6.4" height="0.91" fill="#ff4d00"/>
<rect x="493.8" y="241.85" width="6.4" height="0.91" fill="#88ff6f"/>
<rect x="493.8" y="242.56" width="6.4" height="0.91" fill="#0070ff"/>
<rect x="493.8" y="243.27" width="6.4" height="0.91" fill="#0060ff"/>
<rect x="493.8" y="243.98" width="6.4" height="0.91" fill="#ffb500"/>
<rect x="493.8" y="244.69" width="6.4" height="0.91" fill="#ec0400"/>
<rect x="493.8" y="245.40" width="6.4" height="0.91" fill="#ff3f00"/>
<rect x="493.8" y="246.11" width="6.4" height="0.91" fill="#88ff6f"/>
<rect x="493.8" y="246.82" width="6.4" height="0.91" fill="#0060ff"/>
<rect x="493.8" y="247.53" width="6.4" height="0.91" fill="#0060ff"/>
<rect x="493.8" y="248.24" width="6.4" height="0.91" fill="#ffb500"/>
<rect x="493.8" y="248.95" width="6.4" height="0.91" fill="#ec0400"/>
<rect x="493.8" y="249.66" width="6.4" height="0.91" fill="#ff3000"/>
<rect x="493.8" y="250.37" width="6.4" height="0.91" fill="#6fff88"/>
<rect x="493.8" y="251.08" width="6.4" height="0.91" fill="#0040ff"/>
<rect x="493.8" y="251.79" width="6.4" height="0.91" fill="#0060ff"/>
<rect x="493.8" y="252.50" width="6.4" height="0.91" fill="#ffb500"/>
<rect x="493.8" y="253.21" width="6.4" height="0.91" fill="#fe1200"/>
<rect x="493.8" y="253.92" width="6.4" height="0.91" fill="#ff4d00"/>
<rect x="493.8" y="254.63" width="6.4" height="0.91" fill="#48ffaf"/>
<rect x="493.8" y="255.34" width="6.4" height="0.91" fill="#0030ff"/>
<rect x="493.8" y="256.05" width="6.4" height="0.91" fill="#0060ff"/>
<rect x="493.8" y="256.77" width="6.4" height="0.91" fill="#ffb500"/>
<rect x="493.8" y="257.48" width="6.4" height="0.91" fill="#ff3000"/>
<rect x="493.8" y="258.19" width="6.4" height="0.91" fill="#ff9700"/>
<rect x="493.8" y="258.90" width="6.4" height="0.91" fill="#08efef"/>
<rect x="493.8" y="259.61" width="6.4" height="0.91" fill="#0020ff"/>
<rect x="493.8" y="260.32" width="6.4" height="0.91" fill="#0060ff"/>
<rect x="493.8" y="261.03" width="6.4" height="0.91" fill="#ffc300"/>
<rect x="493.8" y="261.74" width="6.4" height="0.91" fill="#ff4d00"/>
<rect x="493.8" y="262.45" width="6.4" height="0.91" fill="#ffe100"/>
<rect x="493.8" y="263.16" width="6.4" height="0.91" fill="#009fff"/>
<rect x="493.8" y="263.87" width="6.4" height="0.91" fill="#0010ff"/>
<rect x="493.8" y="264.58" width="6.4" height="0.91" fill="#0060ff"/>
<rect x="493.8" y="265.29" width="6.4" height="0.91" fill="#ffd200"/>
<rect x="493.8" y="266.00" width="6.4" height="0.91" fill="#ff7a00"/>
<rect x="493.8" y="266.71" width="6.4" height="0.91" fill="#d5ff21"/>
<rect x="493.8" y="267.42" width="6.4" height="0.91" fill="#0070ff"/>
<rect x="493.8" y="268.13" width="6.4" height="0.91" fill="#0000ff"/>
<rect x="493.8" y="268.84" width="6.4" height="0.91" fill="#0060ff"/>
<rect x="493.8" y="269.55" width="6.4" height="0.91" fill="#fcf000"/>
<rect x="493.8" y="270.26" width="6.4" height="0.91" fill="#ffa600"/>
<rect x="493.8" y="270.97" width="6.4" height="0.91" fill="#a2ff55"/>
<rect x="493.8" y="271.68" width="6.4" height="0.91" fill="#0040ff"/>
<rect x="493.8" y="272.39" width="6.4" height="0.91" fill="#0000fe"/>
<rect x="493.8" y="273.10" width="6.4" height="0.91" fill="#0070ff"/>
<rect x="493.8" y="273.81" width="6.4" height="0.91" fill="#e2ff15"/>
<rect x="493.8" y="274.52" width="6.4" height="0.91" fill="#ffd200"/>
<rect x="493.8" y="275.23" width="6.4" height="0.91" fill="#6fff88"/>
<rect x="493.8" y="275.94" width="6.4" height="0.91" fill="#0010ff"/>
<rect x="493.8" y="276.65" width="6.4" height="0.91" fill="#0000fe"/>
<rect x="493.8" y="277.36" width="6.4" height="0.91" fill="#0070ff"/>
<rect x="493.8" y="278.08" width="6.4" height="0.91" fill="#d5ff21"/>
<rect x="493.8" y="278.79" width="6.4" height="0.91" fill="#fcf000"/>
<rect x="493.8" y="279.50" width="6.4" height="0.91" fill="#3bffbc"/>
<rect x="493.8" y="280.21" width="6.4" height="0.91" fill="#0000ff"/>
<rect x="493.8" y="280.92" width="6.4" height="0.91" fill="#0000fe"/>
<rect x="493.8" y="281.63" width="6.4" height="0.91" fill="#0070ff"/>
<rect x="493.8" y="282.34" width="6.4" height="0.91" fill="#bcff3b"/>
<rect x="493.8" y="283.05" width="6.4" height="0.91" fill="#e2ff15"/>
<rect x="493.8" y="283.76" width="6.4" height="0.91" fill="#21ffd5"/>
<rect x="493.8" y="284.47" width="6.4" height="0.91" fill="#0000ec"/>
<rect x="493.8" y="285.18" width="6.4" height="0.91" fill="#0000ec"/>
<rect x="493.8" y="285.89" width="6.4" height="0.91" fill="#0070ff"/>
<rect x="493.8" y="286.60" width="6.4" height="0.91" fill="#a2ff55"/>
<rect x="493.8" y="287.31" width="6.4" height="0.91" fill="#c9ff2e"/>
<rect x="493.8" y="288.02" width="6.4" height="0.91" fill="#08efef"/>
<rect x="493.8" y="288.73" width="6.4" height="0.91" fill="#0000ec"/>
<rect x="493.8" y="289.44" width="6.4" height="0.91" fill="#0000ec"/>
<rect x="493.8" y="290.15" width="6.4" height="0.91" fill="#0070ff"/>
<rect x="493.8" y="290.86" width="6.4" height="0.91" fill="#88ff6f"/>
<rect x="493.8" y="291.57" width="6.4" height="0.91" fill="#bcff3b"/>
<rect x="493.8" y="292.28" width="6.4" height="0.91" fill="#00dffc"/>
<rect x="493.8" y="292.99" width="6.4" height="0.91" fill="#0000ec"/>
<rect x="493.8" y="293.70" width="6.4" height="0.91" fill="#0000fe"/>
<rect x="493.8" y="294.41" width="6.4" height="0.91" fill="#0070ff"/>
<rect x="493.8" y="295.12" width="6.4" height="0.91" fill="#6fff88"/>
<rect x="493.8" y="295.83" width="6.4" height="0.91" fill="#afff48"/>
<rect x="493.8" y="296.54" width="6.4" height="0.91" fill="#00dffc"/>
<rect x="493.8" y="297.25" width="6.4" height="0.91" fill="#0000ec"/>
<rect x="493.8" y="297.96" width="6.4" height="0.91" fill="#0000fe"/>
<rect x="493.8" y="298.67" width="6.4" height="0.91" fill="#0070ff"/>
<rect x="493.8" y="299.38" width="6.4" height="0.91" fill="#55ffa2"/>
<rect x="493.8" y="300.10" width="6.4" height="0.91" fill="#a2ff55"/>
<rect x="493.8" y="300.81" width="6.4" height="0.91" fill="#00cfff"/>
<rect x="493.8" y="301.52" width="6.4" height="0.91" fill="#0000ec"/>
<rect x="493.8" y="302.23" width="6.4" height="0.91" fill="#0000fe"/>
<rect x="493.8" y="302.94" width="6.4" height="0.91" fill="#0070ff"/>
<rect x="493.8" y="303.65" width="6.4" height="0.91" fill="#3bffbc"/>
<rect x="493.8" y="304.36" width="6.4" height="0.91" fill="#88ff6f"/>
<rect x="493.8" y="305.07" width="6.4" height="0.91" fill="#00cfff"/>
<rect x="493.8" y="305.78" width="6.4" height="0.91" fill="#0000ec"/>
<rect x="493.8" y="306.49" width="6.4" height="0.91" fill="#0000fe"/>
<rect x="493.8" y="307.20" width="6.4" height="0.91" fill="#0060ff"/>
<rect x="493.8" y="307.91" width="6.4" height="0.91" fill="#2effc9"/>
<rect x="493.8" y="308.62" width="6.4" height="0.91" fill="#6fff88"/>
<rect x="493.8" y="309.33" width="6.4" height="0.91" fill="#00bfff"/>
<rect x="493.8" y="310.04" width="6.4" height="0.91" fill="#0000da"/>
<rect x="493.8" y="310.75" width="6.4" height="0.91" fill="#0000ec"/>
<rect x="493.8" y="311.46" width="6.4" height="0.91" fill="#0050ff"/>
<rect x="493.8" y="312.17" width="6.4" height="0.91" fill="#21ffd5"/>
<rect x="493.8" y="312.88" width="6.4" height="0.91" fill="#62ff95"/>
<rect x="493.8" y="313.59" width="6.4" height="0.91" fill="#00bfff"/>
<rect x="493.8" y="314.30" width="6.4" height="0.91" fill="#0000da"/>
<rect x="493.8" y="315.01" width="6.4" height="0.91" fill="#0000ec"/>
<rect x="493.8" y="315.72" width="6.4" height="0.91" fill="#0050ff"/>
<rect x="493.8" y="316.43" width="6.4" height="0.91" fill="#15ffe2"/>
<rect x="493.8" y="317.14" width="6.4" height="0.91" fill="#48ffaf"/>
<rect x="493.8" y="317.85" width="6.4" height="0.91" fill="#00afff"/>
<rect x="493.8" y="318.56" width="6.4" height="0.91" fill="#0000c8"/>
<rect x="493.8" y="319.27" width="6.4" height="0.91" fill="#0000ec"/>
<rect x="493.8" y="319.98" width="6.4" height="0.91" fill="#0040ff"/>
<rect x="493.8" y="320.69" width="6.4" height="0.91" fill="#08efef"/>
<rect x="493.8" y="321.41" width="6.4" height="0.91" fill="#2effc9"/>
<rect x="493.8" y="322.12" width="6.4" height="0.91" fill="#009fff"/>
<rect x="493.8" y="322.83" width="6.4" height="0.91" fill="#0000c8"/>
<rect x="493.8" y="323.54" width="6.4" height="0.91" fill="#0000da"/>
<rect x="493.8" y="324.25" width="6.4" height="0.91" fill="#0030ff"/>
<rect x="493.8" y="324.96" width="6.4" height="0.91" fill="#00dffc"/>
<rect x="493.8" y="325.67" width="6.4" height="0.91" fill="#21ffd5"/>
<rect x="493.8" y="326.38" width="6.4" height="0.91" fill="#008fff"/>
<rect x="493.8" y="327.09" width="6.4" height="0.91" fill="#0000b6"/>
<rect x="493.8" y="327.80" width="6.4" height="0.91" fill="#0000da"/>
<rect x="493.8" y="328.51" width="6.4" height="0.91" fill="#0020ff"/>
<rect x="493.8" y="329.22" width="6.4" height="0.91" fill="#00bfff"/>
<rect x="493.8" y="329.93" width="6.4" height="0.91" fill="#08efef"/>
<rect x="493.8" y="330.64" width="6.4" height="0.91" fill="#008fff"/>
<rect x="493.8" y="331.35" width="6.4" height="0.91" fill="#0000c8"/>
<rect x="493.8" y="332.06" width="6.4" height="0.91" fill="#0000da"/>
<rect x="493.8" y="332.77" width="6.4" height="0.91" fill="#0010ff"/>
<rect x="493.8" y="333.48" width="6.4" height="0.91" fill="#00afff"/>
<rect x="493.8" y="334.19" width="6.4" height="0.91" fill="#00dffc"/>
<rect x="493.8" y="334.90" width="6.4" height="0.91" fill="#0080ff"/>
<rect x="493.8" y="335.61" width="6.4" height="0.91" fill="#0000c8"/>
<rect x="493.8" y="336.32" width="6.4" height="0.91" fill="#0000da"/>
<rect x="493.8" y="337.03" width="6.4" height="0.91" fill="#0000ff"/>
<rect x="493.8" y="337.74" width="6.4" height="0.91" fill="#009fff"/>
<rect x="493.8" y="338.45" width="6.4" height="0.91" fill="#00dffc"/>
<rect x="493.8" y="339.16" width="6.4" height="0.91" fill="#0070ff"/>
<rect x="493.8" y="339.87" width="6.4" height="0.91" fill="#0000c8"/>
<rect x="493.8" y="340.58" width="6.4" height="0.91" fill="#0000da"/>
<rect x="493.8" y="341.29" width="6.4" height="0.91" fill="#0000fe"/>
<rect x="493.8" y="342.00" width="6.4" height="0.91" fill="#0080ff"/>
<rect x="493.8" y="342.72" width="6.4" height="0.91" fill="#00cfff"/>
<rect x="493.8" y="343.43" width="6.4" height="0.91" fill="#0060ff"/>
<rect x="493.8" y="344.14" width="6.4" height="0.91" fill="#0000da"/>
<rect x="493.8" y="344.85" width="6.4" height="0.91" fill="#0000ec"/>
<rect x="493.8" y="345.56" width="6.4" height="0.91" fill="#0000fe"/>
<rect x="493.8" y="346.27" width="6.4" height="0.91" fill="#0070ff"/>
<rect x="493.8" y="346.98" width="6.4" height="0.91" fill="#00bfff"/>
<rect x="493.8" y="347.69" width="6.4" height="0.91" fill="#0060ff"/>
<rect x="493.8" y="348.40" width="6.4" height="0.91" fill="#0000da"/>
<rect x="493.8" y="349.11" width="6.4" height="0.91" fill="#0000ec"/>
<rect x="493.8" y="349.82" width="6.4" height="0.91" fill="#0000ec"/>
<rect x="493.8" y="350.53" width="6.4" height="0.91" fill="#0050ff"/>
<rect x="493.8" y="351.24" width="6.4" height="0.91" fill="#00afff"/>
<rect x="493.8" y="351.95" width="6.4" height="0.91" fill="#0050ff"/>
<rect x="493.8" y="352.66" width="6.4" height="0.91" fill="#0000da"/>
<rect x="493.8" y="353.37" width="6.4" height="0.91" fill="#0000ec"/>
<rect x="493.8" y="354.08" width="6.4" height="0.91" fill="#0000da"/>
<rect x="493.8" y="354.79" width="6.4" height="0.91" fill="#0030ff"/>
<rect x="493.8" y="355.50" width="6.4" height="0.91" fill="#008fff"/>
<rect x="493.8" y="356.21" width="6.4" height="0.91" fill="#0040ff"/>
<rect x="493.8" y="356.92" width="6.4" height="0.91" fill="#0000da"/>
<rect x="493.8" y="357.63" width="6.4" height="0.91" fill="#0000ec"/>
<rect x="493.8" y="358.34" width="6.4" height="0.91" fill="#0000da"/>
<rect x="493.8" y="359.05" width="6.4" height="0.91" fill="#0020ff"/>
<rect x="493.8" y="359.76" width="6.4" height="0.91" fill="#0070ff"/>
<rect x="493.8" y="360.47" width="6.4" height="0.91" fill="#0030ff"/>
<rect x="493.8" y="361.18" width="6.4" height="0.91" fill="#0000c8"/>
<rect x="493.8" y="361.89" width="6.4" height="0.91" fill="#0000ec"/>
<rect x="493.8" y="362.60" width="6.4" height="0.91" fill="#0000c8"/>
<rect x="493.8" y="363.31" width="6.4" height="0.91" fill="#0000ff"/>
<rect x="493.8" y="364.02" width="6.4" height="0.91" fill="#0060ff"/>
<rect x="493.8" y="364.74" width="6.4" height="0.91" fill="#0020ff"/>
<rect x="493.8" y="365.45" width="6.4" height="0.91" fill="#0000c8"/>
<rect x="493.8" y="366.16" width="6.4" height="0.91" fill="#0000ec"/>
<rect x="493.8" y="366.87" width="6.4" height="0.91" fill="#0000c8"/>
<rect x="493.8" y="367.58" width="6.4" height="0.91" fill="#0000fe"/>
<rect x="493.8" y="368.29" width="6.4" height="0.91" fill="#0040ff"/>
<rect x="493.8" y="369.00" width="6.4" height="0.91" fill="#0000ff"/>
<rect x="493.8" y="369.71" width="6.4" height="0.91" fill="#0000b6"/>
<rect x="493.8" y="370.42" width="6.4" height="0.91" fill="#0000da"/>
<rect x="493.8" y="371.13" width="6.4" height="0.91" fill="#0000c8"/>
<rect x="493.8" y="371.84" width="6.4" height="0.91" fill="#0000ec"/>
<rect x="493.8" y="372.55" width="6.4" height="0.91" fill="#0020ff"/>
<rect x="493.8" y="373.26" width="6.4" height="0.91" fill="#0000ff"/>
<rect x="493.8" y="373.97" width="6.4" height="0.91" fill="#0000a4"/>
<rect x="493.8" y="374.68" width="6.4" height="0.91" fill="#0000da"/>
<rect x="493.8" y="375.39" width="6.4" height="0.91" fill="#0000b6"/>
<rect x="493.8" y="376.10" width="6.4" height="0.91" fill="#0000da"/>
<rect x="493.8" y="376.81" width="6.4" height="0.91" fill="#0000ff"/>
<rect x="493.8" y="377.52" width="6.4" height="0.91" fill="#0000fe"/>
<rect x="493.8" y="378.23" width="6.4" height="0.91" fill="#0000a4"/>
<rect x="493.8" y="378.94" width="6.4" height="0.91" fill="#0000da"/>
<rect x="493.8" y="379.65" width="6.4" height="0.91" fill="#0000b6"/>
<rect x="493.8" y="380.36" width="6.4" height="0.91" fill="#0000c8"/>
<rect x="493.8" y="381.07" width="6.4" height="0.91" fill="#0000fe"/>
<rect x="493.8" y="381.78" width="6.4" height="0.91" fill="#0000ec"/>
<rect x="493.8" y="382.49" width="6.4" height="0.91" fill="#000092"/>
<rect x="493.8" y="383.20" width="6.4" height="0.91" fill="#0000da"/>
<rect x="493.8" y="383.91" width="6.4" height="0.91" fill="#0000b6"/>
<rect x="493.8" y="384.62" width="6.4" height="0.91" fill="#0000c8"/>
<rect x="493.8" y="385.33" width="6.4" height="0.91" fill="#0000ec"/>
<rect x="493.8" y="386.05" width="6.4" height="0.91" fill="#0000ec"/>
<rect x="493.8" y="386.76" width="6.4" height="0.91" fill="#0000a4"/>
<rect x="493.8" y="387.47" width="6.4" height="0.91" fill="#0000da"/>
<rect x="493.8" y="388.18" width="6.4" height="0.91" fill="#0000b6"/>
<rect x="493.8" y="388.89" width="6.4" height="0.91" fill="#0000c8"/>
<rect x="493.8" y="389.60" width="6.4" height="0.91" fill="#0000ec"/>
<rect x="493.8" y="390.31" width="6.4" height="0.91" fill="#0000ec"/>
<rect x="493.8" y="391.02" width="6.4" height="0.91" fill="#0000a4"/>
<rect x="493.8" y="391.73" width="6.4" height="0.91" fill="#0000da"/>
<rect x="493.8" y="392.44" width="6.4" height="0.91" fill="#0000b6"/>
<rect x="493.8" y="393.15" width="6.4" height="0.91" fill="#0000c8"/>
<rect x="493.8" y="393.86" width="6.4" height="0.91" fill="#0000ec"/>
<rect x="493.8" y="394.57" width="6.4" height="0.91" fill="#0000ec"/>
<rect x="493.8" y="395.28" width="6.4" height="0.91" fill="#0000c8"/>
<rect x="493.8" y="395.99" width="6.4" height="0.91" fill="#0000da"/></g>
<text class="d" x="491.3" y="97.2" font-size="7.2" text-anchor="end">0</text>
<text class="d" x="491.3" y="130.8" font-size="7.2" text-anchor="end">576</text>
<text class="d" x="491.3" y="164.4" font-size="7.2" text-anchor="end">1152</text>
<text class="d" x="491.3" y="198.1" font-size="7.2" text-anchor="end">1728</text>
<text class="d" x="491.3" y="231.7" font-size="7.2" text-anchor="end">2304</text>
<text class="d" x="491.3" y="265.3" font-size="7.2" text-anchor="end">2879</text>
<text class="d" x="491.3" y="298.9" font-size="7.2" text-anchor="end">3455</text>
<text class="d" x="491.3" y="332.5" font-size="7.2" text-anchor="end">4031</text>
<text class="d" x="491.3" y="366.2" font-size="7.2" text-anchor="end">4607</text>
<text class="d" x="491.3" y="399.8" font-size="7.2" text-anchor="end">5183</text>
<text class="m" transform="translate(467.7,246.9) rotate(-90) scale(1.09,1)" font-size="9.4" text-anchor="middle">Indecies</text>
<rect x="506.4" y="181" width="6.1" height="129.5" fill="url(#jet)" stroke="#333" stroke-opacity=".55" stroke-width="0.5"/>
<path d="M512.5,180.8 h1.3 M512.5,213.2 h1.3 M512.5,245.6 h1.3 M512.5,278.0 h1.3 M512.5,310.4 h1.3" stroke="#000" stroke-opacity=".6" stroke-width=".6"/>
<text class="d" x="514.8" y="183.2" font-size="6.5">86.8</text>
<text class="d" x="514.8" y="215.6" font-size="6.5">65.5</text>
<text class="d" x="514.8" y="248.0" font-size="6.5">44.2</text>
<text class="d" x="514.8" y="280.4" font-size="6.5">22.8</text>
<text class="d" x="514.8" y="312.8" font-size="6.5">1.5</text>
<text class="d" transform="translate(538.9,246) rotate(-90)" font-size="7.4" text-anchor="middle">vTECU</text>
<text class="m" x="497.8" y="423.4" font-size="11.7" text-anchor="middle">(B)</text>
<defs><linearGradient id="c0" x2="0" y2="1"><stop offset=".00" stop-color="#0000e7"/><stop offset=".06" stop-color="#0000e6"/><stop offset=".11" stop-color="#0000e4"/><stop offset=".17" stop-color="#0000e4"/><stop offset=".22" stop-color="#0000e6"/><stop offset=".28" stop-color="#0000ec"/><stop offset=".33" stop-color="#0000ff"/><stop offset=".39" stop-color="#0015ff"/><stop offset=".44" stop-color="#003dff"/><stop offset=".50" stop-color="#0043ff"/><stop offset=".56" stop-color="#0039ff"/><stop offset=".61" stop-color="#0029ff"/><stop offset=".67" stop-color="#0016ff"/><stop offset=".72" stop-color="#0000ff"/><stop offset=".78" stop-color="#0000ec"/><stop offset=".83" stop-color="#0000d4"/><stop offset=".89" stop-color="#0000ce"/><stop offset=".94" stop-color="#0000cb"/><stop offset="1.00" stop-color="#0000ca"/></linearGradient><linearGradient id="c1" x2="0" y2="1"><stop offset=".00" stop-color="#0000da"/><stop offset=".06" stop-color="#0000d7"/><stop offset=".11" stop-color="#0000d6"/><stop offset=".17" stop-color="#0000d5"/><stop offset=".22" stop-color="#0000d7"/><stop offset=".28" stop-color="#0000de"/><stop offset=".33" stop-color="#0000f0"/><stop offset=".39" stop-color="#0007ff"/><stop offset=".44" stop-color="#002dff"/><stop offset=".50" stop-color="#0033ff"/><stop offset=".56" stop-color="#002aff"/><stop offset=".61" stop-color="#001bff"/><stop offset=".67" stop-color="#0009ff"/><stop offset=".72" stop-color="#0000fc"/><stop offset=".78" stop-color="#0000de"/><stop offset=".83" stop-color="#0000c7"/><stop offset=".89" stop-color="#0000c1"/><stop offset=".94" stop-color="#0000bf"/><stop offset="1.00" stop-color="#0000be"/></linearGradient><linearGradient id="c2" x2="0" y2="1"><stop offset=".00" stop-color="#0000e1"/><stop offset=".06" stop-color="#0000df"/><stop offset=".11" stop-color="#0000dd"/><stop offset=".17" stop-color="#0000dd"/><stop offset=".22" stop-color="#0000df"/><stop offset=".28" stop-color="#0000e6"/><stop offset=".33" stop-color="#0000fa"/><stop offset=".39" stop-color="#0012ff"/><stop offset=".44" stop-color="#003aff"/><stop offset=".50" stop-color="#0040ff"/><stop offset=".56" stop-color="#0036ff"/><stop offset=".61" stop-color="#0026ff"/><stop offset=".67" stop-color="#0013ff"/><stop offset=".72" stop-color="#0000ff"/><stop offset=".78" stop-color="#0000e8"/><stop offset=".83" stop-color="#0000d0"/><stop offset=".89" stop-color="#0000cb"/><stop offset=".94" stop-color="#0000c8"/><stop offset="1.00" stop-color="#0000c7"/></linearGradient><linearGradient id="c3" x2="0" y2="1"><stop offset=".00" stop-color="#0000e8"/><stop offset=".06" stop-color="#0000e6"/><stop offset=".11" stop-color="#0000e4"/><stop offset=".17" stop-color="#0000e4"/><stop offset=".22" stop-color="#0000e6"/><stop offset=".28" stop-color="#0000ee"/><stop offset=".33" stop-color="#0000ff"/><stop offset=".39" stop-color="#001dff"/><stop offset=".44" stop-color="#0046ff"/><stop offset=".50" stop-color="#004cff"/><stop offset=".56" stop-color="#0042ff"/><stop offset=".61" stop-color="#0030ff"/><stop offset=".67" stop-color="#001cff"/><stop offset=".72" stop-color="#0000ff"/><stop offset=".78" stop-color="#0000f1"/><stop offset=".83" stop-color="#0000d8"/><stop offset=".89" stop-color="#0000d2"/><stop offset=".94" stop-color="#0000cf"/><stop offset="1.00" stop-color="#0000ce"/></linearGradient><linearGradient id="c4" x2="0" y2="1"><stop offset=".00" stop-color="#0000e5"/><stop offset=".06" stop-color="#0000e2"/><stop offset=".11" stop-color="#0000e1"/><stop offset=".17" stop-color="#0000e0"/><stop offset=".22" stop-color="#0000e3"/><stop offset=".28" stop-color="#0000eb"/><stop offset=".33" stop-color="#0000ff"/><stop offset=".39" stop-color="#001bff"/><stop offset=".44" stop-color="#0044ff"/><stop offset=".50" stop-color="#0049ff"/><stop offset=".56" stop-color="#003fff"/><stop offset=".61" stop-color="#002dff"/><stop offset=".67" stop-color="#0019ff"/><stop offset=".72" stop-color="#0000ff"/><stop offset=".78" stop-color="#0000ed"/><stop offset=".83" stop-color="#0000d4"/><stop offset=".89" stop-color="#0000ce"/><stop offset=".94" stop-color="#0000cb"/><stop offset="1.00" stop-color="#0000ca"/></linearGradient><linearGradient id="c5" x2="0" y2="1"><stop offset=".00" stop-color="#0000f1"/><stop offset=".06" stop-color="#0000ee"/><stop offset=".11" stop-color="#0000ed"/><stop offset=".17" stop-color="#0000ed"/><stop offset=".22" stop-color="#0000f0"/><stop offset=".28" stop-color="#0000fa"/><stop offset=".33" stop-color="#0002ff"/><stop offset=".39" stop-color="#002cff"/><stop offset=".44" stop-color="#0058ff"/><stop offset=".50" stop-color="#005dff"/><stop offset=".56" stop-color="#0051ff"/><stop offset=".61" stop-color="#003dff"/><stop offset=".67" stop-color="#0027ff"/><stop offset=".72" stop-color="#0009ff"/><stop offset=".78" stop-color="#0000fa"/><stop offset=".83" stop-color="#0000e0"/><stop offset=".89" stop-color="#0000d9"/><stop offset=".94" stop-color="#0000d6"/><stop offset="1.00" stop-color="#0000d5"/></linearGradient><linearGradient id="c6" x2="0" y2="1"><stop offset=".00" stop-color="#0000f6"/><stop offset=".06" stop-color="#0000f4"/><stop offset=".11" stop-color="#0000f3"/><stop offset=".17" stop-color="#0000f3"/><stop offset=".22" stop-color="#0000f7"/><stop offset=".28" stop-color="#0000ff"/><stop offset=".33" stop-color="#000aff"/><stop offset=".39" stop-color="#0037ff"/><stop offset=".44" stop-color="#0063ff"/><stop offset=".50" stop-color="#0067ff"/><stop offset=".56" stop-color="#005aff"/><stop offset=".61" stop-color="#0044ff"/><stop offset=".67" stop-color="#002dff"/><stop offset=".72" stop-color="#000eff"/><stop offset=".78" stop-color="#0000ff"/><stop offset=".83" stop-color="#0000e4"/><stop offset=".89" stop-color="#0000dd"/><stop offset=".94" stop-color="#0000da"/><stop offset="1.00" stop-color="#0000d8"/></linearGradient><linearGradient id="c7" x2="0" y2="1"><stop offset=".00" stop-color="#0000ef"/><stop offset=".06" stop-color="#0000ed"/><stop offset=".11" stop-color="#0000ed"/><stop offset=".17" stop-color="#0000ed"/><stop offset=".22" stop-color="#0000f1"/><stop offset=".28" stop-color="#0000fc"/><stop offset=".33" stop-color="#0006ff"/><stop offset=".39" stop-color="#0033ff"/><stop offset=".44" stop-color="#005eff"/><stop offset=".50" stop-color="#0061ff"/><stop offset=".56" stop-color="#0053ff"/><stop offset=".61" stop-color="#003dff"/><stop offset=".67" stop-color="#0025ff"/><stop offset=".72" stop-color="#0006ff"/><stop offset=".78" stop-color="#0000f6"/><stop offset=".83" stop-color="#0000db"/><stop offset=".89" stop-color="#0000d4"/><stop offset=".94" stop-color="#0000d1"/><stop offset="1.00" stop-color="#0000cf"/></linearGradient><linearGradient id="c8" x2="0" y2="1"><stop offset=".00" stop-color="#0000ff"/><stop offset=".06" stop-color="#0000ff"/><stop offset=".11" stop-color="#0000ff"/><stop offset=".17" stop-color="#0000ff"/><stop offset=".22" stop-color="#0000ff"/><stop offset=".28" stop-color="#0005ff"/><stop offset=".33" stop-color="#0020ff"/><stop offset=".39" stop-color="#0053ff"/><stop offset=".44" stop-color="#0082ff"/><stop offset=".50" stop-color="#0085ff"/><stop offset=".56" stop-color="#0073ff"/><stop offset=".61" stop-color="#0059ff"/><stop offset=".67" stop-color="#003eff"/><stop offset=".72" stop-color="#001cff"/><stop offset=".78" stop-color="#0000ff"/><stop offset=".83" stop-color="#0000f0"/><stop offset=".89" stop-color="#0000e8"/><stop offset=".94" stop-color="#0000e4"/><stop offset="1.00" stop-color="#0000e2"/></linearGradient><linearGradient id="c9" x2="0" y2="1"><stop offset=".00" stop-color="#0000ff"/><stop offset=".06" stop-color="#0000ff"/><stop offset=".11" stop-color="#0000ff"/><stop offset=".17" stop-color="#0000ff"/><stop offset=".22" stop-color="#0000ff"/><stop offset=".28" stop-color="#0009ff"/><stop offset=".33" stop-color="#0027ff"/><stop offset=".39" stop-color="#005dff"/><stop offset=".44" stop-color="#008dff"/><stop offset=".50" stop-color="#008eff"/><stop offset=".56" stop-color="#007aff"/><stop offset=".61" stop-color="#005eff"/><stop offset=".67" stop-color="#0041ff"/><stop offset=".72" stop-color="#001dff"/><stop offset=".78" stop-color="#0000ff"/><stop offset=".83" stop-color="#0000f1"/><stop offset=".89" stop-color="#0000e8"/><stop offset=".94" stop-color="#0000e4"/><stop offset="1.00" stop-color="#0000e2"/></linearGradient><linearGradient id="c10" x2="0" y2="1"><stop offset=".00" stop-color="#0000ff"/><stop offset=".06" stop-color="#0000ff"/><stop offset=".11" stop-color="#0000ff"/><stop offset=".17" stop-color="#0000ff"/><stop offset=".22" stop-color="#0000ff"/><stop offset=".28" stop-color="#0006ff"/><stop offset=".33" stop-color="#0026ff"/><stop offset=".39" stop-color="#005dff"/><stop offset=".44" stop-color="#008dff"/><stop offset=".50" stop-color="#008dff"/><stop offset=".56" stop-color="#0077ff"/><stop offset=".61" stop-color="#0059ff"/><stop offset=".67" stop-color="#003bff"/><stop offset=".72" stop-color="#0017ff"/><stop offset=".78" stop-color="#0000ff"/><stop offset=".83" stop-color="#0000e9"/><stop offset=".89" stop-color="#0000e1"/><stop offset=".94" stop-color="#0000dc"/><stop offset="1.00" stop-color="#0000db"/></linearGradient><linearGradient id="c11" x2="0" y2="1"><stop offset=".00" stop-color="#0000ff"/><stop offset=".06" stop-color="#0000ff"/><stop offset=".11" stop-color="#0000ff"/><stop offset=".17" stop-color="#0000ff"/><stop offset=".22" stop-color="#0002ff"/><stop offset=".28" stop-color="#0011ff"/><stop offset=".33" stop-color="#0035ff"/><stop offset=".39" stop-color="#0073ff"/><stop offset=".44" stop-color="#00a6ff"/><stop offset=".50" stop-color="#00a3ff"/><stop offset=".56" stop-color="#008aff"/><stop offset=".61" stop-color="#0068ff"/><stop offset=".67" stop-color="#0047ff"/><stop offset=".72" stop-color="#0021ff"/><stop offset=".78" stop-color="#0000ff"/><stop offset=".83" stop-color="#0000f2"/><stop offset=".89" stop-color="#0000e9"/><stop offset=".94" stop-color="#0000e4"/><stop offset="1.00" stop-color="#0000e2"/></linearGradient><linearGradient id="c12" x2="0" y2="1"><stop offset=".00" stop-color="#0000ff"/><stop offset=".06" stop-color="#0000ff"/><stop offset=".11" stop-color="#0000ff"/><stop offset=".17" stop-color="#0001ff"/><stop offset=".22" stop-color="#0008ff"/><stop offset=".28" stop-color="#0019ff"/><stop offset=".33" stop-color="#0042ff"/><stop offset=".39" stop-color="#0087ff"/><stop offset=".44" stop-color="#00bcff"/><stop offset=".50" stop-color="#00b8ff"/><stop offset=".56" stop-color="#009aff"/><stop offset=".61" stop-color="#0074ff"/><stop offset=".67" stop-color="#0050ff"/><stop offset=".72" stop-color="#0028ff"/><stop offset=".78" stop-color="#0005ff"/><stop offset=".83" stop-color="#0000f8"/><stop offset=".89" stop-color="#0000ee"/><stop offset=".94" stop-color="#0000e9"/><stop offset="1.00" stop-color="#0000e7"/></linearGradient><linearGradient id="c13" x2="0" y2="1"><stop offset=".00" stop-color="#0000fd"/><stop offset=".06" stop-color="#0000fd"/><stop offset=".11" stop-color="#0000fe"/><stop offset=".17" stop-color="#0000ff"/><stop offset=".22" stop-color="#0000ff"/><stop offset=".28" stop-color="#000bff"/><stop offset=".33" stop-color="#0036ff"/><stop offset=".39" stop-color="#007bff"/><stop offset=".44" stop-color="#00afff"/><stop offset=".50" stop-color="#00a9ff"/><stop offset=".56" stop-color="#0089ff"/><stop offset=".61" stop-color="#0062ff"/><stop offset=".67" stop-color="#003eff"/><stop offset=".72" stop-color="#0017ff"/><stop offset=".78" stop-color="#0000ff"/><stop offset=".83" stop-color="#0000e5"/><stop offset=".89" stop-color="#0000db"/><stop offset=".94" stop-color="#0000d7"/><stop offset="1.00" stop-color="#0000d5"/></linearGradient><linearGradient id="c14" x2="0" y2="1"><stop offset=".00" stop-color="#0000e3"/><stop offset=".06" stop-color="#0000e4"/><stop offset=".11" stop-color="#0000e4"/><stop offset=".17" stop-color="#0000e7"/><stop offset=".22" stop-color="#0000ee"/><stop offset=".28" stop-color="#0000ff"/><stop offset=".33" stop-color="#001fff"/><stop offset=".39" stop-color="#0063ff"/><stop offset=".44" stop-color="#0094ff"/><stop offset=".50" stop-color="#008cff"/><stop offset=".56" stop-color="#006bff"/><stop offset=".61" stop-color="#0044ff"/><stop offset=".67" stop-color="#0021ff"/><stop offset=".72" stop-color="#0000ff"/><stop offset=".78" stop-color="#0000e6"/><stop offset=".83" stop-color="#0000c9"/><stop offset=".89" stop-color="#0000c0"/><stop offset=".94" stop-color="#0000bc"/><stop offset="1.00" stop-color="#0000ba"/></linearGradient><linearGradient id="c15" x2="0" y2="1"><stop offset=".00" stop-color="#0000ca"/><stop offset=".06" stop-color="#0000cb"/><stop offset=".11" stop-color="#0000cb"/><stop offset=".17" stop-color="#0000ce"/><stop offset=".22" stop-color="#0000d5"/><stop offset=".28" stop-color="#0000e9"/><stop offset=".33" stop-color="#0007ff"/><stop offset=".39" stop-color="#0049ff"/><stop offset=".44" stop-color="#0077ff"/><stop offset=".50" stop-color="#006eff"/><stop offset=".56" stop-color="#004dff"/><stop offset=".61" stop-color="#0027ff"/><stop offset=".67" stop-color="#0005ff"/><stop offset=".72" stop-color="#0000ee"/><stop offset=".78" stop-color="#0000ca"/><stop offset=".83" stop-color="#0000ae"/><stop offset=".89" stop-color="#0000a6"/><stop offset=".94" stop-color="#0000a2"/><stop offset="1.00" stop-color="#0000a2"/></linearGradient><linearGradient id="c16" x2="0" y2="1"><stop offset=".00" stop-color="#0000d7"/><stop offset=".06" stop-color="#0000d7"/><stop offset=".11" stop-color="#0000d8"/><stop offset=".17" stop-color="#0000db"/><stop offset=".22" stop-color="#0000e3"/><stop offset=".28" stop-color="#0000fa"/><stop offset=".33" stop-color="#001eff"/><stop offset=".39" stop-color="#006aff"/><stop offset=".44" stop-color="#009dff"/><stop offset=".50" stop-color="#0091ff"/><stop offset=".56" stop-color="#006aff"/><stop offset=".61" stop-color="#003dff"/><stop offset=".67" stop-color="#0017ff"/><stop offset=".72" stop-color="#0000ff"/><stop offset=".78" stop-color="#0000d9"/><stop offset=".83" stop-color="#0000bb"/><stop offset=".89" stop-color="#0000b2"/><stop offset=".94" stop-color="#0000ae"/><stop offset="1.00" stop-color="#0000ad"/></linearGradient><linearGradient id="c17" x2="0" y2="1"><stop offset=".00" stop-color="#0000e5"/><stop offset=".06" stop-color="#0000e6"/><stop offset=".11" stop-color="#0000e7"/><stop offset=".17" stop-color="#0000e9"/><stop offset=".22" stop-color="#0000f2"/><stop offset=".28" stop-color="#0000ff"/><stop offset=".33" stop-color="#0036ff"/><stop offset=".39" stop-color="#008dff"/><stop offset=".44" stop-color="#00c5ff"/><stop offset=".50" stop-color="#00b5ff"/><stop offset=".56" stop-color="#0088ff"/><stop offset=".61" stop-color="#0055ff"/><stop offset=".67" stop-color="#002aff"/><stop offset=".72" stop-color="#0000ff"/><stop offset=".78" stop-color="#0000e9"/><stop offset=".83" stop-color="#0000ca"/><stop offset=".89" stop-color="#0000c0"/><stop offset=".94" stop-color="#0000bc"/><stop offset="1.00" stop-color="#0000ba"/></linearGradient><linearGradient id="c18" x2="0" y2="1"><stop offset=".00" stop-color="#0000f2"/><stop offset=".06" stop-color="#0000f3"/><stop offset=".11" stop-color="#0000f4"/><stop offset=".17" stop-color="#0000f7"/><stop offset=".22" stop-color="#0000ff"/><stop offset=".28" stop-color="#000cff"/><stop offset=".33" stop-color="#004dff"/><stop offset=".39" stop-color="#00aeff"/><stop offset=".44" stop-color="#04eaf3"/><stop offset=".50" stop-color="#00d8ff"/><stop offset=".56" stop-color="#00a4ff"/><stop offset=".61" stop-color="#006bff"/><stop offset=".67" stop-color="#003bff"/><stop offset=".72" stop-color="#000fff"/><stop offset=".78" stop-color="#0000f7"/><stop offset=".83" stop-color="#0000d7"/><stop offset=".89" stop-color="#0000cd"/><stop offset=".94" stop-color="#0000c8"/><stop offset="1.00" stop-color="#0000c7"/></linearGradient><linearGradient id="c19" x2="0" y2="1"><stop offset=".00" stop-color="#0000f2"/><stop offset=".06" stop-color="#0000f3"/><stop offset=".11" stop-color="#0000f4"/><stop offset=".17" stop-color="#0000f7"/><stop offset=".22" stop-color="#0000ff"/><stop offset=".28" stop-color="#000eff"/><stop offset=".33" stop-color="#0052ff"/><stop offset=".39" stop-color="#00b9ff"/><stop offset=".44" stop-color="#0df6e9"/><stop offset=".50" stop-color="#00e2fa"/><stop offset=".56" stop-color="#00aaff"/><stop offset=".61" stop-color="#006eff"/><stop offset=".67" stop-color="#003cff"/><stop offset=".72" stop-color="#000fff"/><stop offset=".78" stop-color="#0000f7"/><stop offset=".83" stop-color="#0000d7"/><stop offset=".89" stop-color="#0000cc"/><stop offset=".94" stop-color="#0000c8"/><stop offset="1.00" stop-color="#0000c6"/></linearGradient><linearGradient id="c20" x2="0" y2="1"><stop offset=".00" stop-color="#0000ff"/><stop offset=".06" stop-color="#0000ff"/><stop offset=".11" stop-color="#0000ff"/><stop offset=".17" stop-color="#0000ff"/><stop offset=".22" stop-color="#0007ff"/><stop offset=".28" stop-color="#0027ff"/><stop offset=".33" stop-color="#0075ff"/><stop offset=".39" stop-color="#04eaf3"/><stop offset=".44" stop-color="#3bffbb"/><stop offset=".50" stop-color="#28ffcf"/><stop offset=".56" stop-color="#00d6ff"/><stop offset=".61" stop-color="#0091ff"/><stop offset=".67" stop-color="#0059ff"/><stop offset=".72" stop-color="#0027ff"/><stop offset=".78" stop-color="#0000ff"/><stop offset=".83" stop-color="#0000ed"/><stop offset=".89" stop-color="#0000e2"/><stop offset=".94" stop-color="#0000dd"/><stop offset="1.00" stop-color="#0000db"/></linearGradient><linearGradient id="c21" x2="0" y2="1"><stop offset=".00" stop-color="#0000f9"/><stop offset=".06" stop-color="#0000f9"/><stop offset=".11" stop-color="#0000fa"/><stop offset=".17" stop-color="#0000fe"/><stop offset=".22" stop-color="#0000ff"/><stop offset=".28" stop-color="#0018ff"/><stop offset=".33" stop-color="#0064ff"/><stop offset=".39" stop-color="#00d6ff"/><stop offset=".44" stop-color="#29ffce"/><stop offset=".50" stop-color="#15ffe2"/><stop offset=".56" stop-color="#00c0ff"/><stop offset=".61" stop-color="#007dff"/><stop offset=".67" stop-color="#0047ff"/><stop offset=".72" stop-color="#0016ff"/><stop offset=".78" stop-color="#0000fd"/><stop offset=".83" stop-color="#0000dc"/><stop offset=".89" stop-color="#0000d1"/><stop offset=".94" stop-color="#0000cc"/><stop offset="1.00" stop-color="#0000cb"/></linearGradient><linearGradient id="c22" x2="0" y2="1"><stop offset=".00" stop-color="#0000eb"/><stop offset=".06" stop-color="#0000ec"/><stop offset=".11" stop-color="#0000ed"/><stop offset=".17" stop-color="#0000f0"/><stop offset=".22" stop-color="#0000fb"/><stop offset=".28" stop-color="#000bff"/><stop offset=".33" stop-color="#0055ff"/><stop offset=".39" stop-color="#00c2ff"/><stop offset=".44" stop-color="#17ffe0"/><stop offset=".50" stop-color="#03eaf4"/><stop offset=".56" stop-color="#00acff"/><stop offset=".61" stop-color="#006bff"/><stop offset=".67" stop-color="#0036ff"/><stop offset=".72" stop-color="#0007ff"/><stop offset=".78" stop-color="#0000ed"/><stop offset=".83" stop-color="#0000cc"/><stop offset=".89" stop-color="#0000c2"/><stop offset=".94" stop-color="#0000bd"/><stop offset="1.00" stop-color="#0000bc"/></linearGradient><linearGradient id="c23" x2="0" y2="1"><stop offset=".00" stop-color="#0000f3"/><stop offset=".06" stop-color="#0000f3"/><stop offset=".11" stop-color="#0000f4"/><stop offset=".17" stop-color="#0000f7"/><stop offset=".22" stop-color="#0000ff"/><stop offset=".28" stop-color="#0013ff"/><stop offset=".33" stop-color="#0060ff"/><stop offset=".39" stop-color="#00d3ff"/><stop offset=".44" stop-color="#26ffd0"/><stop offset=".50" stop-color="#12fce5"/><stop offset=".56" stop-color="#00bbff"/><stop offset=".61" stop-color="#0077ff"/><stop offset=".67" stop-color="#0040ff"/><stop offset=".72" stop-color="#0010ff"/><stop offset=".78" stop-color="#0000f5"/><stop offset=".83" stop-color="#0000d3"/><stop offset=".89" stop-color="#0000c8"/><stop offset=".94" stop-color="#0000c3"/><stop offset="1.00" stop-color="#0000c3"/></linearGradient><linearGradient id="c24" x2="0" y2="1"><stop offset=".00" stop-color="#0000de"/><stop offset=".06" stop-color="#0000df"/><stop offset=".11" stop-color="#0000df"/><stop offset=".17" stop-color="#0000e3"/><stop offset=".22" stop-color="#0000ed"/><stop offset=".28" stop-color="#0000ff"/><stop offset=".33" stop-color="#0043ff"/><stop offset=".39" stop-color="#00acff"/><stop offset=".44" stop-color="#02e8f5"/><stop offset=".50" stop-color="#00d1ff"/><stop offset=".56" stop-color="#0097ff"/><stop offset=".61" stop-color="#0058ff"/><stop offset=".67" stop-color="#0026ff"/><stop offset=".72" stop-color="#0000ff"/><stop offset=".78" stop-color="#0000dd"/><stop offset=".83" stop-color="#0000bc"/><stop offset=".89" stop-color="#0000b1"/><stop offset=".94" stop-color="#0000ad"/><stop offset="1.00" stop-color="#0000ad"/></linearGradient><linearGradient id="c25" x2="0" y2="1"><stop offset=".00" stop-color="#0000d2"/><stop offset=".06" stop-color="#0000d3"/><stop offset=".11" stop-color="#0000d4"/><stop offset=".17" stop-color="#0000d7"/><stop offset=".22" stop-color="#0000e0"/><stop offset=".28" stop-color="#0000fe"/><stop offset=".33" stop-color="#0031ff"/><stop offset=".39" stop-color="#0091ff"/><stop offset=".44" stop-color="#00caff"/><stop offset=".50" stop-color="#00b5ff"/><stop offset=".56" stop-color="#007fff"/><stop offset=".61" stop-color="#0045ff"/><stop offset=".67" stop-color="#0016ff"/><stop offset=".72" stop-color="#0000f8"/><stop offset=".78" stop-color="#0000ce"/><stop offset=".83" stop-color="#0000ae"/><stop offset=".89" stop-color="#0000a3"/><stop offset=".94" stop-color="#0000a2"/><stop offset="1.00" stop-color="#0000a2"/></linearGradient><linearGradient id="c26" x2="0" y2="1"><stop offset=".00" stop-color="#0000dc"/><stop offset=".06" stop-color="#0000dc"/><stop offset=".11" stop-color="#0000dd"/><stop offset=".17" stop-color="#0000e0"/><stop offset=".22" stop-color="#0000ea"/><stop offset=".28" stop-color="#0000ff"/><stop offset=".33" stop-color="#003aff"/><stop offset=".39" stop-color="#009dff"/><stop offset=".44" stop-color="#00d7ff"/><stop offset=".50" stop-color="#00c2ff"/><stop offset=".56" stop-color="#008cff"/><stop offset=".61" stop-color="#0051ff"/><stop offset=".67" stop-color="#0021ff"/><stop offset=".72" stop-color="#0000ff"/><stop offset=".78" stop-color="#0000d7"/><stop offset=".83" stop-color="#0000b6"/><stop offset=".89" stop-color="#0000ac"/><stop offset=".94" stop-color="#0000a7"/><stop offset="1.00" stop-color="#0000a8"/></linearGradient><linearGradient id="c27" x2="0" y2="1"><stop offset=".00" stop-color="#0000db"/><stop offset=".06" stop-color="#0000db"/><stop offset=".11" stop-color="#0000dc"/><stop offset=".17" stop-color="#0000df"/><stop offset=".22" stop-color="#0000e8"/><stop offset=".28" stop-color="#0000ff"/><stop offset=".33" stop-color="#0034ff"/><stop offset=".39" stop-color="#0091ff"/><stop offset=".44" stop-color="#00caff"/><stop offset=".50" stop-color="#00b7ff"/><stop offset=".56" stop-color="#0084ff"/><stop offset=".61" stop-color="#004cff"/><stop offset=".67" stop-color="#001eff"/><stop offset=".72" stop-color="#0000ff"/><stop offset=".78" stop-color="#0000d4"/><stop offset=".83" stop-color="#0000b3"/><stop offset=".89" stop-color="#0000a8"/><stop offset=".94" stop-color="#0000a4"/><stop offset="1.00" stop-color="#0000a5"/></linearGradient><linearGradient id="c28" x2="0" y2="1"><stop offset=".00" stop-color="#0000f3"/><stop offset=".06" stop-color="#0000f3"/><stop offset=".11" stop-color="#0000f4"/><stop offset=".17" stop-color="#0000f7"/><stop offset=".22" stop-color="#0000ff"/><stop offset=".28" stop-color="#000dff"/><stop offset=".33" stop-color="#004fff"/><stop offset=".39" stop-color="#00b2ff"/><stop offset=".44" stop-color="#08f0ef"/><stop offset=".50" stop-color="#00ddfe"/><stop offset=".56" stop-color="#00a7ff"/><stop offset=".61" stop-color="#006cff"/><stop offset=".67" stop-color="#003bff"/><stop offset=".72" stop-color="#000bff"/><stop offset=".78" stop-color="#0000ef"/><stop offset=".83" stop-color="#0000cb"/><stop offset=".89" stop-color="#0000bf"/><stop offset=".94" stop-color="#0000bb"/><stop offset="1.00" stop-color="#0000bc"/></linearGradient><linearGradient id="c29" x2="0" y2="1"><stop offset=".00" stop-color="#0000e4"/><stop offset=".06" stop-color="#0000e5"/><stop offset=".11" stop-color="#0000e5"/><stop offset=".17" stop-color="#0000e8"/><stop offset=".22" stop-color="#0000f1"/><stop offset=".28" stop-color="#0000ff"/><stop offset=".33" stop-color="#0036ff"/><stop offset=".39" stop-color="#008eff"/><stop offset=".44" stop-color="#00c7ff"/><stop offset=".50" stop-color="#00b8ff"/><stop offset=".56" stop-color="#0089ff"/><stop offset=".61" stop-color="#0054ff"/><stop offset=".67" stop-color="#0027ff"/><stop offset=".72" stop-color="#0000ff"/><stop offset=".78" stop-color="#0000dd"/><stop offset=".83" stop-color="#0000ba"/><stop offset=".89" stop-color="#0000ae"/><stop offset=".94" stop-color="#0000aa"/><stop offset="1.00" stop-color="#0000ab"/></linearGradient><linearGradient id="c30" x2="0" y2="1"><stop offset=".00" stop-color="#0000d7"/><stop offset=".06" stop-color="#0000d7"/><stop offset=".11" stop-color="#0000d8"/><stop offset=".17" stop-color="#0000da"/><stop offset=".22" stop-color="#0000e2"/><stop offset=".28" stop-color="#0000fa"/><stop offset=".33" stop-color="#001fff"/><stop offset=".39" stop-color="#006dff"/><stop offset=".44" stop-color="#00a1ff"/><stop offset=".50" stop-color="#0095ff"/><stop offset=".56" stop-color="#006cff"/><stop offset=".61" stop-color="#003eff"/><stop offset=".67" stop-color="#0014ff"/><stop offset=".72" stop-color="#0000f7"/><stop offset=".78" stop-color="#0000cb"/><stop offset=".83" stop-color="#0000a9"/><stop offset=".89" stop-color="#0000a2"/><stop offset=".94" stop-color="#0000a2"/><stop offset="1.00" stop-color="#0000a2"/></linearGradient><linearGradient id="c31" x2="0" y2="1"><stop offset=".00" stop-color="#0000d6"/><stop offset=".06" stop-color="#0000d7"/><stop offset=".11" stop-color="#0000d7"/><stop offset=".17" stop-color="#0000da"/><stop offset=".22" stop-color="#0000e2"/><stop offset=".28" stop-color="#0000f8"/><stop offset=".33" stop-color="#0019ff"/><stop offset=".39" stop-color="#0064ff"/><stop offset=".44" stop-color="#0098ff"/><stop offset=".50" stop-color="#008eff"/><stop offset=".56" stop-color="#0068ff"/><stop offset=".61" stop-color="#003bff"/><stop offset=".67" stop-color="#0013ff"/><stop offset=".72" stop-color="#0000f5"/><stop offset=".78" stop-color="#0000ca"/><stop offset=".83" stop-color="#0000a7"/><stop offset=".89" stop-color="#0000a2"/><stop offset=".94" stop-color="#0000a2"/><stop offset="1.00" stop-color="#0000a2"/></linearGradient><linearGradient id="c32" x2="0" y2="1"><stop offset=".00" stop-color="#0000c1"/><stop offset=".06" stop-color="#0000c2"/><stop offset=".11" stop-color="#0000c2"/><stop offset=".17" stop-color="#0000c5"/><stop offset=".22" stop-color="#0000cb"/><stop offset=".28" stop-color="#0000dd"/><stop offset=".33" stop-color="#0000ff"/><stop offset=".39" stop-color="#003bff"/><stop offset=".44" stop-color="#0069ff"/><stop offset=".50" stop-color="#0062ff"/><stop offset=".56" stop-color="#0042ff"/><stop offset=".61" stop-color="#001bff"/><stop offset=".67" stop-color="#0000ff"/><stop offset=".72" stop-color="#0000d9"/><stop offset=".78" stop-color="#0000b0"/><stop offset=".83" stop-color="#0000a2"/><stop offset=".89" stop-color="#0000a2"/><stop offset=".94" stop-color="#0000a2"/><stop offset="1.00" stop-color="#0000a2"/></linearGradient><linearGradient id="c33" x2="0" y2="1"><stop offset=".00" stop-color="#0000cf"/><stop offset=".06" stop-color="#0000cf"/><stop offset=".11" stop-color="#0000d0"/><stop offset=".17" stop-color="#0000d2"/><stop offset=".22" stop-color="#0000d9"/><stop offset=".28" stop-color="#0000eb"/><stop offset=".33" stop-color="#0007ff"/><stop offset=".39" stop-color="#004aff"/><stop offset=".44" stop-color="#007dff"/><stop offset=".50" stop-color="#0076ff"/><stop offset=".56" stop-color="#0056ff"/><stop offset=".61" stop-color="#002dff"/><stop offset=".67" stop-color="#0007ff"/><stop offset=".72" stop-color="#0000e9"/><stop offset=".78" stop-color="#0000be"/><stop offset=".83" stop-color="#0000a2"/><stop offset=".89" stop-color="#0000a2"/><stop offset=".94" stop-color="#0000a2"/><stop offset="1.00" stop-color="#0000a2"/></linearGradient><linearGradient id="c34" x2="0" y2="1"><stop offset=".00" stop-color="#0000cf"/><stop offset=".06" stop-color="#0000cf"/><stop offset=".11" stop-color="#0000d0"/><stop offset=".17" stop-color="#0000d2"/><stop offset=".22" stop-color="#0000d8"/><stop offset=".28" stop-color="#0000e9"/><stop offset=".33" stop-color="#0003ff"/><stop offset=".39" stop-color="#0044ff"/><stop offset=".44" stop-color="#0078ff"/><stop offset=".50" stop-color="#0073ff"/><stop offset=".56" stop-color="#0053ff"/><stop offset=".61" stop-color="#002bff"/><stop offset=".67" stop-color="#0006ff"/><stop offset=".72" stop-color="#0000e7"/><stop offset=".78" stop-color="#0000bb"/><stop offset=".83" stop-color="#0000a2"/><stop offset=".89" stop-color="#0000a2"/><stop offset=".94" stop-color="#0000a2"/><stop offset="1.00" stop-color="#0000a2"/></linearGradient><linearGradient id="c35" x2="0" y2="1"><stop offset=".00" stop-color="#0000e7"/><stop offset=".06" stop-color="#0000e8"/><stop offset=".11" stop-color="#0000e9"/><stop offset=".17" stop-color="#0000eb"/><stop offset=".22" stop-color="#0000f1"/><stop offset=".28" stop-color="#0000ff"/><stop offset=".33" stop-color="#001cff"/><stop offset=".39" stop-color="#0065ff"/><stop offset=".44" stop-color="#00a1ff"/><stop offset=".50" stop-color="#009dff"/><stop offset=".56" stop-color="#007aff"/><stop offset=".61" stop-color="#004dff"/><stop offset=".67" stop-color="#0023ff"/><stop offset=".72" stop-color="#0000ff"/><stop offset=".78" stop-color="#0000d6"/><stop offset=".83" stop-color="#0000b1"/><stop offset=".89" stop-color="#0000a3"/><stop offset=".94" stop-color="#0000a2"/><stop offset="1.00" stop-color="#0000a4"/></linearGradient><linearGradient id="c36" x2="0" y2="1"><stop offset=".00" stop-color="#0000f6"/><stop offset=".06" stop-color="#0000f6"/><stop offset=".11" stop-color="#0000f7"/><stop offset=".17" stop-color="#0000fa"/><stop offset=".22" stop-color="#0000ff"/><stop offset=".28" stop-color="#0001ff"/><stop offset=".33" stop-color="#002aff"/><stop offset=".39" stop-color="#0076ff"/><stop offset=".44" stop-color="#00b8ff"/><stop offset=".50" stop-color="#00b5ff"/><stop offset=".56" stop-color="#0090ff"/><stop offset=".61" stop-color="#0061ff"/><stop offset=".67" stop-color="#0034ff"/><stop offset=".72" stop-color="#0004ff"/><stop offset=".78" stop-color="#0000e5"/><stop offset=".83" stop-color="#0000be"/><stop offset=".89" stop-color="#0000b0"/><stop offset=".94" stop-color="#0000ac"/><stop offset="1.00" stop-color="#0000b0"/></linearGradient><linearGradient id="c37" x2="0" y2="1"><stop offset=".00" stop-color="#0000ff"/><stop offset=".06" stop-color="#0000ff"/><stop offset=".11" stop-color="#0000ff"/><stop offset=".17" stop-color="#0000ff"/><stop offset=".22" stop-color="#0005ff"/><stop offset=".28" stop-color="#0015ff"/><stop offset=".33" stop-color="#0040ff"/><stop offset=".39" stop-color="#0091ff"/><stop offset=".44" stop-color="#00daff"/><stop offset=".50" stop-color="#00d8ff"/><stop offset=".56" stop-color="#00b1ff"/><stop offset=".61" stop-color="#007eff"/><stop offset=".67" stop-color="#004eff"/><stop offset=".72" stop-color="#001bff"/><stop offset=".78" stop-color="#0000fc"/><stop offset=".83" stop-color="#0000d4"/><stop offset=".89" stop-color="#0000c4"/><stop offset=".94" stop-color="#0000c0"/><stop offset="1.00" stop-color="#0000c4"/></linearGradient><linearGradient id="c38" x2="0" y2="1"><stop offset=".00" stop-color="#0000ff"/><stop offset=".06" stop-color="#0000ff"/><stop offset=".11" stop-color="#0000ff"/><stop offset=".17" stop-color="#0000ff"/><stop offset=".22" stop-color="#0000ff"/><stop offset=".28" stop-color="#000cff"/><stop offset=".33" stop-color="#0033ff"/><stop offset=".39" stop-color="#007eff"/><stop offset=".44" stop-color="#00c3ff"/><stop offset=".50" stop-color="#00c3ff"/><stop offset=".56" stop-color="#00a0ff"/><stop offset=".61" stop-color="#0071ff"/><stop offset=".67" stop-color="#0043ff"/><stop offset=".72" stop-color="#0012ff"/><stop offset=".78" stop-color="#0000f2"/><stop offset=".83" stop-color="#0000c9"/><stop offset=".89" stop-color="#0000ba"/><stop offset=".94" stop-color="#0000b6"/><stop offset="1.00" stop-color="#0000ba"/></linearGradient><linearGradient id="c39" x2="0" y2="1"><stop offset=".00" stop-color="#0000e6"/><stop offset=".06" stop-color="#0000e6"/><stop offset=".11" stop-color="#0000e7"/><stop offset=".17" stop-color="#0000e9"/><stop offset=".22" stop-color="#0000ee"/><stop offset=".28" stop-color="#0000fc"/><stop offset=".33" stop-color="#000eff"/><stop offset=".39" stop-color="#004cff"/><stop offset=".44" stop-color="#0086ff"/><stop offset=".50" stop-color="#0087ff"/><stop offset=".56" stop-color="#006bff"/><stop offset=".61" stop-color="#0044ff"/><stop offset=".67" stop-color="#001dff"/><stop offset=".72" stop-color="#0000ff"/><stop offset=".78" stop-color="#0000cf"/><stop offset=".83" stop-color="#0000a8"/><stop offset=".89" stop-color="#0000a2"/><stop offset=".94" stop-color="#0000a2"/><stop offset="1.00" stop-color="#0000a2"/></linearGradient><linearGradient id="c40" x2="0" y2="1"><stop offset=".00" stop-color="#0000e3"/><stop offset=".06" stop-color="#0000e3"/><stop offset=".11" stop-color="#0000e4"/><stop offset=".17" stop-color="#0000e6"/><stop offset=".22" stop-color="#0000eb"/><stop offset=".28" stop-color="#0000f7"/><stop offset=".33" stop-color="#0006ff"/><stop offset=".39" stop-color="#003eff"/><stop offset=".44" stop-color="#0074ff"/><stop offset=".50" stop-color="#0077ff"/><stop offset=".56" stop-color="#005fff"/><stop offset=".61" stop-color="#003dff"/><stop offset=".67" stop-color="#0018ff"/><stop offset=".72" stop-color="#0000fa"/><stop offset=".78" stop-color="#0000ca"/><stop offset=".83" stop-color="#0000a3"/><stop offset=".89" stop-color="#0000a2"/><stop offset=".94" stop-color="#0000a2"/><stop offset="1.00" stop-color="#0000a2"/></linearGradient><linearGradient id="c41" x2="0" y2="1"><stop offset=".00" stop-color="#0000df"/><stop offset=".06" stop-color="#0000df"/><stop offset=".11" stop-color="#0000e0"/><stop offset=".17" stop-color="#0000e2"/><stop offset=".22" stop-color="#0000e7"/><stop offset=".28" stop-color="#0000f2"/><stop offset=".33" stop-color="#0000ff"/><stop offset=".39" stop-color="#0030ff"/><stop offset=".44" stop-color="#0061ff"/><stop offset=".50" stop-color="#0065ff"/><stop offset=".56" stop-color="#0052ff"/><stop offset=".61" stop-color="#0034ff"/><stop offset=".67" stop-color="#0012ff"/><stop offset=".72" stop-color="#0000f4"/><stop offset=".78" stop-color="#0000c5"/><stop offset=".83" stop-color="#0000a2"/><stop offset=".89" stop-color="#0000a2"/><stop offset=".94" stop-color="#0000a2"/><stop offset="1.00" stop-color="#0000a2"/></linearGradient><linearGradient id="c42" x2="0" y2="1"><stop offset=".00" stop-color="#0000e5"/><stop offset=".06" stop-color="#0000e5"/><stop offset=".11" stop-color="#0000e5"/><stop offset=".17" stop-color="#0000e7"/><stop offset=".22" stop-color="#0000ec"/><stop offset=".28" stop-color="#0000f7"/><stop offset=".33" stop-color="#0001ff"/><stop offset=".39" stop-color="#0030ff"/><stop offset=".44" stop-color="#0060ff"/><stop offset=".50" stop-color="#0065ff"/><stop offset=".56" stop-color="#0054ff"/><stop offset=".61" stop-color="#0038ff"/><stop offset=".67" stop-color="#0018ff"/><stop offset=".72" stop-color="#0000fb"/><stop offset=".78" stop-color="#0000cb"/><stop offset=".83" stop-color="#0000a2"/><stop offset=".89" stop-color="#0000a2"/><stop offset=".94" stop-color="#0000a2"/><stop offset="1.00" stop-color="#0000a2"/></linearGradient><linearGradient id="c43" x2="0" y2="1"><stop offset=".00" stop-color="#0000d8"/><stop offset=".06" stop-color="#0000d8"/><stop offset=".11" stop-color="#0000d9"/><stop offset=".17" stop-color="#0000db"/><stop offset=".22" stop-color="#0000df"/><stop offset=".28" stop-color="#0000e9"/><stop offset=".33" stop-color="#0000ff"/><stop offset=".39" stop-color="#001cff"/><stop offset=".44" stop-color="#0046ff"/><stop offset=".50" stop-color="#004cff"/><stop offset=".56" stop-color="#003eff"/><stop offset=".61" stop-color="#0026ff"/><stop offset=".67" stop-color="#0009ff"/><stop offset=".72" stop-color="#0000ec"/><stop offset=".78" stop-color="#0000bc"/><stop offset=".83" stop-color="#0000a2"/><stop offset=".89" stop-color="#0000a2"/><stop offset=".94" stop-color="#0000a2"/><stop offset="1.00" stop-color="#0000a2"/></linearGradient><linearGradient id="c44" x2="0" y2="1"><stop offset=".00" stop-color="#0000c8"/><stop offset=".06" stop-color="#0000c8"/><stop offset=".11" stop-color="#0000c9"/><stop offset=".17" stop-color="#0000cb"/><stop offset=".22" stop-color="#0000cf"/><stop offset=".28" stop-color="#0000d7"/><stop offset=".33" stop-color="#0000ec"/><stop offset=".39" stop-color="#0005ff"/><stop offset=".44" stop-color="#002bff"/><stop offset=".50" stop-color="#0031ff"/><stop offset=".56" stop-color="#0026ff"/><stop offset=".61" stop-color="#0011ff"/><stop offset=".67" stop-color="#0000ff"/><stop offset=".72" stop-color="#0000d8"/><stop offset=".78" stop-color="#0000a9"/><stop offset=".83" stop-color="#0000a2"/><stop offset=".89" stop-color="#0000a2"/><stop offset=".94" stop-color="#0000a2"/><stop offset="1.00" stop-color="#0000a2"/></linearGradient><linearGradient id="c45" x2="0" y2="1"><stop offset=".00" stop-color="#0000c5"/><stop offset=".06" stop-color="#0000c5"/><stop offset=".11" stop-color="#0000c6"/><stop offset=".17" stop-color="#0000c8"/><stop offset=".22" stop-color="#0000cc"/><stop offset=".28" stop-color="#0000d4"/><stop offset=".33" stop-color="#0000e8"/><stop offset=".39" stop-color="#0000ff"/><stop offset=".44" stop-color="#0026ff"/><stop offset=".50" stop-color="#002cff"/><stop offset=".56" stop-color="#0022ff"/><stop offset=".61" stop-color="#000eff"/><stop offset=".67" stop-color="#0000ff"/><stop offset=".72" stop-color="#0000d5"/><stop offset=".78" stop-color="#0000a7"/><stop offset=".83" stop-color="#0000a2"/><stop offset=".89" stop-color="#0000a2"/><stop offset=".94" stop-color="#0000a2"/><stop offset="1.00" stop-color="#0000a2"/></linearGradient><linearGradient id="c46" x2="0" y2="1"><stop offset=".00" stop-color="#0000de"/><stop offset=".06" stop-color="#0000de"/><stop offset=".11" stop-color="#0000df"/><stop offset=".17" stop-color="#0000e1"/><stop offset=".22" stop-color="#0000e5"/><stop offset=".28" stop-color="#0000ef"/><stop offset=".33" stop-color="#0000ff"/><stop offset=".39" stop-color="#001eff"/><stop offset=".44" stop-color="#0048ff"/><stop offset=".50" stop-color="#0050ff"/><stop offset=".56" stop-color="#0046ff"/><stop offset=".61" stop-color="#0030ff"/><stop offset=".67" stop-color="#0012ff"/><stop offset=".72" stop-color="#0000f6"/><stop offset=".78" stop-color="#0000c4"/><stop offset=".83" stop-color="#0000a2"/><stop offset=".89" stop-color="#0000a2"/><stop offset=".94" stop-color="#0000a2"/><stop offset="1.00" stop-color="#0000a2"/></linearGradient><linearGradient id="c47" x2="0" y2="1"><stop offset=".00" stop-color="#0000f7"/><stop offset=".06" stop-color="#0000f8"/><stop offset=".11" stop-color="#0000f9"/><stop offset=".17" stop-color="#0000fb"/><stop offset=".22" stop-color="#0000ff"/><stop offset=".28" stop-color="#0000ff"/><stop offset=".33" stop-color="#0010ff"/><stop offset=".39" stop-color="#003cff"/><stop offset=".44" stop-color="#006cff"/><stop offset=".50" stop-color="#0076ff"/><stop offset=".56" stop-color="#006bff"/><stop offset=".61" stop-color="#0053ff"/><stop offset=".67" stop-color="#0033ff"/><stop offset=".72" stop-color="#0006ff"/><stop offset=".78" stop-color="#0000e3"/><stop offset=".83" stop-color="#0000b8"/><stop offset=".89" stop-color="#0000a6"/><stop offset=".94" stop-color="#0000a2"/><stop offset="1.00" stop-color="#0000a7"/></linearGradient><linearGradient id="c48" x2="0" y2="1"><stop offset=".00" stop-color="#0000f5"/><stop offset=".06" stop-color="#0000f5"/><stop offset=".11" stop-color="#0000f6"/><stop offset=".17" stop-color="#0000f8"/><stop offset=".22" stop-color="#0000fd"/><stop offset=".28" stop-color="#0000ff"/><stop offset=".33" stop-color="#000dff"/><stop offset=".39" stop-color="#0039ff"/><stop offset=".44" stop-color="#0068ff"/><stop offset=".50" stop-color="#0073ff"/><stop offset=".56" stop-color="#0068ff"/><stop offset=".61" stop-color="#0051ff"/><stop offset=".67" stop-color="#0031ff"/><stop offset=".72" stop-color="#0005ff"/><stop offset=".78" stop-color="#0000e1"/><stop offset=".83" stop-color="#0000b5"/><stop offset=".89" stop-color="#0000a3"/><stop offset=".94" stop-color="#0000a2"/><stop offset="1.00" stop-color="#0000a5"/></linearGradient><linearGradient id="c49" x2="0" y2="1"><stop offset=".00" stop-color="#0000fd"/><stop offset=".06" stop-color="#0000fd"/><stop offset=".11" stop-color="#0000fe"/><stop offset=".17" stop-color="#0000ff"/><stop offset=".22" stop-color="#0000ff"/><stop offset=".28" stop-color="#0000ff"/><stop offset=".33" stop-color="#0016ff"/><stop offset=".39" stop-color="#0043ff"/><stop offset=".44" stop-color="#0075ff"/><stop offset=".50" stop-color="#0080ff"/><stop offset=".56" stop-color="#0076ff"/><stop offset=".61" stop-color="#005eff"/><stop offset=".67" stop-color="#003eff"/><stop offset=".72" stop-color="#0010ff"/><stop offset=".78" stop-color="#0000ed"/><stop offset=".83" stop-color="#0000c0"/><stop offset=".89" stop-color="#0000ad"/><stop offset=".94" stop-color="#0000a8"/><stop offset="1.00" stop-color="#0000ae"/></linearGradient><linearGradient id="c50" x2="0" y2="1"><stop offset=".00" stop-color="#0006ff"/><stop offset=".06" stop-color="#0007ff"/><stop offset=".11" stop-color="#0008ff"/><stop offset=".17" stop-color="#000aff"/><stop offset=".22" stop-color="#0010ff"/><stop offset=".28" stop-color="#001aff"/><stop offset=".33" stop-color="#0033ff"/><stop offset=".39" stop-color="#0065ff"/><stop offset=".44" stop-color="#009dff"/><stop offset=".50" stop-color="#00acff"/><stop offset=".56" stop-color="#00a1ff"/><stop offset=".61" stop-color="#0087ff"/><stop offset=".67" stop-color="#0063ff"/><stop offset=".72" stop-color="#0032ff"/><stop offset=".78" stop-color="#0000ff"/><stop offset=".83" stop-color="#0000e0"/><stop offset=".89" stop-color="#0000cc"/><stop offset=".94" stop-color="#0000c5"/><stop offset="1.00" stop-color="#0000ca"/></linearGradient><linearGradient id="c51" x2="0" y2="1"><stop offset=".00" stop-color="#0000ff"/><stop offset=".06" stop-color="#0000ff"/><stop offset=".11" stop-color="#0000ff"/><stop offset=".17" stop-color="#0001ff"/><stop offset=".22" stop-color="#0006ff"/><stop offset=".28" stop-color="#0011ff"/><stop offset=".33" stop-color="#0029ff"/><stop offset=".39" stop-color="#005aff"/><stop offset=".44" stop-color="#0092ff"/><stop offset=".50" stop-color="#00a1ff"/><stop offset=".56" stop-color="#0097ff"/><stop offset=".61" stop-color="#007dff"/><stop offset=".67" stop-color="#005aff"/><stop offset=".72" stop-color="#0029ff"/><stop offset=".78" stop-color="#0000ff"/><stop offset=".83" stop-color="#0000d7"/><stop offset=".89" stop-color="#0000c3"/><stop offset=".94" stop-color="#0000bc"/><stop offset="1.00" stop-color="#0000c1"/></linearGradient><linearGradient id="c52" x2="0" y2="1"><stop offset=".00" stop-color="#0000fe"/><stop offset=".06" stop-color="#0000fe"/><stop offset=".11" stop-color="#0000ff"/><stop offset=".17" stop-color="#0000ff"/><stop offset=".22" stop-color="#0000ff"/><stop offset=".28" stop-color="#0004ff"/><stop offset=".33" stop-color="#001bff"/><stop offset=".39" stop-color="#004bff"/><stop offset=".44" stop-color="#0080ff"/><stop offset=".50" stop-color="#0090ff"/><stop offset=".56" stop-color="#0087ff"/><stop offset=".61" stop-color="#006eff"/><stop offset=".67" stop-color="#004cff"/><stop offset=".72" stop-color="#001cff"/><stop offset=".78" stop-color="#0000f8"/><stop offset=".83" stop-color="#0000ca"/><stop offset=".89" stop-color="#0000b5"/><stop offset=".94" stop-color="#0000af"/><stop offset="1.00" stop-color="#0000b4"/></linearGradient><linearGradient id="c53" x2="0" y2="1"><stop offset=".00" stop-color="#0000f1"/><stop offset=".06" stop-color="#0000f1"/><stop offset=".11" stop-color="#0000f3"/><stop offset=".17" stop-color="#0000f7"/><stop offset=".22" stop-color="#0000fd"/><stop offset=".28" stop-color="#0000ff"/><stop offset=".33" stop-color="#0010ff"/><stop offset=".39" stop-color="#003fff"/><stop offset=".44" stop-color="#0074ff"/><stop offset=".50" stop-color="#0084ff"/><stop offset=".56" stop-color="#007cff"/><stop offset=".61" stop-color="#0064ff"/><stop offset=".67" stop-color="#0042ff"/><stop offset=".72" stop-color="#0012ff"/><stop offset=".78" stop-color="#0000ee"/><stop offset=".83" stop-color="#0000bf"/><stop offset=".89" stop-color="#0000ab"/><stop offset=".94" stop-color="#0000a5"/><stop offset="1.00" stop-color="#0000a9"/></linearGradient><linearGradient id="c54" x2="0" y2="1"><stop offset=".00" stop-color="#0000e7"/><stop offset=".06" stop-color="#0000e8"/><stop offset=".11" stop-color="#0000ea"/><stop offset=".17" stop-color="#0000ee"/><stop offset=".22" stop-color="#0000f4"/><stop offset=".28" stop-color="#0000ff"/><stop offset=".33" stop-color="#0008ff"/><stop offset=".39" stop-color="#0037ff"/><stop offset=".44" stop-color="#006bff"/><stop offset=".50" stop-color="#007dff"/><stop offset=".56" stop-color="#0075ff"/><stop offset=".61" stop-color="#005eff"/><stop offset=".67" stop-color="#003cff"/><stop offset=".72" stop-color="#000cff"/><stop offset=".78" stop-color="#0000e7"/><stop offset=".83" stop-color="#0000b9"/><stop offset=".89" stop-color="#0000a5"/><stop offset=".94" stop-color="#0000a2"/><stop offset="1.00" stop-color="#0000a2"/></linearGradient><linearGradient id="c55" x2="0" y2="1"><stop offset=".00" stop-color="#0000e5"/><stop offset=".06" stop-color="#0000e5"/><stop offset=".11" stop-color="#0000e7"/><stop offset=".17" stop-color="#0000eb"/><stop offset=".22" stop-color="#0000f2"/><stop offset=".28" stop-color="#0000ff"/><stop offset=".33" stop-color="#0008ff"/><stop offset=".39" stop-color="#0037ff"/><stop offset=".44" stop-color="#006dff"/><stop offset=".50" stop-color="#0080ff"/><stop offset=".56" stop-color="#0079ff"/><stop offset=".61" stop-color="#0061ff"/><stop offset=".67" stop-color="#003fff"/><stop offset=".72" stop-color="#000fff"/><stop offset=".78" stop-color="#0000e9"/><stop offset=".83" stop-color="#0000ba"/><stop offset=".89" stop-color="#0000a6"/><stop offset=".94" stop-color="#0000a2"/><stop offset="1.00" stop-color="#0000a2"/></linearGradient><linearGradient id="c56" x2="0" y2="1"><stop offset=".00" stop-color="#0000e3"/><stop offset=".06" stop-color="#0000e3"/><stop offset=".11" stop-color="#0000e6"/><stop offset=".17" stop-color="#0000eb"/><stop offset=".22" stop-color="#0000f2"/><stop offset=".28" stop-color="#0000ff"/><stop offset=".33" stop-color="#0009ff"/><stop offset=".39" stop-color="#0039ff"/><stop offset=".44" stop-color="#0071ff"/><stop offset=".50" stop-color="#0086ff"/><stop offset=".56" stop-color="#0080ff"/><stop offset=".61" stop-color="#0067ff"/><stop offset=".67" stop-color="#0044ff"/><stop offset=".72" stop-color="#0013ff"/><stop offset=".78" stop-color="#0000ed"/><stop offset=".83" stop-color="#0000bd"/><stop offset=".89" stop-color="#0000a9"/><stop offset=".94" stop-color="#0000a2"/><stop offset="1.00" stop-color="#0000a4"/></linearGradient><linearGradient id="c57" x2="0" y2="1"><stop offset=".00" stop-color="#0000f4"/><stop offset=".06" stop-color="#0000f4"/><stop offset=".11" stop-color="#0000f8"/><stop offset=".17" stop-color="#0000fd"/><stop offset=".22" stop-color="#0000ff"/><stop offset=".28" stop-color="#0004ff"/><stop offset=".33" stop-color="#001fff"/><stop offset=".39" stop-color="#0055ff"/><stop offset=".44" stop-color="#0094ff"/><stop offset=".50" stop-color="#00adff"/><stop offset=".56" stop-color="#00a7ff"/><stop offset=".61" stop-color="#008cff"/><stop offset=".67" stop-color="#0065ff"/><stop offset=".72" stop-color="#0030ff"/><stop offset=".78" stop-color="#0000ff"/><stop offset=".83" stop-color="#0000d8"/><stop offset=".89" stop-color="#0000c1"/><stop offset=".94" stop-color="#0000b8"/><stop offset="1.00" stop-color="#0000ba"/></linearGradient><linearGradient id="c58" x2="0" y2="1"><stop offset=".00" stop-color="#0000f8"/><stop offset=".06" stop-color="#0000f8"/><stop offset=".11" stop-color="#0000fc"/><stop offset=".17" stop-color="#0000ff"/><stop offset=".22" stop-color="#0000ff"/><stop offset=".28" stop-color="#000aff"/><stop offset=".33" stop-color="#0027ff"/><stop offset=".39" stop-color="#0060ff"/><stop offset=".44" stop-color="#00a3ff"/><stop offset=".50" stop-color="#00bfff"/><stop offset=".56" stop-color="#00baff"/><stop offset=".61" stop-color="#009eff"/><stop offset=".67" stop-color="#0074ff"/><stop offset=".72" stop-color="#003cff"/><stop offset=".78" stop-color="#0005ff"/><stop offset=".83" stop-color="#0000e2"/><stop offset=".89" stop-color="#0000cb"/><stop offset=".94" stop-color="#0000c1"/><stop offset="1.00" stop-color="#0000c2"/></linearGradient><linearGradient id="c59" x2="0" y2="1"><stop offset=".00" stop-color="#0000ff"/><stop offset=".06" stop-color="#0000ff"/><stop offset=".11" stop-color="#0000ff"/><stop offset=".17" stop-color="#0000ff"/><stop offset=".22" stop-color="#0004ff"/><stop offset=".28" stop-color="#0013ff"/><stop offset=".33" stop-color="#0033ff"/><stop offset=".39" stop-color="#0070ff"/><stop offset=".44" stop-color="#00b9ff"/><stop offset=".50" stop-color="#00d9ff"/><stop offset=".56" stop-color="#00d4ff"/><stop offset=".61" stop-color="#00b7ff"/><stop offset=".67" stop-color="#008aff"/><stop offset=".72" stop-color="#004fff"/><stop offset=".78" stop-color="#0015ff"/><stop offset=".83" stop-color="#0000f2"/><stop offset=".89" stop-color="#0000d9"/><stop offset=".94" stop-color="#0000ce"/><stop offset="1.00" stop-color="#0000ce"/></linearGradient><linearGradient id="c60" x2="0" y2="1"><stop offset=".00" stop-color="#0000ef"/><stop offset=".06" stop-color="#0000ef"/><stop offset=".11" stop-color="#0000f3"/><stop offset=".17" stop-color="#0000fb"/><stop offset=".22" stop-color="#0000ff"/><stop offset=".28" stop-color="#0006ff"/><stop offset=".33" stop-color="#0026ff"/><stop offset=".39" stop-color="#0062ff"/><stop offset=".44" stop-color="#00aaff"/><stop offset=".50" stop-color="#00cbff"/><stop offset=".56" stop-color="#00c7ff"/><stop offset=".61" stop-color="#00aaff"/><stop offset=".67" stop-color="#007eff"/><stop offset=".72" stop-color="#0043ff"/><stop offset=".78" stop-color="#0009ff"/><stop offset=".83" stop-color="#0000e6"/><stop offset=".89" stop-color="#0000cd"/><stop offset=".94" stop-color="#0000c2"/><stop offset="1.00" stop-color="#0000c2"/></linearGradient><linearGradient id="c61" x2="0" y2="1"><stop offset=".00" stop-color="#0000e1"/><stop offset=".06" stop-color="#0000e1"/><stop offset=".11" stop-color="#0000e6"/><stop offset=".17" stop-color="#0000ee"/><stop offset=".22" stop-color="#0000fa"/><stop offset=".28" stop-color="#0000ff"/><stop offset=".33" stop-color="#001bff"/><stop offset=".39" stop-color="#0057ff"/><stop offset=".44" stop-color="#009fff"/><stop offset=".50" stop-color="#00c1ff"/><stop offset=".56" stop-color="#00beff"/><stop offset=".61" stop-color="#00a1ff"/><stop offset=".67" stop-color="#0075ff"/><stop offset=".72" stop-color="#003aff"/><stop offset=".78" stop-color="#0001ff"/><stop offset=".83" stop-color="#0000dc"/><stop offset=".89" stop-color="#0000c4"/><stop offset=".94" stop-color="#0000b9"/><stop offset="1.00" stop-color="#0000b9"/></linearGradient><linearGradient id="c62" x2="0" y2="1"><stop offset=".00" stop-color="#0000f5"/><stop offset=".06" stop-color="#0000f5"/><stop offset=".11" stop-color="#0000fa"/><stop offset=".17" stop-color="#0000ff"/><stop offset=".22" stop-color="#0001ff"/><stop offset=".28" stop-color="#0012ff"/><stop offset=".33" stop-color="#0036ff"/><stop offset=".39" stop-color="#007aff"/><stop offset=".44" stop-color="#00ccff"/><stop offset=".50" stop-color="#0cf5ea"/><stop offset=".56" stop-color="#0bf3ec"/><stop offset=".61" stop-color="#00d2ff"/><stop offset=".67" stop-color="#00a0ff"/><stop offset=".72" stop-color="#005fff"/><stop offset=".78" stop-color="#0020ff"/><stop offset=".83" stop-color="#0000fc"/><stop offset=".89" stop-color="#0000e1"/><stop offset=".94" stop-color="#0000d4"/><stop offset="1.00" stop-color="#0000d2"/></linearGradient><linearGradient id="c63" x2="0" y2="1"><stop offset=".00" stop-color="#0000ff"/><stop offset=".06" stop-color="#0000ff"/><stop offset=".11" stop-color="#0000ff"/><stop offset=".17" stop-color="#0008ff"/><stop offset=".22" stop-color="#0015ff"/><stop offset=".28" stop-color="#0029ff"/><stop offset=".33" stop-color="#0051ff"/><stop offset=".39" stop-color="#009fff"/><stop offset=".44" stop-color="#12fce4"/><stop offset=".50" stop-color="#39ffbe"/><stop offset=".56" stop-color="#38ffbf"/><stop offset=".61" stop-color="#1affdd"/><stop offset=".67" stop-color="#00cdff"/><stop offset=".72" stop-color="#0085ff"/><stop offset=".78" stop-color="#0041ff"/><stop offset=".83" stop-color="#000bff"/><stop offset=".89" stop-color="#0000fe"/><stop offset=".94" stop-color="#0000f0"/><stop offset="1.00" stop-color="#0000ec"/></linearGradient><linearGradient id="c64" x2="0" y2="1"><stop offset=".00" stop-color="#0000fb"/><stop offset=".06" stop-color="#0000fb"/><stop offset=".11" stop-color="#0000ff"/><stop offset=".17" stop-color="#0000ff"/><stop offset=".22" stop-color="#000bff"/><stop offset=".28" stop-color="#0020ff"/><stop offset=".33" stop-color="#0048ff"/><stop offset=".39" stop-color="#0095ff"/><stop offset=".44" stop-color="#0af2ec"/><stop offset=".50" stop-color="#32ffc5"/><stop offset=".56" stop-color="#31ffc6"/><stop offset=".61" stop-color="#14fee3"/><stop offset=".67" stop-color="#00c5ff"/><stop offset=".72" stop-color="#007dff"/><stop offset=".78" stop-color="#0039ff"/><stop offset=".83" stop-color="#0003ff"/><stop offset=".89" stop-color="#0000f6"/><stop offset=".94" stop-color="#0000e7"/><stop offset="1.00" stop-color="#0000e3"/></linearGradient><linearGradient id="c65" x2="0" y2="1"><stop offset=".00" stop-color="#0000ee"/><stop offset=".06" stop-color="#0000ee"/><stop offset=".11" stop-color="#0000f5"/><stop offset=".17" stop-color="#0000ff"/><stop offset=".22" stop-color="#0002ff"/><stop offset=".28" stop-color="#0017ff"/><stop offset=".33" stop-color="#003fff"/><stop offset=".39" stop-color="#008cff"/><stop offset=".44" stop-color="#03eaf3"/><stop offset=".50" stop-color="#2cffcb"/><stop offset=".56" stop-color="#2cffcb"/><stop offset=".61" stop-color="#0ef7e8"/><stop offset=".67" stop-color="#00bfff"/><stop offset=".72" stop-color="#0077ff"/><stop offset=".78" stop-color="#0032ff"/><stop offset=".83" stop-color="#0000ff"/><stop offset=".89" stop-color="#0000ef"/><stop offset=".94" stop-color="#0000e0"/><stop offset="1.00" stop-color="#0000dc"/></linearGradient><linearGradient id="c66" x2="0" y2="1"><stop offset=".00" stop-color="#0000e0"/><stop offset=".06" stop-color="#0000df"/><stop offset=".11" stop-color="#0000e7"/><stop offset=".17" stop-color="#0000f5"/><stop offset=".22" stop-color="#0000ff"/><stop offset=".28" stop-color="#000cff"/><stop offset=".33" stop-color="#0034ff"/><stop offset=".39" stop-color="#0080ff"/><stop offset=".44" stop-color="#00ddfd"/><stop offset=".50" stop-color="#23ffd4"/><stop offset=".56" stop-color="#23ffd4"/><stop offset=".61" stop-color="#06edf1"/><stop offset=".67" stop-color="#00b5ff"/><stop offset=".72" stop-color="#006dff"/><stop offset=".78" stop-color="#0029ff"/><stop offset=".83" stop-color="#0000ff"/><stop offset=".89" stop-color="#0000e5"/><stop offset=".94" stop-color="#0000d6"/><stop offset="1.00" stop-color="#0000d2"/></linearGradient><linearGradient id="c67" x2="0" y2="1"><stop offset=".00" stop-color="#0000d1"/><stop offset=".06" stop-color="#0000d1"/><stop offset=".11" stop-color="#0000d9"/><stop offset=".17" stop-color="#0000e7"/><stop offset=".22" stop-color="#0000f9"/><stop offset=".28" stop-color="#0001ff"/><stop offset=".33" stop-color="#0029ff"/><stop offset=".39" stop-color="#0074ff"/><stop offset=".44" stop-color="#00d1ff"/><stop offset=".50" stop-color="#19ffde"/><stop offset=".56" stop-color="#19ffdd"/><stop offset=".61" stop-color="#00e1fa"/><stop offset=".67" stop-color="#00a9ff"/><stop offset=".72" stop-color="#0062ff"/><stop offset=".78" stop-color="#001fff"/><stop offset=".83" stop-color="#0000f8"/><stop offset=".89" stop-color="#0000db"/><stop offset=".94" stop-color="#0000cc"/><stop offset="1.00" stop-color="#0000c8"/></linearGradient><linearGradient id="c68" x2="0" y2="1"><stop offset=".00" stop-color="#0000c5"/><stop offset=".06" stop-color="#0000c5"/><stop offset=".11" stop-color="#0000ce"/><stop offset=".17" stop-color="#0000dd"/><stop offset=".22" stop-color="#0000f0"/><stop offset=".28" stop-color="#0000ff"/><stop offset=".33" stop-color="#0022ff"/><stop offset=".39" stop-color="#006dff"/><stop offset=".44" stop-color="#00c9ff"/><stop offset=".50" stop-color="#13fde4"/><stop offset=".56" stop-color="#14fee3"/><stop offset=".61" stop-color="#00dbff"/><stop offset=".67" stop-color="#00a3ff"/><stop offset=".72" stop-color="#005cff"/><stop offset=".78" stop-color="#0019ff"/><stop offset=".83" stop-color="#0000f1"/><stop offset=".89" stop-color="#0000d5"/><stop offset=".94" stop-color="#0000c6"/><stop offset="1.00" stop-color="#0000c1"/></linearGradient><linearGradient id="c69" x2="0" y2="1"><stop offset=".00" stop-color="#0000b8"/><stop offset=".06" stop-color="#0000b8"/><stop offset=".11" stop-color="#0000c1"/><stop offset=".17" stop-color="#0000d1"/><stop offset=".22" stop-color="#0000e4"/><stop offset=".28" stop-color="#0000fe"/><stop offset=".33" stop-color="#0018ff"/><stop offset=".39" stop-color="#0062ff"/><stop offset=".44" stop-color="#00bcff"/><stop offset=".50" stop-color="#09f0ee"/><stop offset=".56" stop-color="#0af2ed"/><stop offset=".61" stop-color="#00cfff"/><stop offset=".67" stop-color="#0098ff"/><stop offset=".72" stop-color="#0052ff"/><stop offset=".78" stop-color="#0010ff"/><stop offset=".83" stop-color="#0000e8"/><stop offset=".89" stop-color="#0000cc"/><stop offset=".94" stop-color="#0000bd"/><stop offset="1.00" stop-color="#0000b8"/></linearGradient><linearGradient id="c70" x2="0" y2="1"><stop offset=".00" stop-color="#0000c4"/><stop offset=".06" stop-color="#0000c4"/><stop offset=".11" stop-color="#0000ce"/><stop offset=".17" stop-color="#0000de"/><stop offset=".22" stop-color="#0000f3"/><stop offset=".28" stop-color="#0000ff"/><stop offset=".33" stop-color="#002bff"/><stop offset=".39" stop-color="#007bff"/><stop offset=".44" stop-color="#00defc"/><stop offset=".50" stop-color="#28ffce"/><stop offset=".56" stop-color="#2affcd"/><stop offset=".61" stop-color="#0bf3ec"/><stop offset=".67" stop-color="#00b7ff"/><stop offset=".72" stop-color="#006cff"/><stop offset=".78" stop-color="#0026ff"/><stop offset=".83" stop-color="#0000fd"/><stop offset=".89" stop-color="#0000df"/><stop offset=".94" stop-color="#0000cf"/><stop offset="1.00" stop-color="#0000c8"/></linearGradient><linearGradient id="c71" x2="0" y2="1"><stop offset=".00" stop-color="#0000ba"/><stop offset=".06" stop-color="#0000ba"/><stop offset=".11" stop-color="#0000c4"/><stop offset=".17" stop-color="#0000d6"/><stop offset=".22" stop-color="#0000eb"/><stop offset=".28" stop-color="#0000ff"/><stop offset=".33" stop-color="#0023ff"/><stop offset=".39" stop-color="#0073ff"/><stop offset=".44" stop-color="#00d5ff"/><stop offset=".50" stop-color="#20ffd7"/><stop offset=".56" stop-color="#22ffd5"/><stop offset=".61" stop-color="#03eaf3"/><stop offset=".67" stop-color="#00aeff"/><stop offset=".72" stop-color="#0064ff"/><stop offset=".78" stop-color="#001fff"/><stop offset=".83" stop-color="#0000f7"/><stop offset=".89" stop-color="#0000d9"/><stop offset=".94" stop-color="#0000c9"/><stop offset="1.00" stop-color="#0000c2"/></linearGradient><linearGradient id="c72" x2="0" y2="1"><stop offset=".00" stop-color="#0000c2"/><stop offset=".06" stop-color="#0000c2"/><stop offset=".11" stop-color="#0000cd"/><stop offset=".17" stop-color="#0000df"/><stop offset=".22" stop-color="#0000f5"/><stop offset=".28" stop-color="#0002ff"/><stop offset=".33" stop-color="#0031ff"/><stop offset=".39" stop-color="#0085ff"/><stop offset=".44" stop-color="#05ecf2"/><stop offset=".50" stop-color="#35ffc2"/><stop offset=".56" stop-color="#37ffc0"/><stop offset=".61" stop-color="#17ffe0"/><stop offset=".67" stop-color="#00c3ff"/><stop offset=".72" stop-color="#0076ff"/><stop offset=".78" stop-color="#002eff"/><stop offset=".83" stop-color="#0000ff"/><stop offset=".89" stop-color="#0000e6"/><stop offset=".94" stop-color="#0000d5"/><stop offset="1.00" stop-color="#0000ce"/></linearGradient><linearGradient id="c73" x2="0" y2="1"><stop offset=".00" stop-color="#0000d3"/><stop offset=".06" stop-color="#0000d3"/><stop offset=".11" stop-color="#0000de"/><stop offset=".17" stop-color="#0000f1"/><stop offset=".22" stop-color="#0000ff"/><stop offset=".28" stop-color="#0016ff"/><stop offset=".33" stop-color="#0048ff"/><stop offset=".39" stop-color="#00a4ff"/><stop offset=".44" stop-color="#26ffd1"/><stop offset=".50" stop-color="#5aff9d"/><stop offset=".56" stop-color="#5cff9b"/><stop offset=".61" stop-color="#39ffbe"/><stop offset=".67" stop-color="#02e8f5"/><stop offset=".72" stop-color="#0094ff"/><stop offset=".78" stop-color="#0048ff"/><stop offset=".83" stop-color="#000dff"/><stop offset=".89" stop-color="#0000fd"/><stop offset=".94" stop-color="#0000eb"/><stop offset="1.00" stop-color="#0000e2"/></linearGradient><linearGradient id="c74" x2="0" y2="1"><stop offset=".00" stop-color="#0000d0"/><stop offset=".06" stop-color="#0000d0"/><stop offset=".11" stop-color="#0000db"/><stop offset=".17" stop-color="#0000ef"/><stop offset=".22" stop-color="#0000ff"/><stop offset=".28" stop-color="#0015ff"/><stop offset=".33" stop-color="#0048ff"/><stop offset=".39" stop-color="#00a4ff"/><stop offset=".44" stop-color="#26ffd1"/><stop offset=".50" stop-color="#5aff9d"/><stop offset=".56" stop-color="#5bff9b"/><stop offset=".61" stop-color="#38ffbf"/><stop offset=".67" stop-color="#01e7f6"/><stop offset=".72" stop-color="#0093ff"/><stop offset=".78" stop-color="#0047ff"/><stop offset=".83" stop-color="#000cff"/><stop offset=".89" stop-color="#0000fd"/><stop offset=".94" stop-color="#0000ea"/><stop offset="1.00" stop-color="#0000e1"/></linearGradient><linearGradient id="c75" x2="0" y2="1"><stop offset=".00" stop-color="#0000ba"/><stop offset=".06" stop-color="#0000ba"/><stop offset=".11" stop-color="#0000c6"/><stop offset=".17" stop-color="#0000d9"/><stop offset=".22" stop-color="#0000f1"/><stop offset=".28" stop-color="#0000ff"/><stop offset=".33" stop-color="#0030ff"/><stop offset=".39" stop-color="#0086ff"/><stop offset=".44" stop-color="#07eef0"/><stop offset=".50" stop-color="#36ffc0"/><stop offset=".56" stop-color="#37ffc0"/><stop offset=".61" stop-color="#16ffe1"/><stop offset=".67" stop-color="#00c2ff"/><stop offset=".72" stop-color="#0074ff"/><stop offset=".78" stop-color="#002dff"/><stop offset=".83" stop-color="#0000ff"/><stop offset=".89" stop-color="#0000e6"/><stop offset=".94" stop-color="#0000d5"/><stop offset="1.00" stop-color="#0000cd"/></linearGradient><linearGradient id="c76" x2="0" y2="1"><stop offset=".00" stop-color="#0000b3"/><stop offset=".06" stop-color="#0000b3"/><stop offset=".11" stop-color="#0000be"/><stop offset=".17" stop-color="#0000d2"/><stop offset=".22" stop-color="#0000ea"/><stop offset=".28" stop-color="#0000ff"/><stop offset=".33" stop-color="#0029ff"/><stop offset=".39" stop-color="#007eff"/><stop offset=".44" stop-color="#00e3f9"/><stop offset=".50" stop-color="#2cffcb"/><stop offset=".56" stop-color="#2cffcb"/><stop offset=".61" stop-color="#0cf4eb"/><stop offset=".67" stop-color="#00b6ff"/><stop offset=".72" stop-color="#006bff"/><stop offset=".78" stop-color="#0025ff"/><stop offset=".83" stop-color="#0000fd"/><stop offset=".89" stop-color="#0000df"/><stop offset=".94" stop-color="#0000ce"/><stop offset="1.00" stop-color="#0000c6"/></linearGradient><linearGradient id="c77" x2="0" y2="1"><stop offset=".00" stop-color="#0000aa"/><stop offset=".06" stop-color="#0000aa"/><stop offset=".11" stop-color="#0000b5"/><stop offset=".17" stop-color="#0000c8"/><stop offset=".22" stop-color="#0000e0"/><stop offset=".28" stop-color="#0000ff"/><stop offset=".33" stop-color="#0020ff"/><stop offset=".39" stop-color="#0072ff"/><stop offset=".44" stop-color="#00d3ff"/><stop offset=".50" stop-color="#1cffda"/><stop offset=".56" stop-color="#1cffdb"/><stop offset=".61" stop-color="#00e1fa"/><stop offset=".67" stop-color="#00a6ff"/><stop offset=".72" stop-color="#005dff"/><stop offset=".78" stop-color="#0019ff"/><stop offset=".83" stop-color="#0000f2"/><stop offset=".89" stop-color="#0000d6"/><stop offset=".94" stop-color="#0000c5"/><stop offset="1.00" stop-color="#0000bd"/></linearGradient><linearGradient id="c78" x2="0" y2="1"><stop offset=".00" stop-color="#0000a2"/><stop offset=".06" stop-color="#0000a2"/><stop offset=".11" stop-color="#0000a2"/><stop offset=".17" stop-color="#0000b0"/><stop offset=".22" stop-color="#0000c7"/><stop offset=".28" stop-color="#0000e4"/><stop offset=".33" stop-color="#0004ff"/><stop offset=".39" stop-color="#004eff"/><stop offset=".44" stop-color="#00a5ff"/><stop offset=".50" stop-color="#00d3ff"/><stop offset=".56" stop-color="#00d2ff"/><stop offset=".61" stop-color="#00aeff"/><stop offset=".67" stop-color="#0079ff"/><stop offset=".72" stop-color="#0037ff"/><stop offset=".78" stop-color="#0000ff"/><stop offset=".83" stop-color="#0000d4"/><stop offset=".89" stop-color="#0000ba"/><stop offset=".94" stop-color="#0000ac"/><stop offset="1.00" stop-color="#0000a4"/></linearGradient><linearGradient id="c79" x2="0" y2="1"><stop offset=".00" stop-color="#0000a2"/><stop offset=".06" stop-color="#0000a2"/><stop offset=".11" stop-color="#0000a2"/><stop offset=".17" stop-color="#0000a2"/><stop offset=".22" stop-color="#0000b3"/><stop offset=".28" stop-color="#0000cf"/><stop offset=".33" stop-color="#0000fc"/><stop offset=".39" stop-color="#0031ff"/><stop offset=".44" stop-color="#0080ff"/><stop offset=".50" stop-color="#00a9ff"/><stop offset=".56" stop-color="#00a6ff"/><stop offset=".61" stop-color="#0086ff"/><stop offset=".67" stop-color="#0056ff"/><stop offset=".72" stop-color="#001aff"/><stop offset=".78" stop-color="#0000ee"/><stop offset=".83" stop-color="#0000bc"/><stop offset=".89" stop-color="#0000a5"/><stop offset=".94" stop-color="#0000a2"/><stop offset="1.00" stop-color="#0000a2"/></linearGradient><linearGradient id="c80" x2="0" y2="1"><stop offset=".00" stop-color="#0000a2"/><stop offset=".06" stop-color="#0000a2"/><stop offset=".11" stop-color="#0000a2"/><stop offset=".17" stop-color="#0000b4"/><stop offset=".22" stop-color="#0000ca"/><stop offset=".28" stop-color="#0000e9"/><stop offset=".33" stop-color="#0009ff"/><stop offset=".39" stop-color="#0055ff"/><stop offset=".44" stop-color="#00abff"/><stop offset=".50" stop-color="#00d7ff"/><stop offset=".56" stop-color="#00d3ff"/><stop offset=".61" stop-color="#00afff"/><stop offset=".67" stop-color="#007aff"/><stop offset=".72" stop-color="#0038ff"/><stop offset=".78" stop-color="#0000ff"/><stop offset=".83" stop-color="#0000d7"/><stop offset=".89" stop-color="#0000be"/><stop offset=".94" stop-color="#0000af"/><stop offset="1.00" stop-color="#0000a7"/></linearGradient><linearGradient id="c81" x2="0" y2="1"><stop offset=".00" stop-color="#0000a8"/><stop offset=".06" stop-color="#0000a8"/><stop offset=".11" stop-color="#0000b2"/><stop offset=".17" stop-color="#0000c4"/><stop offset=".22" stop-color="#0000dc"/><stop offset=".28" stop-color="#0000fb"/><stop offset=".33" stop-color="#001dff"/><stop offset=".39" stop-color="#006eff"/><stop offset=".44" stop-color="#00c9ff"/><stop offset=".50" stop-color="#0df6ea"/><stop offset=".56" stop-color="#09f0ee"/><stop offset=".61" stop-color="#00c9ff"/><stop offset=".67" stop-color="#0091ff"/><stop offset=".72" stop-color="#004dff"/><stop offset=".78" stop-color="#000eff"/><stop offset=".83" stop-color="#0000e9"/><stop offset=".89" stop-color="#0000cf"/><stop offset=".94" stop-color="#0000bf"/><stop offset="1.00" stop-color="#0000b7"/></linearGradient><linearGradient id="c82" x2="0" y2="1"><stop offset=".00" stop-color="#0000ae"/><stop offset=".06" stop-color="#0000ae"/><stop offset=".11" stop-color="#0000b8"/><stop offset=".17" stop-color="#0000ca"/><stop offset=".22" stop-color="#0000e1"/><stop offset=".28" stop-color="#0000ff"/><stop offset=".33" stop-color="#0023ff"/><stop offset=".39" stop-color="#0075ff"/><stop offset=".44" stop-color="#00d1ff"/><stop offset=".50" stop-color="#11fbe5"/><stop offset=".56" stop-color="#0cf4eb"/><stop offset=".61" stop-color="#00cbff"/><stop offset=".67" stop-color="#0093ff"/><stop offset=".72" stop-color="#004fff"/><stop offset=".78" stop-color="#0011ff"/><stop offset=".83" stop-color="#0000ee"/><stop offset=".89" stop-color="#0000d3"/><stop offset=".94" stop-color="#0000c4"/><stop offset="1.00" stop-color="#0000bb"/></linearGradient><linearGradient id="c83" x2="0" y2="1"><stop offset=".00" stop-color="#0000ae"/><stop offset=".06" stop-color="#0000ae"/><stop offset=".11" stop-color="#0000b7"/><stop offset=".17" stop-color="#0000c8"/><stop offset=".22" stop-color="#0000df"/><stop offset=".28" stop-color="#0000ff"/><stop offset=".33" stop-color="#0021ff"/><stop offset=".39" stop-color="#0072ff"/><stop offset=".44" stop-color="#00cbff"/><stop offset=".50" stop-color="#0af2ed"/><stop offset=".56" stop-color="#03e9f4"/><stop offset=".61" stop-color="#00c1ff"/><stop offset=".67" stop-color="#008aff"/><stop offset=".72" stop-color="#0048ff"/><stop offset=".78" stop-color="#000cff"/><stop offset=".83" stop-color="#0000e9"/><stop offset=".89" stop-color="#0000d0"/><stop offset=".94" stop-color="#0000c1"/><stop offset="1.00" stop-color="#0000b9"/></linearGradient><linearGradient id="c84" x2="0" y2="1"><stop offset=".00" stop-color="#0000b8"/><stop offset=".06" stop-color="#0000b8"/><stop offset=".11" stop-color="#0000c1"/><stop offset=".17" stop-color="#0000d2"/><stop offset=".22" stop-color="#0000e8"/><stop offset=".28" stop-color="#0000ff"/><stop offset=".33" stop-color="#002cff"/><stop offset=".39" stop-color="#0080ff"/><stop offset=".44" stop-color="#00dbff"/><stop offset=".50" stop-color="#16ffe1"/><stop offset=".56" stop-color="#0df5ea"/><stop offset=".61" stop-color="#00cbff"/><stop offset=".67" stop-color="#0092ff"/><stop offset=".72" stop-color="#0050ff"/><stop offset=".78" stop-color="#0014ff"/><stop offset=".83" stop-color="#0000f2"/><stop offset=".89" stop-color="#0000d8"/><stop offset=".94" stop-color="#0000c9"/><stop offset="1.00" stop-color="#0000c1"/></linearGradient><linearGradient id="c85" x2="0" y2="1"><stop offset=".00" stop-color="#0000b7"/><stop offset=".06" stop-color="#0000b7"/><stop offset=".11" stop-color="#0000c0"/><stop offset=".17" stop-color="#0000d0"/><stop offset=".22" stop-color="#0000e6"/><stop offset=".28" stop-color="#0000ff"/><stop offset=".33" stop-color="#002aff"/><stop offset=".39" stop-color="#007eff"/><stop offset=".44" stop-color="#00d6ff"/><stop offset=".50" stop-color="#0ff8e8"/><stop offset=".56" stop-color="#05ebf2"/><stop offset=".61" stop-color="#00c1ff"/><stop offset=".67" stop-color="#0089ff"/><stop offset=".72" stop-color="#0048ff"/><stop offset=".78" stop-color="#000eff"/><stop offset=".83" stop-color="#0000ec"/><stop offset=".89" stop-color="#0000d4"/><stop offset=".94" stop-color="#0000c5"/><stop offset="1.00" stop-color="#0000bd"/></linearGradient><linearGradient id="c86" x2="0" y2="1"><stop offset=".00" stop-color="#0000bb"/><stop offset=".06" stop-color="#0000bb"/><stop offset=".11" stop-color="#0000c4"/><stop offset=".17" stop-color="#0000d3"/><stop offset=".22" stop-color="#0000e8"/><stop offset=".28" stop-color="#0000ff"/><stop offset=".33" stop-color="#002eff"/><stop offset=".39" stop-color="#0083ff"/><stop offset=".44" stop-color="#00dbff"/><stop offset=".50" stop-color="#11fbe6"/><stop offset=".56" stop-color="#05ecf2"/><stop offset=".61" stop-color="#00c0ff"/><stop offset=".67" stop-color="#0088ff"/><stop offset=".72" stop-color="#0047ff"/><stop offset=".78" stop-color="#000dff"/><stop offset=".83" stop-color="#0000ed"/><stop offset=".89" stop-color="#0000d5"/><stop offset=".94" stop-color="#0000c6"/><stop offset="1.00" stop-color="#0000be"/></linearGradient><linearGradient id="c87" x2="0" y2="1"><stop offset=".00" stop-color="#0000d0"/><stop offset=".06" stop-color="#0000d0"/><stop offset=".11" stop-color="#0000d9"/><stop offset=".17" stop-color="#0000e7"/><stop offset=".22" stop-color="#0000fe"/><stop offset=".28" stop-color="#000fff"/><stop offset=".33" stop-color="#0048ff"/><stop offset=".39" stop-color="#00a5ff"/><stop offset=".44" stop-color="#19ffde"/><stop offset=".50" stop-color="#32ffc5"/><stop offset=".56" stop-color="#23ffd4"/><stop offset=".61" stop-color="#00e0fb"/><stop offset=".67" stop-color="#00a3ff"/><stop offset=".72" stop-color="#005eff"/><stop offset=".78" stop-color="#0022ff"/><stop offset=".83" stop-color="#0000ff"/><stop offset=".89" stop-color="#0000e9"/><stop offset=".94" stop-color="#0000d9"/><stop offset="1.00" stop-color="#0000d1"/></linearGradient><linearGradient id="c88" x2="0" y2="1"><stop offset=".00" stop-color="#0000e3"/><stop offset=".06" stop-color="#0000e4"/><stop offset=".11" stop-color="#0000ec"/><stop offset=".17" stop-color="#0000fa"/><stop offset=".22" stop-color="#0000ff"/><stop offset=".28" stop-color="#0022ff"/><stop offset=".33" stop-color="#0060ff"/><stop offset=".39" stop-color="#00c5ff"/><stop offset=".44" stop-color="#37ffc0"/><stop offset=".50" stop-color="#4fffa7"/><stop offset=".56" stop-color="#3dffba"/><stop offset=".61" stop-color="#11fbe5"/><stop offset=".67" stop-color="#00baff"/><stop offset=".72" stop-color="#0072ff"/><stop offset=".78" stop-color="#0034ff"/><stop offset=".83" stop-color="#0004ff"/><stop offset=".89" stop-color="#0000fb"/><stop offset=".94" stop-color="#0000eb"/><stop offset="1.00" stop-color="#0000e1"/></linearGradient><linearGradient id="c89" x2="0" y2="1"><stop offset=".00" stop-color="#0000ee"/><stop offset=".06" stop-color="#0000ef"/><stop offset=".11" stop-color="#0000f6"/><stop offset=".17" stop-color="#0000ff"/><stop offset=".22" stop-color="#0009ff"/><stop offset=".28" stop-color="#002cff"/><stop offset=".33" stop-color="#006dff"/><stop offset=".39" stop-color="#00d6ff"/><stop offset=".44" stop-color="#47ffb0"/><stop offset=".50" stop-color="#5eff99"/><stop offset=".56" stop-color="#49ffae"/><stop offset=".61" stop-color="#1bffdc"/><stop offset=".67" stop-color="#00c3ff"/><stop offset=".72" stop-color="#007aff"/><stop offset=".78" stop-color="#003bff"/><stop offset=".83" stop-color="#000bff"/><stop offset=".89" stop-color="#0000ff"/><stop offset=".94" stop-color="#0000f3"/><stop offset="1.00" stop-color="#0000ea"/></linearGradient><linearGradient id="c90" x2="0" y2="1"><stop offset=".00" stop-color="#0000f6"/><stop offset=".06" stop-color="#0000f7"/><stop offset=".11" stop-color="#0000fe"/><stop offset=".17" stop-color="#0000ff"/><stop offset=".22" stop-color="#0010ff"/><stop offset=".28" stop-color="#0033ff"/><stop offset=".33" stop-color="#0077ff"/><stop offset=".39" stop-color="#00e5f7"/><stop offset=".44" stop-color="#55ffa2"/><stop offset=".50" stop-color="#6aff8d"/><stop offset=".56" stop-color="#52ffa5"/><stop offset=".61" stop-color="#21ffd6"/><stop offset=".67" stop-color="#00c9ff"/><stop offset=".72" stop-color="#007fff"/><stop offset=".78" stop-color="#003fff"/><stop offset=".83" stop-color="#0010ff"/><stop offset=".89" stop-color="#0000ff"/><stop offset=".94" stop-color="#0000f8"/><stop offset="1.00" stop-color="#0000ef"/></linearGradient><linearGradient id="c91" x2="0" y2="1"><stop offset=".00" stop-color="#0000f6"/><stop offset=".06" stop-color="#0000f7"/><stop offset=".11" stop-color="#0000fe"/><stop offset=".17" stop-color="#0000ff"/><stop offset=".22" stop-color="#000eff"/><stop offset=".28" stop-color="#0032ff"/><stop offset=".33" stop-color="#0077ff"/><stop offset=".39" stop-color="#01e6f6"/><stop offset=".44" stop-color="#56ffa1"/><stop offset=".50" stop-color="#69ff8e"/><stop offset=".56" stop-color="#4fffa8"/><stop offset=".61" stop-color="#1dffda"/><stop offset=".67" stop-color="#00c2ff"/><stop offset=".72" stop-color="#0079ff"/><stop offset=".78" stop-color="#003bff"/><stop offset=".83" stop-color="#000cff"/><stop offset=".89" stop-color="#0000ff"/><stop offset=".94" stop-color="#0000f5"/><stop offset="1.00" stop-color="#0000ec"/></linearGradient><linearGradient id="c92" x2="0" y2="1"><stop offset=".00" stop-color="#0000f0"/><stop offset=".06" stop-color="#0000f1"/><stop offset=".11" stop-color="#0000f7"/><stop offset=".17" stop-color="#0000ff"/><stop offset=".22" stop-color="#0006ff"/><stop offset=".28" stop-color="#0029ff"/><stop offset=".33" stop-color="#006eff"/><stop offset=".39" stop-color="#00dcfe"/><stop offset=".44" stop-color="#4cffab"/><stop offset=".50" stop-color="#5cff9a"/><stop offset=".56" stop-color="#41ffb5"/><stop offset=".61" stop-color="#0ff8e8"/><stop offset=".67" stop-color="#00b2ff"/><stop offset=".72" stop-color="#006aff"/><stop offset=".78" stop-color="#002eff"/><stop offset=".83" stop-color="#0001ff"/><stop offset=".89" stop-color="#0000f9"/><stop offset=".94" stop-color="#0000eb"/><stop offset="1.00" stop-color="#0000e2"/></linearGradient><linearGradient id="c93" x2="0" y2="1"><stop offset=".00" stop-color="#0000f2"/><stop offset=".06" stop-color="#0000f3"/><stop offset=".11" stop-color="#0000f9"/><stop offset=".17" stop-color="#0000ff"/><stop offset=".22" stop-color="#0008ff"/><stop offset=".28" stop-color="#002bff"/><stop offset=".33" stop-color="#0072ff"/><stop offset=".39" stop-color="#00e3f9"/><stop offset=".44" stop-color="#52ffa5"/><stop offset=".50" stop-color="#61ff96"/><stop offset=".56" stop-color="#44ffb3"/><stop offset=".61" stop-color="#0ff8e8"/><stop offset=".67" stop-color="#00b1ff"/><stop offset=".72" stop-color="#0069ff"/><stop offset=".78" stop-color="#002dff"/><stop offset=".83" stop-color="#0000ff"/><stop offset=".89" stop-color="#0000f9"/><stop offset=".94" stop-color="#0000ea"/><stop offset="1.00" stop-color="#0000e2"/></linearGradient><linearGradient id="c94" x2="0" y2="1"><stop offset=".00" stop-color="#0000f6"/><stop offset=".06" stop-color="#0000f6"/><stop offset=".11" stop-color="#0000fc"/><stop offset=".17" stop-color="#0000ff"/><stop offset=".22" stop-color="#000aff"/><stop offset=".28" stop-color="#002eff"/><stop offset=".33" stop-color="#0077ff"/><stop offset=".39" stop-color="#05ebf2"/><stop offset=".44" stop-color="#5aff9d"/><stop offset=".50" stop-color="#68ff8f"/><stop offset=".56" stop-color="#48ffaf"/><stop offset=".61" stop-color="#11fbe5"/><stop offset=".67" stop-color="#00b2ff"/><stop offset=".72" stop-color="#0069ff"/><stop offset=".78" stop-color="#002dff"/><stop offset=".83" stop-color="#0000ff"/><stop offset=".89" stop-color="#0000f9"/><stop offset=".94" stop-color="#0000eb"/><stop offset="1.00" stop-color="#0000e3"/></linearGradient><linearGradient id="c95" x2="0" y2="1"><stop offset=".00" stop-color="#0000ff"/><stop offset=".06" stop-color="#0000ff"/><stop offset=".11" stop-color="#0000ff"/><stop offset=".17" stop-color="#0001ff"/><stop offset=".22" stop-color="#0014ff"/><stop offset=".28" stop-color="#003aff"/><stop offset=".33" stop-color="#0088ff"/><stop offset=".39" stop-color="#19ffde"/><stop offset=".44" stop-color="#73ff84"/><stop offset=".50" stop-color="#80ff77"/><stop offset=".56" stop-color="#5dff9a"/><stop offset=".61" stop-color="#22ffd5"/><stop offset=".67" stop-color="#00c2ff"/><stop offset=".72" stop-color="#0075ff"/><stop offset=".78" stop-color="#0037ff"/><stop offset=".83" stop-color="#0009ff"/><stop offset=".89" stop-color="#0000ff"/><stop offset=".94" stop-color="#0000f4"/><stop offset="1.00" stop-color="#0000ec"/></linearGradient><linearGradient id="c96" x2="0" y2="1"><stop offset=".00" stop-color="#0002ff"/><stop offset=".06" stop-color="#0003ff"/><stop offset=".11" stop-color="#0007ff"/><stop offset=".17" stop-color="#0011ff"/><stop offset=".22" stop-color="#0024ff"/><stop offset=".28" stop-color="#004dff"/><stop offset=".33" stop-color="#00a3ff"/><stop offset=".39" stop-color="#37ffbf"/><stop offset=".44" stop-color="#99ff5e"/><stop offset=".50" stop-color="#a6ff51"/><stop offset=".56" stop-color="#7eff78"/><stop offset=".61" stop-color="#3dffba"/><stop offset=".67" stop-color="#00dcfe"/><stop offset=".72" stop-color="#008aff"/><stop offset=".78" stop-color="#0049ff"/><stop offset=".83" stop-color="#0019ff"/><stop offset=".89" stop-color="#0003ff"/><stop offset=".94" stop-color="#0000ff"/><stop offset="1.00" stop-color="#0000fc"/></linearGradient><linearGradient id="c97" x2="0" y2="1"><stop offset=".00" stop-color="#0000ff"/><stop offset=".06" stop-color="#0000ff"/><stop offset=".11" stop-color="#0000ff"/><stop offset=".17" stop-color="#0006ff"/><stop offset=".22" stop-color="#0019ff"/><stop offset=".28" stop-color="#0041ff"/><stop offset=".33" stop-color="#0094ff"/><stop offset=".39" stop-color="#29ffcd"/><stop offset=".44" stop-color="#88ff6f"/><stop offset=".50" stop-color="#93ff63"/><stop offset=".56" stop-color="#6cff8b"/><stop offset=".61" stop-color="#2bffcc"/><stop offset=".67" stop-color="#00c8ff"/><stop offset=".72" stop-color="#0079ff"/><stop offset=".78" stop-color="#0039ff"/><stop offset=".83" stop-color="#000bff"/><stop offset=".89" stop-color="#0000ff"/><stop offset=".94" stop-color="#0000f7"/><stop offset="1.00" stop-color="#0000ef"/></linearGradient><linearGradient id="c98" x2="0" y2="1"><stop offset=".00" stop-color="#0000ff"/><stop offset=".06" stop-color="#0000ff"/><stop offset=".11" stop-color="#0000ff"/><stop offset=".17" stop-color="#0000ff"/><stop offset=".22" stop-color="#000fff"/><stop offset=".28" stop-color="#0036ff"/><stop offset=".33" stop-color="#0088ff"/><stop offset=".39" stop-color="#1dffda"/><stop offset=".44" stop-color="#79ff7e"/><stop offset=".50" stop-color="#83ff74"/><stop offset=".56" stop-color="#5bff9c"/><stop offset=".61" stop-color="#1bffdb"/><stop offset=".67" stop-color="#00b6ff"/><stop offset=".72" stop-color="#0069ff"/><stop offset=".78" stop-color="#002cff"/><stop offset=".83" stop-color="#0000ff"/><stop offset=".89" stop-color="#0000f9"/><stop offset=".94" stop-color="#0000eb"/><stop offset="1.00" stop-color="#0000e4"/></linearGradient><linearGradient id="c99" x2="0" y2="1"><stop offset=".00" stop-color="#0000ff"/><stop offset=".06" stop-color="#0000ff"/><stop offset=".11" stop-color="#0000ff"/><stop offset=".17" stop-color="#0002ff"/><stop offset=".22" stop-color="#0014ff"/><stop offset=".28" stop-color="#003cff"/><stop offset=".33" stop-color="#0090ff"/><stop offset=".39" stop-color="#27ffd0"/><stop offset=".44" stop-color="#85ff72"/><stop offset=".50" stop-color="#8eff69"/><stop offset=".56" stop-color="#64ff92"/><stop offset=".61" stop-color="#22ffd4"/><stop offset=".67" stop-color="#00bcff"/><stop offset=".72" stop-color="#006dff"/><stop offset=".78" stop-color="#002fff"/><stop offset=".83" stop-color="#0003ff"/><stop offset=".89" stop-color="#0000fd"/><stop offset=".94" stop-color="#0000ef"/><stop offset="1.00" stop-color="#0000e7"/></linearGradient><linearGradient id="c100" x2="0" y2="1"><stop offset=".00" stop-color="#0000ff"/><stop offset=".06" stop-color="#0000ff"/><stop offset=".11" stop-color="#0002ff"/><stop offset=".17" stop-color="#000aff"/><stop offset=".22" stop-color="#001cff"/><stop offset=".28" stop-color="#0045ff"/><stop offset=".33" stop-color="#009dff"/><stop offset=".39" stop-color="#36ffc1"/><stop offset=".44" stop-color="#98ff5f"/><stop offset=".50" stop-color="#a0ff56"/><stop offset=".56" stop-color="#74ff83"/><stop offset=".61" stop-color="#2fffc8"/><stop offset=".67" stop-color="#00c8ff"/><stop offset=".72" stop-color="#0077ff"/><stop offset=".78" stop-color="#0037ff"/><stop offset=".83" stop-color="#000aff"/><stop offset=".89" stop-color="#0000ff"/><stop offset=".94" stop-color="#0000f6"/><stop offset="1.00" stop-color="#0000ef"/></linearGradient><linearGradient id="c101" x2="0" y2="1"><stop offset=".00" stop-color="#000aff"/><stop offset=".06" stop-color="#000bff"/><stop offset=".11" stop-color="#000fff"/><stop offset=".17" stop-color="#0017ff"/><stop offset=".22" stop-color="#002aff"/><stop offset=".28" stop-color="#0056ff"/><stop offset=".33" stop-color="#00b3ff"/><stop offset=".39" stop-color="#4fffa8"/><stop offset=".44" stop-color="#b7ff40"/><stop offset=".50" stop-color="#c0ff37"/><stop offset=".56" stop-color="#90ff67"/><stop offset=".61" stop-color="#46ffb1"/><stop offset=".67" stop-color="#00dffc"/><stop offset=".72" stop-color="#0089ff"/><stop offset=".78" stop-color="#0047ff"/><stop offset=".83" stop-color="#0017ff"/><stop offset=".89" stop-color="#0002ff"/><stop offset=".94" stop-color="#0000ff"/><stop offset="1.00" stop-color="#0000fd"/></linearGradient><linearGradient id="c102" x2="0" y2="1"><stop offset=".00" stop-color="#0007ff"/><stop offset=".06" stop-color="#0008ff"/><stop offset=".11" stop-color="#000bff"/><stop offset=".17" stop-color="#0013ff"/><stop offset=".22" stop-color="#0025ff"/><stop offset=".28" stop-color="#0051ff"/><stop offset=".33" stop-color="#00adff"/><stop offset=".39" stop-color="#49ffad"/><stop offset=".44" stop-color="#b0ff47"/><stop offset=".50" stop-color="#b8ff3f"/><stop offset=".56" stop-color="#88ff6e"/><stop offset=".61" stop-color="#3fffb8"/><stop offset=".67" stop-color="#00d6ff"/><stop offset=".72" stop-color="#0081ff"/><stop offset=".78" stop-color="#0040ff"/><stop offset=".83" stop-color="#0011ff"/><stop offset=".89" stop-color="#0000ff"/><stop offset=".94" stop-color="#0000fe"/><stop offset="1.00" stop-color="#0000f7"/></linearGradient><linearGradient id="c103" x2="0" y2="1"><stop offset=".00" stop-color="#0000ff"/><stop offset=".06" stop-color="#0000ff"/><stop offset=".11" stop-color="#0000ff"/><stop offset=".17" stop-color="#0001ff"/><stop offset=".22" stop-color="#0012ff"/><stop offset=".28" stop-color="#003bff"/><stop offset=".33" stop-color="#0091ff"/><stop offset=".39" stop-color="#2affcc"/><stop offset=".44" stop-color="#8aff6d"/><stop offset=".50" stop-color="#91ff66"/><stop offset=".56" stop-color="#64ff93"/><stop offset=".61" stop-color="#1fffd8"/><stop offset=".67" stop-color="#00b5ff"/><stop offset=".72" stop-color="#0066ff"/><stop offset=".78" stop-color="#0028ff"/><stop offset=".83" stop-color="#0000ff"/><stop offset=".89" stop-color="#0000f6"/><stop offset=".94" stop-color="#0000e9"/><stop offset="1.00" stop-color="#0000e2"/></linearGradient><linearGradient id="c104" x2="0" y2="1"><stop offset=".00" stop-color="#0000ff"/><stop offset=".06" stop-color="#0000ff"/><stop offset=".11" stop-color="#0000ff"/><stop offset=".17" stop-color="#0005ff"/><stop offset=".22" stop-color="#0016ff"/><stop offset=".28" stop-color="#003fff"/><stop offset=".33" stop-color="#0097ff"/><stop offset=".39" stop-color="#31ffc5"/><stop offset=".44" stop-color="#93ff64"/><stop offset=".50" stop-color="#9aff5d"/><stop offset=".56" stop-color="#6cff8b"/><stop offset=".61" stop-color="#25ffd2"/><stop offset=".67" stop-color="#00bbff"/><stop offset=".72" stop-color="#006aff"/><stop offset=".78" stop-color="#002bff"/><stop offset=".83" stop-color="#0000ff"/><stop offset=".89" stop-color="#0000f9"/><stop offset=".94" stop-color="#0000ec"/><stop offset="1.00" stop-color="#0000e5"/></linearGradient><linearGradient id="c105" x2="0" y2="1"><stop offset=".00" stop-color="#0000fd"/><stop offset=".06" stop-color="#0000fe"/><stop offset=".11" stop-color="#0000ff"/><stop offset=".17" stop-color="#0000ff"/><stop offset=".22" stop-color="#0009ff"/><stop offset=".28" stop-color="#0030ff"/><stop offset=".33" stop-color="#0083ff"/><stop offset=".39" stop-color="#1cffdb"/><stop offset=".44" stop-color="#78ff7f"/><stop offset=".50" stop-color="#7eff79"/><stop offset=".56" stop-color="#52ffa5"/><stop offset=".61" stop-color="#0ff8e8"/><stop offset=".67" stop-color="#00a4ff"/><stop offset=".72" stop-color="#0057ff"/><stop offset=".78" stop-color="#001aff"/><stop offset=".83" stop-color="#0000fe"/><stop offset=".89" stop-color="#0000e9"/><stop offset=".94" stop-color="#0000dd"/><stop offset="1.00" stop-color="#0000d6"/></linearGradient><linearGradient id="c106" x2="0" y2="1"><stop offset=".00" stop-color="#0000f7"/><stop offset=".06" stop-color="#0000f8"/><stop offset=".11" stop-color="#0000fb"/><stop offset=".17" stop-color="#0000ff"/><stop offset=".22" stop-color="#0004ff"/><stop offset=".28" stop-color="#0029ff"/><stop offset=".33" stop-color="#007bff"/><stop offset=".39" stop-color="#13fce4"/><stop offset=".44" stop-color="#6dff8a"/><stop offset=".50" stop-color="#73ff84"/><stop offset=".56" stop-color="#48ffaf"/><stop offset=".61" stop-color="#06edf1"/><stop offset=".67" stop-color="#009bff"/><stop offset=".72" stop-color="#004eff"/><stop offset=".78" stop-color="#0013ff"/><stop offset=".83" stop-color="#0000f6"/><stop offset=".89" stop-color="#0000e1"/><stop offset=".94" stop-color="#0000d5"/><stop offset="1.00" stop-color="#0000cf"/></linearGradient><linearGradient id="c107" x2="0" y2="1"><stop offset=".00" stop-color="#0000e0"/><stop offset=".06" stop-color="#0000e1"/><stop offset=".11" stop-color="#0000e4"/><stop offset=".17" stop-color="#0000ea"/><stop offset=".22" stop-color="#0000fa"/><stop offset=".28" stop-color="#000eff"/><stop offset=".33" stop-color="#0057ff"/><stop offset=".39" stop-color="#00ccff"/><stop offset=".44" stop-color="#3cffba"/><stop offset=".50" stop-color="#42ffb5"/><stop offset=".56" stop-color="#1bffdc"/><stop offset=".61" stop-color="#00bdff"/><stop offset=".67" stop-color="#0073ff"/><stop offset=".72" stop-color="#002eff"/><stop offset=".78" stop-color="#0000ff"/><stop offset=".83" stop-color="#0000d9"/><stop offset=".89" stop-color="#0000c6"/><stop offset=".94" stop-color="#0000bb"/><stop offset="1.00" stop-color="#0000b6"/></linearGradient><linearGradient id="c108" x2="0" y2="1"><stop offset=".00" stop-color="#0000d9"/><stop offset=".06" stop-color="#0000da"/><stop offset=".11" stop-color="#0000dd"/><stop offset=".17" stop-color="#0000e3"/><stop offset=".22" stop-color="#0000f3"/><stop offset=".28" stop-color="#0006ff"/><stop offset=".33" stop-color="#004cff"/><stop offset=".39" stop-color="#00bcff"/><stop offset=".44" stop-color="#2cffcb"/><stop offset=".50" stop-color="#31ffc6"/><stop offset=".56" stop-color="#0cf4eb"/><stop offset=".61" stop-color="#00aeff"/><stop offset=".67" stop-color="#0067ff"/><stop offset=".72" stop-color="#0023ff"/><stop offset=".78" stop-color="#0000fb"/><stop offset=".83" stop-color="#0000cf"/><stop offset=".89" stop-color="#0000bd"/><stop offset=".94" stop-color="#0000b2"/><stop offset="1.00" stop-color="#0000ae"/></linearGradient><linearGradient id="c109" x2="0" y2="1"><stop offset=".00" stop-color="#0000c0"/><stop offset=".06" stop-color="#0000c1"/><stop offset=".11" stop-color="#0000c3"/><stop offset=".17" stop-color="#0000c8"/><stop offset=".22" stop-color="#0000d6"/><stop offset=".28" stop-color="#0000f5"/><stop offset=".33" stop-color="#0024ff"/><stop offset=".39" stop-color="#0085ff"/><stop offset=".44" stop-color="#00d8ff"/><stop offset=".50" stop-color="#00defd"/><stop offset=".56" stop-color="#00b6ff"/><stop offset=".61" stop-color="#0079ff"/><stop offset=".67" stop-color="#003bff"/><stop offset=".72" stop-color="#0000ff"/><stop offset=".78" stop-color="#0000d8"/><stop offset=".83" stop-color="#0000af"/><stop offset=".89" stop-color="#0000a2"/><stop offset=".94" stop-color="#0000a2"/><stop offset="1.00" stop-color="#0000a2"/></linearGradient><linearGradient id="c110" x2="0" y2="1"><stop offset=".00" stop-color="#0000b4"/><stop offset=".06" stop-color="#0000b5"/><stop offset=".11" stop-color="#0000b7"/><stop offset=".17" stop-color="#0000bc"/><stop offset=".22" stop-color="#0000c8"/><stop offset=".28" stop-color="#0000e5"/><stop offset=".33" stop-color="#0011ff"/><stop offset=".39" stop-color="#006aff"/><stop offset=".44" stop-color="#00b7ff"/><stop offset=".50" stop-color="#00bbff"/><stop offset=".56" stop-color="#0097ff"/><stop offset=".61" stop-color="#005fff"/><stop offset=".67" stop-color="#0026ff"/><stop offset=".72" stop-color="#0000fb"/><stop offset=".78" stop-color="#0000c6"/><stop offset=".83" stop-color="#0000a2"/><stop offset=".89" stop-color="#0000a2"/><stop offset=".94" stop-color="#0000a2"/><stop offset="1.00" stop-color="#0000a2"/></linearGradient><linearGradient id="c111" x2="0" y2="1"><stop offset=".00" stop-color="#0000b5"/><stop offset=".06" stop-color="#0000b6"/><stop offset=".11" stop-color="#0000b8"/><stop offset=".17" stop-color="#0000bd"/><stop offset=".22" stop-color="#0000c9"/><stop offset=".28" stop-color="#0000e6"/><stop offset=".33" stop-color="#0010ff"/><stop offset=".39" stop-color="#0067ff"/><stop offset=".44" stop-color="#00b2ff"/><stop offset=".50" stop-color="#00b7ff"/><stop offset=".56" stop-color="#0094ff"/><stop offset=".61" stop-color="#005dff"/><stop offset=".67" stop-color="#0025ff"/><stop offset=".72" stop-color="#0000fb"/><stop offset=".78" stop-color="#0000c6"/><stop offset=".83" stop-color="#0000a2"/><stop offset=".89" stop-color="#0000a2"/><stop offset=".94" stop-color="#0000a2"/><stop offset="1.00" stop-color="#0000a2"/></linearGradient><linearGradient id="c112" x2="0" y2="1"><stop offset=".00" stop-color="#0000c3"/><stop offset=".06" stop-color="#0000c4"/><stop offset=".11" stop-color="#0000c6"/><stop offset=".17" stop-color="#0000cb"/><stop offset=".22" stop-color="#0000d8"/><stop offset=".28" stop-color="#0000f5"/><stop offset=".33" stop-color="#0020ff"/><stop offset=".39" stop-color="#007aff"/><stop offset=".44" stop-color="#00c8ff"/><stop offset=".50" stop-color="#00cdff"/><stop offset=".56" stop-color="#00a9ff"/><stop offset=".61" stop-color="#0070ff"/><stop offset=".67" stop-color="#0036ff"/><stop offset=".72" stop-color="#0000ff"/><stop offset=".78" stop-color="#0000d5"/><stop offset=".83" stop-color="#0000ac"/><stop offset=".89" stop-color="#0000a2"/><stop offset=".94" stop-color="#0000a2"/><stop offset="1.00" stop-color="#0000a2"/></linearGradient><linearGradient id="c113" x2="0" y2="1"><stop offset=".00" stop-color="#0000d0"/><stop offset=".06" stop-color="#0000d0"/><stop offset=".11" stop-color="#0000d3"/><stop offset=".17" stop-color="#0000d8"/><stop offset=".22" stop-color="#0000e5"/><stop offset=".28" stop-color="#0000ff"/><stop offset=".33" stop-color="#002cff"/><stop offset=".39" stop-color="#0087ff"/><stop offset=".44" stop-color="#00d6ff"/><stop offset=".50" stop-color="#00dcff"/><stop offset=".56" stop-color="#00b7ff"/><stop offset=".61" stop-color="#007eff"/><stop offset=".67" stop-color="#0043ff"/><stop offset=".72" stop-color="#0008ff"/><stop offset=".78" stop-color="#0000e1"/><stop offset=".83" stop-color="#0000b8"/><stop offset=".89" stop-color="#0000a6"/><stop offset=".94" stop-color="#0000a2"/><stop offset="1.00" stop-color="#0000a2"/></linearGradient><linearGradient id="c114" x2="0" y2="1"><stop offset=".00" stop-color="#0000d4"/><stop offset=".06" stop-color="#0000d5"/><stop offset=".11" stop-color="#0000d7"/><stop offset=".17" stop-color="#0000dd"/><stop offset=".22" stop-color="#0000e9"/><stop offset=".28" stop-color="#0000ff"/><stop offset=".33" stop-color="#002dff"/><stop offset=".39" stop-color="#0085ff"/><stop offset=".44" stop-color="#00d2ff"/><stop offset=".50" stop-color="#00d8ff"/><stop offset=".56" stop-color="#00b4ff"/><stop offset=".61" stop-color="#007dff"/><stop offset=".67" stop-color="#0044ff"/><stop offset=".72" stop-color="#000aff"/><stop offset=".78" stop-color="#0000e4"/><stop offset=".83" stop-color="#0000ba"/><stop offset=".89" stop-color="#0000a8"/><stop offset=".94" stop-color="#0000a2"/><stop offset="1.00" stop-color="#0000a2"/></linearGradient><linearGradient id="c115" x2="0" y2="1"><stop offset=".00" stop-color="#0000e5"/><stop offset=".06" stop-color="#0000e5"/><stop offset=".11" stop-color="#0000e8"/><stop offset=".17" stop-color="#0000ed"/><stop offset=".22" stop-color="#0000fb"/><stop offset=".28" stop-color="#0007ff"/><stop offset=".33" stop-color="#003fff"/><stop offset=".39" stop-color="#0099ff"/><stop offset=".44" stop-color="#03e9f4"/><stop offset=".50" stop-color="#08efef"/><stop offset=".56" stop-color="#00cbff"/><stop offset=".61" stop-color="#0092ff"/><stop offset=".67" stop-color="#0057ff"/><stop offset=".72" stop-color="#001bff"/><stop offset=".78" stop-color="#0000f5"/><stop offset=".83" stop-color="#0000ca"/><stop offset=".89" stop-color="#0000b7"/><stop offset=".94" stop-color="#0000ae"/><stop offset="1.00" stop-color="#0000aa"/></linearGradient><linearGradient id="c116" x2="0" y2="1"><stop offset=".00" stop-color="#0000e1"/><stop offset=".06" stop-color="#0000e2"/><stop offset=".11" stop-color="#0000e4"/><stop offset=".17" stop-color="#0000ea"/><stop offset=".22" stop-color="#0000f7"/><stop offset=".28" stop-color="#0002ff"/><stop offset=".33" stop-color="#0037ff"/><stop offset=".39" stop-color="#008cff"/><stop offset=".44" stop-color="#00d7ff"/><stop offset=".50" stop-color="#00ddfe"/><stop offset=".56" stop-color="#00bbff"/><stop offset=".61" stop-color="#0086ff"/><stop offset=".67" stop-color="#004eff"/><stop offset=".72" stop-color="#0013ff"/><stop offset=".78" stop-color="#0000ee"/><stop offset=".83" stop-color="#0000c3"/><stop offset=".89" stop-color="#0000b1"/><stop offset=".94" stop-color="#0000a7"/><stop offset="1.00" stop-color="#0000a4"/></linearGradient><linearGradient id="c117" x2="0" y2="1"><stop offset=".00" stop-color="#0000d7"/><stop offset=".06" stop-color="#0000d8"/><stop offset=".11" stop-color="#0000da"/><stop offset=".17" stop-color="#0000df"/><stop offset=".22" stop-color="#0000eb"/><stop offset=".28" stop-color="#0000ff"/><stop offset=".33" stop-color="#0026ff"/><stop offset=".39" stop-color="#0074ff"/><stop offset=".44" stop-color="#00b9ff"/><stop offset=".50" stop-color="#00beff"/><stop offset=".56" stop-color="#009fff"/><stop offset=".61" stop-color="#006fff"/><stop offset=".67" stop-color="#003bff"/><stop offset=".72" stop-color="#0004ff"/><stop offset=".78" stop-color="#0000de"/><stop offset=".83" stop-color="#0000b4"/><stop offset=".89" stop-color="#0000a3"/><stop offset=".94" stop-color="#0000a2"/><stop offset="1.00" stop-color="#0000a2"/></linearGradient><linearGradient id="c118" x2="0" y2="1"><stop offset=".00" stop-color="#0000dd"/><stop offset=".06" stop-color="#0000de"/><stop offset=".11" stop-color="#0000e0"/><stop offset=".17" stop-color="#0000e6"/><stop offset=".22" stop-color="#0000f2"/><stop offset=".28" stop-color="#0000ff"/><stop offset=".33" stop-color="#002cff"/><stop offset=".39" stop-color="#0078ff"/><stop offset=".44" stop-color="#00bcff"/><stop offset=".50" stop-color="#00c1ff"/><stop offset=".56" stop-color="#00a3ff"/><stop offset=".61" stop-color="#0073ff"/><stop offset=".67" stop-color="#0040ff"/><stop offset=".72" stop-color="#0009ff"/><stop offset=".78" stop-color="#0000e3"/><stop offset=".83" stop-color="#0000b8"/><stop offset=".89" stop-color="#0000a6"/><stop offset=".94" stop-color="#0000a2"/><stop offset="1.00" stop-color="#0000a2"/></linearGradient><linearGradient id="c119" x2="0" y2="1"><stop offset=".00" stop-color="#0000fb"/><stop offset=".06" stop-color="#0000fc"/><stop offset=".11" stop-color="#0000ff"/><stop offset=".17" stop-color="#0000ff"/><stop offset=".22" stop-color="#0003ff"/><stop offset=".28" stop-color="#001dff"/><stop offset=".33" stop-color="#0050ff"/><stop offset=".39" stop-color="#00a3ff"/><stop offset=".44" stop-color="#06edf1"/><stop offset=".50" stop-color="#0bf3ec"/><stop offset=".56" stop-color="#00d2ff"/><stop offset=".61" stop-color="#009eff"/><stop offset=".67" stop-color="#0066ff"/><stop offset=".72" stop-color="#002bff"/><stop offset=".78" stop-color="#0000ff"/><stop offset=".83" stop-color="#0000d8"/><stop offset=".89" stop-color="#0000c4"/><stop offset=".94" stop-color="#0000b9"/><stop offset="1.00" stop-color="#0000b7"/></linearGradient><linearGradient id="c120" x2="0" y2="1"><stop offset=".00" stop-color="#0000f8"/><stop offset=".06" stop-color="#0000f9"/><stop offset=".11" stop-color="#0000fc"/><stop offset=".17" stop-color="#0000ff"/><stop offset=".22" stop-color="#0001ff"/><stop offset=".28" stop-color="#001aff"/><stop offset=".33" stop-color="#004bff"/><stop offset=".39" stop-color="#0099ff"/><stop offset=".44" stop-color="#00dffc"/><stop offset=".50" stop-color="#00e4f8"/><stop offset=".56" stop-color="#00c5ff"/><stop offset=".61" stop-color="#0094ff"/><stop offset=".67" stop-color="#005eff"/><stop offset=".72" stop-color="#0024ff"/><stop offset=".78" stop-color="#0000ff"/><stop offset=".83" stop-color="#0000d1"/><stop offset=".89" stop-color="#0000bd"/><stop offset=".94" stop-color="#0000b3"/><stop offset="1.00" stop-color="#0000b1"/></linearGradient><linearGradient id="c121" x2="0" y2="1"><stop offset=".00" stop-color="#0000f8"/><stop offset=".06" stop-color="#0000f9"/><stop offset=".11" stop-color="#0000fc"/><stop offset=".17" stop-color="#0000ff"/><stop offset=".22" stop-color="#0001ff"/><stop offset=".28" stop-color="#001bff"/><stop offset=".33" stop-color="#004bff"/><stop offset=".39" stop-color="#0096ff"/><stop offset=".44" stop-color="#00d9ff"/><stop offset=".50" stop-color="#00defd"/><stop offset=".56" stop-color="#00c0ff"/><stop offset=".61" stop-color="#0090ff"/><stop offset=".67" stop-color="#005bff"/><stop offset=".72" stop-color="#0022ff"/><stop offset=".78" stop-color="#0000fc"/><stop offset=".83" stop-color="#0000ce"/><stop offset=".89" stop-color="#0000ba"/><stop offset=".94" stop-color="#0000b0"/><stop offset="1.00" stop-color="#0000ae"/></linearGradient><linearGradient id="c122" x2="0" y2="1"><stop offset=".00" stop-color="#0000ff"/><stop offset=".06" stop-color="#0000ff"/><stop offset=".11" stop-color="#0000ff"/><stop offset=".17" stop-color="#0000ff"/><stop offset=".22" stop-color="#000eff"/><stop offset=".28" stop-color="#0029ff"/><stop offset=".33" stop-color="#005bff"/><stop offset=".39" stop-color="#00a7ff"/><stop offset=".44" stop-color="#04ebf2"/><stop offset=".50" stop-color="#08efef"/><stop offset=".56" stop-color="#00d0ff"/><stop offset=".61" stop-color="#009fff"/><stop offset=".67" stop-color="#0069ff"/><stop offset=".72" stop-color="#002dff"/><stop offset=".78" stop-color="#0000ff"/><stop offset=".83" stop-color="#0000d8"/><stop offset=".89" stop-color="#0000c3"/><stop offset=".94" stop-color="#0000b8"/><stop offset="1.00" stop-color="#0000b6"/></linearGradient><linearGradient id="c123" x2="0" y2="1"><stop offset=".00" stop-color="#0000ff"/><stop offset=".06" stop-color="#0000ff"/><stop offset=".11" stop-color="#0000ff"/><stop offset=".17" stop-color="#0000ff"/><stop offset=".22" stop-color="#000eff"/><stop offset=".28" stop-color="#002bff"/><stop offset=".33" stop-color="#005cff"/><stop offset=".39" stop-color="#00a7ff"/><stop offset=".44" stop-color="#02e8f5"/><stop offset=".50" stop-color="#05ebf2"/><stop offset=".56" stop-color="#00ccff"/><stop offset=".61" stop-color="#009cff"/><stop offset=".67" stop-color="#0066ff"/><stop offset=".72" stop-color="#002bff"/><stop offset=".78" stop-color="#0000ff"/><stop offset=".83" stop-color="#0000d4"/><stop offset=".89" stop-color="#0000bf"/><stop offset=".94" stop-color="#0000b4"/><stop offset="1.00" stop-color="#0000b2"/></linearGradient><linearGradient id="c124" x2="0" y2="1"><stop offset=".00" stop-color="#0000ff"/><stop offset=".06" stop-color="#0000ff"/><stop offset=".11" stop-color="#0000ff"/><stop offset=".17" stop-color="#0007ff"/><stop offset=".22" stop-color="#0018ff"/><stop offset=".28" stop-color="#0037ff"/><stop offset=".33" stop-color="#006bff"/><stop offset=".39" stop-color="#00b6ff"/><stop offset=".44" stop-color="#0ef7e9"/><stop offset=".50" stop-color="#11fae6"/><stop offset=".56" stop-color="#00daff"/><stop offset=".61" stop-color="#00a8ff"/><stop offset=".67" stop-color="#0071ff"/><stop offset=".72" stop-color="#0034ff"/><stop offset=".78" stop-color="#0000ff"/><stop offset=".83" stop-color="#0000db"/><stop offset=".89" stop-color="#0000c5"/><stop offset=".94" stop-color="#0000ba"/><stop offset="1.00" stop-color="#0000b8"/></linearGradient><linearGradient id="c125" x2="0" y2="1"><stop offset=".00" stop-color="#000dff"/><stop offset=".06" stop-color="#000eff"/><stop offset=".11" stop-color="#0013ff"/><stop offset=".17" stop-color="#001dff"/><stop offset=".22" stop-color="#0032ff"/><stop offset=".28" stop-color="#0056ff"/><stop offset=".33" stop-color="#008fff"/><stop offset=".39" stop-color="#00e0fb"/><stop offset=".44" stop-color="#33ffc4"/><stop offset=".50" stop-color="#35ffc2"/><stop offset=".56" stop-color="#19ffde"/><stop offset=".61" stop-color="#00ceff"/><stop offset=".67" stop-color="#0091ff"/><stop offset=".72" stop-color="#004fff"/><stop offset=".78" stop-color="#0014ff"/><stop offset=".83" stop-color="#0000f3"/><stop offset=".89" stop-color="#0000db"/><stop offset=".94" stop-color="#0000cf"/><stop offset="1.00" stop-color="#0000cd"/></linearGradient><linearGradient id="c126" x2="0" y2="1"><stop offset=".00" stop-color="#0016ff"/><stop offset=".06" stop-color="#0018ff"/><stop offset=".11" stop-color="#001dff"/><stop offset=".17" stop-color="#0029ff"/><stop offset=".22" stop-color="#0041ff"/><stop offset=".28" stop-color="#0068ff"/><stop offset=".33" stop-color="#00a4ff"/><stop offset=".39" stop-color="#0ff8e8"/><stop offset=".44" stop-color="#48ffaf"/><stop offset=".50" stop-color="#49ffae"/><stop offset=".56" stop-color="#2bffcc"/><stop offset=".61" stop-color="#00e2fa"/><stop offset=".67" stop-color="#00a2ff"/><stop offset=".72" stop-color="#005dff"/><stop offset=".78" stop-color="#0020ff"/><stop offset=".83" stop-color="#0000ff"/><stop offset=".89" stop-color="#0000e5"/><stop offset=".94" stop-color="#0000d8"/><stop offset="1.00" stop-color="#0000d6"/></linearGradient><linearGradient id="c127" x2="0" y2="1"><stop offset=".00" stop-color="#0016ff"/><stop offset=".06" stop-color="#0018ff"/><stop offset=".11" stop-color="#001eff"/><stop offset=".17" stop-color="#002bff"/><stop offset=".22" stop-color="#0044ff"/><stop offset=".28" stop-color="#006dff"/><stop offset=".33" stop-color="#00acff"/><stop offset=".39" stop-color="#16ffe1"/><stop offset=".44" stop-color="#4dffa9"/><stop offset=".50" stop-color="#4fffa8"/><stop offset=".56" stop-color="#30ffc7"/><stop offset=".61" stop-color="#01e6f6"/><stop offset=".67" stop-color="#00a5ff"/><stop offset=".72" stop-color="#005fff"/><stop offset=".78" stop-color="#0020ff"/><stop offset=".83" stop-color="#0000fe"/><stop offset=".89" stop-color="#0000e4"/><stop offset=".94" stop-color="#0000d7"/><stop offset="1.00" stop-color="#0000d5"/></linearGradient><linearGradient id="c128" x2="0" y2="1"><stop offset=".00" stop-color="#0011ff"/><stop offset=".06" stop-color="#0013ff"/><stop offset=".11" stop-color="#0019ff"/><stop offset=".17" stop-color="#0026ff"/><stop offset=".22" stop-color="#0041ff"/><stop offset=".28" stop-color="#006bff"/><stop offset=".33" stop-color="#00aaff"/><stop offset=".39" stop-color="#13fee3"/><stop offset=".44" stop-color="#4affad"/><stop offset=".50" stop-color="#4bffac"/><stop offset=".56" stop-color="#2cffcb"/><stop offset=".61" stop-color="#00e1fb"/><stop offset=".67" stop-color="#009fff"/><stop offset=".72" stop-color="#0058ff"/><stop offset=".78" stop-color="#001aff"/><stop offset=".83" stop-color="#0000f6"/><stop offset=".89" stop-color="#0000dc"/><stop offset=".94" stop-color="#0000cf"/><stop offset="1.00" stop-color="#0000cd"/></linearGradient><linearGradient id="c129" x2="0" y2="1"><stop offset=".00" stop-color="#0000ff"/><stop offset=".06" stop-color="#0000ff"/><stop offset=".11" stop-color="#0004ff"/><stop offset=".17" stop-color="#0011ff"/><stop offset=".22" stop-color="#002bff"/><stop offset=".28" stop-color="#0053ff"/><stop offset=".33" stop-color="#008fff"/><stop offset=".39" stop-color="#00ddfe"/><stop offset=".44" stop-color="#2bffcc"/><stop offset=".50" stop-color="#2cffcb"/><stop offset=".56" stop-color="#0ef7e9"/><stop offset=".61" stop-color="#00bfff"/><stop offset=".67" stop-color="#0081ff"/><stop offset=".72" stop-color="#003dff"/><stop offset=".78" stop-color="#0000ff"/><stop offset=".83" stop-color="#0000db"/><stop offset=".89" stop-color="#0000c2"/><stop offset=".94" stop-color="#0000b6"/><stop offset="1.00" stop-color="#0000b4"/></linearGradient><linearGradient id="c130" x2="0" y2="1"><stop offset=".00" stop-color="#0000f2"/><stop offset=".06" stop-color="#0000f4"/><stop offset=".11" stop-color="#0000fa"/><stop offset=".17" stop-color="#0000ff"/><stop offset=".22" stop-color="#0011ff"/><stop offset=".28" stop-color="#0037ff"/><stop offset=".33" stop-color="#006eff"/><stop offset=".39" stop-color="#00b5ff"/><stop offset=".44" stop-color="#06edf0"/><stop offset=".50" stop-color="#07eef0"/><stop offset=".56" stop-color="#00ccff"/><stop offset=".61" stop-color="#0098ff"/><stop offset=".67" stop-color="#005eff"/><stop offset=".72" stop-color="#001eff"/><stop offset=".78" stop-color="#0000f0"/><stop offset=".83" stop-color="#0000bd"/><stop offset=".89" stop-color="#0000a5"/><stop offset=".94" stop-color="#0000a2"/><stop offset="1.00" stop-color="#0000a2"/></linearGradient><linearGradient id="c131" x2="0" y2="1"><stop offset=".00" stop-color="#0000e7"/><stop offset=".06" stop-color="#0000e9"/><stop offset=".11" stop-color="#0000ef"/><stop offset=".17" stop-color="#0000fd"/><stop offset=".22" stop-color="#0006ff"/><stop offset=".28" stop-color="#002aff"/><stop offset=".33" stop-color="#0060ff"/><stop offset=".39" stop-color="#00a4ff"/><stop offset=".44" stop-color="#00dcff"/><stop offset=".50" stop-color="#00dcfe"/><stop offset=".56" stop-color="#00bbff"/><stop offset=".61" stop-color="#0089ff"/><stop offset=".67" stop-color="#0050ff"/><stop offset=".72" stop-color="#0011ff"/><stop offset=".78" stop-color="#0000e3"/><stop offset=".83" stop-color="#0000b0"/><stop offset=".89" stop-color="#0000a2"/><stop offset=".94" stop-color="#0000a2"/><stop offset="1.00" stop-color="#0000a2"/></linearGradient><linearGradient id="c132" x2="0" y2="1"><stop offset=".00" stop-color="#0000e7"/><stop offset=".06" stop-color="#0000e9"/><stop offset=".11" stop-color="#0000ef"/><stop offset=".17" stop-color="#0000fc"/><stop offset=".22" stop-color="#0005ff"/><stop offset=".28" stop-color="#002aff"/><stop offset=".33" stop-color="#0060ff"/><stop offset=".39" stop-color="#00a5ff"/><stop offset=".44" stop-color="#00ddfd"/><stop offset=".50" stop-color="#00dffc"/><stop offset=".56" stop-color="#00bdff"/><stop offset=".61" stop-color="#008aff"/><stop offset=".67" stop-color="#0051ff"/><stop offset=".72" stop-color="#0011ff"/><stop offset=".78" stop-color="#0000e3"/><stop offset=".83" stop-color="#0000b0"/><stop offset=".89" stop-color="#0000a2"/><stop offset=".94" stop-color="#0000a2"/><stop offset="1.00" stop-color="#0000a2"/></linearGradient><linearGradient id="c133" x2="0" y2="1"><stop offset=".00" stop-color="#0000f3"/><stop offset=".06" stop-color="#0000f5"/><stop offset=".11" stop-color="#0000fb"/><stop offset=".17" stop-color="#0000ff"/><stop offset=".22" stop-color="#0011ff"/><stop offset=".28" stop-color="#0037ff"/><stop offset=".33" stop-color="#006fff"/><stop offset=".39" stop-color="#00b9ff"/><stop offset=".44" stop-color="#0df6ea"/><stop offset=".50" stop-color="#0ff8e8"/><stop offset=".56" stop-color="#00d6ff"/><stop offset=".61" stop-color="#00a0ff"/><stop offset=".67" stop-color="#0063ff"/><stop offset=".72" stop-color="#0021ff"/><stop offset=".78" stop-color="#0000f3"/><stop offset=".83" stop-color="#0000bf"/><stop offset=".89" stop-color="#0000a6"/><stop offset=".94" stop-color="#0000a2"/><stop offset="1.00" stop-color="#0000a2"/></linearGradient><linearGradient id="c134" x2="0" y2="1"><stop offset=".00" stop-color="#0000f1"/><stop offset=".06" stop-color="#0000f3"/><stop offset=".11" stop-color="#0000f9"/><stop offset=".17" stop-color="#0000ff"/><stop offset=".22" stop-color="#000dff"/><stop offset=".28" stop-color="#0032ff"/><stop offset=".33" stop-color="#0069ff"/><stop offset=".39" stop-color="#00b2ff"/><stop offset=".44" stop-color="#08f0ee"/><stop offset=".50" stop-color="#0cf4eb"/><stop offset=".56" stop-color="#00d2ff"/><stop offset=".61" stop-color="#009dff"/><stop offset=".67" stop-color="#0061ff"/><stop offset=".72" stop-color="#001fff"/><stop offset=".78" stop-color="#0000f1"/><stop offset=".83" stop-color="#0000bd"/><stop offset=".89" stop-color="#0000a6"/><stop offset=".94" stop-color="#0000a2"/><stop offset="1.00" stop-color="#0000a2"/></linearGradient><linearGradient id="c135" x2="0" y2="1"><stop offset=".00" stop-color="#0000f1"/><stop offset=".06" stop-color="#0000f3"/><stop offset=".11" stop-color="#0000f8"/><stop offset=".17" stop-color="#0000ff"/><stop offset=".22" stop-color="#000bff"/><stop offset=".28" stop-color="#002eff"/><stop offset=".33" stop-color="#0063ff"/><stop offset=".39" stop-color="#00adff"/><stop offset=".44" stop-color="#06edf1"/><stop offset=".50" stop-color="#0af2ed"/><stop offset=".56" stop-color="#00d1ff"/><stop offset=".61" stop-color="#009cff"/><stop offset=".67" stop-color="#0061ff"/><stop offset=".72" stop-color="#001fff"/><stop offset=".78" stop-color="#0000f1"/><stop offset=".83" stop-color="#0000be"/><stop offset=".89" stop-color="#0000a6"/><stop offset=".94" stop-color="#0000a2"/><stop offset="1.00" stop-color="#0000a2"/></linearGradient><linearGradient id="c136" x2="0" y2="1"><stop offset=".00" stop-color="#0000fa"/><stop offset=".06" stop-color="#0000fc"/><stop offset=".11" stop-color="#0000ff"/><stop offset=".17" stop-color="#0000ff"/><stop offset=".22" stop-color="#0012ff"/><stop offset=".28" stop-color="#0035ff"/><stop offset=".33" stop-color="#006bff"/><stop offset=".39" stop-color="#00b9ff"/><stop offset=".44" stop-color="#14ffe3"/><stop offset=".50" stop-color="#1bffdc"/><stop offset=".56" stop-color="#00e5f7"/><stop offset=".61" stop-color="#00aeff"/><stop offset=".67" stop-color="#0070ff"/><stop offset=".72" stop-color="#002cff"/><stop offset=".78" stop-color="#0000ff"/><stop offset=".83" stop-color="#0000ca"/><stop offset=".89" stop-color="#0000b2"/><stop offset=".94" stop-color="#0000a7"/><stop offset="1.00" stop-color="#0000a5"/></linearGradient><linearGradient id="c137" x2="0" y2="1"><stop offset=".00" stop-color="#0000e4"/><stop offset=".06" stop-color="#0000e5"/><stop offset=".11" stop-color="#0000e9"/><stop offset=".17" stop-color="#0000f3"/><stop offset=".22" stop-color="#0000ff"/><stop offset=".28" stop-color="#0015ff"/><stop offset=".33" stop-color="#0046ff"/><stop offset=".39" stop-color="#008dff"/><stop offset=".44" stop-color="#00cfff"/><stop offset=".50" stop-color="#00d8ff"/><stop offset=".56" stop-color="#00baff"/><stop offset=".61" stop-color="#0088ff"/><stop offset=".67" stop-color="#004fff"/><stop offset=".72" stop-color="#0010ff"/><stop offset=".78" stop-color="#0000e3"/><stop offset=".83" stop-color="#0000b1"/><stop offset=".89" stop-color="#0000a2"/><stop offset=".94" stop-color="#0000a2"/><stop offset="1.00" stop-color="#0000a2"/></linearGradient><linearGradient id="c138" x2="0" y2="1"><stop offset=".00" stop-color="#0000ce"/><stop offset=".06" stop-color="#0000d0"/><stop offset=".11" stop-color="#0000d3"/><stop offset=".17" stop-color="#0000db"/><stop offset=".22" stop-color="#0000ec"/><stop offset=".28" stop-color="#0000ff"/><stop offset=".33" stop-color="#0024ff"/><stop offset=".39" stop-color="#0066ff"/><stop offset=".44" stop-color="#00a4ff"/><stop offset=".50" stop-color="#00aeff"/><stop offset=".56" stop-color="#0093ff"/><stop offset=".61" stop-color="#0065ff"/><stop offset=".67" stop-color="#0031ff"/><stop offset=".72" stop-color="#0000ff"/><stop offset=".78" stop-color="#0000c9"/><stop offset=".83" stop-color="#0000a2"/><stop offset=".89" stop-color="#0000a2"/><stop offset=".94" stop-color="#0000a2"/><stop offset="1.00" stop-color="#0000a2"/></linearGradient><linearGradient id="c139" x2="0" y2="1"><stop offset=".00" stop-color="#0000d4"/><stop offset=".06" stop-color="#0000d5"/><stop offset=".11" stop-color="#0000d9"/><stop offset=".17" stop-color="#0000e0"/><stop offset=".22" stop-color="#0000f0"/><stop offset=".28" stop-color="#0000ff"/><stop offset=".33" stop-color="#0028ff"/><stop offset=".39" stop-color="#006dff"/><stop offset=".44" stop-color="#00b1ff"/><stop offset=".50" stop-color="#00bdff"/><stop offset=".56" stop-color="#00a2ff"/><stop offset=".61" stop-color="#0072ff"/><stop offset=".67" stop-color="#003bff"/><stop offset=".72" stop-color="#0000ff"/><stop offset=".78" stop-color="#0000d3"/><stop offset=".83" stop-color="#0000a4"/><stop offset=".89" stop-color="#0000a2"/><stop offset=".94" stop-color="#0000a2"/><stop offset="1.00" stop-color="#0000a2"/></linearGradient><linearGradient id="c140" x2="0" y2="1"><stop offset=".00" stop-color="#0000d4"/><stop offset=".06" stop-color="#0000d5"/><stop offset=".11" stop-color="#0000d8"/><stop offset=".17" stop-color="#0000df"/><stop offset=".22" stop-color="#0000ed"/><stop offset=".28" stop-color="#0000ff"/><stop offset=".33" stop-color="#0023ff"/><stop offset=".39" stop-color="#006aff"/><stop offset=".44" stop-color="#00b0ff"/><stop offset=".50" stop-color="#00beff"/><stop offset=".56" stop-color="#00a4ff"/><stop offset=".61" stop-color="#0074ff"/><stop offset=".67" stop-color="#003dff"/><stop offset=".72" stop-color="#0000ff"/><stop offset=".78" stop-color="#0000d4"/><stop offset=".83" stop-color="#0000a6"/><stop offset=".89" stop-color="#0000a2"/><stop offset=".94" stop-color="#0000a2"/><stop offset="1.00" stop-color="#0000a2"/></linearGradient><linearGradient id="c141" x2="0" y2="1"><stop offset=".00" stop-color="#0000e9"/><stop offset=".06" stop-color="#0000ea"/><stop offset=".11" stop-color="#0000ec"/><stop offset=".17" stop-color="#0000f3"/><stop offset=".22" stop-color="#0000ff"/><stop offset=".28" stop-color="#000bff"/><stop offset=".33" stop-color="#003aff"/><stop offset=".39" stop-color="#0089ff"/><stop offset=".44" stop-color="#00d9ff"/><stop offset=".50" stop-color="#04eaf3"/><stop offset=".56" stop-color="#00ceff"/><stop offset=".61" stop-color="#0099ff"/><stop offset=".67" stop-color="#005dff"/><stop offset=".72" stop-color="#001cff"/><stop offset=".78" stop-color="#0000f0"/><stop offset=".83" stop-color="#0000bf"/><stop offset=".89" stop-color="#0000aa"/><stop offset=".94" stop-color="#0000a2"/><stop offset="1.00" stop-color="#0000a2"/></linearGradient><linearGradient id="c142" x2="0" y2="1"><stop offset=".00" stop-color="#0000ee"/><stop offset=".06" stop-color="#0000ef"/><stop offset=".11" stop-color="#0000f2"/><stop offset=".17" stop-color="#0000f8"/><stop offset=".22" stop-color="#0000ff"/><stop offset=".28" stop-color="#000eff"/><stop offset=".33" stop-color="#003eff"/><stop offset=".39" stop-color="#0090ff"/><stop offset=".44" stop-color="#00e6f7"/><stop offset=".50" stop-color="#10f9e7"/><stop offset=".56" stop-color="#00dcfe"/><stop offset=".61" stop-color="#00a6ff"/><stop offset=".67" stop-color="#0067ff"/><stop offset=".72" stop-color="#0025ff"/><stop offset=".78" stop-color="#0000f9"/><stop offset=".83" stop-color="#0000c8"/><stop offset=".89" stop-color="#0000b3"/><stop offset=".94" stop-color="#0000a8"/><stop offset="1.00" stop-color="#0000a6"/></linearGradient><linearGradient id="c143" x2="0" y2="1"><stop offset=".00" stop-color="#0000ee"/><stop offset=".06" stop-color="#0000ee"/><stop offset=".11" stop-color="#0000f1"/><stop offset=".17" stop-color="#0000f6"/><stop offset=".22" stop-color="#0000ff"/><stop offset=".28" stop-color="#000aff"/><stop offset=".33" stop-color="#003aff"/><stop offset=".39" stop-color="#008fff"/><stop offset=".44" stop-color="#01e7f6"/><stop offset=".50" stop-color="#12fce5"/><stop offset=".56" stop-color="#00dffc"/><stop offset=".61" stop-color="#00a8ff"/><stop offset=".67" stop-color="#0069ff"/><stop offset=".72" stop-color="#0026ff"/><stop offset=".78" stop-color="#0000fa"/><stop offset=".83" stop-color="#0000ca"/><stop offset=".89" stop-color="#0000b5"/><stop offset=".94" stop-color="#0000aa"/><stop offset="1.00" stop-color="#0000a7"/></linearGradient><linearGradient id="c144" x2="0" y2="1"><stop offset=".00" stop-color="#0000f1"/><stop offset=".06" stop-color="#0000f1"/><stop offset=".11" stop-color="#0000f3"/><stop offset=".17" stop-color="#0000f9"/><stop offset=".22" stop-color="#0000ff"/><stop offset=".28" stop-color="#000cff"/><stop offset=".33" stop-color="#003dff"/><stop offset=".39" stop-color="#0095ff"/><stop offset=".44" stop-color="#0af1ed"/><stop offset=".50" stop-color="#1cffda"/><stop offset=".56" stop-color="#04ebf2"/><stop offset=".61" stop-color="#00b2ff"/><stop offset=".67" stop-color="#0071ff"/><stop offset=".72" stop-color="#002cff"/><stop offset=".78" stop-color="#0000ff"/><stop offset=".83" stop-color="#0000d0"/><stop offset=".89" stop-color="#0000bb"/><stop offset=".94" stop-color="#0000b0"/><stop offset="1.00" stop-color="#0000ad"/></linearGradient><linearGradient id="c145" x2="0" y2="1"><stop offset=".00" stop-color="#0000fd"/><stop offset=".06" stop-color="#0000fe"/><stop offset=".11" stop-color="#0000ff"/><stop offset=".17" stop-color="#0000ff"/><stop offset=".22" stop-color="#0000ff"/><stop offset=".28" stop-color="#0018ff"/><stop offset=".33" stop-color="#004cff"/><stop offset=".39" stop-color="#00acff"/><stop offset=".44" stop-color="#23ffd4"/><stop offset=".50" stop-color="#38ffbf"/><stop offset=".56" stop-color="#1effd8"/><stop offset=".61" stop-color="#00ceff"/><stop offset=".67" stop-color="#0088ff"/><stop offset=".72" stop-color="#003fff"/><stop offset=".78" stop-color="#0003ff"/><stop offset=".83" stop-color="#0000e2"/><stop offset=".89" stop-color="#0000cc"/><stop offset=".94" stop-color="#0000c0"/><stop offset="1.00" stop-color="#0000bd"/></linearGradient><linearGradient id="c146" x2="0" y2="1"><stop offset=".00" stop-color="#0000ff"/><stop offset=".06" stop-color="#0000ff"/><stop offset=".11" stop-color="#0000ff"/><stop offset=".17" stop-color="#0000ff"/><stop offset=".22" stop-color="#0005ff"/><stop offset=".28" stop-color="#001dff"/><stop offset=".33" stop-color="#0053ff"/><stop offset=".39" stop-color="#00b8ff"/><stop offset=".44" stop-color="#31ffc6"/><stop offset=".50" stop-color="#48ffaf"/><stop offset=".56" stop-color="#2dffc9"/><stop offset=".61" stop-color="#00ddfd"/><stop offset=".67" stop-color="#0094ff"/><stop offset=".72" stop-color="#0049ff"/><stop offset=".78" stop-color="#000cff"/><stop offset=".83" stop-color="#0000eb"/><stop offset=".89" stop-color="#0000d5"/><stop offset=".94" stop-color="#0000c9"/><stop offset="1.00" stop-color="#0000c5"/></linearGradient><linearGradient id="c147" x2="0" y2="1"><stop offset=".00" stop-color="#0000fb"/><stop offset=".06" stop-color="#0000fc"/><stop offset=".11" stop-color="#0000fd"/><stop offset=".17" stop-color="#0000ff"/><stop offset=".22" stop-color="#0000ff"/><stop offset=".28" stop-color="#0015ff"/><stop offset=".33" stop-color="#004aff"/><stop offset=".39" stop-color="#00aeff"/><stop offset=".44" stop-color="#29ffcd"/><stop offset=".50" stop-color="#41ffb6"/><stop offset=".56" stop-color="#26ffd1"/><stop offset=".61" stop-color="#00d5ff"/><stop offset=".67" stop-color="#008cff"/><stop offset=".72" stop-color="#0042ff"/><stop offset=".78" stop-color="#0006ff"/><stop offset=".83" stop-color="#0000e5"/><stop offset=".89" stop-color="#0000cf"/><stop offset=".94" stop-color="#0000c4"/><stop offset="1.00" stop-color="#0000c0"/></linearGradient><linearGradient id="c148" x2="0" y2="1"><stop offset=".00" stop-color="#0000f5"/><stop offset=".06" stop-color="#0000f6"/><stop offset=".11" stop-color="#0000f8"/><stop offset=".17" stop-color="#0000fc"/><stop offset=".22" stop-color="#0000ff"/><stop offset=".28" stop-color="#000fff"/><stop offset=".33" stop-color="#0044ff"/><stop offset=".39" stop-color="#00a8ff"/><stop offset=".44" stop-color="#25ffd2"/><stop offset=".50" stop-color="#3dffba"/><stop offset=".56" stop-color="#22ffd4"/><stop offset=".61" stop-color="#00d0ff"/><stop offset=".67" stop-color="#0087ff"/><stop offset=".72" stop-color="#003eff"/><stop offset=".78" stop-color="#0002ff"/><stop offset=".83" stop-color="#0000e1"/><stop offset=".89" stop-color="#0000cc"/><stop offset=".94" stop-color="#0000c1"/><stop offset="1.00" stop-color="#0000bd"/></linearGradient><linearGradient id="c149" x2="0" y2="1"><stop offset=".00" stop-color="#0000eb"/><stop offset=".06" stop-color="#0000ec"/><stop offset=".11" stop-color="#0000ee"/><stop offset=".17" stop-color="#0000f2"/><stop offset=".22" stop-color="#0000fc"/><stop offset=".28" stop-color="#0004ff"/><stop offset=".33" stop-color="#0038ff"/><stop offset=".39" stop-color="#009aff"/><stop offset=".44" stop-color="#18ffdf"/><stop offset=".50" stop-color="#2fffc8"/><stop offset=".56" stop-color="#15ffe1"/><stop offset=".61" stop-color="#00c2ff"/><stop offset=".67" stop-color="#007bff"/><stop offset=".72" stop-color="#0033ff"/><stop offset=".78" stop-color="#0000ff"/><stop offset=".83" stop-color="#0000d8"/><stop offset=".89" stop-color="#0000c4"/><stop offset=".94" stop-color="#0000b9"/><stop offset="1.00" stop-color="#0000b5"/></linearGradient><linearGradient id="c150" x2="0" y2="1"><stop offset=".00" stop-color="#0000f0"/><stop offset=".06" stop-color="#0000f0"/><stop offset=".11" stop-color="#0000f2"/><stop offset=".17" stop-color="#0000f7"/><stop offset=".22" stop-color="#0000ff"/><stop offset=".28" stop-color="#000aff"/><stop offset=".33" stop-color="#0040ff"/><stop offset=".39" stop-color="#00a5ff"/><stop offset=".44" stop-color="#24ffd3"/><stop offset=".50" stop-color="#3cffba"/><stop offset=".56" stop-color="#22ffd5"/><stop offset=".61" stop-color="#00cfff"/><stop offset=".67" stop-color="#0085ff"/><stop offset=".72" stop-color="#003cff"/><stop offset=".78" stop-color="#0000ff"/><stop offset=".83" stop-color="#0000e0"/><stop offset=".89" stop-color="#0000cc"/><stop offset=".94" stop-color="#0000c1"/><stop offset="1.00" stop-color="#0000bc"/></linearGradient><linearGradient id="c151" x2="0" y2="1"><stop offset=".00" stop-color="#0000de"/><stop offset=".06" stop-color="#0000df"/><stop offset=".11" stop-color="#0000e0"/><stop offset=".17" stop-color="#0000e5"/><stop offset=".22" stop-color="#0000ef"/><stop offset=".28" stop-color="#0000ff"/><stop offset=".33" stop-color="#002aff"/><stop offset=".39" stop-color="#008aff"/><stop offset=".44" stop-color="#09f0ee"/><stop offset=".50" stop-color="#20ffd7"/><stop offset=".56" stop-color="#07eef0"/><stop offset=".61" stop-color="#00b1ff"/><stop offset=".67" stop-color="#006cff"/><stop offset=".72" stop-color="#0027ff"/><stop offset=".78" stop-color="#0000fc"/><stop offset=".83" stop-color="#0000ce"/><stop offset=".89" stop-color="#0000bb"/><stop offset=".94" stop-color="#0000b1"/><stop offset="1.00" stop-color="#0000ad"/></linearGradient><linearGradient id="c152" x2="0" y2="1"><stop offset=".00" stop-color="#0000e2"/><stop offset=".06" stop-color="#0000e2"/><stop offset=".11" stop-color="#0000e4"/><stop offset=".17" stop-color="#0000e8"/><stop offset=".22" stop-color="#0000f3"/><stop offset=".28" stop-color="#0000ff"/><stop offset=".33" stop-color="#0030ff"/><stop offset=".39" stop-color="#0093ff"/><stop offset=".44" stop-color="#13fde4"/><stop offset=".50" stop-color="#2bffcc"/><stop offset=".56" stop-color="#11fbe6"/><stop offset=".61" stop-color="#00bcff"/><stop offset=".67" stop-color="#0075ff"/><stop offset=".72" stop-color="#002eff"/><stop offset=".78" stop-color="#0000ff"/><stop offset=".83" stop-color="#0000d5"/><stop offset=".89" stop-color="#0000c2"/><stop offset=".94" stop-color="#0000b8"/><stop offset="1.00" stop-color="#0000b3"/></linearGradient><linearGradient id="c153" x2="0" y2="1"><stop offset=".00" stop-color="#0000ea"/><stop offset=".06" stop-color="#0000ea"/><stop offset=".11" stop-color="#0000ec"/><stop offset=".17" stop-color="#0000f1"/><stop offset=".22" stop-color="#0000fc"/><stop offset=".28" stop-color="#0006ff"/><stop offset=".33" stop-color="#003cff"/><stop offset=".39" stop-color="#00a3ff"/><stop offset=".44" stop-color="#24ffd2"/><stop offset=".50" stop-color="#3effb9"/><stop offset=".56" stop-color="#23ffd4"/><stop offset=".61" stop-color="#00cfff"/><stop offset=".67" stop-color="#0085ff"/><stop offset=".72" stop-color="#003cff"/><stop offset=".78" stop-color="#0001ff"/><stop offset=".83" stop-color="#0000e2"/><stop offset=".89" stop-color="#0000ce"/><stop offset=".94" stop-color="#0000c3"/><stop offset="1.00" stop-color="#0000be"/></linearGradient><linearGradient id="c154" x2="0" y2="1"><stop offset=".00" stop-color="#0000f1"/><stop offset=".06" stop-color="#0000f1"/><stop offset=".11" stop-color="#0000f3"/><stop offset=".17" stop-color="#0000f9"/><stop offset=".22" stop-color="#0000ff"/><stop offset=".28" stop-color="#000fff"/><stop offset=".33" stop-color="#0048ff"/><stop offset=".39" stop-color="#00b3ff"/><stop offset=".44" stop-color="#34ffc2"/><stop offset=".50" stop-color="#4fffa8"/><stop offset=".56" stop-color="#33ffc4"/><stop offset=".61" stop-color="#00e1fb"/><stop offset=".67" stop-color="#0094ff"/><stop offset=".72" stop-color="#0048ff"/><stop offset=".78" stop-color="#000cff"/><stop offset=".83" stop-color="#0000ee"/><stop offset=".89" stop-color="#0000da"/><stop offset=".94" stop-color="#0000cf"/><stop offset="1.00" stop-color="#0000ca"/></linearGradient><linearGradient id="c155" x2="0" y2="1"><stop offset=".00" stop-color="#0000f3"/><stop offset=".06" stop-color="#0000f3"/><stop offset=".11" stop-color="#0000f6"/><stop offset=".17" stop-color="#0000fc"/><stop offset=".22" stop-color="#0000ff"/><stop offset=".28" stop-color="#0012ff"/><stop offset=".33" stop-color="#004cff"/><stop offset=".39" stop-color="#00b8ff"/><stop offset=".44" stop-color="#3affbd"/><stop offset=".50" stop-color="#54ffa2"/><stop offset=".56" stop-color="#38ffbe"/><stop offset=".61" stop-color="#01e7f6"/><stop offset=".67" stop-color="#009aff"/><stop offset=".72" stop-color="#004eff"/><stop offset=".78" stop-color="#0011ff"/><stop offset=".83" stop-color="#0000f4"/><stop offset=".89" stop-color="#0000e0"/><stop offset=".94" stop-color="#0000d4"/><stop offset="1.00" stop-color="#0000cf"/></linearGradient><linearGradient id="c156" x2="0" y2="1"><stop offset=".00" stop-color="#0000e0"/><stop offset=".06" stop-color="#0000e0"/><stop offset=".11" stop-color="#0000e2"/><stop offset=".17" stop-color="#0000e9"/><stop offset=".22" stop-color="#0000f6"/><stop offset=".28" stop-color="#0000ff"/><stop offset=".33" stop-color="#0035ff"/><stop offset=".39" stop-color="#0099ff"/><stop offset=".44" stop-color="#19ffde"/><stop offset=".50" stop-color="#31ffc6"/><stop offset=".56" stop-color="#18ffdf"/><stop offset=".61" stop-color="#00c4ff"/><stop offset=".67" stop-color="#007dff"/><stop offset=".72" stop-color="#0037ff"/><stop offset=".78" stop-color="#0000ff"/><stop offset=".83" stop-color="#0000e1"/><stop offset=".89" stop-color="#0000cf"/><stop offset=".94" stop-color="#0000c5"/><stop offset="1.00" stop-color="#0000c0"/></linearGradient><linearGradient id="c157" x2="0" y2="1"><stop offset=".00" stop-color="#0000f5"/><stop offset=".06" stop-color="#0000f4"/><stop offset=".11" stop-color="#0000f7"/><stop offset=".17" stop-color="#0000ff"/><stop offset=".22" stop-color="#0000ff"/><stop offset=".28" stop-color="#0017ff"/><stop offset=".33" stop-color="#0052ff"/><stop offset=".39" stop-color="#00beff"/><stop offset=".44" stop-color="#3fffb8"/><stop offset=".50" stop-color="#59ff9e"/><stop offset=".56" stop-color="#3effb9"/><stop offset=".61" stop-color="#07eef0"/><stop offset=".67" stop-color="#00a1ff"/><stop offset=".72" stop-color="#0056ff"/><stop offset=".78" stop-color="#001aff"/><stop offset=".83" stop-color="#0000fe"/><stop offset=".89" stop-color="#0000ea"/><stop offset=".94" stop-color="#0000df"/><stop offset="1.00" stop-color="#0000d9"/></linearGradient><linearGradient id="c158" x2="0" y2="1"><stop offset=".00" stop-color="#0000fe"/><stop offset=".06" stop-color="#0000fd"/><stop offset=".11" stop-color="#0000ff"/><stop offset=".17" stop-color="#0000ff"/><stop offset=".22" stop-color="#0008ff"/><stop offset=".28" stop-color="#0023ff"/><stop offset=".33" stop-color="#005fff"/><stop offset=".39" stop-color="#00d0ff"/><stop offset=".44" stop-color="#50ffa7"/><stop offset=".50" stop-color="#6bff8c"/><stop offset=".56" stop-color="#4fffa8"/><stop offset=".61" stop-color="#16ffe1"/><stop offset=".67" stop-color="#00b2ff"/><stop offset=".72" stop-color="#0065ff"/><stop offset=".78" stop-color="#0028ff"/><stop offset=".83" stop-color="#0000ff"/><stop offset=".89" stop-color="#0000f8"/><stop offset=".94" stop-color="#0000ed"/><stop offset="1.00" stop-color="#0000e7"/></linearGradient><linearGradient id="c159" x2="0" y2="1"><stop offset=".00" stop-color="#0000f0"/><stop offset=".06" stop-color="#0000ee"/><stop offset=".11" stop-color="#0000f2"/><stop offset=".17" stop-color="#0000fb"/><stop offset=".22" stop-color="#0000ff"/><stop offset=".28" stop-color="#0017ff"/><stop offset=".33" stop-color="#0050ff"/><stop offset=".39" stop-color="#00baff"/><stop offset=".44" stop-color="#39ffbe"/><stop offset=".50" stop-color="#52ffa5"/><stop offset=".56" stop-color="#37ffbf"/><stop offset=".61" stop-color="#03e9f4"/><stop offset=".67" stop-color="#009fff"/><stop offset=".72" stop-color="#0056ff"/><stop offset=".78" stop-color="#001cff"/><stop offset=".83" stop-color="#0000ff"/><stop offset=".89" stop-color="#0000ee"/><stop offset=".94" stop-color="#0000e3"/><stop offset="1.00" stop-color="#0000dd"/></linearGradient><linearGradient id="c160" x2="0" y2="1"><stop offset=".00" stop-color="#0000d2"/><stop offset=".06" stop-color="#0000d0"/><stop offset=".11" stop-color="#0000d4"/><stop offset=".17" stop-color="#0000de"/><stop offset=".22" stop-color="#0000ee"/><stop offset=".28" stop-color="#0000ff"/><stop offset=".33" stop-color="#002eff"/><stop offset=".39" stop-color="#008bff"/><stop offset=".44" stop-color="#07efef"/><stop offset=".50" stop-color="#1effd9"/><stop offset=".56" stop-color="#06edf0"/><stop offset=".61" stop-color="#00b4ff"/><stop offset=".67" stop-color="#0074ff"/><stop offset=".72" stop-color="#0033ff"/><stop offset=".78" stop-color="#0000ff"/><stop offset=".83" stop-color="#0000e3"/><stop offset=".89" stop-color="#0000d2"/><stop offset=".94" stop-color="#0000c9"/><stop offset="1.00" stop-color="#0000c4"/></linearGradient><linearGradient id="c161" x2="0" y2="1"><stop offset=".00" stop-color="#0000cd"/><stop offset=".06" stop-color="#0000cb"/><stop offset=".11" stop-color="#0000cf"/><stop offset=".17" stop-color="#0000da"/><stop offset=".22" stop-color="#0000ec"/><stop offset=".28" stop-color="#0000ff"/><stop offset=".33" stop-color="#002bff"/><stop offset=".39" stop-color="#0086ff"/><stop offset=".44" stop-color="#01e7f5"/><stop offset=".50" stop-color="#17ffe0"/><stop offset=".56" stop-color="#00e6f6"/><stop offset=".61" stop-color="#00afff"/><stop offset=".67" stop-color="#0070ff"/><stop offset=".72" stop-color="#0031ff"/><stop offset=".78" stop-color="#0000ff"/><stop offset=".83" stop-color="#0000e3"/><stop offset=".89" stop-color="#0000d2"/><stop offset=".94" stop-color="#0000c9"/><stop offset="1.00" stop-color="#0000c4"/></linearGradient><linearGradient id="c162" x2="0" y2="1"><stop offset=".00" stop-color="#0000c8"/><stop offset=".06" stop-color="#0000c5"/><stop offset=".11" stop-color="#0000ca"/><stop offset=".17" stop-color="#0000d6"/><stop offset=".22" stop-color="#0000e8"/><stop offset=".28" stop-color="#0000ff"/><stop offset=".33" stop-color="#0027ff"/><stop offset=".39" stop-color="#007fff"/><stop offset=".44" stop-color="#00ddfe"/><stop offset=".50" stop-color="#0ef7e9"/><stop offset=".56" stop-color="#00dcfe"/><stop offset=".61" stop-color="#00a7ff"/><stop offset=".67" stop-color="#006bff"/><stop offset=".72" stop-color="#002dff"/><stop offset=".78" stop-color="#0000ff"/><stop offset=".83" stop-color="#0000e1"/><stop offset=".89" stop-color="#0000d1"/><stop offset=".94" stop-color="#0000c8"/><stop offset="1.00" stop-color="#0000c3"/></linearGradient><linearGradient id="c163" x2="0" y2="1"><stop offset=".00" stop-color="#0000a7"/><stop offset=".06" stop-color="#0000a4"/><stop offset=".11" stop-color="#0000a9"/><stop offset=".17" stop-color="#0000b5"/><stop offset=".22" stop-color="#0000c7"/><stop offset=".28" stop-color="#0000e1"/><stop offset=".33" stop-color="#0000ff"/><stop offset=".39" stop-color="#004bff"/><stop offset=".44" stop-color="#009aff"/><stop offset=".50" stop-color="#00afff"/><stop offset=".56" stop-color="#0099ff"/><stop offset=".61" stop-color="#006dff"/><stop offset=".67" stop-color="#003bff"/><stop offset=".72" stop-color="#0005ff"/><stop offset=".78" stop-color="#0000e4"/><stop offset=".83" stop-color="#0000bf"/><stop offset=".89" stop-color="#0000b1"/><stop offset=".94" stop-color="#0000aa"/><stop offset="1.00" stop-color="#0000a5"/></linearGradient><linearGradient id="c164" x2="0" y2="1"><stop offset=".00" stop-color="#0000b0"/><stop offset=".06" stop-color="#0000ac"/><stop offset=".11" stop-color="#0000b1"/><stop offset=".17" stop-color="#0000bf"/><stop offset=".22" stop-color="#0000d1"/><stop offset=".28" stop-color="#0000ec"/><stop offset=".33" stop-color="#000bff"/><stop offset=".39" stop-color="#0057ff"/><stop offset=".44" stop-color="#00a7ff"/><stop offset=".50" stop-color="#00bdff"/><stop offset=".56" stop-color="#00a6ff"/><stop offset=".61" stop-color="#007aff"/><stop offset=".67" stop-color="#0047ff"/><stop offset=".72" stop-color="#0012ff"/><stop offset=".78" stop-color="#0000f1"/><stop offset=".83" stop-color="#0000cc"/><stop offset=".89" stop-color="#0000be"/><stop offset=".94" stop-color="#0000b6"/><stop offset="1.00" stop-color="#0000b1"/></linearGradient><linearGradient id="c165" x2="0" y2="1"><stop offset=".00" stop-color="#0000b7"/><stop offset=".06" stop-color="#0000b3"/><stop offset=".11" stop-color="#0000b8"/><stop offset=".17" stop-color="#0000c6"/><stop offset=".22" stop-color="#0000d9"/><stop offset=".28" stop-color="#0000f4"/><stop offset=".33" stop-color="#0012ff"/><stop offset=".39" stop-color="#005dff"/><stop offset=".44" stop-color="#00aeff"/><stop offset=".50" stop-color="#00c3ff"/><stop offset=".56" stop-color="#00adff"/><stop offset=".61" stop-color="#0081ff"/><stop offset=".67" stop-color="#004fff"/><stop offset=".72" stop-color="#001aff"/><stop offset=".78" stop-color="#0000fb"/><stop offset=".83" stop-color="#0000d5"/><stop offset=".89" stop-color="#0000c7"/><stop offset=".94" stop-color="#0000bf"/><stop offset="1.00" stop-color="#0000ba"/></linearGradient><linearGradient id="c166" x2="0" y2="1"><stop offset=".00" stop-color="#0000ad"/><stop offset=".06" stop-color="#0000a9"/><stop offset=".11" stop-color="#0000af"/><stop offset=".17" stop-color="#0000bc"/><stop offset=".22" stop-color="#0000cf"/><stop offset=".28" stop-color="#0000e8"/><stop offset=".33" stop-color="#0004ff"/><stop offset=".39" stop-color="#0049ff"/><stop offset=".44" stop-color="#0092ff"/><stop offset=".50" stop-color="#00a5ff"/><stop offset=".56" stop-color="#0091ff"/><stop offset=".61" stop-color="#006aff"/><stop offset=".67" stop-color="#003dff"/><stop offset=".72" stop-color="#000bff"/><stop offset=".78" stop-color="#0000ed"/><stop offset=".83" stop-color="#0000ca"/><stop offset=".89" stop-color="#0000bd"/><stop offset=".94" stop-color="#0000b5"/><stop offset="1.00" stop-color="#0000b1"/></linearGradient><linearGradient id="c167" x2="0" y2="1"><stop offset=".00" stop-color="#0000b7"/><stop offset=".06" stop-color="#0000b3"/><stop offset=".11" stop-color="#0000b8"/><stop offset=".17" stop-color="#0000c5"/><stop offset=".22" stop-color="#0000d8"/><stop offset=".28" stop-color="#0000f1"/><stop offset=".33" stop-color="#000bff"/><stop offset=".39" stop-color="#0050ff"/><stop offset=".44" stop-color="#0098ff"/><stop offset=".50" stop-color="#00abff"/><stop offset=".56" stop-color="#0097ff"/><stop offset=".61" stop-color="#0070ff"/><stop offset=".67" stop-color="#0044ff"/><stop offset=".72" stop-color="#0013ff"/><stop offset=".78" stop-color="#0000f7"/><stop offset=".83" stop-color="#0000d3"/><stop offset=".89" stop-color="#0000c6"/><stop offset=".94" stop-color="#0000bf"/><stop offset="1.00" stop-color="#0000ba"/></linearGradient><linearGradient id="c168" x2="0" y2="1"><stop offset=".00" stop-color="#0000b3"/><stop offset=".06" stop-color="#0000af"/><stop offset=".11" stop-color="#0000b4"/><stop offset=".17" stop-color="#0000c1"/><stop offset=".22" stop-color="#0000d2"/><stop offset=".28" stop-color="#0000ea"/><stop offset=".33" stop-color="#0002ff"/><stop offset=".39" stop-color="#0041ff"/><stop offset=".44" stop-color="#0084ff"/><stop offset=".50" stop-color="#0094ff"/><stop offset=".56" stop-color="#0082ff"/><stop offset=".61" stop-color="#005fff"/><stop offset=".67" stop-color="#0037ff"/><stop offset=".72" stop-color="#0009ff"/><stop offset=".78" stop-color="#0000ee"/><stop offset=".83" stop-color="#0000cc"/><stop offset=".89" stop-color="#0000c0"/><stop offset=".94" stop-color="#0000b9"/><stop offset="1.00" stop-color="#0000b5"/></linearGradient><linearGradient id="c169" x2="0" y2="1"><stop offset=".00" stop-color="#0000b9"/><stop offset=".06" stop-color="#0000b5"/><stop offset=".11" stop-color="#0000ba"/><stop offset=".17" stop-color="#0000c6"/><stop offset=".22" stop-color="#0000d7"/><stop offset=".28" stop-color="#0000ed"/><stop offset=".33" stop-color="#0003ff"/><stop offset=".39" stop-color="#0040ff"/><stop offset=".44" stop-color="#0080ff"/><stop offset=".50" stop-color="#0090ff"/><stop offset=".56" stop-color="#007fff"/><stop offset=".61" stop-color="#005dff"/><stop offset=".67" stop-color="#0037ff"/><stop offset=".72" stop-color="#000bff"/><stop offset=".78" stop-color="#0000f1"/><stop offset=".83" stop-color="#0000cf"/><stop offset=".89" stop-color="#0000c3"/><stop offset=".94" stop-color="#0000bc"/><stop offset="1.00" stop-color="#0000b9"/></linearGradient>
<pattern id="stripe" x="53.00" y="243.70" width="10" height="2.8268" patternUnits="userSpaceOnUse"><rect x="0" y="1.555" width="10" height="1.131" fill="#0030ff"/></pattern>
<linearGradient id="smg" x2="0" y2="1"><stop offset="0" stop-color="#fff" stop-opacity=".3"/><stop offset=".25" stop-color="#fff" stop-opacity=".7"/><stop offset=".45" stop-color="#fff" stop-opacity=".8"/><stop offset=".6" stop-color="#fff" stop-opacity=".55"/><stop offset="1" stop-color="#fff" stop-opacity=".35"/></linearGradient>
<pattern id="stripeL" x="53.00" y="243.70" width="10" height="2.8268" patternUnits="userSpaceOnUse"><rect x="0" y="0.226" width="10" height="1.074" fill="#2a9cff"/></pattern>
<linearGradient id="smg2" x2="0" y2="1"><stop offset="0" stop-color="#fff" stop-opacity=".05"/><stop offset=".3" stop-color="#fff" stop-opacity=".08"/><stop offset=".45" stop-color="#fff" stop-opacity=".25"/><stop offset=".6" stop-color="#fff" stop-opacity=".36"/><stop offset=".8" stop-color="#fff" stop-opacity=".3"/><stop offset=".92" stop-color="#fff" stop-opacity=".12"/><stop offset="1" stop-color="#fff" stop-opacity=".08"/></linearGradient>
<mask id="sm2"><rect x="53.0" y="243.7" width="338.9" height="200.7" fill="url(#smg2)"/></mask>
<mask id="sm"><rect x="53.0" y="243.7" width="338.9" height="200.7" fill="url(#smg)"/></mask>
</defs>
<g shape-rendering="crispEdges"><rect x="53.00" y="243.7" width="2.29" height="200.7" fill="url(#c0)"/><rect x="54.99" y="243.7" width="2.29" height="200.7" fill="url(#c1)"/><rect x="56.99" y="243.7" width="2.29" height="200.7" fill="url(#c2)"/><rect x="58.98" y="243.7" width="2.29" height="200.7" fill="url(#c3)"/><rect x="60.97" y="243.7" width="2.29" height="200.7" fill="url(#c4)"/><rect x="62.97" y="243.7" width="2.29" height="200.7" fill="url(#c5)"/><rect x="64.96" y="243.7" width="2.29" height="200.7" fill="url(#c6)"/><rect x="66.95" y="243.7" width="2.29" height="200.7" fill="url(#c7)"/><rect x="68.95" y="243.7" width="2.29" height="200.7" fill="url(#c8)"/><rect x="70.94" y="243.7" width="2.29" height="200.7" fill="url(#c9)"/><rect x="72.94" y="243.7" width="2.29" height="200.7" fill="url(#c10)"/><rect x="74.93" y="243.7" width="2.29" height="200.7" fill="url(#c11)"/><rect x="76.92" y="243.7" width="2.29" height="200.7" fill="url(#c12)"/><rect x="78.92" y="243.7" width="2.29" height="200.7" fill="url(#c13)"/><rect x="80.91" y="243.7" width="2.29" height="200.7" fill="url(#c14)"/><rect x="82.90" y="243.7" width="2.29" height="200.7" fill="url(#c15)"/><rect x="84.90" y="243.7" width="2.29" height="200.7" fill="url(#c16)"/><rect x="86.89" y="243.7" width="2.29" height="200.7" fill="url(#c17)"/><rect x="88.88" y="243.7" width="2.29" height="200.7" fill="url(#c18)"/><rect x="90.88" y="243.7" width="2.29" height="200.7" fill="url(#c19)"/><rect x="92.87" y="243.7" width="2.29" height="200.7" fill="url(#c20)"/><rect x="94.86" y="243.7" width="2.29" height="200.7" fill="url(#c21)"/><rect x="96.86" y="243.7" width="2.29" height="200.7" fill="url(#c22)"/><rect x="98.85" y="243.7" width="2.29" height="200.7" fill="url(#c23)"/><rect x="100.84" y="243.7" width="2.29" height="200.7" fill="url(#c24)"/><rect x="102.84" y="243.7" width="2.29" height="200.7" fill="url(#c25)"/><rect x="104.83" y="243.7" width="2.29" height="200.7" fill="url(#c26)"/><rect x="106.83" y="243.7" width="2.29" height="200.7" fill="url(#c27)"/><rect x="108.82" y="243.7" width="2.29" height="200.7" fill="url(#c28)"/><rect x="110.81" y="243.7" width="2.29" height="200.7" fill="url(#c29)"/><rect x="112.81" y="243.7" width="2.29" height="200.7" fill="url(#c30)"/><rect x="114.80" y="243.7" width="2.29" height="200.7" fill="url(#c31)"/><rect x="116.79" y="243.7" width="2.29" height="200.7" fill="url(#c32)"/><rect x="118.79" y="243.7" width="2.29" height="200.7" fill="url(#c33)"/><rect x="120.78" y="243.7" width="2.29" height="200.7" fill="url(#c34)"/><rect x="122.77" y="243.7" width="2.29" height="200.7" fill="url(#c35)"/><rect x="124.77" y="243.7" width="2.29" height="200.7" fill="url(#c36)"/><rect x="126.76" y="243.7" width="2.29" height="200.7" fill="url(#c37)"/><rect x="128.75" y="243.7" width="2.29" height="200.7" fill="url(#c38)"/><rect x="130.75" y="243.7" width="2.29" height="200.7" fill="url(#c39)"/><rect x="132.74" y="243.7" width="2.29" height="200.7" fill="url(#c40)"/><rect x="134.73" y="243.7" width="2.29" height="200.7" fill="url(#c41)"/><rect x="136.73" y="243.7" width="2.29" height="200.7" fill="url(#c42)"/><rect x="138.72" y="243.7" width="2.29" height="200.7" fill="url(#c43)"/><rect x="140.72" y="243.7" width="2.29" height="200.7" fill="url(#c44)"/><rect x="142.71" y="243.7" width="2.29" height="200.7" fill="url(#c45)"/><rect x="144.70" y="243.7" width="2.29" height="200.7" fill="url(#c46)"/><rect x="146.70" y="243.7" width="2.29" height="200.7" fill="url(#c47)"/><rect x="148.69" y="243.7" width="2.29" height="200.7" fill="url(#c48)"/><rect x="150.68" y="243.7" width="2.29" height="200.7" fill="url(#c49)"/><rect x="152.68" y="243.7" width="2.29" height="200.7" fill="url(#c50)"/><rect x="154.67" y="243.7" width="2.29" height="200.7" fill="url(#c51)"/><rect x="156.66" y="243.7" width="2.29" height="200.7" fill="url(#c52)"/><rect x="158.66" y="243.7" width="2.29" height="200.7" fill="url(#c53)"/><rect x="160.65" y="243.7" width="2.29" height="200.7" fill="url(#c54)"/><rect x="162.64" y="243.7" width="2.29" height="200.7" fill="url(#c55)"/><rect x="164.64" y="243.7" width="2.29" height="200.7" fill="url(#c56)"/><rect x="166.63" y="243.7" width="2.29" height="200.7" fill="url(#c57)"/><rect x="168.62" y="243.7" width="2.29" height="200.7" fill="url(#c58)"/><rect x="170.62" y="243.7" width="2.29" height="200.7" fill="url(#c59)"/><rect x="172.61" y="243.7" width="2.29" height="200.7" fill="url(#c60)"/><rect x="174.61" y="243.7" width="2.29" height="200.7" fill="url(#c61)"/><rect x="176.60" y="243.7" width="2.29" height="200.7" fill="url(#c62)"/><rect x="178.59" y="243.7" width="2.29" height="200.7" fill="url(#c63)"/><rect x="180.59" y="243.7" width="2.29" height="200.7" fill="url(#c64)"/><rect x="182.58" y="243.7" width="2.29" height="200.7" fill="url(#c65)"/><rect x="184.57" y="243.7" width="2.29" height="200.7" fill="url(#c66)"/><rect x="186.57" y="243.7" width="2.29" height="200.7" fill="url(#c67)"/><rect x="188.56" y="243.7" width="2.29" height="200.7" fill="url(#c68)"/><rect x="190.55" y="243.7" width="2.29" height="200.7" fill="url(#c69)"/><rect x="192.55" y="243.7" width="2.29" height="200.7" fill="url(#c70)"/><rect x="194.54" y="243.7" width="2.29" height="200.7" fill="url(#c71)"/><rect x="196.53" y="243.7" width="2.29" height="200.7" fill="url(#c72)"/><rect x="198.53" y="243.7" width="2.29" height="200.7" fill="url(#c73)"/><rect x="200.52" y="243.7" width="2.29" height="200.7" fill="url(#c74)"/><rect x="202.51" y="243.7" width="2.29" height="200.7" fill="url(#c75)"/><rect x="204.51" y="243.7" width="2.29" height="200.7" fill="url(#c76)"/><rect x="206.50" y="243.7" width="2.29" height="200.7" fill="url(#c77)"/><rect x="208.50" y="243.7" width="2.29" height="200.7" fill="url(#c78)"/><rect x="210.49" y="243.7" width="2.29" height="200.7" fill="url(#c79)"/><rect x="212.48" y="243.7" width="2.29" height="200.7" fill="url(#c80)"/><rect x="214.48" y="243.7" width="2.29" height="200.7" fill="url(#c81)"/><rect x="216.47" y="243.7" width="2.29" height="200.7" fill="url(#c82)"/><rect x="218.46" y="243.7" width="2.29" height="200.7" fill="url(#c83)"/><rect x="220.46" y="243.7" width="2.29" height="200.7" fill="url(#c84)"/><rect x="222.45" y="243.7" width="2.29" height="200.7" fill="url(#c85)"/><rect x="224.44" y="243.7" width="2.29" height="200.7" fill="url(#c86)"/><rect x="226.44" y="243.7" width="2.29" height="200.7" fill="url(#c87)"/><rect x="228.43" y="243.7" width="2.29" height="200.7" fill="url(#c88)"/><rect x="230.42" y="243.7" width="2.29" height="200.7" fill="url(#c89)"/><rect x="232.42" y="243.7" width="2.29" height="200.7" fill="url(#c90)"/><rect x="234.41" y="243.7" width="2.29" height="200.7" fill="url(#c91)"/><rect x="236.40" y="243.7" width="2.29" height="200.7" fill="url(#c92)"/><rect x="238.40" y="243.7" width="2.29" height="200.7" fill="url(#c93)"/><rect x="240.39" y="243.7" width="2.29" height="200.7" fill="url(#c94)"/><rect x="242.39" y="243.7" width="2.29" height="200.7" fill="url(#c95)"/><rect x="244.38" y="243.7" width="2.29" height="200.7" fill="url(#c96)"/><rect x="246.37" y="243.7" width="2.29" height="200.7" fill="url(#c97)"/><rect x="248.37" y="243.7" width="2.29" height="200.7" fill="url(#c98)"/><rect x="250.36" y="243.7" width="2.29" height="200.7" fill="url(#c99)"/><rect x="252.35" y="243.7" width="2.29" height="200.7" fill="url(#c100)"/><rect x="254.35" y="243.7" width="2.29" height="200.7" fill="url(#c101)"/><rect x="256.34" y="243.7" width="2.29" height="200.7" fill="url(#c102)"/><rect x="258.33" y="243.7" width="2.29" height="200.7" fill="url(#c103)"/><rect x="260.33" y="243.7" width="2.29" height="200.7" fill="url(#c104)"/><rect x="262.32" y="243.7" width="2.29" height="200.7" fill="url(#c105)"/><rect x="264.31" y="243.7" width="2.29" height="200.7" fill="url(#c106)"/><rect x="266.31" y="243.7" width="2.29" height="200.7" fill="url(#c107)"/><rect x="268.30" y="243.7" width="2.29" height="200.7" fill="url(#c108)"/><rect x="270.29" y="243.7" width="2.29" height="200.7" fill="url(#c109)"/><rect x="272.29" y="243.7" width="2.29" height="200.7" fill="url(#c110)"/><rect x="274.28" y="243.7" width="2.29" height="200.7" fill="url(#c111)"/><rect x="276.28" y="243.7" width="2.29" height="200.7" fill="url(#c112)"/><rect x="278.27" y="243.7" width="2.29" height="200.7" fill="url(#c113)"/><rect x="280.26" y="243.7" width="2.29" height="200.7" fill="url(#c114)"/><rect x="282.26" y="243.7" width="2.29" height="200.7" fill="url(#c115)"/><rect x="284.25" y="243.7" width="2.29" height="200.7" fill="url(#c116)"/><rect x="286.24" y="243.7" width="2.29" height="200.7" fill="url(#c117)"/><rect x="288.24" y="243.7" width="2.29" height="200.7" fill="url(#c118)"/><rect x="290.23" y="243.7" width="2.29" height="200.7" fill="url(#c119)"/><rect x="292.22" y="243.7" width="2.29" height="200.7" fill="url(#c120)"/><rect x="294.22" y="243.7" width="2.29" height="200.7" fill="url(#c121)"/><rect x="296.21" y="243.7" width="2.29" height="200.7" fill="url(#c122)"/><rect x="298.20" y="243.7" width="2.29" height="200.7" fill="url(#c123)"/><rect x="300.20" y="243.7" width="2.29" height="200.7" fill="url(#c124)"/><rect x="302.19" y="243.7" width="2.29" height="200.7" fill="url(#c125)"/><rect x="304.18" y="243.7" width="2.29" height="200.7" fill="url(#c126)"/><rect x="306.18" y="243.7" width="2.29" height="200.7" fill="url(#c127)"/><rect x="308.17" y="243.7" width="2.29" height="200.7" fill="url(#c128)"/><rect x="310.17" y="243.7" width="2.29" height="200.7" fill="url(#c129)"/><rect x="312.16" y="243.7" width="2.29" height="200.7" fill="url(#c130)"/><rect x="314.15" y="243.7" width="2.29" height="200.7" fill="url(#c131)"/><rect x="316.15" y="243.7" width="2.29" height="200.7" fill="url(#c132)"/><rect x="318.14" y="243.7" width="2.29" height="200.7" fill="url(#c133)"/><rect x="320.13" y="243.7" width="2.29" height="200.7" fill="url(#c134)"/><rect x="322.13" y="243.7" width="2.29" height="200.7" fill="url(#c135)"/><rect x="324.12" y="243.7" width="2.29" height="200.7" fill="url(#c136)"/><rect x="326.11" y="243.7" width="2.29" height="200.7" fill="url(#c137)"/><rect x="328.11" y="243.7" width="2.29" height="200.7" fill="url(#c138)"/><rect x="330.10" y="243.7" width="2.29" height="200.7" fill="url(#c139)"/><rect x="332.09" y="243.7" width="2.29" height="200.7" fill="url(#c140)"/><rect x="334.09" y="243.7" width="2.29" height="200.7" fill="url(#c141)"/><rect x="336.08" y="243.7" width="2.29" height="200.7" fill="url(#c142)"/><rect x="338.07" y="243.7" width="2.29" height="200.7" fill="url(#c143)"/><rect x="340.07" y="243.7" width="2.29" height="200.7" fill="url(#c144)"/><rect x="342.06" y="243.7" width="2.29" height="200.7" fill="url(#c145)"/><rect x="344.06" y="243.7" width="2.29" height="200.7" fill="url(#c146)"/><rect x="346.05" y="243.7" width="2.29" height="200.7" fill="url(#c147)"/><rect x="348.04" y="243.7" width="2.29" height="200.7" fill="url(#c148)"/><rect x="350.04" y="243.7" width="2.29" height="200.7" fill="url(#c149)"/><rect x="352.03" y="243.7" width="2.29" height="200.7" fill="url(#c150)"/><rect x="354.02" y="243.7" width="2.29" height="200.7" fill="url(#c151)"/><rect x="356.02" y="243.7" width="2.29" height="200.7" fill="url(#c152)"/><rect x="358.01" y="243.7" width="2.29" height="200.7" fill="url(#c153)"/><rect x="360.00" y="243.7" width="2.29" height="200.7" fill="url(#c154)"/><rect x="362.00" y="243.7" width="2.29" height="200.7" fill="url(#c155)"/><rect x="363.99" y="243.7" width="2.29" height="200.7" fill="url(#c156)"/><rect x="365.98" y="243.7" width="2.29" height="200.7" fill="url(#c157)"/><rect x="367.98" y="243.7" width="2.29" height="200.7" fill="url(#c158)"/><rect x="369.97" y="243.7" width="2.29" height="200.7" fill="url(#c159)"/><rect x="371.96" y="243.7" width="2.29" height="200.7" fill="url(#c160)"/><rect x="373.96" y="243.7" width="2.29" height="200.7" fill="url(#c161)"/><rect x="375.95" y="243.7" width="2.29" height="200.7" fill="url(#c162)"/><rect x="377.95" y="243.7" width="2.29" height="200.7" fill="url(#c163)"/><rect x="379.94" y="243.7" width="2.29" height="200.7" fill="url(#c164)"/><rect x="381.93" y="243.7" width="2.29" height="200.7" fill="url(#c165)"/><rect x="383.93" y="243.7" width="2.29" height="200.7" fill="url(#c166)"/><rect x="385.92" y="243.7" width="2.29" height="200.7" fill="url(#c167)"/><rect x="387.91" y="243.7" width="2.29" height="200.7" fill="url(#c168)"/><rect x="389.91" y="243.7" width="2.29" height="200.7" fill="url(#c169)"/></g>
<rect x="53.0" y="243.7" width="338.9" height="200.7" fill="url(#stripe)" mask="url(#sm)"/>
<rect x="53.0" y="243.7" width="338.9" height="200.7" fill="url(#stripeL)" mask="url(#sm2)"/>
<path d="M53.0,444.4 v-1.8 M86.9,444.4 v-1.8 M120.8,444.4 v-1.8 M154.7,444.4 v-1.8 M188.6,444.4 v-1.8 M222.4,444.4 v-1.8 M256.3,444.4 v-1.8 M290.2,444.4 v-1.8 M324.1,444.4 v-1.8 M358.0,444.4 v-1.8 M391.9,444.4 v-1.8 M53.0,244.3 h1.8 M53.0,271.2 h1.8 M53.0,298.1 h1.8 M53.0,325.0 h1.8 M53.0,351.9 h1.8 M53.0,378.8 h1.8 M53.0,405.7 h1.8 M53.0,432.6 h1.8" stroke="#000" stroke-opacity=".5" stroke-width=".6" fill="none"/>
<rect x="280.55" y="239.35" width="3.8" height="209.5" fill="none" stroke="#ee1428" stroke-width="1.3"/>
<text class="d" x="50.4" y="246.9" font-size="7.2" text-anchor="end">0</text>
<text class="d" x="50.4" y="273.8" font-size="7.2" text-anchor="end">700</text>
<text class="d" x="50.4" y="300.7" font-size="7.2" text-anchor="end">1400</text>
<text class="d" x="50.4" y="327.6" font-size="7.2" text-anchor="end">2100</text>
<text class="d" x="50.4" y="354.5" font-size="7.2" text-anchor="end">2800</text>
<text class="d" x="50.4" y="381.4" font-size="7.2" text-anchor="end">3500</text>
<text class="d" x="50.4" y="408.3" font-size="7.2" text-anchor="end">4200</text>
<text class="d" x="50.4" y="435.2" font-size="7.2" text-anchor="end">4900</text>
<text class="d" x="50.4" y="447.4" font-size="7.2" text-anchor="end">5182</text>
<text class="d" transform="translate(25.4,344) rotate(-90)" font-size="8.63" text-anchor="middle">GIM reshaped cooradinates(71x73)</text>
<text class="d" transform="translate(54.9,452.2) rotate(-31)" font-size="7.15" text-anchor="end">01/01/2013</text>
<text class="d" transform="translate(88.8,452.2) rotate(-31)" font-size="7.15" text-anchor="end">03/15/2013</text>
<text class="d" transform="translate(122.7,452.2) rotate(-31)" font-size="7.15" text-anchor="end">05/27/2013</text>
<text class="d" transform="translate(156.6,452.2) rotate(-31)" font-size="7.15" text-anchor="end">08/08/2013</text>
<text class="d" transform="translate(190.5,452.2) rotate(-31)" font-size="7.15" text-anchor="end">10/20/2013</text>
<text class="d" transform="translate(224.3,452.2) rotate(-31)" font-size="7.15" text-anchor="end">01/01/2014</text>
<text class="d" transform="translate(258.2,452.2) rotate(-31)" font-size="7.15" text-anchor="end">03/15/2014</text>
<text class="d" transform="translate(292.1,452.2) rotate(-31)" font-size="7.15" text-anchor="end">05/27/2014</text>
<text class="d" transform="translate(326.0,452.2) rotate(-31)" font-size="7.15" text-anchor="end">08/08/2014</text>
<text class="d" transform="translate(359.9,452.2) rotate(-31)" font-size="7.15" text-anchor="end">10/20/2014</text>
<text class="d" transform="translate(393.8,452.2) rotate(-31)" font-size="7.15" text-anchor="end">12/31/2014</text>
<text class="d" x="222.6" y="484.3" font-size="8.73" text-anchor="middle">Snapshots (2 hours cadence)</text>
<text class="m" x="15.8" y="236.4" font-size="11.8">(C)</text>
<text class="m" x="152.2" y="238.8" font-size="12.7">General data matrix</text>
<rect x="398.1" y="243.9" width="6.4" height="200.3" fill="url(#jet)" stroke="#333" stroke-opacity=".55" stroke-width="0.5"/>
<path d="M404.5,244.3 h1.3 M404.5,294.4 h1.3 M404.5,344.5 h1.3 M404.5,394.6 h1.3 M404.5,444.7 h1.3" stroke="#000" stroke-opacity=".6" stroke-width=".6"/>
<text class="d" x="407.3" y="246.7" font-size="6.45">147.1</text>
<text class="d" x="407.3" y="296.8" font-size="6.45">110.3</text>
<text class="d" x="407.3" y="346.9" font-size="6.45">73.5</text>
<text class="d" x="407.3" y="397.0" font-size="6.45">36.8</text>
<text class="d" x="407.3" y="447.1" font-size="6.45">0.0</text>
<text class="d" transform="translate(437.2,344.2) rotate(-90)" font-size="9.2" text-anchor="middle">vTECU</text>
</svg></body></html>
